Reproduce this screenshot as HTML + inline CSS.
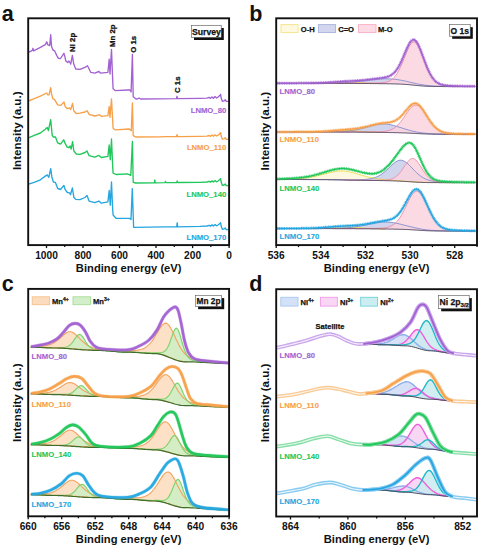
<!DOCTYPE html>
<html><head><meta charset="utf-8"><title>XPS</title>
<style>html,body{margin:0;padding:0;background:#fff;width:484px;height:550px;overflow:hidden}svg{display:block}svg text{font-family:"Liberation Sans",sans-serif}</style>
</head><body>
<svg width="484" height="550" viewBox="0 0 484 550">
<rect width="484" height="550" fill="#fff"/>
<text x="1.8" y="20.8" font-size="21.5" text-anchor="start" font-family="Liberation Sans, sans-serif" font-weight="bold" fill="#111" stroke="#111" stroke-width="0" >a</text>
<text x="249.2" y="20.6" font-size="21.5" text-anchor="start" font-family="Liberation Sans, sans-serif" font-weight="bold" fill="#111" stroke="#111" stroke-width="0" >b</text>
<text x="1.8" y="290.8" font-size="21.5" text-anchor="start" font-family="Liberation Sans, sans-serif" font-weight="bold" fill="#111" stroke="#111" stroke-width="0" >c</text>
<text x="249.2" y="290.8" font-size="21.5" text-anchor="start" font-family="Liberation Sans, sans-serif" font-weight="bold" fill="#111" stroke="#111" stroke-width="0" >d</text>
<path d="M28.5,52.3 L32.3,50.4 L33,48.3 L33.6,50.8 L40.4,47.3 L45.3,44.6 L46.8,41.8 L47.8,44.9 L49.7,45.5 L50.7,34.7 L51.5,46.1 L52.8,49.8 L54.6,50.8 L56.7,55.4 L58.4,58.3 L60.5,58.5 L63.9,53.3 L64.9,56.6 L65.8,61 L67.7,62.5 L68.9,61 L69.9,62.5 L70.7,64.1 L72.4,55.4 L73.6,63.5 L75.7,69 L80,69.4 L85,67.4 L87.5,65.8 L89.1,69 L90.7,72.3 L94.8,73.1 L98.9,71.5 L100.5,73.1 L107.9,72.3 L109.2,59.2 L110,74 L111.5,49.4 L112.5,75.6 L113.1,88.7 L115.2,90.6 L127.5,90 L130,90 L131.1,92 L132.4,54.3 L133.2,96.8 L136,99 L137.3,99 L139,98 L140.5,99 L160,98.8 L176.4,98.7 L177,96.3 L177.6,98.7 L200,98.4 L207,98.2 L209,97.4 L210.5,98.3 L212,96.9 L213.4,98.2 L215,96.6 L216.5,98 L218,97.1 L219.5,95.8 L220.6,94.4 L221.3,98.6 L222.4,101.3 L224,100.9 L225.2,99.7 L226.3,101.3 L228.5,101.3" fill="none" stroke="#a262d2" stroke-width="1.35" stroke-linejoin="round"/>
<path d="M28.5,101 L33,99.2 L40.4,96.1 L46.6,93 L47.8,94.9 L49,94.9 L50.7,87.7 L51.5,93.6 L52.8,98.6 L54.6,99.6 L57.7,104.8 L60.8,105.4 L64,102 L65.2,106.6 L67.4,108.7 L69.5,107.9 L70.7,109.5 L72.6,103.5 L73.8,111 L76.3,113.5 L80,113.2 L85,112 L87,110.7 L89.1,114.3 L94.8,116 L99.4,114.8 L101.3,116.3 L107.9,115.6 L109.2,106.5 L110,117.3 L111.5,98.8 L112.5,117.6 L113.1,128.2 L115.2,129.9 L129.1,129 L131.3,130.7 L132.4,102.9 L133.2,135.6 L135.7,137 L160,136.9 L165,136.6 L176.4,136.7 L177,134.6 L177.6,136.7 L200,136.4 L207,136.2 L209,135.5 L210.5,136.3 L212,135 L213.4,136.2 L215,134.8 L216.5,136 L218,135.2 L219.5,134 L220.6,132.6 L221.3,136.6 L222.4,139.2 L224,138.8 L225.2,137.8 L226.3,139.3 L228.5,139.3" fill="none" stroke="#f7a04a" stroke-width="1.35" stroke-linejoin="round"/>
<path d="M28.5,137.9 L34.2,135.4 L40.4,133 L45.3,129.3 L47.2,127.4 L48.4,130.5 L50.7,119.7 L52.2,135.4 L53.4,137 L55.5,137 L57.7,142.9 L60.5,144.1 L63.7,139.8 L64.9,142.9 L67,147 L68.9,147.5 L70.1,146 L71.1,149.1 L72.6,141.6 L73.8,150.9 L76.3,154 L80,154.4 L85,152.5 L87,151 L89.1,155.7 L94.8,157.2 L98.9,155.4 L101.3,157.5 L107.9,156.3 L109.2,145 L110.3,159.7 L111.5,139 L112.5,162.7 L113.1,173.2 L116,174.5 L127.5,173.9 L130.8,175.4 L132.4,141.4 L133.2,182.3 L135.7,183 L154.4,182.8 L154.8,180 L155.3,182.8 L165,182.6 L165.4,181.4 L165.9,182.6 L176.7,182.5 L177.2,181 L177.7,182.5 L200,182.3 L207,182 L209,181.3 L210.5,182.1 L212,180.9 L213.4,182 L215,180.6 L216.5,181.8 L218,181 L219.5,179.8 L220.6,178.6 L221.3,182.6 L222.4,185.4 L224,185 L225.2,184 L226.3,185.6 L228.5,185.6" fill="none" stroke="#20c75a" stroke-width="1.35" stroke-linejoin="round"/>
<path d="M28.5,184.2 L34.2,182.3 L40.4,179.8 L45.3,176.1 L47.2,174.9 L48.8,177.3 L50.7,168.7 L51.8,176.7 L53.4,182 L55.3,182.3 L57.7,188.5 L60.5,189.5 L63.9,185.4 L65.2,189.7 L67.4,192.5 L69.5,192.8 L70.5,194.7 L72.4,187.9 L73.8,197.2 L75.7,199.4 L80,199.7 L85,197.5 L87,195.4 L89.1,201.1 L94.8,202.7 L98.9,201.1 L101.3,203.2 L107.9,201.9 L109.2,190.5 L110.3,205.2 L111.5,182 L112.5,206 L113.1,215 L116,218.3 L129.8,218.4 L131,219.5 L132.3,188.6 L133.6,227.3 L150,227.2 L165,226.9 L176.7,226.8 L177.2,222.8 L177.7,226.8 L200,226.4 L207,226 L209,225.3 L210.5,226.1 L212,224.9 L213.4,226 L215,224.6 L216.5,225.8 L218,225 L219.5,223.8 L220.6,222.8 L221.3,226.6 L222.4,229.3 L224,228.9 L225.2,228 L226.3,229.6 L228.5,229.6" fill="none" stroke="#25a6e0" stroke-width="1.35" stroke-linejoin="round"/>
<text transform="translate(75.3,51.9) rotate(-90)" font-size="7.8" text-anchor="start" font-family="Liberation Sans, sans-serif" font-weight="bold" fill="#111" stroke="#111" stroke-width="0.25">Ni 2p</text>
<text transform="translate(114.5,46.9) rotate(-90)" font-size="7.8" text-anchor="start" font-family="Liberation Sans, sans-serif" font-weight="bold" fill="#111" stroke="#111" stroke-width="0.25">Mn 2p</text>
<text transform="translate(136,52.7) rotate(-90)" font-size="7.8" text-anchor="start" font-family="Liberation Sans, sans-serif" font-weight="bold" fill="#111" stroke="#111" stroke-width="0.25">O 1s</text>
<text transform="translate(180,93) rotate(-90)" font-size="7.8" text-anchor="start" font-family="Liberation Sans, sans-serif" font-weight="bold" fill="#111" stroke="#111" stroke-width="0.25">C 1s</text>
<text x="226.2" y="112.8" font-size="7.7" text-anchor="end" font-family="Liberation Sans, sans-serif" font-weight="bold" fill="#a262d2" stroke="#a262d2" stroke-width="0.1" >LNMO_80</text>
<text x="226.2" y="149.6" font-size="7.7" text-anchor="end" font-family="Liberation Sans, sans-serif" font-weight="bold" fill="#f7a04a" stroke="#f7a04a" stroke-width="0.1" >LNMO_110</text>
<text x="226.2" y="197.4" font-size="7.7" text-anchor="end" font-family="Liberation Sans, sans-serif" font-weight="bold" fill="#20c75a" stroke="#20c75a" stroke-width="0.1" >LNMO_140</text>
<text x="226.2" y="240.2" font-size="7.7" text-anchor="end" font-family="Liberation Sans, sans-serif" font-weight="bold" fill="#25a6e0" stroke="#25a6e0" stroke-width="0.1" >LNMO_170</text>
<rect x="194" y="28" width="29.8" height="12" fill="#111"/>
<rect x="191.4" y="25.4" width="29.8" height="12" fill="#fff" stroke="#555" stroke-width="0.6"/>

<text x="206.4" y="34.7" font-size="8.7" text-anchor="middle" font-family="Liberation Sans, sans-serif" font-weight="bold" fill="#111" stroke="#111" stroke-width="0.25" >Survey</text>
<rect x="28.2" y="18.3" width="200.9" height="226.8" fill="none" stroke="#111" stroke-width="1.9"/>
<line x1="46.5" y1="245.1" x2="46.5" y2="248.1" stroke="#111" stroke-width="1.3"/>
<line x1="83" y1="245.1" x2="83" y2="248.1" stroke="#111" stroke-width="1.3"/>
<line x1="119.5" y1="245.1" x2="119.5" y2="248.1" stroke="#111" stroke-width="1.3"/>
<line x1="156" y1="245.1" x2="156" y2="248.1" stroke="#111" stroke-width="1.3"/>
<line x1="192.6" y1="245.1" x2="192.6" y2="248.1" stroke="#111" stroke-width="1.3"/>
<line x1="229.1" y1="245.1" x2="229.1" y2="248.1" stroke="#111" stroke-width="1.3"/>
<line x1="64.7" y1="245.1" x2="64.7" y2="247.1" stroke="#111" stroke-width="1.3"/>
<line x1="101.3" y1="245.1" x2="101.3" y2="247.1" stroke="#111" stroke-width="1.3"/>
<line x1="137.8" y1="245.1" x2="137.8" y2="247.1" stroke="#111" stroke-width="1.3"/>
<line x1="174.3" y1="245.1" x2="174.3" y2="247.1" stroke="#111" stroke-width="1.3"/>
<line x1="210.8" y1="245.1" x2="210.8" y2="247.1" stroke="#111" stroke-width="1.3"/>
<text x="46.5" y="258.7" font-size="10.2" text-anchor="middle" font-family="Liberation Sans, sans-serif" font-weight="bold" fill="#111">1000</text>
<text x="83" y="258.7" font-size="10.2" text-anchor="middle" font-family="Liberation Sans, sans-serif" font-weight="bold" fill="#111">800</text>
<text x="119.5" y="258.7" font-size="10.2" text-anchor="middle" font-family="Liberation Sans, sans-serif" font-weight="bold" fill="#111">600</text>
<text x="156" y="258.7" font-size="10.2" text-anchor="middle" font-family="Liberation Sans, sans-serif" font-weight="bold" fill="#111">400</text>
<text x="192.6" y="258.7" font-size="10.2" text-anchor="middle" font-family="Liberation Sans, sans-serif" font-weight="bold" fill="#111">200</text>
<text x="229.1" y="258.7" font-size="10.2" text-anchor="middle" font-family="Liberation Sans, sans-serif" font-weight="bold" fill="#111">0</text>
<text x="128.7" y="272.1" font-size="11.2" text-anchor="middle" font-family="Liberation Sans, sans-serif" font-weight="bold" fill="#111" stroke="#111" stroke-width="0" >Binding energy (eV)</text>
<text transform="translate(20.8,130.8) rotate(-90)" font-size="11.6" text-anchor="middle" font-family="Liberation Sans, sans-serif" font-weight="bold" fill="#111" stroke="#111" stroke-width="0">Intensity (a.u.)</text>
<path d="M310,83.2 L311,83.2 L312,83.2 L313,83.2 L314,83.2 L315,83.2 L316,83.2 L317,83.1 L318,83.1 L319,83.1 L320,83.1 L321,83 L322,83 L323,83 L324,82.9 L325,82.9 L326,82.9 L327,82.8 L328,82.8 L329,82.7 L330,82.7 L331,82.6 L332,82.6 L333,82.5 L334,82.5 L335,82.4 L336,82.4 L337,82.4 L338,82.3 L339,82.3 L340,82.2 L341,82.2 L342,82.2 L343,82.2 L344,82.2 L345,82.2 L346,82.2 L347,82.2 L348,82.2 L349,82.3 L350,82.3 L351,82.3 L352,82.4 L353,82.4 L354,82.5 L355,82.5 L356,82.6 L357,82.7 L358,82.7 L359,82.8 L360,82.8 L361,82.9 L362,82.9 L363,83 L364,83 L365,83.1 L366,83.1 L367,83.2 L368,83.2 L369,83.3 L370,83.3 L371,83.3 L372,83.4 L373,83.4 L374,83.4 L375,83.5 L376,83.5 L377,83.5 L378,83.5 L379,83.6 L380,83.6 L380,83.7 L379,83.7 L378,83.6 L377,83.6 L376,83.6 L375,83.6 L374,83.6 L373,83.6 L372,83.6 L371,83.6 L370,83.6 L369,83.5 L368,83.5 L367,83.5 L366,83.5 L365,83.5 L364,83.5 L363,83.5 L362,83.5 L361,83.5 L360,83.5 L359,83.5 L358,83.5 L357,83.5 L356,83.4 L355,83.4 L354,83.4 L353,83.4 L352,83.4 L351,83.4 L350,83.4 L349,83.4 L348,83.4 L347,83.4 L346,83.4 L345,83.4 L344,83.4 L343,83.4 L342,83.4 L341,83.4 L340,83.4 L339,83.4 L338,83.4 L337,83.4 L336,83.4 L335,83.3 L334,83.3 L333,83.3 L332,83.3 L331,83.3 L330,83.3 L329,83.3 L328,83.3 L327,83.3 L326,83.3 L325,83.3 L324,83.3 L323,83.3 L322,83.3 L321,83.3 L320,83.3 L319,83.3 L318,83.3 L317,83.3 L316,83.3 L315,83.3 L314,83.3 L313,83.3 L312,83.3 L311,83.3 L310,83.3 Z" fill="#fdf8dc" fill-opacity="0.85" stroke="none"/>
<path d="M304,83.2 L305,83.2 L306,83.2 L307,83.2 L308,83.2 L309,83.2 L310,83.2 L311,83.2 L312,83.2 L313,83.2 L314,83.2 L315,83.2 L316,83.2 L317,83.2 L318,83.2 L319,83.2 L320,83.2 L321,83.2 L322,83.2 L323,83.2 L324,83.2 L325,83.2 L326,83.1 L327,83.1 L328,83.1 L329,83.1 L330,83.1 L331,83.1 L332,83.1 L333,83.1 L334,83 L335,83 L336,83 L337,83 L338,82.9 L339,82.9 L340,82.9 L341,82.8 L342,82.8 L343,82.8 L344,82.7 L345,82.7 L346,82.6 L347,82.5 L348,82.5 L349,82.4 L350,82.3 L351,82.3 L352,82.2 L353,82.1 L354,82 L355,81.9 L356,81.8 L357,81.7 L358,81.6 L359,81.5 L360,81.4 L361,81.2 L362,81.1 L363,81 L364,80.9 L365,80.7 L366,80.6 L367,80.5 L368,80.3 L369,80.2 L370,80.1 L371,79.9 L372,79.8 L373,79.7 L374,79.6 L375,79.4 L376,79.3 L377,79.2 L378,79.1 L379,79 L380,79 L381,78.9 L382,78.8 L383,78.8 L384,78.8 L385,78.8 L386,78.8 L387,78.8 L388,78.8 L389,78.8 L390,78.9 L391,78.9 L392,79 L393,79.1 L394,79.2 L395,79.3 L396,79.4 L397,79.6 L398,79.7 L399,79.9 L400,80.1 L401,80.2 L402,80.4 L403,80.6 L404,80.8 L405,81 L406,81.2 L407,81.5 L408,81.7 L409,81.9 L410,82.2 L411,82.4 L412,82.6 L413,82.9 L414,83.1 L415,83.3 L416,83.5 L417,83.8 L418,84 L419,84.2 L420,84.4 L421,84.5 L422,84.7 L423,84.9 L424,85 L425,85.2 L426,85.3 L427,85.4 L428,85.5 L429,85.6 L430,85.7 L431,85.8 L432,85.9 L433,85.9 L434,86 L435,86 L436,86.1 L437,86.1 L438,86.2 L439,86.2 L440,86.2 L441,86.3 L442,86.3 L443,86.3 L444,86.3 L445,86.3 L446,86.4 L447,86.4 L448,86.4 L449,86.4 L450,86.4 L451,86.4 L452,86.4 L453,86.4 L454,86.4 L455,86.5 L456,86.5 L457,86.5 L458,86.5 L459,86.5 L460,86.5 L461,86.5 L462,86.5 L463,86.5 L464,86.5 L465,86.5 L466,86.5 L467,86.5 L468,86.5 L469,86.5 L470,86.5 L470,86.6 L469,86.6 L468,86.6 L467,86.6 L466,86.6 L465,86.6 L464,86.6 L463,86.6 L462,86.6 L461,86.6 L460,86.6 L459,86.6 L458,86.6 L457,86.6 L456,86.6 L455,86.6 L454,86.6 L453,86.6 L452,86.6 L451,86.6 L450,86.6 L449,86.6 L448,86.6 L447,86.6 L446,86.6 L445,86.6 L444,86.6 L443,86.6 L442,86.5 L441,86.5 L440,86.5 L439,86.5 L438,86.5 L437,86.5 L436,86.5 L435,86.5 L434,86.5 L433,86.5 L432,86.4 L431,86.4 L430,86.4 L429,86.3 L428,86.3 L427,86.3 L426,86.2 L425,86.2 L424,86.1 L423,86 L422,86 L421,85.9 L420,85.8 L419,85.7 L418,85.6 L417,85.5 L416,85.4 L415,85.3 L414,85.2 L413,85.1 L412,85 L411,84.9 L410,84.8 L409,84.7 L408,84.6 L407,84.5 L406,84.4 L405,84.4 L404,84.3 L403,84.2 L402,84.2 L401,84.1 L400,84.1 L399,84.1 L398,84 L397,84 L396,83.9 L395,83.9 L394,83.9 L393,83.9 L392,83.8 L391,83.8 L390,83.8 L389,83.8 L388,83.8 L387,83.8 L386,83.7 L385,83.7 L384,83.7 L383,83.7 L382,83.7 L381,83.7 L380,83.7 L379,83.7 L378,83.6 L377,83.6 L376,83.6 L375,83.6 L374,83.6 L373,83.6 L372,83.6 L371,83.6 L370,83.6 L369,83.5 L368,83.5 L367,83.5 L366,83.5 L365,83.5 L364,83.5 L363,83.5 L362,83.5 L361,83.5 L360,83.5 L359,83.5 L358,83.5 L357,83.5 L356,83.4 L355,83.4 L354,83.4 L353,83.4 L352,83.4 L351,83.4 L350,83.4 L349,83.4 L348,83.4 L347,83.4 L346,83.4 L345,83.4 L344,83.4 L343,83.4 L342,83.4 L341,83.4 L340,83.4 L339,83.4 L338,83.4 L337,83.4 L336,83.4 L335,83.3 L334,83.3 L333,83.3 L332,83.3 L331,83.3 L330,83.3 L329,83.3 L328,83.3 L327,83.3 L326,83.3 L325,83.3 L324,83.3 L323,83.3 L322,83.3 L321,83.3 L320,83.3 L319,83.3 L318,83.3 L317,83.3 L316,83.3 L315,83.3 L314,83.3 L313,83.3 L312,83.3 L311,83.3 L310,83.3 L309,83.3 L308,83.3 L307,83.3 L306,83.3 L305,83.3 L304,83.3 Z" fill="#c8cde9" fill-opacity="0.85" stroke="none"/>
<path d="M310,83.2 L311,83.2 L312,83.2 L313,83.2 L314,83.2 L315,83.2 L316,83.2 L317,83.2 L318,83.2 L319,83.2 L320,83.2 L321,83.2 L322,83.2 L323,83.2 L324,83.2 L325,83.2 L326,83.2 L327,83.2 L328,83.2 L329,83.2 L330,83.2 L331,83.2 L332,83.2 L333,83.2 L334,83.2 L335,83.2 L336,83.2 L337,83.2 L338,83.2 L339,83.2 L340,83.2 L341,83.2 L342,83.2 L343,83.2 L344,83.2 L345,83.2 L346,83.2 L347,83.2 L348,83.2 L349,83.2 L350,83.2 L351,83.2 L352,83.2 L353,83.2 L354,83.2 L355,83.2 L356,83.2 L357,83.2 L358,83.2 L359,83.2 L360,83.2 L361,83.2 L362,83.2 L363,83.2 L364,83.2 L365,83.2 L366,83.2 L367,83.2 L368,83.1 L369,83.1 L370,83.1 L371,83.1 L372,83.1 L373,83.1 L374,83.1 L375,83.1 L376,83 L377,83 L378,83 L379,82.9 L380,82.9 L381,82.8 L382,82.7 L383,82.6 L384,82.5 L385,82.4 L386,82.1 L387,81.9 L388,81.6 L389,81.2 L390,80.7 L391,80.1 L392,79.4 L393,78.6 L394,77.6 L395,76.4 L396,75.1 L397,73.6 L398,71.9 L399,70.1 L400,68 L401,65.8 L402,63.5 L403,61.1 L404,58.6 L405,56.1 L406,53.6 L407,51.2 L408,48.9 L409,46.9 L410,45.1 L411,43.7 L412,42.6 L413,42 L414,41.9 L415,42.2 L416,43 L417,44.3 L418,45.9 L419,47.9 L420,50.1 L421,52.5 L422,55.1 L423,57.7 L424,60.4 L425,63 L426,65.5 L427,68 L428,70.3 L429,72.4 L430,74.3 L431,76 L432,77.6 L433,79 L434,80.1 L435,81.2 L436,82 L437,82.8 L438,83.4 L439,83.9 L440,84.3 L441,84.7 L442,84.9 L443,85.2 L444,85.4 L445,85.5 L446,85.6 L447,85.7 L448,85.8 L449,85.9 L450,85.9 L451,86 L452,86 L453,86 L454,86.1 L455,86.1 L456,86.1 L457,86.1 L458,86.2 L459,86.2 L460,86.2 L461,86.2 L462,86.2 L463,86.2 L464,86.3 L465,86.3 L466,86.3 L467,86.3 L468,86.3 L469,86.3 L470,86.3 L471,86.3 L472,86.3 L473,86.4 L474,86.4 L475,86.4 L476,86.4 L476,86.6 L475,86.6 L474,86.6 L473,86.6 L472,86.6 L471,86.6 L470,86.6 L469,86.6 L468,86.6 L467,86.6 L466,86.6 L465,86.6 L464,86.6 L463,86.6 L462,86.6 L461,86.6 L460,86.6 L459,86.6 L458,86.6 L457,86.6 L456,86.6 L455,86.6 L454,86.6 L453,86.6 L452,86.6 L451,86.6 L450,86.6 L449,86.6 L448,86.6 L447,86.6 L446,86.6 L445,86.6 L444,86.6 L443,86.6 L442,86.5 L441,86.5 L440,86.5 L439,86.5 L438,86.5 L437,86.5 L436,86.5 L435,86.5 L434,86.5 L433,86.5 L432,86.4 L431,86.4 L430,86.4 L429,86.3 L428,86.3 L427,86.3 L426,86.2 L425,86.2 L424,86.1 L423,86 L422,86 L421,85.9 L420,85.8 L419,85.7 L418,85.6 L417,85.5 L416,85.4 L415,85.3 L414,85.2 L413,85.1 L412,85 L411,84.9 L410,84.8 L409,84.7 L408,84.6 L407,84.5 L406,84.4 L405,84.4 L404,84.3 L403,84.2 L402,84.2 L401,84.1 L400,84.1 L399,84.1 L398,84 L397,84 L396,83.9 L395,83.9 L394,83.9 L393,83.9 L392,83.8 L391,83.8 L390,83.8 L389,83.8 L388,83.8 L387,83.8 L386,83.7 L385,83.7 L384,83.7 L383,83.7 L382,83.7 L381,83.7 L380,83.7 L379,83.7 L378,83.6 L377,83.6 L376,83.6 L375,83.6 L374,83.6 L373,83.6 L372,83.6 L371,83.6 L370,83.6 L369,83.5 L368,83.5 L367,83.5 L366,83.5 L365,83.5 L364,83.5 L363,83.5 L362,83.5 L361,83.5 L360,83.5 L359,83.5 L358,83.5 L357,83.5 L356,83.4 L355,83.4 L354,83.4 L353,83.4 L352,83.4 L351,83.4 L350,83.4 L349,83.4 L348,83.4 L347,83.4 L346,83.4 L345,83.4 L344,83.4 L343,83.4 L342,83.4 L341,83.4 L340,83.4 L339,83.4 L338,83.4 L337,83.4 L336,83.4 L335,83.3 L334,83.3 L333,83.3 L332,83.3 L331,83.3 L330,83.3 L329,83.3 L328,83.3 L327,83.3 L326,83.3 L325,83.3 L324,83.3 L323,83.3 L322,83.3 L321,83.3 L320,83.3 L319,83.3 L318,83.3 L317,83.3 L316,83.3 L315,83.3 L314,83.3 L313,83.3 L312,83.3 L311,83.3 L310,83.3 Z" fill="#fbd3df" fill-opacity="0.85" stroke="none"/>
<path d="M310,83.2 L311,83.2 L312,83.2 L313,83.2 L314,83.2 L315,83.2 L316,83.2 L317,83.1 L318,83.1 L319,83.1 L320,83.1 L321,83 L322,83 L323,83 L324,82.9 L325,82.9 L326,82.9 L327,82.8 L328,82.8 L329,82.7 L330,82.7 L331,82.6 L332,82.6 L333,82.5 L334,82.5 L335,82.4 L336,82.4 L337,82.4 L338,82.3 L339,82.3 L340,82.2 L341,82.2 L342,82.2 L343,82.2 L344,82.2 L345,82.2 L346,82.2 L347,82.2 L348,82.2 L349,82.3 L350,82.3 L351,82.3 L352,82.4 L353,82.4 L354,82.5 L355,82.5 L356,82.6 L357,82.7 L358,82.7 L359,82.8 L360,82.8 L361,82.9 L362,82.9 L363,83 L364,83 L365,83.1 L366,83.1 L367,83.2 L368,83.2 L369,83.3 L370,83.3 L371,83.3 L372,83.4 L373,83.4 L374,83.4 L375,83.5 L376,83.5 L377,83.5 L378,83.5 L379,83.6 L380,83.6" fill="none" stroke="#ecd83a" stroke-width="0.9"/>
<path d="M304,83.2 L305,83.2 L306,83.2 L307,83.2 L308,83.2 L309,83.2 L310,83.2 L311,83.2 L312,83.2 L313,83.2 L314,83.2 L315,83.2 L316,83.2 L317,83.2 L318,83.2 L319,83.2 L320,83.2 L321,83.2 L322,83.2 L323,83.2 L324,83.2 L325,83.2 L326,83.1 L327,83.1 L328,83.1 L329,83.1 L330,83.1 L331,83.1 L332,83.1 L333,83.1 L334,83 L335,83 L336,83 L337,83 L338,82.9 L339,82.9 L340,82.9 L341,82.8 L342,82.8 L343,82.8 L344,82.7 L345,82.7 L346,82.6 L347,82.5 L348,82.5 L349,82.4 L350,82.3 L351,82.3 L352,82.2 L353,82.1 L354,82 L355,81.9 L356,81.8 L357,81.7 L358,81.6 L359,81.5 L360,81.4 L361,81.2 L362,81.1 L363,81 L364,80.9 L365,80.7 L366,80.6 L367,80.5 L368,80.3 L369,80.2 L370,80.1 L371,79.9 L372,79.8 L373,79.7 L374,79.6 L375,79.4 L376,79.3 L377,79.2 L378,79.1 L379,79 L380,79 L381,78.9 L382,78.8 L383,78.8 L384,78.8 L385,78.8 L386,78.8 L387,78.8 L388,78.8 L389,78.8 L390,78.9 L391,78.9 L392,79 L393,79.1 L394,79.2 L395,79.3 L396,79.4 L397,79.6 L398,79.7 L399,79.9 L400,80.1 L401,80.2 L402,80.4 L403,80.6 L404,80.8 L405,81 L406,81.2 L407,81.5 L408,81.7 L409,81.9 L410,82.2 L411,82.4 L412,82.6 L413,82.9 L414,83.1 L415,83.3 L416,83.5 L417,83.8 L418,84 L419,84.2 L420,84.4 L421,84.5 L422,84.7 L423,84.9 L424,85 L425,85.2 L426,85.3 L427,85.4 L428,85.5 L429,85.6 L430,85.7 L431,85.8 L432,85.9 L433,85.9 L434,86 L435,86 L436,86.1 L437,86.1 L438,86.2 L439,86.2 L440,86.2 L441,86.3 L442,86.3 L443,86.3 L444,86.3 L445,86.3 L446,86.4 L447,86.4 L448,86.4 L449,86.4 L450,86.4 L451,86.4 L452,86.4 L453,86.4 L454,86.4 L455,86.5 L456,86.5 L457,86.5 L458,86.5 L459,86.5 L460,86.5 L461,86.5 L462,86.5 L463,86.5 L464,86.5 L465,86.5 L466,86.5 L467,86.5 L468,86.5 L469,86.5 L470,86.5" fill="none" stroke="#8490d0" stroke-width="0.9"/>
<path d="M310,83.2 L311,83.2 L312,83.2 L313,83.2 L314,83.2 L315,83.2 L316,83.2 L317,83.2 L318,83.2 L319,83.2 L320,83.2 L321,83.2 L322,83.2 L323,83.2 L324,83.2 L325,83.2 L326,83.2 L327,83.2 L328,83.2 L329,83.2 L330,83.2 L331,83.2 L332,83.2 L333,83.2 L334,83.2 L335,83.2 L336,83.2 L337,83.2 L338,83.2 L339,83.2 L340,83.2 L341,83.2 L342,83.2 L343,83.2 L344,83.2 L345,83.2 L346,83.2 L347,83.2 L348,83.2 L349,83.2 L350,83.2 L351,83.2 L352,83.2 L353,83.2 L354,83.2 L355,83.2 L356,83.2 L357,83.2 L358,83.2 L359,83.2 L360,83.2 L361,83.2 L362,83.2 L363,83.2 L364,83.2 L365,83.2 L366,83.2 L367,83.2 L368,83.1 L369,83.1 L370,83.1 L371,83.1 L372,83.1 L373,83.1 L374,83.1 L375,83.1 L376,83 L377,83 L378,83 L379,82.9 L380,82.9 L381,82.8 L382,82.7 L383,82.6 L384,82.5 L385,82.4 L386,82.1 L387,81.9 L388,81.6 L389,81.2 L390,80.7 L391,80.1 L392,79.4 L393,78.6 L394,77.6 L395,76.4 L396,75.1 L397,73.6 L398,71.9 L399,70.1 L400,68 L401,65.8 L402,63.5 L403,61.1 L404,58.6 L405,56.1 L406,53.6 L407,51.2 L408,48.9 L409,46.9 L410,45.1 L411,43.7 L412,42.6 L413,42 L414,41.9 L415,42.2 L416,43 L417,44.3 L418,45.9 L419,47.9 L420,50.1 L421,52.5 L422,55.1 L423,57.7 L424,60.4 L425,63 L426,65.5 L427,68 L428,70.3 L429,72.4 L430,74.3 L431,76 L432,77.6 L433,79 L434,80.1 L435,81.2 L436,82 L437,82.8 L438,83.4 L439,83.9 L440,84.3 L441,84.7 L442,84.9 L443,85.2 L444,85.4 L445,85.5 L446,85.6 L447,85.7 L448,85.8 L449,85.9 L450,85.9 L451,86 L452,86 L453,86 L454,86.1 L455,86.1 L456,86.1 L457,86.1 L458,86.2 L459,86.2 L460,86.2 L461,86.2 L462,86.2 L463,86.2 L464,86.3 L465,86.3 L466,86.3 L467,86.3 L468,86.3 L469,86.3 L470,86.3 L471,86.3 L472,86.3 L473,86.4 L474,86.4 L475,86.4 L476,86.4" fill="none" stroke="#f08aa8" stroke-width="0.9"/>
<path d="M277.2,83.3 L278.2,83.3 L279.2,83.3 L280.2,83.3 L281.2,83.3 L282.2,83.3 L283.2,83.3 L284.2,83.3 L285.2,83.3 L286.2,83.3 L287.2,83.3 L288.2,83.3 L289.2,83.3 L290.2,83.3 L291.2,83.3 L292.2,83.3 L293.2,83.3 L294.2,83.3 L295.2,83.3 L296.2,83.3 L297.2,83.3 L298.2,83.3 L299.2,83.3 L300.2,83.3 L301.2,83.3 L302.2,83.3 L303.2,83.3 L304.2,83.3 L305.2,83.3 L306.2,83.3 L307.2,83.3 L308.2,83.3 L309.2,83.3 L310.2,83.3 L311.2,83.3 L312.2,83.3 L313.2,83.3 L314.2,83.3 L315.2,83.3 L316.2,83.3 L317.2,83.3 L318.2,83.3 L319.2,83.3 L320.2,83.3 L321.2,83.3 L322.2,83.3 L323.2,83.3 L324.2,83.3 L325.2,83.3 L326.2,83.3 L327.2,83.3 L328.2,83.3 L329.2,83.3 L330.2,83.3 L331.2,83.3 L332.2,83.3 L333.2,83.3 L334.2,83.3 L335.2,83.3 L336.2,83.4 L337.2,83.4 L338.2,83.4 L339.2,83.4 L340.2,83.4 L341.2,83.4 L342.2,83.4 L343.2,83.4 L344.2,83.4 L345.2,83.4 L346.2,83.4 L347.2,83.4 L348.2,83.4 L349.2,83.4 L350.2,83.4 L351.2,83.4 L352.2,83.4 L353.2,83.4 L354.2,83.4 L355.2,83.4 L356.2,83.4 L357.2,83.5 L358.2,83.5 L359.2,83.5 L360.2,83.5 L361.2,83.5 L362.2,83.5 L363.2,83.5 L364.2,83.5 L365.2,83.5 L366.2,83.5 L367.2,83.5 L368.2,83.5 L369.2,83.5 L370.2,83.6 L371.2,83.6 L372.2,83.6 L373.2,83.6 L374.2,83.6 L375.2,83.6 L376.2,83.6 L377.2,83.6 L378.2,83.6 L379.2,83.7 L380.2,83.7 L381.2,83.7 L382.2,83.7 L383.2,83.7 L384.2,83.7 L385.2,83.7 L386.2,83.7 L387.2,83.8 L388.2,83.8 L389.2,83.8 L390.2,83.8 L391.2,83.8 L392.2,83.9 L393.2,83.9 L394.2,83.9 L395.2,83.9 L396.2,84 L397.2,84 L398.2,84 L399.2,84.1 L400.2,84.1 L401.2,84.1 L402.2,84.2 L403.2,84.3 L404.2,84.3 L405.2,84.4 L406.2,84.5 L407.2,84.5 L408.2,84.6 L409.2,84.7 L410.2,84.8 L411.2,84.9 L412.2,85 L413.2,85.1 L414.2,85.2 L415.2,85.3 L416.2,85.4 L417.2,85.5 L418.2,85.6 L419.2,85.7 L420.2,85.8 L421.2,85.9 L422.2,86 L423.2,86 L424.2,86.1 L425.2,86.2 L426.2,86.2 L427.2,86.3 L428.2,86.3 L429.2,86.4 L430.2,86.4 L431.2,86.4 L432.2,86.4 L433.2,86.5 L434.2,86.5 L435.2,86.5 L436.2,86.5 L437.2,86.5 L438.2,86.5 L439.2,86.5 L440.2,86.5 L441.2,86.5 L442.2,86.5 L443.2,86.6 L444.2,86.6 L445.2,86.6 L446.2,86.6 L447.2,86.6 L448.2,86.6 L449.2,86.6 L450.2,86.6 L451.2,86.6 L452.2,86.6 L453.2,86.6 L454.2,86.6 L455.2,86.6 L456.2,86.6 L457.2,86.6 L458.2,86.6 L459.2,86.6 L460.2,86.6 L461.2,86.6 L462.2,86.6 L463.2,86.6 L464.2,86.6 L465.2,86.6 L466.2,86.6 L467.2,86.6 L468.2,86.6 L469.2,86.6 L470.2,86.6 L471.2,86.6 L472.2,86.6 L473.2,86.6 L474.2,86.6 L475.2,86.6" fill="none" stroke="#5a4d68" stroke-width="1.0"/>
<path d="M277.2,83.2 L278.2,83.2 L279.2,83.2 L280.2,83.2 L281.2,83.2 L282.2,83.2 L283.2,83.2 L284.2,83.2 L285.2,83.2 L286.2,83.2 L287.2,83.2 L288.2,83.2 L289.2,83.2 L290.2,83.2 L291.2,83.2 L292.2,83.2 L293.2,83.2 L294.2,83.2 L295.2,83.2 L296.2,83.2 L297.2,83.1 L298.2,83.1 L299.2,83.1 L300.2,83.1 L301.2,83.1 L302.2,83.1 L303.2,83.1 L304.2,83.1 L305.2,83.1 L306.2,83.1 L307.2,83.1 L308.2,83.1 L309.2,83.1 L310.2,83.1 L311.2,83 L312.2,83 L313.2,83 L314.2,83 L315.2,83 L316.2,83 L317.2,82.9 L318.2,82.9 L319.2,82.9 L320.2,82.8 L321.2,82.8 L322.2,82.8 L323.2,82.7 L324.2,82.7 L325.2,82.6 L326.2,82.6 L327.2,82.5 L328.2,82.4 L329.2,82.4 L330.2,82.3 L331.2,82.3 L332.2,82.2 L333.2,82.1 L334.2,82 L335.2,82 L336.2,81.9 L337.2,81.8 L338.2,81.7 L339.2,81.7 L340.2,81.6 L341.2,81.5 L342.2,81.5 L343.2,81.4 L344.2,81.3 L345.2,81.3 L346.2,81.2 L347.2,81.2 L348.2,81.1 L349.2,81.1 L350.2,81 L351.2,81 L352.2,80.9 L353.2,80.9 L354.2,80.8 L355.2,80.8 L356.2,80.7 L357.2,80.6 L358.2,80.6 L359.2,80.5 L360.2,80.4 L361.2,80.3 L362.2,80.2 L363.2,80.2 L364.2,80.1 L365.2,79.9 L366.2,79.8 L367.2,79.7 L368.2,79.6 L369.2,79.5 L370.2,79.4 L371.2,79.2 L372.2,79.1 L373.2,79 L374.2,78.9 L375.2,78.7 L376.2,78.6 L377.2,78.5 L378.2,78.4 L379.2,78.2 L380.2,78.1 L381.2,78 L382.2,77.8 L383.2,77.7 L384.2,77.5 L385.2,77.3 L386.2,77.1 L387.2,76.8 L388.2,76.5 L389.2,76.1 L390.2,75.6 L391.2,75.1 L392.2,74.4 L393.2,73.6 L394.2,72.7 L395.2,71.6 L396.2,70.3 L397.2,68.9 L398.2,67.3 L399.2,65.5 L400.2,63.6 L401.2,61.5 L402.2,59.3 L403.2,57 L404.2,54.6 L405.2,52.2 L406.2,49.9 L407.2,47.7 L408.2,45.6 L409.2,43.7 L410.2,42.2 L411.2,40.9 L412.2,40.1 L413.2,39.7 L414.2,39.8 L415.2,40.4 L416.2,41.4 L417.2,42.8 L418.2,44.6 L419.2,46.8 L420.2,49.1 L421.2,51.7 L422.2,54.4 L423.2,57.1 L424.2,59.8 L425.2,62.5 L426.2,65.1 L427.2,67.6 L428.2,69.9 L429.2,72 L430.2,74 L431.2,75.7 L432.2,77.3 L433.2,78.7 L434.2,79.9 L435.2,80.9 L436.2,81.8 L437.2,82.5 L438.2,83.2 L439.2,83.7 L440.2,84.1 L441.2,84.4 L442.2,84.7 L443.2,85 L444.2,85.2 L445.2,85.3 L446.2,85.4 L447.2,85.5 L448.2,85.6 L449.2,85.7 L450.2,85.8 L451.2,85.8 L452.2,85.9 L453.2,85.9 L454.2,85.9 L455.2,86 L456.2,86 L457.2,86 L458.2,86 L459.2,86.1 L460.2,86.1 L461.2,86.1 L462.2,86.1 L463.2,86.1 L464.2,86.2 L465.2,86.2 L466.2,86.2 L467.2,86.2 L468.2,86.2 L469.2,86.2 L470.2,86.2 L471.2,86.3 L472.2,86.3 L473.2,86.3 L474.2,86.3 L475.2,86.3" fill="none" stroke="#a262d2" stroke-width="3" stroke-dasharray="1.1 0.6" stroke-opacity="0.75"/>
<path d="M277.2,83.2 L278.2,83.2 L279.2,83.2 L280.2,83.2 L281.2,83.2 L282.2,83.2 L283.2,83.2 L284.2,83.2 L285.2,83.2 L286.2,83.2 L287.2,83.2 L288.2,83.2 L289.2,83.2 L290.2,83.2 L291.2,83.2 L292.2,83.2 L293.2,83.2 L294.2,83.2 L295.2,83.2 L296.2,83.2 L297.2,83.1 L298.2,83.1 L299.2,83.1 L300.2,83.1 L301.2,83.1 L302.2,83.1 L303.2,83.1 L304.2,83.1 L305.2,83.1 L306.2,83.1 L307.2,83.1 L308.2,83.1 L309.2,83.1 L310.2,83.1 L311.2,83 L312.2,83 L313.2,83 L314.2,83 L315.2,83 L316.2,83 L317.2,82.9 L318.2,82.9 L319.2,82.9 L320.2,82.8 L321.2,82.8 L322.2,82.8 L323.2,82.7 L324.2,82.7 L325.2,82.6 L326.2,82.6 L327.2,82.5 L328.2,82.4 L329.2,82.4 L330.2,82.3 L331.2,82.3 L332.2,82.2 L333.2,82.1 L334.2,82 L335.2,82 L336.2,81.9 L337.2,81.8 L338.2,81.7 L339.2,81.7 L340.2,81.6 L341.2,81.5 L342.2,81.5 L343.2,81.4 L344.2,81.3 L345.2,81.3 L346.2,81.2 L347.2,81.2 L348.2,81.1 L349.2,81.1 L350.2,81 L351.2,81 L352.2,80.9 L353.2,80.9 L354.2,80.8 L355.2,80.8 L356.2,80.7 L357.2,80.6 L358.2,80.6 L359.2,80.5 L360.2,80.4 L361.2,80.3 L362.2,80.2 L363.2,80.2 L364.2,80.1 L365.2,79.9 L366.2,79.8 L367.2,79.7 L368.2,79.6 L369.2,79.5 L370.2,79.4 L371.2,79.2 L372.2,79.1 L373.2,79 L374.2,78.9 L375.2,78.7 L376.2,78.6 L377.2,78.5 L378.2,78.4 L379.2,78.2 L380.2,78.1 L381.2,78 L382.2,77.8 L383.2,77.7 L384.2,77.5 L385.2,77.3 L386.2,77.1 L387.2,76.8 L388.2,76.5 L389.2,76.1 L390.2,75.6 L391.2,75.1 L392.2,74.4 L393.2,73.6 L394.2,72.7 L395.2,71.6 L396.2,70.3 L397.2,68.9 L398.2,67.3 L399.2,65.5 L400.2,63.6 L401.2,61.5 L402.2,59.3 L403.2,57 L404.2,54.6 L405.2,52.2 L406.2,49.9 L407.2,47.7 L408.2,45.6 L409.2,43.7 L410.2,42.2 L411.2,40.9 L412.2,40.1 L413.2,39.7 L414.2,39.8 L415.2,40.4 L416.2,41.4 L417.2,42.8 L418.2,44.6 L419.2,46.8 L420.2,49.1 L421.2,51.7 L422.2,54.4 L423.2,57.1 L424.2,59.8 L425.2,62.5 L426.2,65.1 L427.2,67.6 L428.2,69.9 L429.2,72 L430.2,74 L431.2,75.7 L432.2,77.3 L433.2,78.7 L434.2,79.9 L435.2,80.9 L436.2,81.8 L437.2,82.5 L438.2,83.2 L439.2,83.7 L440.2,84.1 L441.2,84.4 L442.2,84.7 L443.2,85 L444.2,85.2 L445.2,85.3 L446.2,85.4 L447.2,85.5 L448.2,85.6 L449.2,85.7 L450.2,85.8 L451.2,85.8 L452.2,85.9 L453.2,85.9 L454.2,85.9 L455.2,86 L456.2,86 L457.2,86 L458.2,86 L459.2,86.1 L460.2,86.1 L461.2,86.1 L462.2,86.1 L463.2,86.1 L464.2,86.2 L465.2,86.2 L466.2,86.2 L467.2,86.2 L468.2,86.2 L469.2,86.2 L470.2,86.2 L471.2,86.3 L472.2,86.3 L473.2,86.3 L474.2,86.3 L475.2,86.3" fill="none" stroke="#a262d2" stroke-width="1.4"/>
<path d="M308,131.9 L309,131.9 L310,131.9 L311,131.9 L312,131.9 L313,131.9 L314,131.9 L315,131.8 L316,131.8 L317,131.8 L318,131.8 L319,131.7 L320,131.7 L321,131.7 L322,131.6 L323,131.6 L324,131.5 L325,131.5 L326,131.4 L327,131.4 L328,131.3 L329,131.3 L330,131.2 L331,131.2 L332,131.1 L333,131 L334,131 L335,130.9 L336,130.9 L337,130.8 L338,130.7 L339,130.7 L340,130.7 L341,130.6 L342,130.6 L343,130.6 L344,130.6 L345,130.6 L346,130.6 L347,130.6 L348,130.6 L349,130.7 L350,130.7 L351,130.8 L352,130.8 L353,130.9 L354,130.9 L355,131 L356,131.1 L357,131.1 L358,131.2 L359,131.3 L360,131.4 L361,131.4 L362,131.5 L363,131.6 L364,131.6 L365,131.7 L366,131.7 L367,131.8 L368,131.9 L369,131.9 L370,132 L371,132 L372,132 L373,132.1 L374,132.1 L375,132.2 L376,132.2 L377,132.2 L378,132.2 L379,132.3 L380,132.3 L381,132.3 L382,132.4 L382,132.4 L381,132.4 L380,132.4 L379,132.4 L378,132.4 L377,132.4 L376,132.3 L375,132.3 L374,132.3 L373,132.3 L372,132.3 L371,132.3 L370,132.3 L369,132.2 L368,132.2 L367,132.2 L366,132.2 L365,132.2 L364,132.2 L363,132.2 L362,132.2 L361,132.2 L360,132.2 L359,132.2 L358,132.2 L357,132.1 L356,132.1 L355,132.1 L354,132.1 L353,132.1 L352,132.1 L351,132.1 L350,132.1 L349,132.1 L348,132.1 L347,132.1 L346,132.1 L345,132.1 L344,132.1 L343,132.1 L342,132.1 L341,132.1 L340,132.1 L339,132.1 L338,132.1 L337,132 L336,132 L335,132 L334,132 L333,132 L332,132 L331,132 L330,132 L329,132 L328,132 L327,132 L326,132 L325,132 L324,132 L323,132 L322,132 L321,132 L320,132 L319,132 L318,132 L317,132 L316,132 L315,132 L314,132 L313,132 L312,132 L311,132 L310,132 L309,132 L308,132 Z" fill="#fdf8dc" fill-opacity="0.85" stroke="none"/>
<path d="M293,131.9 L294,131.9 L295,131.9 L296,131.9 L297,131.9 L298,131.9 L299,131.9 L300,131.9 L301,131.9 L302,131.9 L303,131.9 L304,131.9 L305,131.9 L306,131.9 L307,131.9 L308,131.9 L309,131.9 L310,131.9 L311,131.9 L312,131.9 L313,131.9 L314,131.9 L315,131.9 L316,131.9 L317,131.9 L318,131.9 L319,131.9 L320,131.9 L321,131.9 L322,131.8 L323,131.8 L324,131.8 L325,131.8 L326,131.8 L327,131.8 L328,131.8 L329,131.8 L330,131.8 L331,131.8 L332,131.8 L333,131.7 L334,131.7 L335,131.7 L336,131.7 L337,131.6 L338,131.6 L339,131.6 L340,131.5 L341,131.5 L342,131.4 L343,131.4 L344,131.3 L345,131.2 L346,131.2 L347,131.1 L348,131 L349,130.9 L350,130.7 L351,130.6 L352,130.5 L353,130.3 L354,130.2 L355,130 L356,129.8 L357,129.6 L358,129.4 L359,129.2 L360,129 L361,128.7 L362,128.5 L363,128.2 L364,127.9 L365,127.7 L366,127.4 L367,127.1 L368,126.8 L369,126.6 L370,126.3 L371,126 L372,125.7 L373,125.5 L374,125.2 L375,125 L376,124.8 L377,124.6 L378,124.4 L379,124.3 L380,124.2 L381,124.1 L382,124 L383,124 L384,124 L385,124 L386,124.1 L387,124.2 L388,124.3 L389,124.4 L390,124.6 L391,124.8 L392,125.1 L393,125.3 L394,125.6 L395,125.9 L396,126.1 L397,126.5 L398,126.8 L399,127.1 L400,127.4 L401,127.7 L402,128 L403,128.4 L404,128.7 L405,129 L406,129.3 L407,129.6 L408,129.9 L409,130.2 L410,130.4 L411,130.7 L412,131 L413,131.2 L414,131.4 L415,131.6 L416,131.9 L417,132.1 L418,132.2 L419,132.4 L420,132.6 L421,132.7 L422,132.9 L423,133 L424,133.1 L425,133.2 L426,133.3 L427,133.4 L428,133.5 L429,133.6 L430,133.7 L431,133.7 L432,133.8 L433,133.8 L434,133.9 L435,133.9 L436,133.9 L437,134 L438,134 L439,134 L440,134 L441,134 L442,134.1 L443,134.1 L444,134.1 L445,134.1 L446,134.1 L447,134.1 L448,134.1 L449,134.1 L450,134.1 L451,134.1 L452,134.1 L453,134.1 L454,134.2 L455,134.2 L456,134.2 L457,134.2 L458,134.2 L459,134.2 L460,134.2 L461,134.2 L462,134.2 L463,134.2 L464,134.2 L465,134.2 L466,134.2 L467,134.2 L468,134.2 L469,134.2 L470,134.2 L471,134.2 L472,134.2 L473,134.2 L474,134.2 L475,134.2 L475,134.3 L474,134.3 L473,134.3 L472,134.3 L471,134.3 L470,134.3 L469,134.3 L468,134.3 L467,134.3 L466,134.3 L465,134.3 L464,134.3 L463,134.3 L462,134.3 L461,134.3 L460,134.3 L459,134.3 L458,134.3 L457,134.3 L456,134.3 L455,134.3 L454,134.3 L453,134.3 L452,134.3 L451,134.3 L450,134.3 L449,134.3 L448,134.3 L447,134.3 L446,134.3 L445,134.3 L444,134.3 L443,134.3 L442,134.3 L441,134.2 L440,134.2 L439,134.2 L438,134.2 L437,134.2 L436,134.2 L435,134.2 L434,134.2 L433,134.2 L432,134.1 L431,134.1 L430,134.1 L429,134.1 L428,134 L427,134 L426,134 L425,133.9 L424,133.9 L423,133.8 L422,133.8 L421,133.8 L420,133.7 L419,133.7 L418,133.6 L417,133.5 L416,133.5 L415,133.4 L414,133.4 L413,133.3 L412,133.3 L411,133.2 L410,133.2 L409,133.1 L408,133.1 L407,133 L406,133 L405,133 L404,132.9 L403,132.9 L402,132.9 L401,132.8 L400,132.8 L399,132.8 L398,132.7 L397,132.7 L396,132.7 L395,132.7 L394,132.7 L393,132.6 L392,132.6 L391,132.6 L390,132.6 L389,132.6 L388,132.5 L387,132.5 L386,132.5 L385,132.5 L384,132.5 L383,132.5 L382,132.4 L381,132.4 L380,132.4 L379,132.4 L378,132.4 L377,132.4 L376,132.3 L375,132.3 L374,132.3 L373,132.3 L372,132.3 L371,132.3 L370,132.3 L369,132.2 L368,132.2 L367,132.2 L366,132.2 L365,132.2 L364,132.2 L363,132.2 L362,132.2 L361,132.2 L360,132.2 L359,132.2 L358,132.2 L357,132.1 L356,132.1 L355,132.1 L354,132.1 L353,132.1 L352,132.1 L351,132.1 L350,132.1 L349,132.1 L348,132.1 L347,132.1 L346,132.1 L345,132.1 L344,132.1 L343,132.1 L342,132.1 L341,132.1 L340,132.1 L339,132.1 L338,132.1 L337,132 L336,132 L335,132 L334,132 L333,132 L332,132 L331,132 L330,132 L329,132 L328,132 L327,132 L326,132 L325,132 L324,132 L323,132 L322,132 L321,132 L320,132 L319,132 L318,132 L317,132 L316,132 L315,132 L314,132 L313,132 L312,132 L311,132 L310,132 L309,132 L308,132 L307,132 L306,132 L305,132 L304,132 L303,132 L302,132 L301,132 L300,132 L299,132 L298,132 L297,132 L296,132 L295,132 L294,132 L293,132 Z" fill="#c8cde9" fill-opacity="0.85" stroke="none"/>
<path d="M321,131.9 L322,131.9 L323,131.9 L324,131.9 L325,131.9 L326,131.9 L327,131.9 L328,131.9 L329,131.9 L330,131.9 L331,131.9 L332,131.9 L333,131.9 L334,131.9 L335,131.9 L336,131.9 L337,131.9 L338,131.9 L339,131.9 L340,131.9 L341,131.9 L342,131.9 L343,131.9 L344,131.9 L345,131.9 L346,131.9 L347,131.9 L348,131.9 L349,131.9 L350,131.9 L351,131.9 L352,131.9 L353,131.9 L354,131.9 L355,131.9 L356,131.9 L357,131.9 L358,131.9 L359,131.9 L360,131.9 L361,131.9 L362,131.9 L363,131.9 L364,131.9 L365,131.9 L366,131.9 L367,131.9 L368,131.9 L369,131.9 L370,131.9 L371,131.9 L372,131.9 L373,131.9 L374,131.9 L375,131.9 L376,131.9 L377,131.9 L378,131.9 L379,131.8 L380,131.8 L381,131.7 L382,131.7 L383,131.6 L384,131.5 L385,131.4 L386,131.2 L387,131 L388,130.8 L389,130.5 L390,130.2 L391,129.8 L392,129.4 L393,128.8 L394,128.2 L395,127.5 L396,126.7 L397,125.8 L398,124.9 L399,123.8 L400,122.6 L401,121.4 L402,120 L403,118.6 L404,117.2 L405,115.7 L406,114.2 L407,112.8 L408,111.3 L409,110 L410,108.7 L411,107.6 L412,106.7 L413,105.9 L414,105.4 L415,105.1 L416,105 L417,105.2 L418,105.6 L419,106.2 L420,107.1 L421,108.2 L422,109.4 L423,110.7 L424,112.2 L425,113.7 L426,115.2 L427,116.8 L428,118.3 L429,119.8 L430,121.3 L431,122.7 L432,124 L433,125.2 L434,126.3 L435,127.3 L436,128.2 L437,129.1 L438,129.8 L439,130.4 L440,131 L441,131.5 L442,131.9 L443,132.2 L444,132.5 L445,132.8 L446,133 L447,133.2 L448,133.3 L449,133.4 L450,133.5 L451,133.6 L452,133.7 L453,133.7 L454,133.8 L455,133.8 L456,133.8 L457,133.9 L458,133.9 L459,133.9 L460,133.9 L461,134 L462,134 L463,134 L464,134 L465,134 L466,134 L467,134 L468,134 L469,134.1 L470,134.1 L471,134.1 L472,134.1 L473,134.1 L474,134.1 L475,134.1 L476,134.1 L476,134.3 L475,134.3 L474,134.3 L473,134.3 L472,134.3 L471,134.3 L470,134.3 L469,134.3 L468,134.3 L467,134.3 L466,134.3 L465,134.3 L464,134.3 L463,134.3 L462,134.3 L461,134.3 L460,134.3 L459,134.3 L458,134.3 L457,134.3 L456,134.3 L455,134.3 L454,134.3 L453,134.3 L452,134.3 L451,134.3 L450,134.3 L449,134.3 L448,134.3 L447,134.3 L446,134.3 L445,134.3 L444,134.3 L443,134.3 L442,134.3 L441,134.2 L440,134.2 L439,134.2 L438,134.2 L437,134.2 L436,134.2 L435,134.2 L434,134.2 L433,134.2 L432,134.1 L431,134.1 L430,134.1 L429,134.1 L428,134 L427,134 L426,134 L425,133.9 L424,133.9 L423,133.8 L422,133.8 L421,133.8 L420,133.7 L419,133.7 L418,133.6 L417,133.5 L416,133.5 L415,133.4 L414,133.4 L413,133.3 L412,133.3 L411,133.2 L410,133.2 L409,133.1 L408,133.1 L407,133 L406,133 L405,133 L404,132.9 L403,132.9 L402,132.9 L401,132.8 L400,132.8 L399,132.8 L398,132.7 L397,132.7 L396,132.7 L395,132.7 L394,132.7 L393,132.6 L392,132.6 L391,132.6 L390,132.6 L389,132.6 L388,132.5 L387,132.5 L386,132.5 L385,132.5 L384,132.5 L383,132.5 L382,132.4 L381,132.4 L380,132.4 L379,132.4 L378,132.4 L377,132.4 L376,132.3 L375,132.3 L374,132.3 L373,132.3 L372,132.3 L371,132.3 L370,132.3 L369,132.2 L368,132.2 L367,132.2 L366,132.2 L365,132.2 L364,132.2 L363,132.2 L362,132.2 L361,132.2 L360,132.2 L359,132.2 L358,132.2 L357,132.1 L356,132.1 L355,132.1 L354,132.1 L353,132.1 L352,132.1 L351,132.1 L350,132.1 L349,132.1 L348,132.1 L347,132.1 L346,132.1 L345,132.1 L344,132.1 L343,132.1 L342,132.1 L341,132.1 L340,132.1 L339,132.1 L338,132.1 L337,132 L336,132 L335,132 L334,132 L333,132 L332,132 L331,132 L330,132 L329,132 L328,132 L327,132 L326,132 L325,132 L324,132 L323,132 L322,132 L321,132 Z" fill="#fbd3df" fill-opacity="0.85" stroke="none"/>
<path d="M308,131.9 L309,131.9 L310,131.9 L311,131.9 L312,131.9 L313,131.9 L314,131.9 L315,131.8 L316,131.8 L317,131.8 L318,131.8 L319,131.7 L320,131.7 L321,131.7 L322,131.6 L323,131.6 L324,131.5 L325,131.5 L326,131.4 L327,131.4 L328,131.3 L329,131.3 L330,131.2 L331,131.2 L332,131.1 L333,131 L334,131 L335,130.9 L336,130.9 L337,130.8 L338,130.7 L339,130.7 L340,130.7 L341,130.6 L342,130.6 L343,130.6 L344,130.6 L345,130.6 L346,130.6 L347,130.6 L348,130.6 L349,130.7 L350,130.7 L351,130.8 L352,130.8 L353,130.9 L354,130.9 L355,131 L356,131.1 L357,131.1 L358,131.2 L359,131.3 L360,131.4 L361,131.4 L362,131.5 L363,131.6 L364,131.6 L365,131.7 L366,131.7 L367,131.8 L368,131.9 L369,131.9 L370,132 L371,132 L372,132 L373,132.1 L374,132.1 L375,132.2 L376,132.2 L377,132.2 L378,132.2 L379,132.3 L380,132.3 L381,132.3 L382,132.4" fill="none" stroke="#ecd83a" stroke-width="0.9"/>
<path d="M293,131.9 L294,131.9 L295,131.9 L296,131.9 L297,131.9 L298,131.9 L299,131.9 L300,131.9 L301,131.9 L302,131.9 L303,131.9 L304,131.9 L305,131.9 L306,131.9 L307,131.9 L308,131.9 L309,131.9 L310,131.9 L311,131.9 L312,131.9 L313,131.9 L314,131.9 L315,131.9 L316,131.9 L317,131.9 L318,131.9 L319,131.9 L320,131.9 L321,131.9 L322,131.8 L323,131.8 L324,131.8 L325,131.8 L326,131.8 L327,131.8 L328,131.8 L329,131.8 L330,131.8 L331,131.8 L332,131.8 L333,131.7 L334,131.7 L335,131.7 L336,131.7 L337,131.6 L338,131.6 L339,131.6 L340,131.5 L341,131.5 L342,131.4 L343,131.4 L344,131.3 L345,131.2 L346,131.2 L347,131.1 L348,131 L349,130.9 L350,130.7 L351,130.6 L352,130.5 L353,130.3 L354,130.2 L355,130 L356,129.8 L357,129.6 L358,129.4 L359,129.2 L360,129 L361,128.7 L362,128.5 L363,128.2 L364,127.9 L365,127.7 L366,127.4 L367,127.1 L368,126.8 L369,126.6 L370,126.3 L371,126 L372,125.7 L373,125.5 L374,125.2 L375,125 L376,124.8 L377,124.6 L378,124.4 L379,124.3 L380,124.2 L381,124.1 L382,124 L383,124 L384,124 L385,124 L386,124.1 L387,124.2 L388,124.3 L389,124.4 L390,124.6 L391,124.8 L392,125.1 L393,125.3 L394,125.6 L395,125.9 L396,126.1 L397,126.5 L398,126.8 L399,127.1 L400,127.4 L401,127.7 L402,128 L403,128.4 L404,128.7 L405,129 L406,129.3 L407,129.6 L408,129.9 L409,130.2 L410,130.4 L411,130.7 L412,131 L413,131.2 L414,131.4 L415,131.6 L416,131.9 L417,132.1 L418,132.2 L419,132.4 L420,132.6 L421,132.7 L422,132.9 L423,133 L424,133.1 L425,133.2 L426,133.3 L427,133.4 L428,133.5 L429,133.6 L430,133.7 L431,133.7 L432,133.8 L433,133.8 L434,133.9 L435,133.9 L436,133.9 L437,134 L438,134 L439,134 L440,134 L441,134 L442,134.1 L443,134.1 L444,134.1 L445,134.1 L446,134.1 L447,134.1 L448,134.1 L449,134.1 L450,134.1 L451,134.1 L452,134.1 L453,134.1 L454,134.2 L455,134.2 L456,134.2 L457,134.2 L458,134.2 L459,134.2 L460,134.2 L461,134.2 L462,134.2 L463,134.2 L464,134.2 L465,134.2 L466,134.2 L467,134.2 L468,134.2 L469,134.2 L470,134.2 L471,134.2 L472,134.2 L473,134.2 L474,134.2 L475,134.2" fill="none" stroke="#8490d0" stroke-width="0.9"/>
<path d="M321,131.9 L322,131.9 L323,131.9 L324,131.9 L325,131.9 L326,131.9 L327,131.9 L328,131.9 L329,131.9 L330,131.9 L331,131.9 L332,131.9 L333,131.9 L334,131.9 L335,131.9 L336,131.9 L337,131.9 L338,131.9 L339,131.9 L340,131.9 L341,131.9 L342,131.9 L343,131.9 L344,131.9 L345,131.9 L346,131.9 L347,131.9 L348,131.9 L349,131.9 L350,131.9 L351,131.9 L352,131.9 L353,131.9 L354,131.9 L355,131.9 L356,131.9 L357,131.9 L358,131.9 L359,131.9 L360,131.9 L361,131.9 L362,131.9 L363,131.9 L364,131.9 L365,131.9 L366,131.9 L367,131.9 L368,131.9 L369,131.9 L370,131.9 L371,131.9 L372,131.9 L373,131.9 L374,131.9 L375,131.9 L376,131.9 L377,131.9 L378,131.9 L379,131.8 L380,131.8 L381,131.7 L382,131.7 L383,131.6 L384,131.5 L385,131.4 L386,131.2 L387,131 L388,130.8 L389,130.5 L390,130.2 L391,129.8 L392,129.4 L393,128.8 L394,128.2 L395,127.5 L396,126.7 L397,125.8 L398,124.9 L399,123.8 L400,122.6 L401,121.4 L402,120 L403,118.6 L404,117.2 L405,115.7 L406,114.2 L407,112.8 L408,111.3 L409,110 L410,108.7 L411,107.6 L412,106.7 L413,105.9 L414,105.4 L415,105.1 L416,105 L417,105.2 L418,105.6 L419,106.2 L420,107.1 L421,108.2 L422,109.4 L423,110.7 L424,112.2 L425,113.7 L426,115.2 L427,116.8 L428,118.3 L429,119.8 L430,121.3 L431,122.7 L432,124 L433,125.2 L434,126.3 L435,127.3 L436,128.2 L437,129.1 L438,129.8 L439,130.4 L440,131 L441,131.5 L442,131.9 L443,132.2 L444,132.5 L445,132.8 L446,133 L447,133.2 L448,133.3 L449,133.4 L450,133.5 L451,133.6 L452,133.7 L453,133.7 L454,133.8 L455,133.8 L456,133.8 L457,133.9 L458,133.9 L459,133.9 L460,133.9 L461,134 L462,134 L463,134 L464,134 L465,134 L466,134 L467,134 L468,134 L469,134.1 L470,134.1 L471,134.1 L472,134.1 L473,134.1 L474,134.1 L475,134.1 L476,134.1" fill="none" stroke="#f08aa8" stroke-width="0.9"/>
<path d="M277.2,132 L278.2,132 L279.2,132 L280.2,132 L281.2,132 L282.2,132 L283.2,132 L284.2,132 L285.2,132 L286.2,132 L287.2,132 L288.2,132 L289.2,132 L290.2,132 L291.2,132 L292.2,132 L293.2,132 L294.2,132 L295.2,132 L296.2,132 L297.2,132 L298.2,132 L299.2,132 L300.2,132 L301.2,132 L302.2,132 L303.2,132 L304.2,132 L305.2,132 L306.2,132 L307.2,132 L308.2,132 L309.2,132 L310.2,132 L311.2,132 L312.2,132 L313.2,132 L314.2,132 L315.2,132 L316.2,132 L317.2,132 L318.2,132 L319.2,132 L320.2,132 L321.2,132 L322.2,132 L323.2,132 L324.2,132 L325.2,132 L326.2,132 L327.2,132 L328.2,132 L329.2,132 L330.2,132 L331.2,132 L332.2,132 L333.2,132 L334.2,132 L335.2,132 L336.2,132 L337.2,132 L338.2,132.1 L339.2,132.1 L340.2,132.1 L341.2,132.1 L342.2,132.1 L343.2,132.1 L344.2,132.1 L345.2,132.1 L346.2,132.1 L347.2,132.1 L348.2,132.1 L349.2,132.1 L350.2,132.1 L351.2,132.1 L352.2,132.1 L353.2,132.1 L354.2,132.1 L355.2,132.1 L356.2,132.1 L357.2,132.1 L358.2,132.2 L359.2,132.2 L360.2,132.2 L361.2,132.2 L362.2,132.2 L363.2,132.2 L364.2,132.2 L365.2,132.2 L366.2,132.2 L367.2,132.2 L368.2,132.2 L369.2,132.3 L370.2,132.3 L371.2,132.3 L372.2,132.3 L373.2,132.3 L374.2,132.3 L375.2,132.3 L376.2,132.3 L377.2,132.4 L378.2,132.4 L379.2,132.4 L380.2,132.4 L381.2,132.4 L382.2,132.4 L383.2,132.5 L384.2,132.5 L385.2,132.5 L386.2,132.5 L387.2,132.5 L388.2,132.5 L389.2,132.6 L390.2,132.6 L391.2,132.6 L392.2,132.6 L393.2,132.6 L394.2,132.7 L395.2,132.7 L396.2,132.7 L397.2,132.7 L398.2,132.7 L399.2,132.8 L400.2,132.8 L401.2,132.8 L402.2,132.9 L403.2,132.9 L404.2,132.9 L405.2,133 L406.2,133 L407.2,133 L408.2,133.1 L409.2,133.1 L410.2,133.2 L411.2,133.2 L412.2,133.3 L413.2,133.3 L414.2,133.4 L415.2,133.4 L416.2,133.5 L417.2,133.6 L418.2,133.6 L419.2,133.7 L420.2,133.7 L421.2,133.8 L422.2,133.8 L423.2,133.9 L424.2,133.9 L425.2,133.9 L426.2,134 L427.2,134 L428.2,134 L429.2,134.1 L430.2,134.1 L431.2,134.1 L432.2,134.1 L433.2,134.2 L434.2,134.2 L435.2,134.2 L436.2,134.2 L437.2,134.2 L438.2,134.2 L439.2,134.2 L440.2,134.2 L441.2,134.2 L442.2,134.3 L443.2,134.3 L444.2,134.3 L445.2,134.3 L446.2,134.3 L447.2,134.3 L448.2,134.3 L449.2,134.3 L450.2,134.3 L451.2,134.3 L452.2,134.3 L453.2,134.3 L454.2,134.3 L455.2,134.3 L456.2,134.3 L457.2,134.3 L458.2,134.3 L459.2,134.3 L460.2,134.3 L461.2,134.3 L462.2,134.3 L463.2,134.3 L464.2,134.3 L465.2,134.3 L466.2,134.3 L467.2,134.3 L468.2,134.3 L469.2,134.3 L470.2,134.3 L471.2,134.3 L472.2,134.3 L473.2,134.3 L474.2,134.3 L475.2,134.3" fill="none" stroke="#5a4d68" stroke-width="1.0"/>
<path d="M277.2,131.9 L278.2,131.9 L279.2,131.9 L280.2,131.9 L281.2,131.9 L282.2,131.9 L283.2,131.9 L284.2,131.9 L285.2,131.9 L286.2,131.9 L287.2,131.9 L288.2,131.9 L289.2,131.9 L290.2,131.9 L291.2,131.9 L292.2,131.9 L293.2,131.9 L294.2,131.8 L295.2,131.8 L296.2,131.8 L297.2,131.8 L298.2,131.8 L299.2,131.8 L300.2,131.8 L301.2,131.8 L302.2,131.8 L303.2,131.8 L304.2,131.8 L305.2,131.8 L306.2,131.8 L307.2,131.8 L308.2,131.8 L309.2,131.7 L310.2,131.7 L311.2,131.7 L312.2,131.7 L313.2,131.7 L314.2,131.7 L315.2,131.6 L316.2,131.6 L317.2,131.6 L318.2,131.5 L319.2,131.5 L320.2,131.5 L321.2,131.4 L322.2,131.4 L323.2,131.3 L324.2,131.3 L325.2,131.2 L326.2,131.1 L327.2,131.1 L328.2,131 L329.2,130.9 L330.2,130.9 L331.2,130.8 L332.2,130.7 L333.2,130.6 L334.2,130.5 L335.2,130.4 L336.2,130.3 L337.2,130.3 L338.2,130.2 L339.2,130.1 L340.2,130 L341.2,129.9 L342.2,129.8 L343.2,129.7 L344.2,129.7 L345.2,129.6 L346.2,129.5 L347.2,129.4 L348.2,129.3 L349.2,129.3 L350.2,129.2 L351.2,129.1 L352.2,129 L353.2,128.9 L354.2,128.8 L355.2,128.7 L356.2,128.5 L357.2,128.4 L358.2,128.2 L359.2,128.1 L360.2,127.9 L361.2,127.7 L362.2,127.5 L363.2,127.3 L364.2,127.1 L365.2,126.8 L366.2,126.6 L367.2,126.4 L368.2,126.1 L369.2,125.9 L370.2,125.6 L371.2,125.3 L372.2,125.1 L373.2,124.8 L374.2,124.6 L375.2,124.4 L376.2,124.2 L377.2,123.9 L378.2,123.8 L379.2,123.6 L380.2,123.4 L381.2,123.3 L382.2,123.1 L383.2,123 L384.2,122.9 L385.2,122.8 L386.2,122.7 L387.2,122.6 L388.2,122.5 L389.2,122.4 L390.2,122.2 L391.2,122 L392.2,121.7 L393.2,121.4 L394.2,121 L395.2,120.6 L396.2,120 L397.2,119.4 L398.2,118.7 L399.2,117.9 L400.2,117 L401.2,116 L402.2,115 L403.2,113.9 L404.2,112.7 L405.2,111.5 L406.2,110.3 L407.2,109.1 L408.2,107.9 L409.2,106.8 L410.2,105.8 L411.2,104.9 L412.2,104.2 L413.2,103.7 L414.2,103.4 L415.2,103.3 L416.2,103.4 L417.2,103.8 L418.2,104.4 L419.2,105.2 L420.2,106.2 L421.2,107.4 L422.2,108.7 L423.2,110.2 L424.2,111.7 L425.2,113.3 L426.2,114.9 L427.2,116.5 L428.2,118.1 L429.2,119.6 L430.2,121.1 L431.2,122.5 L432.2,123.8 L433.2,125.1 L434.2,126.2 L435.2,127.2 L436.2,128.1 L437.2,128.9 L438.2,129.7 L439.2,130.3 L440.2,130.9 L441.2,131.3 L442.2,131.8 L443.2,132.1 L444.2,132.4 L445.2,132.6 L446.2,132.9 L447.2,133 L448.2,133.2 L449.2,133.3 L450.2,133.4 L451.2,133.5 L452.2,133.5 L453.2,133.6 L454.2,133.6 L455.2,133.7 L456.2,133.7 L457.2,133.8 L458.2,133.8 L459.2,133.8 L460.2,133.8 L461.2,133.8 L462.2,133.9 L463.2,133.9 L464.2,133.9 L465.2,133.9 L466.2,133.9 L467.2,133.9 L468.2,133.9 L469.2,134 L470.2,134 L471.2,134 L472.2,134 L473.2,134 L474.2,134 L475.2,134" fill="none" stroke="#f7a04a" stroke-width="3" stroke-dasharray="1.1 0.6" stroke-opacity="0.75"/>
<path d="M277.2,131.9 L278.2,131.9 L279.2,131.9 L280.2,131.9 L281.2,131.9 L282.2,131.9 L283.2,131.9 L284.2,131.9 L285.2,131.9 L286.2,131.9 L287.2,131.9 L288.2,131.9 L289.2,131.9 L290.2,131.9 L291.2,131.9 L292.2,131.9 L293.2,131.9 L294.2,131.8 L295.2,131.8 L296.2,131.8 L297.2,131.8 L298.2,131.8 L299.2,131.8 L300.2,131.8 L301.2,131.8 L302.2,131.8 L303.2,131.8 L304.2,131.8 L305.2,131.8 L306.2,131.8 L307.2,131.8 L308.2,131.8 L309.2,131.7 L310.2,131.7 L311.2,131.7 L312.2,131.7 L313.2,131.7 L314.2,131.7 L315.2,131.6 L316.2,131.6 L317.2,131.6 L318.2,131.5 L319.2,131.5 L320.2,131.5 L321.2,131.4 L322.2,131.4 L323.2,131.3 L324.2,131.3 L325.2,131.2 L326.2,131.1 L327.2,131.1 L328.2,131 L329.2,130.9 L330.2,130.9 L331.2,130.8 L332.2,130.7 L333.2,130.6 L334.2,130.5 L335.2,130.4 L336.2,130.3 L337.2,130.3 L338.2,130.2 L339.2,130.1 L340.2,130 L341.2,129.9 L342.2,129.8 L343.2,129.7 L344.2,129.7 L345.2,129.6 L346.2,129.5 L347.2,129.4 L348.2,129.3 L349.2,129.3 L350.2,129.2 L351.2,129.1 L352.2,129 L353.2,128.9 L354.2,128.8 L355.2,128.7 L356.2,128.5 L357.2,128.4 L358.2,128.2 L359.2,128.1 L360.2,127.9 L361.2,127.7 L362.2,127.5 L363.2,127.3 L364.2,127.1 L365.2,126.8 L366.2,126.6 L367.2,126.4 L368.2,126.1 L369.2,125.9 L370.2,125.6 L371.2,125.3 L372.2,125.1 L373.2,124.8 L374.2,124.6 L375.2,124.4 L376.2,124.2 L377.2,123.9 L378.2,123.8 L379.2,123.6 L380.2,123.4 L381.2,123.3 L382.2,123.1 L383.2,123 L384.2,122.9 L385.2,122.8 L386.2,122.7 L387.2,122.6 L388.2,122.5 L389.2,122.4 L390.2,122.2 L391.2,122 L392.2,121.7 L393.2,121.4 L394.2,121 L395.2,120.6 L396.2,120 L397.2,119.4 L398.2,118.7 L399.2,117.9 L400.2,117 L401.2,116 L402.2,115 L403.2,113.9 L404.2,112.7 L405.2,111.5 L406.2,110.3 L407.2,109.1 L408.2,107.9 L409.2,106.8 L410.2,105.8 L411.2,104.9 L412.2,104.2 L413.2,103.7 L414.2,103.4 L415.2,103.3 L416.2,103.4 L417.2,103.8 L418.2,104.4 L419.2,105.2 L420.2,106.2 L421.2,107.4 L422.2,108.7 L423.2,110.2 L424.2,111.7 L425.2,113.3 L426.2,114.9 L427.2,116.5 L428.2,118.1 L429.2,119.6 L430.2,121.1 L431.2,122.5 L432.2,123.8 L433.2,125.1 L434.2,126.2 L435.2,127.2 L436.2,128.1 L437.2,128.9 L438.2,129.7 L439.2,130.3 L440.2,130.9 L441.2,131.3 L442.2,131.8 L443.2,132.1 L444.2,132.4 L445.2,132.6 L446.2,132.9 L447.2,133 L448.2,133.2 L449.2,133.3 L450.2,133.4 L451.2,133.5 L452.2,133.5 L453.2,133.6 L454.2,133.6 L455.2,133.7 L456.2,133.7 L457.2,133.8 L458.2,133.8 L459.2,133.8 L460.2,133.8 L461.2,133.8 L462.2,133.9 L463.2,133.9 L464.2,133.9 L465.2,133.9 L466.2,133.9 L467.2,133.9 L468.2,133.9 L469.2,134 L470.2,134 L471.2,134 L472.2,134 L473.2,134 L474.2,134 L475.2,134" fill="none" stroke="#f7a04a" stroke-width="1.4"/>
<path d="M277.2,179.3 L278.2,179.2 L279.2,179.2 L280.2,179.2 L281.2,179.2 L282.2,179.2 L283.2,179.2 L284.2,179.2 L285.2,179.1 L286.2,179.1 L287.2,179.1 L288.2,179.1 L289.2,179.1 L290.2,179 L291.2,179 L292.2,179 L293.2,178.9 L294.2,178.9 L295.2,178.8 L296.2,178.8 L297.2,178.7 L298.2,178.6 L299.2,178.6 L300.2,178.5 L301.2,178.4 L302.2,178.3 L303.2,178.2 L304.2,178.1 L305.2,178 L306.2,177.9 L307.2,177.7 L308.2,177.6 L309.2,177.4 L310.2,177.3 L311.2,177.1 L312.2,176.9 L313.2,176.7 L314.2,176.5 L315.2,176.3 L316.2,176.1 L317.2,175.8 L318.2,175.6 L319.2,175.4 L320.2,175.1 L321.2,174.9 L322.2,174.6 L323.2,174.3 L324.2,174.1 L325.2,173.8 L326.2,173.5 L327.2,173.3 L328.2,173 L329.2,172.8 L330.2,172.5 L331.2,172.3 L332.2,172.1 L333.2,171.9 L334.2,171.7 L335.2,171.5 L336.2,171.4 L337.2,171.2 L338.2,171.1 L339.2,171.1 L340.2,171 L341.2,171 L342.2,171 L343.2,171 L344.2,171.1 L345.2,171.2 L346.2,171.3 L347.2,171.5 L348.2,171.6 L349.2,171.8 L350.2,172.1 L351.2,172.3 L352.2,172.5 L353.2,172.8 L354.2,173.1 L355.2,173.3 L356.2,173.6 L357.2,173.9 L358.2,174.2 L359.2,174.5 L360.2,174.8 L361.2,175.1 L362.2,175.4 L363.2,175.7 L364.2,175.9 L365.2,176.2 L366.2,176.5 L367.2,176.7 L368.2,177 L369.2,177.2 L370.2,177.4 L371.2,177.7 L372.2,177.9 L373.2,178.1 L374.2,178.3 L375.2,178.4 L376.2,178.6 L377.2,178.8 L378.2,178.9 L379.2,179 L380.2,179.2 L381.2,179.3 L382.2,179.4 L383.2,179.5 L384.2,179.6 L385.2,179.7 L386.2,179.8 L387.2,179.9 L388.2,180 L389.2,180.1 L390.2,180.1 L391.2,180.2 L392.2,180.3 L393.2,180.4 L394.2,180.4 L395.2,180.5 L396.2,180.6 L397.2,180.6 L398.2,180.7 L399.2,180.8 L400.2,180.8 L401.2,180.9 L402.2,181 L403.2,181 L404.2,181.1 L405.2,181.2 L406.2,181.3 L407.2,181.3 L408.2,181.4 L409.2,181.5 L410.2,181.6 L411.2,181.6 L412.2,181.7 L413.2,181.8 L414.2,181.8 L415.2,181.9 L416.2,182 L417.2,182 L418.2,182.1 L419.2,182.1 L420.2,182.2 L421.2,182.2 L422.2,182.3 L423.2,182.3 L424.2,182.3 L425.2,182.4 L426.2,182.4 L427.2,182.4 L428.2,182.4 L429.2,182.4 L430.2,182.5 L431.2,182.5 L432.2,182.5 L433.2,182.5 L434.2,182.5 L435.2,182.5 L436.2,182.5 L437.2,182.5 L438.2,182.5 L439.2,182.5 L440.2,182.5 L441.2,182.6 L442.2,182.6 L443.2,182.6 L444.2,182.6 L445.2,182.6 L446.2,182.6 L447.2,182.6 L448.2,182.6 L449.2,182.6 L450.2,182.6 L451.2,182.6 L452.2,182.6 L453.2,182.6 L454.2,182.6 L455.2,182.6 L456.2,182.6 L457,182.7 L456,182.7 L455,182.7 L454,182.7 L453,182.7 L452,182.7 L451,182.7 L450,182.7 L449,182.7 L448,182.7 L447,182.7 L446,182.7 L445,182.7 L444,182.7 L443,182.7 L442,182.7 L441,182.7 L440,182.7 L439,182.7 L438,182.6 L437,182.6 L436,182.6 L435,182.6 L434,182.6 L433,182.6 L432,182.6 L431,182.6 L430,182.6 L429,182.6 L428,182.6 L427,182.5 L426,182.5 L425,182.5 L424,182.5 L423,182.4 L422,182.4 L421,182.4 L420,182.3 L419,182.3 L418,182.2 L417,182.2 L416,182.1 L415,182.1 L414,182 L413,182 L412,181.9 L411,181.8 L410,181.8 L409,181.7 L408,181.6 L407,181.6 L406,181.5 L405,181.4 L404,181.4 L403,181.3 L402,181.3 L401,181.2 L400,181.2 L399,181.1 L398,181.1 L397,181 L396,181 L395,180.9 L394,180.9 L393,180.9 L392,180.8 L391,180.8 L390,180.8 L389,180.7 L388,180.7 L387,180.7 L386,180.7 L385,180.7 L384,180.6 L383,180.6 L382,180.6 L381,180.6 L380,180.6 L379,180.6 L378,180.5 L377,180.5 L376,180.5 L375,180.5 L374,180.5 L373,180.5 L372,180.5 L371,180.5 L370,180.4 L369,180.4 L368,180.4 L367,180.4 L366,180.4 L365,180.4 L364,180.4 L363,180.4 L362,180.3 L361,180.3 L360,180.3 L359,180.3 L358,180.3 L357,180.3 L356,180.3 L355,180.2 L354,180.2 L353,180.2 L352,180.2 L351,180.2 L350,180.2 L349,180.1 L348,180.1 L347,180.1 L346,180.1 L345,180.1 L344,180 L343,180 L342,180 L341,180 L340,180 L339,179.9 L338,179.9 L337,179.9 L336,179.9 L335,179.9 L334,179.9 L333,179.8 L332,179.8 L331,179.8 L330,179.8 L329,179.8 L328,179.8 L327,179.7 L326,179.7 L325,179.7 L324,179.7 L323,179.7 L322,179.7 L321,179.7 L320,179.7 L319,179.7 L318,179.6 L317,179.6 L316,179.6 L315,179.6 L314,179.6 L313,179.6 L312,179.6 L311,179.6 L310,179.6 L309,179.6 L308,179.6 L307,179.6 L306,179.6 L305,179.6 L304,179.6 L303,179.6 L302,179.5 L301,179.5 L300,179.5 L299,179.5 L298,179.5 L297,179.5 L296,179.5 L295,179.5 L294,179.5 L293,179.5 L292,179.5 L291,179.5 L290,179.5 L289,179.5 L288,179.5 L287,179.5 L286,179.5 L285,179.5 L284,179.5 L283,179.5 L282,179.5 L281,179.5 L280,179.5 L279,179.5 L278,179.5 Z" fill="#fdf8dc" fill-opacity="0.85" stroke="none"/>
<path d="M284,179.4 L285,179.4 L286,179.4 L287,179.4 L288,179.4 L289,179.4 L290,179.4 L291,179.4 L292,179.4 L293,179.4 L294,179.4 L295,179.4 L296,179.4 L297,179.4 L298,179.4 L299,179.4 L300,179.4 L301,179.4 L302,179.4 L303,179.4 L304,179.4 L305,179.4 L306,179.4 L307,179.4 L308,179.4 L309,179.4 L310,179.5 L311,179.5 L312,179.5 L313,179.5 L314,179.5 L315,179.5 L316,179.5 L317,179.5 L318,179.5 L319,179.5 L320,179.5 L321,179.5 L322,179.5 L323,179.5 L324,179.5 L325,179.5 L326,179.5 L327,179.5 L328,179.6 L329,179.6 L330,179.6 L331,179.6 L332,179.6 L333,179.6 L334,179.6 L335,179.6 L336,179.6 L337,179.7 L338,179.7 L339,179.7 L340,179.7 L341,179.7 L342,179.7 L343,179.7 L344,179.7 L345,179.7 L346,179.7 L347,179.7 L348,179.7 L349,179.8 L350,179.8 L351,179.8 L352,179.8 L353,179.8 L354,179.8 L355,179.8 L356,179.7 L357,179.7 L358,179.7 L359,179.7 L360,179.7 L361,179.6 L362,179.6 L363,179.6 L364,179.5 L365,179.4 L366,179.4 L367,179.3 L368,179.1 L369,179 L370,178.8 L371,178.7 L372,178.4 L373,178.2 L374,177.9 L375,177.6 L376,177.2 L377,176.8 L378,176.3 L379,175.8 L380,175.2 L381,174.6 L382,173.9 L383,173.1 L384,172.3 L385,171.5 L386,170.6 L387,169.7 L388,168.8 L389,167.8 L390,166.9 L391,165.9 L392,165 L393,164.1 L394,163.2 L395,162.5 L396,161.8 L397,161.2 L398,160.7 L399,160.4 L400,160.2 L401,160.2 L402,160.3 L403,160.6 L404,161.1 L405,161.6 L406,162.3 L407,163.1 L408,164 L409,164.9 L410,165.9 L411,166.9 L412,168 L413,169 L414,170.1 L415,171.1 L416,172.1 L417,173.1 L418,174 L419,174.8 L420,175.6 L421,176.4 L422,177 L423,177.7 L424,178.2 L425,178.7 L426,179.2 L427,179.6 L428,180 L429,180.3 L430,180.6 L431,180.8 L432,181 L433,181.2 L434,181.3 L435,181.5 L436,181.6 L437,181.7 L438,181.8 L439,181.8 L440,181.9 L441,182 L442,182 L443,182.1 L444,182.1 L445,182.1 L446,182.2 L447,182.2 L448,182.2 L449,182.2 L450,182.2 L451,182.3 L452,182.3 L453,182.3 L454,182.3 L455,182.3 L456,182.3 L457,182.4 L458,182.4 L459,182.4 L460,182.4 L461,182.4 L462,182.4 L463,182.4 L464,182.4 L465,182.4 L466,182.4 L467,182.5 L468,182.5 L469,182.5 L470,182.5 L471,182.5 L472,182.5 L473,182.5 L474,182.5 L475,182.5 L476,182.5 L476,182.7 L475,182.7 L474,182.7 L473,182.7 L472,182.7 L471,182.7 L470,182.7 L469,182.7 L468,182.7 L467,182.7 L466,182.7 L465,182.7 L464,182.7 L463,182.7 L462,182.7 L461,182.7 L460,182.7 L459,182.7 L458,182.7 L457,182.7 L456,182.7 L455,182.7 L454,182.7 L453,182.7 L452,182.7 L451,182.7 L450,182.7 L449,182.7 L448,182.7 L447,182.7 L446,182.7 L445,182.7 L444,182.7 L443,182.7 L442,182.7 L441,182.7 L440,182.7 L439,182.7 L438,182.6 L437,182.6 L436,182.6 L435,182.6 L434,182.6 L433,182.6 L432,182.6 L431,182.6 L430,182.6 L429,182.6 L428,182.6 L427,182.5 L426,182.5 L425,182.5 L424,182.5 L423,182.4 L422,182.4 L421,182.4 L420,182.3 L419,182.3 L418,182.2 L417,182.2 L416,182.1 L415,182.1 L414,182 L413,182 L412,181.9 L411,181.8 L410,181.8 L409,181.7 L408,181.6 L407,181.6 L406,181.5 L405,181.4 L404,181.4 L403,181.3 L402,181.3 L401,181.2 L400,181.2 L399,181.1 L398,181.1 L397,181 L396,181 L395,180.9 L394,180.9 L393,180.9 L392,180.8 L391,180.8 L390,180.8 L389,180.7 L388,180.7 L387,180.7 L386,180.7 L385,180.7 L384,180.6 L383,180.6 L382,180.6 L381,180.6 L380,180.6 L379,180.6 L378,180.5 L377,180.5 L376,180.5 L375,180.5 L374,180.5 L373,180.5 L372,180.5 L371,180.5 L370,180.4 L369,180.4 L368,180.4 L367,180.4 L366,180.4 L365,180.4 L364,180.4 L363,180.4 L362,180.3 L361,180.3 L360,180.3 L359,180.3 L358,180.3 L357,180.3 L356,180.3 L355,180.2 L354,180.2 L353,180.2 L352,180.2 L351,180.2 L350,180.2 L349,180.1 L348,180.1 L347,180.1 L346,180.1 L345,180.1 L344,180 L343,180 L342,180 L341,180 L340,180 L339,179.9 L338,179.9 L337,179.9 L336,179.9 L335,179.9 L334,179.9 L333,179.8 L332,179.8 L331,179.8 L330,179.8 L329,179.8 L328,179.8 L327,179.7 L326,179.7 L325,179.7 L324,179.7 L323,179.7 L322,179.7 L321,179.7 L320,179.7 L319,179.7 L318,179.6 L317,179.6 L316,179.6 L315,179.6 L314,179.6 L313,179.6 L312,179.6 L311,179.6 L310,179.6 L309,179.6 L308,179.6 L307,179.6 L306,179.6 L305,179.6 L304,179.6 L303,179.6 L302,179.5 L301,179.5 L300,179.5 L299,179.5 L298,179.5 L297,179.5 L296,179.5 L295,179.5 L294,179.5 L293,179.5 L292,179.5 L291,179.5 L290,179.5 L289,179.5 L288,179.5 L287,179.5 L286,179.5 L285,179.5 L284,179.5 Z" fill="#c8cde9" fill-opacity="0.85" stroke="none"/>
<path d="M343.8,180 L344.8,180 L345.8,180 L346.8,180 L347.8,180 L348.8,180 L349.8,180.1 L350.8,180.1 L351.8,180.1 L352.8,180.1 L353.8,180.1 L354.8,180.1 L355.8,180.1 L356.8,180.2 L357.8,180.2 L358.8,180.2 L359.8,180.2 L360.8,180.2 L361.8,180.2 L362.8,180.2 L363.8,180.2 L364.8,180.2 L365.8,180.2 L366.8,180.2 L367.8,180.2 L368.8,180.2 L369.8,180.2 L370.8,180.3 L371.8,180.3 L372.8,180.3 L373.8,180.3 L374.8,180.3 L375.8,180.2 L376.8,180.2 L377.8,180.2 L378.8,180.2 L379.8,180.2 L380.8,180.2 L381.8,180.2 L382.8,180.2 L383.8,180.1 L384.8,180.1 L385.8,180 L386.8,179.9 L387.8,179.8 L388.8,179.6 L389.8,179.4 L390.8,179.2 L391.8,178.9 L392.8,178.5 L393.8,178 L394.8,177.4 L395.8,176.7 L396.8,176 L397.8,175 L398.8,174 L399.8,172.9 L400.8,171.6 L401.8,170.2 L402.8,168.8 L403.8,167.3 L404.8,165.8 L405.8,164.4 L406.8,163 L407.8,161.7 L408.8,160.5 L409.8,159.6 L410.8,158.9 L411.8,158.5 L412.8,158.4 L413.8,158.7 L414.8,159.2 L415.8,160 L416.8,161 L417.8,162.3 L418.8,163.7 L419.8,165.2 L420.8,166.8 L421.8,168.4 L422.8,169.9 L423.8,171.5 L424.8,172.9 L425.8,174.2 L426.8,175.4 L427.8,176.5 L428.8,177.5 L429.8,178.4 L430.8,179.1 L431.8,179.7 L432.8,180.2 L433.8,180.7 L434.8,181 L435.8,181.3 L436.8,181.5 L437.8,181.7 L438.8,181.9 L439.8,182 L440.8,182.1 L441.8,182.1 L442.8,182.2 L443.8,182.3 L444.8,182.3 L445.8,182.3 L446.8,182.3 L447.8,182.4 L448.8,182.4 L449.8,182.4 L450.8,182.4 L451.8,182.4 L452.8,182.5 L453.8,182.5 L454.8,182.5 L455.8,182.5 L456.8,182.5 L457.8,182.5 L458.8,182.5 L459.8,182.5 L460.8,182.5 L461.8,182.5 L462.8,182.5 L463.8,182.5 L464.8,182.6 L465.8,182.6 L466.8,182.6 L467.8,182.6 L468.8,182.6 L469.8,182.6 L470.8,182.6 L471.8,182.6 L472.8,182.6 L473.8,182.6 L474.8,182.6 L475.8,182.6 L476,182.7 L475,182.7 L474,182.7 L473,182.7 L472,182.7 L471,182.7 L470,182.7 L469,182.7 L468,182.7 L467,182.7 L466,182.7 L465,182.7 L464,182.7 L463,182.7 L462,182.7 L461,182.7 L460,182.7 L459,182.7 L458,182.7 L457,182.7 L456,182.7 L455,182.7 L454,182.7 L453,182.7 L452,182.7 L451,182.7 L450,182.7 L449,182.7 L448,182.7 L447,182.7 L446,182.7 L445,182.7 L444,182.7 L443,182.7 L442,182.7 L441,182.7 L440,182.7 L439,182.7 L438,182.6 L437,182.6 L436,182.6 L435,182.6 L434,182.6 L433,182.6 L432,182.6 L431,182.6 L430,182.6 L429,182.6 L428,182.6 L427,182.5 L426,182.5 L425,182.5 L424,182.5 L423,182.4 L422,182.4 L421,182.4 L420,182.3 L419,182.3 L418,182.2 L417,182.2 L416,182.1 L415,182.1 L414,182 L413,182 L412,181.9 L411,181.8 L410,181.8 L409,181.7 L408,181.6 L407,181.6 L406,181.5 L405,181.4 L404,181.4 L403,181.3 L402,181.3 L401,181.2 L400,181.2 L399,181.1 L398,181.1 L397,181 L396,181 L395,180.9 L394,180.9 L393,180.9 L392,180.8 L391,180.8 L390,180.8 L389,180.7 L388,180.7 L387,180.7 L386,180.7 L385,180.7 L384,180.6 L383,180.6 L382,180.6 L381,180.6 L380,180.6 L379,180.6 L378,180.5 L377,180.5 L376,180.5 L375,180.5 L374,180.5 L373,180.5 L372,180.5 L371,180.5 L370,180.4 L369,180.4 L368,180.4 L367,180.4 L366,180.4 L365,180.4 L364,180.4 L363,180.4 L362,180.3 L361,180.3 L360,180.3 L359,180.3 L358,180.3 L357,180.3 L356,180.3 L355,180.2 L354,180.2 L353,180.2 L352,180.2 L351,180.2 L350,180.2 L349,180.1 L348,180.1 L347,180.1 L346,180.1 L345,180.1 L344,180 Z" fill="#fbd3df" fill-opacity="0.85" stroke="none"/>
<path d="M277.2,179.3 L278.2,179.2 L279.2,179.2 L280.2,179.2 L281.2,179.2 L282.2,179.2 L283.2,179.2 L284.2,179.2 L285.2,179.1 L286.2,179.1 L287.2,179.1 L288.2,179.1 L289.2,179.1 L290.2,179 L291.2,179 L292.2,179 L293.2,178.9 L294.2,178.9 L295.2,178.8 L296.2,178.8 L297.2,178.7 L298.2,178.6 L299.2,178.6 L300.2,178.5 L301.2,178.4 L302.2,178.3 L303.2,178.2 L304.2,178.1 L305.2,178 L306.2,177.9 L307.2,177.7 L308.2,177.6 L309.2,177.4 L310.2,177.3 L311.2,177.1 L312.2,176.9 L313.2,176.7 L314.2,176.5 L315.2,176.3 L316.2,176.1 L317.2,175.8 L318.2,175.6 L319.2,175.4 L320.2,175.1 L321.2,174.9 L322.2,174.6 L323.2,174.3 L324.2,174.1 L325.2,173.8 L326.2,173.5 L327.2,173.3 L328.2,173 L329.2,172.8 L330.2,172.5 L331.2,172.3 L332.2,172.1 L333.2,171.9 L334.2,171.7 L335.2,171.5 L336.2,171.4 L337.2,171.2 L338.2,171.1 L339.2,171.1 L340.2,171 L341.2,171 L342.2,171 L343.2,171 L344.2,171.1 L345.2,171.2 L346.2,171.3 L347.2,171.5 L348.2,171.6 L349.2,171.8 L350.2,172.1 L351.2,172.3 L352.2,172.5 L353.2,172.8 L354.2,173.1 L355.2,173.3 L356.2,173.6 L357.2,173.9 L358.2,174.2 L359.2,174.5 L360.2,174.8 L361.2,175.1 L362.2,175.4 L363.2,175.7 L364.2,175.9 L365.2,176.2 L366.2,176.5 L367.2,176.7 L368.2,177 L369.2,177.2 L370.2,177.4 L371.2,177.7 L372.2,177.9 L373.2,178.1 L374.2,178.3 L375.2,178.4 L376.2,178.6 L377.2,178.8 L378.2,178.9 L379.2,179 L380.2,179.2 L381.2,179.3 L382.2,179.4 L383.2,179.5 L384.2,179.6 L385.2,179.7 L386.2,179.8 L387.2,179.9 L388.2,180 L389.2,180.1 L390.2,180.1 L391.2,180.2 L392.2,180.3 L393.2,180.4 L394.2,180.4 L395.2,180.5 L396.2,180.6 L397.2,180.6 L398.2,180.7 L399.2,180.8 L400.2,180.8 L401.2,180.9 L402.2,181 L403.2,181 L404.2,181.1 L405.2,181.2 L406.2,181.3 L407.2,181.3 L408.2,181.4 L409.2,181.5 L410.2,181.6 L411.2,181.6 L412.2,181.7 L413.2,181.8 L414.2,181.8 L415.2,181.9 L416.2,182 L417.2,182 L418.2,182.1 L419.2,182.1 L420.2,182.2 L421.2,182.2 L422.2,182.3 L423.2,182.3 L424.2,182.3 L425.2,182.4 L426.2,182.4 L427.2,182.4 L428.2,182.4 L429.2,182.4 L430.2,182.5 L431.2,182.5 L432.2,182.5 L433.2,182.5 L434.2,182.5 L435.2,182.5 L436.2,182.5 L437.2,182.5 L438.2,182.5 L439.2,182.5 L440.2,182.5 L441.2,182.6 L442.2,182.6 L443.2,182.6 L444.2,182.6 L445.2,182.6 L446.2,182.6 L447.2,182.6 L448.2,182.6 L449.2,182.6 L450.2,182.6 L451.2,182.6 L452.2,182.6 L453.2,182.6 L454.2,182.6 L455.2,182.6 L456.2,182.6" fill="none" stroke="#ecd83a" stroke-width="0.9"/>
<path d="M284,179.4 L285,179.4 L286,179.4 L287,179.4 L288,179.4 L289,179.4 L290,179.4 L291,179.4 L292,179.4 L293,179.4 L294,179.4 L295,179.4 L296,179.4 L297,179.4 L298,179.4 L299,179.4 L300,179.4 L301,179.4 L302,179.4 L303,179.4 L304,179.4 L305,179.4 L306,179.4 L307,179.4 L308,179.4 L309,179.4 L310,179.5 L311,179.5 L312,179.5 L313,179.5 L314,179.5 L315,179.5 L316,179.5 L317,179.5 L318,179.5 L319,179.5 L320,179.5 L321,179.5 L322,179.5 L323,179.5 L324,179.5 L325,179.5 L326,179.5 L327,179.5 L328,179.6 L329,179.6 L330,179.6 L331,179.6 L332,179.6 L333,179.6 L334,179.6 L335,179.6 L336,179.6 L337,179.7 L338,179.7 L339,179.7 L340,179.7 L341,179.7 L342,179.7 L343,179.7 L344,179.7 L345,179.7 L346,179.7 L347,179.7 L348,179.7 L349,179.8 L350,179.8 L351,179.8 L352,179.8 L353,179.8 L354,179.8 L355,179.8 L356,179.7 L357,179.7 L358,179.7 L359,179.7 L360,179.7 L361,179.6 L362,179.6 L363,179.6 L364,179.5 L365,179.4 L366,179.4 L367,179.3 L368,179.1 L369,179 L370,178.8 L371,178.7 L372,178.4 L373,178.2 L374,177.9 L375,177.6 L376,177.2 L377,176.8 L378,176.3 L379,175.8 L380,175.2 L381,174.6 L382,173.9 L383,173.1 L384,172.3 L385,171.5 L386,170.6 L387,169.7 L388,168.8 L389,167.8 L390,166.9 L391,165.9 L392,165 L393,164.1 L394,163.2 L395,162.5 L396,161.8 L397,161.2 L398,160.7 L399,160.4 L400,160.2 L401,160.2 L402,160.3 L403,160.6 L404,161.1 L405,161.6 L406,162.3 L407,163.1 L408,164 L409,164.9 L410,165.9 L411,166.9 L412,168 L413,169 L414,170.1 L415,171.1 L416,172.1 L417,173.1 L418,174 L419,174.8 L420,175.6 L421,176.4 L422,177 L423,177.7 L424,178.2 L425,178.7 L426,179.2 L427,179.6 L428,180 L429,180.3 L430,180.6 L431,180.8 L432,181 L433,181.2 L434,181.3 L435,181.5 L436,181.6 L437,181.7 L438,181.8 L439,181.8 L440,181.9 L441,182 L442,182 L443,182.1 L444,182.1 L445,182.1 L446,182.2 L447,182.2 L448,182.2 L449,182.2 L450,182.2 L451,182.3 L452,182.3 L453,182.3 L454,182.3 L455,182.3 L456,182.3 L457,182.4 L458,182.4 L459,182.4 L460,182.4 L461,182.4 L462,182.4 L463,182.4 L464,182.4 L465,182.4 L466,182.4 L467,182.5 L468,182.5 L469,182.5 L470,182.5 L471,182.5 L472,182.5 L473,182.5 L474,182.5 L475,182.5 L476,182.5" fill="none" stroke="#8490d0" stroke-width="0.9"/>
<path d="M343.8,180 L344.8,180 L345.8,180 L346.8,180 L347.8,180 L348.8,180 L349.8,180.1 L350.8,180.1 L351.8,180.1 L352.8,180.1 L353.8,180.1 L354.8,180.1 L355.8,180.1 L356.8,180.2 L357.8,180.2 L358.8,180.2 L359.8,180.2 L360.8,180.2 L361.8,180.2 L362.8,180.2 L363.8,180.2 L364.8,180.2 L365.8,180.2 L366.8,180.2 L367.8,180.2 L368.8,180.2 L369.8,180.2 L370.8,180.3 L371.8,180.3 L372.8,180.3 L373.8,180.3 L374.8,180.3 L375.8,180.2 L376.8,180.2 L377.8,180.2 L378.8,180.2 L379.8,180.2 L380.8,180.2 L381.8,180.2 L382.8,180.2 L383.8,180.1 L384.8,180.1 L385.8,180 L386.8,179.9 L387.8,179.8 L388.8,179.6 L389.8,179.4 L390.8,179.2 L391.8,178.9 L392.8,178.5 L393.8,178 L394.8,177.4 L395.8,176.7 L396.8,176 L397.8,175 L398.8,174 L399.8,172.9 L400.8,171.6 L401.8,170.2 L402.8,168.8 L403.8,167.3 L404.8,165.8 L405.8,164.4 L406.8,163 L407.8,161.7 L408.8,160.5 L409.8,159.6 L410.8,158.9 L411.8,158.5 L412.8,158.4 L413.8,158.7 L414.8,159.2 L415.8,160 L416.8,161 L417.8,162.3 L418.8,163.7 L419.8,165.2 L420.8,166.8 L421.8,168.4 L422.8,169.9 L423.8,171.5 L424.8,172.9 L425.8,174.2 L426.8,175.4 L427.8,176.5 L428.8,177.5 L429.8,178.4 L430.8,179.1 L431.8,179.7 L432.8,180.2 L433.8,180.7 L434.8,181 L435.8,181.3 L436.8,181.5 L437.8,181.7 L438.8,181.9 L439.8,182 L440.8,182.1 L441.8,182.1 L442.8,182.2 L443.8,182.3 L444.8,182.3 L445.8,182.3 L446.8,182.3 L447.8,182.4 L448.8,182.4 L449.8,182.4 L450.8,182.4 L451.8,182.4 L452.8,182.5 L453.8,182.5 L454.8,182.5 L455.8,182.5 L456.8,182.5 L457.8,182.5 L458.8,182.5 L459.8,182.5 L460.8,182.5 L461.8,182.5 L462.8,182.5 L463.8,182.5 L464.8,182.6 L465.8,182.6 L466.8,182.6 L467.8,182.6 L468.8,182.6 L469.8,182.6 L470.8,182.6 L471.8,182.6 L472.8,182.6 L473.8,182.6 L474.8,182.6 L475.8,182.6" fill="none" stroke="#f08aa8" stroke-width="0.9"/>
<path d="M277.2,179.5 L278.2,179.5 L279.2,179.5 L280.2,179.5 L281.2,179.5 L282.2,179.5 L283.2,179.5 L284.2,179.5 L285.2,179.5 L286.2,179.5 L287.2,179.5 L288.2,179.5 L289.2,179.5 L290.2,179.5 L291.2,179.5 L292.2,179.5 L293.2,179.5 L294.2,179.5 L295.2,179.5 L296.2,179.5 L297.2,179.5 L298.2,179.5 L299.2,179.5 L300.2,179.5 L301.2,179.5 L302.2,179.5 L303.2,179.6 L304.2,179.6 L305.2,179.6 L306.2,179.6 L307.2,179.6 L308.2,179.6 L309.2,179.6 L310.2,179.6 L311.2,179.6 L312.2,179.6 L313.2,179.6 L314.2,179.6 L315.2,179.6 L316.2,179.6 L317.2,179.6 L318.2,179.6 L319.2,179.7 L320.2,179.7 L321.2,179.7 L322.2,179.7 L323.2,179.7 L324.2,179.7 L325.2,179.7 L326.2,179.7 L327.2,179.7 L328.2,179.8 L329.2,179.8 L330.2,179.8 L331.2,179.8 L332.2,179.8 L333.2,179.8 L334.2,179.9 L335.2,179.9 L336.2,179.9 L337.2,179.9 L338.2,179.9 L339.2,179.9 L340.2,180 L341.2,180 L342.2,180 L343.2,180 L344.2,180 L345.2,180.1 L346.2,180.1 L347.2,180.1 L348.2,180.1 L349.2,180.1 L350.2,180.2 L351.2,180.2 L352.2,180.2 L353.2,180.2 L354.2,180.2 L355.2,180.2 L356.2,180.3 L357.2,180.3 L358.2,180.3 L359.2,180.3 L360.2,180.3 L361.2,180.3 L362.2,180.4 L363.2,180.4 L364.2,180.4 L365.2,180.4 L366.2,180.4 L367.2,180.4 L368.2,180.4 L369.2,180.4 L370.2,180.5 L371.2,180.5 L372.2,180.5 L373.2,180.5 L374.2,180.5 L375.2,180.5 L376.2,180.5 L377.2,180.5 L378.2,180.5 L379.2,180.6 L380.2,180.6 L381.2,180.6 L382.2,180.6 L383.2,180.6 L384.2,180.6 L385.2,180.7 L386.2,180.7 L387.2,180.7 L388.2,180.7 L389.2,180.7 L390.2,180.8 L391.2,180.8 L392.2,180.8 L393.2,180.9 L394.2,180.9 L395.2,180.9 L396.2,181 L397.2,181 L398.2,181.1 L399.2,181.1 L400.2,181.2 L401.2,181.2 L402.2,181.3 L403.2,181.3 L404.2,181.4 L405.2,181.5 L406.2,181.5 L407.2,181.6 L408.2,181.6 L409.2,181.7 L410.2,181.8 L411.2,181.8 L412.2,181.9 L413.2,182 L414.2,182 L415.2,182.1 L416.2,182.2 L417.2,182.2 L418.2,182.3 L419.2,182.3 L420.2,182.3 L421.2,182.4 L422.2,182.4 L423.2,182.5 L424.2,182.5 L425.2,182.5 L426.2,182.5 L427.2,182.6 L428.2,182.6 L429.2,182.6 L430.2,182.6 L431.2,182.6 L432.2,182.6 L433.2,182.6 L434.2,182.6 L435.2,182.6 L436.2,182.6 L437.2,182.6 L438.2,182.6 L439.2,182.7 L440.2,182.7 L441.2,182.7 L442.2,182.7 L443.2,182.7 L444.2,182.7 L445.2,182.7 L446.2,182.7 L447.2,182.7 L448.2,182.7 L449.2,182.7 L450.2,182.7 L451.2,182.7 L452.2,182.7 L453.2,182.7 L454.2,182.7 L455.2,182.7 L456.2,182.7 L457.2,182.7 L458.2,182.7 L459.2,182.7 L460.2,182.7 L461.2,182.7 L462.2,182.7 L463.2,182.7 L464.2,182.7 L465.2,182.7 L466.2,182.7 L467.2,182.7 L468.2,182.7 L469.2,182.7 L470.2,182.7 L471.2,182.7 L472.2,182.7 L473.2,182.7 L474.2,182.7 L475.2,182.7" fill="none" stroke="#5a4d68" stroke-width="1.0"/>
<path d="M277.2,178.9 L278.2,178.9 L279.2,178.9 L280.2,178.8 L281.2,178.8 L282.2,178.8 L283.2,178.7 L284.2,178.7 L285.2,178.7 L286.2,178.6 L287.2,178.6 L288.2,178.5 L289.2,178.5 L290.2,178.4 L291.2,178.4 L292.2,178.3 L293.2,178.3 L294.2,178.2 L295.2,178.1 L296.2,178 L297.2,178 L298.2,177.9 L299.2,177.8 L300.2,177.6 L301.2,177.5 L302.2,177.4 L303.2,177.3 L304.2,177.1 L305.2,177 L306.2,176.8 L307.2,176.6 L308.2,176.5 L309.2,176.3 L310.2,176.1 L311.2,175.9 L312.2,175.6 L313.2,175.4 L314.2,175.1 L315.2,174.9 L316.2,174.6 L317.2,174.4 L318.2,174.1 L319.2,173.8 L320.2,173.5 L321.2,173.2 L322.2,172.9 L323.2,172.6 L324.2,172.3 L325.2,172 L326.2,171.7 L327.2,171.4 L328.2,171.1 L329.2,170.8 L330.2,170.5 L331.2,170.2 L332.2,169.9 L333.2,169.7 L334.2,169.5 L335.2,169.3 L336.2,169.1 L337.2,168.9 L338.2,168.8 L339.2,168.7 L340.2,168.6 L341.2,168.5 L342.2,168.5 L343.2,168.5 L344.2,168.6 L345.2,168.6 L346.2,168.7 L347.2,168.9 L348.2,169 L349.2,169.2 L350.2,169.4 L351.2,169.6 L352.2,169.8 L353.2,170 L354.2,170.3 L355.2,170.5 L356.2,170.8 L357.2,171.1 L358.2,171.3 L359.2,171.6 L360.2,171.9 L361.2,172.1 L362.2,172.4 L363.2,172.6 L364.2,172.8 L365.2,173 L366.2,173.2 L367.2,173.4 L368.2,173.5 L369.2,173.6 L370.2,173.7 L371.2,173.7 L372.2,173.7 L373.2,173.7 L374.2,173.6 L375.2,173.4 L376.2,173.2 L377.2,173 L378.2,172.6 L379.2,172.2 L380.2,171.8 L381.2,171.3 L382.2,170.7 L383.2,170 L384.2,169.3 L385.2,168.4 L386.2,167.6 L387.2,166.6 L388.2,165.6 L389.2,164.6 L390.2,163.5 L391.2,162.3 L392.2,161 L393.2,159.8 L394.2,158.5 L395.2,157.1 L396.2,155.7 L397.2,154.4 L398.2,153 L399.2,151.6 L400.2,150.3 L401.2,149 L402.2,147.7 L403.2,146.6 L404.2,145.5 L405.2,144.6 L406.2,143.8 L407.2,143.3 L408.2,142.9 L409.2,142.7 L410.2,142.9 L411.2,143.3 L412.2,144.1 L413.2,145.1 L414.2,146.4 L415.2,148.1 L416.2,149.9 L417.2,152 L418.2,154.2 L419.2,156.4 L420.2,158.7 L421.2,161 L422.2,163.3 L423.2,165.4 L424.2,167.5 L425.2,169.3 L426.2,171.1 L427.2,172.6 L428.2,174 L429.2,175.3 L430.2,176.3 L431.2,177.3 L432.2,178.1 L433.2,178.7 L434.2,179.3 L435.2,179.7 L436.2,180.1 L437.2,180.4 L438.2,180.7 L439.2,180.9 L440.2,181.1 L441.2,181.2 L442.2,181.3 L443.2,181.4 L444.2,181.5 L445.2,181.6 L446.2,181.6 L447.2,181.7 L448.2,181.7 L449.2,181.8 L450.2,181.8 L451.2,181.8 L452.2,181.9 L453.2,181.9 L454.2,181.9 L455.2,182 L456.2,182 L457.2,182 L458.2,182 L459.2,182.1 L460.2,182.1 L461.2,182.1 L462.2,182.1 L463.2,182.1 L464.2,182.2 L465.2,182.2 L466.2,182.2 L467.2,182.2 L468.2,182.2 L469.2,182.2 L470.2,182.2 L471.2,182.3 L472.2,182.3 L473.2,182.3 L474.2,182.3 L475.2,182.3" fill="none" stroke="#20c75a" stroke-width="3" stroke-dasharray="1.1 0.6" stroke-opacity="0.75"/>
<path d="M277.2,178.9 L278.2,178.9 L279.2,178.9 L280.2,178.8 L281.2,178.8 L282.2,178.8 L283.2,178.7 L284.2,178.7 L285.2,178.7 L286.2,178.6 L287.2,178.6 L288.2,178.5 L289.2,178.5 L290.2,178.4 L291.2,178.4 L292.2,178.3 L293.2,178.3 L294.2,178.2 L295.2,178.1 L296.2,178 L297.2,178 L298.2,177.9 L299.2,177.8 L300.2,177.6 L301.2,177.5 L302.2,177.4 L303.2,177.3 L304.2,177.1 L305.2,177 L306.2,176.8 L307.2,176.6 L308.2,176.5 L309.2,176.3 L310.2,176.1 L311.2,175.9 L312.2,175.6 L313.2,175.4 L314.2,175.1 L315.2,174.9 L316.2,174.6 L317.2,174.4 L318.2,174.1 L319.2,173.8 L320.2,173.5 L321.2,173.2 L322.2,172.9 L323.2,172.6 L324.2,172.3 L325.2,172 L326.2,171.7 L327.2,171.4 L328.2,171.1 L329.2,170.8 L330.2,170.5 L331.2,170.2 L332.2,169.9 L333.2,169.7 L334.2,169.5 L335.2,169.3 L336.2,169.1 L337.2,168.9 L338.2,168.8 L339.2,168.7 L340.2,168.6 L341.2,168.5 L342.2,168.5 L343.2,168.5 L344.2,168.6 L345.2,168.6 L346.2,168.7 L347.2,168.9 L348.2,169 L349.2,169.2 L350.2,169.4 L351.2,169.6 L352.2,169.8 L353.2,170 L354.2,170.3 L355.2,170.5 L356.2,170.8 L357.2,171.1 L358.2,171.3 L359.2,171.6 L360.2,171.9 L361.2,172.1 L362.2,172.4 L363.2,172.6 L364.2,172.8 L365.2,173 L366.2,173.2 L367.2,173.4 L368.2,173.5 L369.2,173.6 L370.2,173.7 L371.2,173.7 L372.2,173.7 L373.2,173.7 L374.2,173.6 L375.2,173.4 L376.2,173.2 L377.2,173 L378.2,172.6 L379.2,172.2 L380.2,171.8 L381.2,171.3 L382.2,170.7 L383.2,170 L384.2,169.3 L385.2,168.4 L386.2,167.6 L387.2,166.6 L388.2,165.6 L389.2,164.6 L390.2,163.5 L391.2,162.3 L392.2,161 L393.2,159.8 L394.2,158.5 L395.2,157.1 L396.2,155.7 L397.2,154.4 L398.2,153 L399.2,151.6 L400.2,150.3 L401.2,149 L402.2,147.7 L403.2,146.6 L404.2,145.5 L405.2,144.6 L406.2,143.8 L407.2,143.3 L408.2,142.9 L409.2,142.7 L410.2,142.9 L411.2,143.3 L412.2,144.1 L413.2,145.1 L414.2,146.4 L415.2,148.1 L416.2,149.9 L417.2,152 L418.2,154.2 L419.2,156.4 L420.2,158.7 L421.2,161 L422.2,163.3 L423.2,165.4 L424.2,167.5 L425.2,169.3 L426.2,171.1 L427.2,172.6 L428.2,174 L429.2,175.3 L430.2,176.3 L431.2,177.3 L432.2,178.1 L433.2,178.7 L434.2,179.3 L435.2,179.7 L436.2,180.1 L437.2,180.4 L438.2,180.7 L439.2,180.9 L440.2,181.1 L441.2,181.2 L442.2,181.3 L443.2,181.4 L444.2,181.5 L445.2,181.6 L446.2,181.6 L447.2,181.7 L448.2,181.7 L449.2,181.8 L450.2,181.8 L451.2,181.8 L452.2,181.9 L453.2,181.9 L454.2,181.9 L455.2,182 L456.2,182 L457.2,182 L458.2,182 L459.2,182.1 L460.2,182.1 L461.2,182.1 L462.2,182.1 L463.2,182.1 L464.2,182.2 L465.2,182.2 L466.2,182.2 L467.2,182.2 L468.2,182.2 L469.2,182.2 L470.2,182.2 L471.2,182.3 L472.2,182.3 L473.2,182.3 L474.2,182.3 L475.2,182.3" fill="none" stroke="#20c75a" stroke-width="1.4"/>
<path d="M298,228.5 L299,228.5 L300,228.5 L301,228.5 L302,228.5 L303,228.5 L304,228.5 L305,228.5 L306,228.4 L307,228.4 L308,228.4 L309,228.4 L310,228.4 L311,228.3 L312,228.3 L313,228.3 L314,228.2 L315,228.2 L316,228.2 L317,228.1 L318,228.1 L319,228 L320,228 L321,227.9 L322,227.9 L323,227.8 L324,227.7 L325,227.7 L326,227.6 L327,227.5 L328,227.5 L329,227.4 L330,227.3 L331,227.3 L332,227.2 L333,227.2 L334,227.1 L335,227 L336,227 L337,227 L338,226.9 L339,226.9 L340,226.9 L341,226.9 L342,226.9 L343,226.9 L344,226.9 L345,226.9 L346,227 L347,227 L348,227.1 L349,227.1 L350,227.2 L351,227.2 L352,227.3 L353,227.4 L354,227.4 L355,227.5 L356,227.6 L357,227.7 L358,227.7 L359,227.8 L360,227.9 L361,227.9 L362,228 L363,228.1 L364,228.1 L365,228.2 L366,228.3 L367,228.3 L368,228.4 L369,228.4 L370,228.5 L371,228.5 L372,228.6 L373,228.6 L374,228.6 L375,228.7 L376,228.7 L377,228.7 L378,228.8 L379,228.8 L380,228.8 L381,228.8 L382,228.9 L383,228.9 L384,228.9 L385,228.9 L386,229 L386,229 L385,229 L384,229 L383,229 L382,229 L381,229 L380,229 L379,228.9 L378,228.9 L377,228.9 L376,228.9 L375,228.9 L374,228.9 L373,228.9 L372,228.9 L371,228.9 L370,228.8 L369,228.8 L368,228.8 L367,228.8 L366,228.8 L365,228.8 L364,228.8 L363,228.8 L362,228.8 L361,228.8 L360,228.8 L359,228.8 L358,228.8 L357,228.8 L356,228.8 L355,228.7 L354,228.7 L353,228.7 L352,228.7 L351,228.7 L350,228.7 L349,228.7 L348,228.7 L347,228.7 L346,228.7 L345,228.7 L344,228.7 L343,228.7 L342,228.7 L341,228.7 L340,228.7 L339,228.7 L338,228.7 L337,228.7 L336,228.7 L335,228.7 L334,228.7 L333,228.7 L332,228.6 L331,228.6 L330,228.6 L329,228.6 L328,228.6 L327,228.6 L326,228.6 L325,228.6 L324,228.6 L323,228.6 L322,228.6 L321,228.6 L320,228.6 L319,228.6 L318,228.6 L317,228.6 L316,228.6 L315,228.6 L314,228.6 L313,228.6 L312,228.6 L311,228.6 L310,228.6 L309,228.6 L308,228.6 L307,228.6 L306,228.6 L305,228.6 L304,228.6 L303,228.6 L302,228.6 L301,228.6 L300,228.6 L299,228.6 L298,228.6 Z" fill="#fdf8dc" fill-opacity="0.85" stroke="none"/>
<path d="M296,228.5 L297,228.5 L298,228.5 L299,228.5 L300,228.5 L301,228.5 L302,228.5 L303,228.5 L304,228.5 L305,228.5 L306,228.5 L307,228.5 L308,228.5 L309,228.5 L310,228.5 L311,228.5 L312,228.5 L313,228.5 L314,228.5 L315,228.5 L316,228.5 L317,228.5 L318,228.5 L319,228.5 L320,228.5 L321,228.5 L322,228.5 L323,228.5 L324,228.4 L325,228.4 L326,228.4 L327,228.4 L328,228.4 L329,228.4 L330,228.4 L331,228.4 L332,228.4 L333,228.3 L334,228.3 L335,228.3 L336,228.3 L337,228.2 L338,228.2 L339,228.2 L340,228.1 L341,228.1 L342,228.1 L343,228 L344,227.9 L345,227.9 L346,227.8 L347,227.7 L348,227.7 L349,227.6 L350,227.5 L351,227.4 L352,227.2 L353,227.1 L354,227 L355,226.9 L356,226.7 L357,226.6 L358,226.4 L359,226.2 L360,226.1 L361,225.9 L362,225.7 L363,225.5 L364,225.3 L365,225.1 L366,224.9 L367,224.7 L368,224.5 L369,224.3 L370,224.1 L371,223.8 L372,223.6 L373,223.4 L374,223.3 L375,223.1 L376,222.9 L377,222.7 L378,222.6 L379,222.5 L380,222.3 L381,222.2 L382,222.2 L383,222.1 L384,222 L385,222 L386,222 L387,222.1 L388,222.1 L389,222.2 L390,222.3 L391,222.4 L392,222.5 L393,222.6 L394,222.8 L395,223 L396,223.2 L397,223.4 L398,223.6 L399,223.8 L400,224.1 L401,224.3 L402,224.5 L403,224.8 L404,225.1 L405,225.3 L406,225.6 L407,225.8 L408,226.1 L409,226.3 L410,226.6 L411,226.8 L412,227.1 L413,227.3 L414,227.6 L415,227.8 L416,228 L417,228.2 L418,228.4 L419,228.6 L420,228.8 L421,229 L422,229.2 L423,229.4 L424,229.5 L425,229.6 L426,229.8 L427,229.9 L428,230 L429,230.1 L430,230.2 L431,230.3 L432,230.4 L433,230.4 L434,230.5 L435,230.5 L436,230.6 L437,230.6 L438,230.7 L439,230.7 L440,230.7 L441,230.8 L442,230.8 L443,230.8 L444,230.8 L445,230.8 L446,230.9 L447,230.9 L448,230.9 L449,230.9 L450,230.9 L451,230.9 L452,230.9 L453,230.9 L454,230.9 L455,230.9 L456,231 L457,231 L458,231 L459,231 L460,231 L461,231 L462,231 L463,231 L464,231 L465,231 L466,231 L467,231 L468,231 L469,231 L470,231 L471,231 L472,231 L473,231 L474,231 L475,231 L476,231 L476,231.1 L475,231.1 L474,231.1 L473,231.1 L472,231.1 L471,231.1 L470,231.1 L469,231.1 L468,231.1 L467,231.1 L466,231.1 L465,231.1 L464,231.1 L463,231.1 L462,231.1 L461,231.1 L460,231.1 L459,231.1 L458,231.1 L457,231.1 L456,231.1 L455,231.1 L454,231.1 L453,231.1 L452,231.1 L451,231.1 L450,231.1 L449,231.1 L448,231.1 L447,231.1 L446,231.1 L445,231.1 L444,231.1 L443,231 L442,231 L441,231 L440,231 L439,231 L438,231 L437,231 L436,231 L435,231 L434,230.9 L433,230.9 L432,230.9 L431,230.9 L430,230.8 L429,230.8 L428,230.8 L427,230.7 L426,230.7 L425,230.6 L424,230.6 L423,230.5 L422,230.4 L421,230.4 L420,230.3 L419,230.3 L418,230.2 L417,230.1 L416,230.1 L415,230 L414,229.9 L413,229.9 L412,229.8 L411,229.7 L410,229.7 L409,229.6 L408,229.6 L407,229.5 L406,229.5 L405,229.5 L404,229.4 L403,229.4 L402,229.3 L401,229.3 L400,229.3 L399,229.3 L398,229.2 L397,229.2 L396,229.2 L395,229.2 L394,229.2 L393,229.1 L392,229.1 L391,229.1 L390,229.1 L389,229.1 L388,229.1 L387,229 L386,229 L385,229 L384,229 L383,229 L382,229 L381,229 L380,229 L379,228.9 L378,228.9 L377,228.9 L376,228.9 L375,228.9 L374,228.9 L373,228.9 L372,228.9 L371,228.9 L370,228.8 L369,228.8 L368,228.8 L367,228.8 L366,228.8 L365,228.8 L364,228.8 L363,228.8 L362,228.8 L361,228.8 L360,228.8 L359,228.8 L358,228.8 L357,228.8 L356,228.8 L355,228.7 L354,228.7 L353,228.7 L352,228.7 L351,228.7 L350,228.7 L349,228.7 L348,228.7 L347,228.7 L346,228.7 L345,228.7 L344,228.7 L343,228.7 L342,228.7 L341,228.7 L340,228.7 L339,228.7 L338,228.7 L337,228.7 L336,228.7 L335,228.7 L334,228.7 L333,228.7 L332,228.6 L331,228.6 L330,228.6 L329,228.6 L328,228.6 L327,228.6 L326,228.6 L325,228.6 L324,228.6 L323,228.6 L322,228.6 L321,228.6 L320,228.6 L319,228.6 L318,228.6 L317,228.6 L316,228.6 L315,228.6 L314,228.6 L313,228.6 L312,228.6 L311,228.6 L310,228.6 L309,228.6 L308,228.6 L307,228.6 L306,228.6 L305,228.6 L304,228.6 L303,228.6 L302,228.6 L301,228.6 L300,228.6 L299,228.6 L298,228.6 L297,228.6 L296,228.6 Z" fill="#c8cde9" fill-opacity="0.85" stroke="none"/>
<path d="M308,228.5 L309,228.5 L310,228.5 L311,228.5 L312,228.5 L313,228.5 L314,228.5 L315,228.5 L316,228.5 L317,228.5 L318,228.5 L319,228.5 L320,228.5 L321,228.5 L322,228.5 L323,228.5 L324,228.5 L325,228.5 L326,228.5 L327,228.5 L328,228.5 L329,228.5 L330,228.5 L331,228.5 L332,228.5 L333,228.5 L334,228.5 L335,228.5 L336,228.5 L337,228.5 L338,228.5 L339,228.5 L340,228.5 L341,228.5 L342,228.5 L343,228.5 L344,228.5 L345,228.5 L346,228.5 L347,228.5 L348,228.5 L349,228.5 L350,228.5 L351,228.5 L352,228.5 L353,228.5 L354,228.5 L355,228.5 L356,228.5 L357,228.5 L358,228.5 L359,228.5 L360,228.5 L361,228.5 L362,228.5 L363,228.5 L364,228.5 L365,228.5 L366,228.5 L367,228.5 L368,228.5 L369,228.5 L370,228.4 L371,228.4 L372,228.4 L373,228.4 L374,228.4 L375,228.4 L376,228.4 L377,228.3 L378,228.3 L379,228.3 L380,228.2 L381,228.2 L382,228.1 L383,228 L384,227.9 L385,227.8 L386,227.6 L387,227.4 L388,227.2 L389,226.9 L390,226.5 L391,226.1 L392,225.5 L393,224.9 L394,224.2 L395,223.4 L396,222.5 L397,221.4 L398,220.2 L399,218.9 L400,217.4 L401,215.8 L402,214.1 L403,212.2 L404,210.3 L405,208.3 L406,206.3 L407,204.2 L408,202.1 L409,200.1 L410,198.2 L411,196.5 L412,194.9 L413,193.6 L414,192.5 L415,191.7 L416,191.2 L417,191.1 L418,191.4 L419,192 L420,192.9 L421,194.1 L422,195.5 L423,197.2 L424,199.1 L425,201.1 L426,203.2 L427,205.4 L428,207.5 L429,209.7 L430,211.7 L431,213.7 L432,215.6 L433,217.4 L434,219.1 L435,220.6 L436,222 L437,223.2 L438,224.3 L439,225.3 L440,226.1 L441,226.8 L442,227.5 L443,228 L444,228.5 L445,228.8 L446,229.2 L447,229.4 L448,229.6 L449,229.8 L450,230 L451,230.1 L452,230.2 L453,230.3 L454,230.4 L455,230.4 L456,230.5 L457,230.5 L458,230.5 L459,230.6 L460,230.6 L461,230.6 L462,230.6 L463,230.7 L464,230.7 L465,230.7 L466,230.7 L467,230.7 L468,230.7 L469,230.8 L470,230.8 L471,230.8 L472,230.8 L473,230.8 L474,230.8 L475,230.8 L476,230.8 L476,231.1 L475,231.1 L474,231.1 L473,231.1 L472,231.1 L471,231.1 L470,231.1 L469,231.1 L468,231.1 L467,231.1 L466,231.1 L465,231.1 L464,231.1 L463,231.1 L462,231.1 L461,231.1 L460,231.1 L459,231.1 L458,231.1 L457,231.1 L456,231.1 L455,231.1 L454,231.1 L453,231.1 L452,231.1 L451,231.1 L450,231.1 L449,231.1 L448,231.1 L447,231.1 L446,231.1 L445,231.1 L444,231.1 L443,231 L442,231 L441,231 L440,231 L439,231 L438,231 L437,231 L436,231 L435,231 L434,230.9 L433,230.9 L432,230.9 L431,230.9 L430,230.8 L429,230.8 L428,230.8 L427,230.7 L426,230.7 L425,230.6 L424,230.6 L423,230.5 L422,230.4 L421,230.4 L420,230.3 L419,230.3 L418,230.2 L417,230.1 L416,230.1 L415,230 L414,229.9 L413,229.9 L412,229.8 L411,229.7 L410,229.7 L409,229.6 L408,229.6 L407,229.5 L406,229.5 L405,229.5 L404,229.4 L403,229.4 L402,229.3 L401,229.3 L400,229.3 L399,229.3 L398,229.2 L397,229.2 L396,229.2 L395,229.2 L394,229.2 L393,229.1 L392,229.1 L391,229.1 L390,229.1 L389,229.1 L388,229.1 L387,229 L386,229 L385,229 L384,229 L383,229 L382,229 L381,229 L380,229 L379,228.9 L378,228.9 L377,228.9 L376,228.9 L375,228.9 L374,228.9 L373,228.9 L372,228.9 L371,228.9 L370,228.8 L369,228.8 L368,228.8 L367,228.8 L366,228.8 L365,228.8 L364,228.8 L363,228.8 L362,228.8 L361,228.8 L360,228.8 L359,228.8 L358,228.8 L357,228.8 L356,228.8 L355,228.7 L354,228.7 L353,228.7 L352,228.7 L351,228.7 L350,228.7 L349,228.7 L348,228.7 L347,228.7 L346,228.7 L345,228.7 L344,228.7 L343,228.7 L342,228.7 L341,228.7 L340,228.7 L339,228.7 L338,228.7 L337,228.7 L336,228.7 L335,228.7 L334,228.7 L333,228.7 L332,228.6 L331,228.6 L330,228.6 L329,228.6 L328,228.6 L327,228.6 L326,228.6 L325,228.6 L324,228.6 L323,228.6 L322,228.6 L321,228.6 L320,228.6 L319,228.6 L318,228.6 L317,228.6 L316,228.6 L315,228.6 L314,228.6 L313,228.6 L312,228.6 L311,228.6 L310,228.6 L309,228.6 L308,228.6 Z" fill="#fbd3df" fill-opacity="0.85" stroke="none"/>
<path d="M298,228.5 L299,228.5 L300,228.5 L301,228.5 L302,228.5 L303,228.5 L304,228.5 L305,228.5 L306,228.4 L307,228.4 L308,228.4 L309,228.4 L310,228.4 L311,228.3 L312,228.3 L313,228.3 L314,228.2 L315,228.2 L316,228.2 L317,228.1 L318,228.1 L319,228 L320,228 L321,227.9 L322,227.9 L323,227.8 L324,227.7 L325,227.7 L326,227.6 L327,227.5 L328,227.5 L329,227.4 L330,227.3 L331,227.3 L332,227.2 L333,227.2 L334,227.1 L335,227 L336,227 L337,227 L338,226.9 L339,226.9 L340,226.9 L341,226.9 L342,226.9 L343,226.9 L344,226.9 L345,226.9 L346,227 L347,227 L348,227.1 L349,227.1 L350,227.2 L351,227.2 L352,227.3 L353,227.4 L354,227.4 L355,227.5 L356,227.6 L357,227.7 L358,227.7 L359,227.8 L360,227.9 L361,227.9 L362,228 L363,228.1 L364,228.1 L365,228.2 L366,228.3 L367,228.3 L368,228.4 L369,228.4 L370,228.5 L371,228.5 L372,228.6 L373,228.6 L374,228.6 L375,228.7 L376,228.7 L377,228.7 L378,228.8 L379,228.8 L380,228.8 L381,228.8 L382,228.9 L383,228.9 L384,228.9 L385,228.9 L386,229" fill="none" stroke="#ecd83a" stroke-width="0.9"/>
<path d="M296,228.5 L297,228.5 L298,228.5 L299,228.5 L300,228.5 L301,228.5 L302,228.5 L303,228.5 L304,228.5 L305,228.5 L306,228.5 L307,228.5 L308,228.5 L309,228.5 L310,228.5 L311,228.5 L312,228.5 L313,228.5 L314,228.5 L315,228.5 L316,228.5 L317,228.5 L318,228.5 L319,228.5 L320,228.5 L321,228.5 L322,228.5 L323,228.5 L324,228.4 L325,228.4 L326,228.4 L327,228.4 L328,228.4 L329,228.4 L330,228.4 L331,228.4 L332,228.4 L333,228.3 L334,228.3 L335,228.3 L336,228.3 L337,228.2 L338,228.2 L339,228.2 L340,228.1 L341,228.1 L342,228.1 L343,228 L344,227.9 L345,227.9 L346,227.8 L347,227.7 L348,227.7 L349,227.6 L350,227.5 L351,227.4 L352,227.2 L353,227.1 L354,227 L355,226.9 L356,226.7 L357,226.6 L358,226.4 L359,226.2 L360,226.1 L361,225.9 L362,225.7 L363,225.5 L364,225.3 L365,225.1 L366,224.9 L367,224.7 L368,224.5 L369,224.3 L370,224.1 L371,223.8 L372,223.6 L373,223.4 L374,223.3 L375,223.1 L376,222.9 L377,222.7 L378,222.6 L379,222.5 L380,222.3 L381,222.2 L382,222.2 L383,222.1 L384,222 L385,222 L386,222 L387,222.1 L388,222.1 L389,222.2 L390,222.3 L391,222.4 L392,222.5 L393,222.6 L394,222.8 L395,223 L396,223.2 L397,223.4 L398,223.6 L399,223.8 L400,224.1 L401,224.3 L402,224.5 L403,224.8 L404,225.1 L405,225.3 L406,225.6 L407,225.8 L408,226.1 L409,226.3 L410,226.6 L411,226.8 L412,227.1 L413,227.3 L414,227.6 L415,227.8 L416,228 L417,228.2 L418,228.4 L419,228.6 L420,228.8 L421,229 L422,229.2 L423,229.4 L424,229.5 L425,229.6 L426,229.8 L427,229.9 L428,230 L429,230.1 L430,230.2 L431,230.3 L432,230.4 L433,230.4 L434,230.5 L435,230.5 L436,230.6 L437,230.6 L438,230.7 L439,230.7 L440,230.7 L441,230.8 L442,230.8 L443,230.8 L444,230.8 L445,230.8 L446,230.9 L447,230.9 L448,230.9 L449,230.9 L450,230.9 L451,230.9 L452,230.9 L453,230.9 L454,230.9 L455,230.9 L456,231 L457,231 L458,231 L459,231 L460,231 L461,231 L462,231 L463,231 L464,231 L465,231 L466,231 L467,231 L468,231 L469,231 L470,231 L471,231 L472,231 L473,231 L474,231 L475,231 L476,231" fill="none" stroke="#8490d0" stroke-width="0.9"/>
<path d="M308,228.5 L309,228.5 L310,228.5 L311,228.5 L312,228.5 L313,228.5 L314,228.5 L315,228.5 L316,228.5 L317,228.5 L318,228.5 L319,228.5 L320,228.5 L321,228.5 L322,228.5 L323,228.5 L324,228.5 L325,228.5 L326,228.5 L327,228.5 L328,228.5 L329,228.5 L330,228.5 L331,228.5 L332,228.5 L333,228.5 L334,228.5 L335,228.5 L336,228.5 L337,228.5 L338,228.5 L339,228.5 L340,228.5 L341,228.5 L342,228.5 L343,228.5 L344,228.5 L345,228.5 L346,228.5 L347,228.5 L348,228.5 L349,228.5 L350,228.5 L351,228.5 L352,228.5 L353,228.5 L354,228.5 L355,228.5 L356,228.5 L357,228.5 L358,228.5 L359,228.5 L360,228.5 L361,228.5 L362,228.5 L363,228.5 L364,228.5 L365,228.5 L366,228.5 L367,228.5 L368,228.5 L369,228.5 L370,228.4 L371,228.4 L372,228.4 L373,228.4 L374,228.4 L375,228.4 L376,228.4 L377,228.3 L378,228.3 L379,228.3 L380,228.2 L381,228.2 L382,228.1 L383,228 L384,227.9 L385,227.8 L386,227.6 L387,227.4 L388,227.2 L389,226.9 L390,226.5 L391,226.1 L392,225.5 L393,224.9 L394,224.2 L395,223.4 L396,222.5 L397,221.4 L398,220.2 L399,218.9 L400,217.4 L401,215.8 L402,214.1 L403,212.2 L404,210.3 L405,208.3 L406,206.3 L407,204.2 L408,202.1 L409,200.1 L410,198.2 L411,196.5 L412,194.9 L413,193.6 L414,192.5 L415,191.7 L416,191.2 L417,191.1 L418,191.4 L419,192 L420,192.9 L421,194.1 L422,195.5 L423,197.2 L424,199.1 L425,201.1 L426,203.2 L427,205.4 L428,207.5 L429,209.7 L430,211.7 L431,213.7 L432,215.6 L433,217.4 L434,219.1 L435,220.6 L436,222 L437,223.2 L438,224.3 L439,225.3 L440,226.1 L441,226.8 L442,227.5 L443,228 L444,228.5 L445,228.8 L446,229.2 L447,229.4 L448,229.6 L449,229.8 L450,230 L451,230.1 L452,230.2 L453,230.3 L454,230.4 L455,230.4 L456,230.5 L457,230.5 L458,230.5 L459,230.6 L460,230.6 L461,230.6 L462,230.6 L463,230.7 L464,230.7 L465,230.7 L466,230.7 L467,230.7 L468,230.7 L469,230.8 L470,230.8 L471,230.8 L472,230.8 L473,230.8 L474,230.8 L475,230.8 L476,230.8" fill="none" stroke="#f08aa8" stroke-width="0.9"/>
<path d="M277.2,228.6 L278.2,228.6 L279.2,228.6 L280.2,228.6 L281.2,228.6 L282.2,228.6 L283.2,228.6 L284.2,228.6 L285.2,228.6 L286.2,228.6 L287.2,228.6 L288.2,228.6 L289.2,228.6 L290.2,228.6 L291.2,228.6 L292.2,228.6 L293.2,228.6 L294.2,228.6 L295.2,228.6 L296.2,228.6 L297.2,228.6 L298.2,228.6 L299.2,228.6 L300.2,228.6 L301.2,228.6 L302.2,228.6 L303.2,228.6 L304.2,228.6 L305.2,228.6 L306.2,228.6 L307.2,228.6 L308.2,228.6 L309.2,228.6 L310.2,228.6 L311.2,228.6 L312.2,228.6 L313.2,228.6 L314.2,228.6 L315.2,228.6 L316.2,228.6 L317.2,228.6 L318.2,228.6 L319.2,228.6 L320.2,228.6 L321.2,228.6 L322.2,228.6 L323.2,228.6 L324.2,228.6 L325.2,228.6 L326.2,228.6 L327.2,228.6 L328.2,228.6 L329.2,228.6 L330.2,228.6 L331.2,228.6 L332.2,228.6 L333.2,228.7 L334.2,228.7 L335.2,228.7 L336.2,228.7 L337.2,228.7 L338.2,228.7 L339.2,228.7 L340.2,228.7 L341.2,228.7 L342.2,228.7 L343.2,228.7 L344.2,228.7 L345.2,228.7 L346.2,228.7 L347.2,228.7 L348.2,228.7 L349.2,228.7 L350.2,228.7 L351.2,228.7 L352.2,228.7 L353.2,228.7 L354.2,228.7 L355.2,228.7 L356.2,228.8 L357.2,228.8 L358.2,228.8 L359.2,228.8 L360.2,228.8 L361.2,228.8 L362.2,228.8 L363.2,228.8 L364.2,228.8 L365.2,228.8 L366.2,228.8 L367.2,228.8 L368.2,228.8 L369.2,228.8 L370.2,228.9 L371.2,228.9 L372.2,228.9 L373.2,228.9 L374.2,228.9 L375.2,228.9 L376.2,228.9 L377.2,228.9 L378.2,228.9 L379.2,228.9 L380.2,229 L381.2,229 L382.2,229 L383.2,229 L384.2,229 L385.2,229 L386.2,229 L387.2,229 L388.2,229.1 L389.2,229.1 L390.2,229.1 L391.2,229.1 L392.2,229.1 L393.2,229.1 L394.2,229.2 L395.2,229.2 L396.2,229.2 L397.2,229.2 L398.2,229.2 L399.2,229.3 L400.2,229.3 L401.2,229.3 L402.2,229.3 L403.2,229.4 L404.2,229.4 L405.2,229.5 L406.2,229.5 L407.2,229.5 L408.2,229.6 L409.2,229.6 L410.2,229.7 L411.2,229.8 L412.2,229.8 L413.2,229.9 L414.2,229.9 L415.2,230 L416.2,230.1 L417.2,230.1 L418.2,230.2 L419.2,230.3 L420.2,230.3 L421.2,230.4 L422.2,230.5 L423.2,230.5 L424.2,230.6 L425.2,230.6 L426.2,230.7 L427.2,230.7 L428.2,230.8 L429.2,230.8 L430.2,230.8 L431.2,230.9 L432.2,230.9 L433.2,230.9 L434.2,230.9 L435.2,231 L436.2,231 L437.2,231 L438.2,231 L439.2,231 L440.2,231 L441.2,231 L442.2,231 L443.2,231 L444.2,231.1 L445.2,231.1 L446.2,231.1 L447.2,231.1 L448.2,231.1 L449.2,231.1 L450.2,231.1 L451.2,231.1 L452.2,231.1 L453.2,231.1 L454.2,231.1 L455.2,231.1 L456.2,231.1 L457.2,231.1 L458.2,231.1 L459.2,231.1 L460.2,231.1 L461.2,231.1 L462.2,231.1 L463.2,231.1 L464.2,231.1 L465.2,231.1 L466.2,231.1 L467.2,231.1 L468.2,231.1 L469.2,231.1 L470.2,231.1 L471.2,231.1 L472.2,231.1 L473.2,231.1 L474.2,231.1 L475.2,231.1" fill="none" stroke="#5a4d68" stroke-width="1.0"/>
<path d="M277.2,228.5 L278.2,228.5 L279.2,228.5 L280.2,228.5 L281.2,228.5 L282.2,228.5 L283.2,228.5 L284.2,228.5 L285.2,228.4 L286.2,228.4 L287.2,228.4 L288.2,228.4 L289.2,228.4 L290.2,228.4 L291.2,228.4 L292.2,228.4 L293.2,228.4 L294.2,228.4 L295.2,228.4 L296.2,228.4 L297.2,228.4 L298.2,228.4 L299.2,228.4 L300.2,228.4 L301.2,228.3 L302.2,228.3 L303.2,228.3 L304.2,228.3 L305.2,228.3 L306.2,228.3 L307.2,228.2 L308.2,228.2 L309.2,228.2 L310.2,228.2 L311.2,228.1 L312.2,228.1 L313.2,228.1 L314.2,228 L315.2,228 L316.2,227.9 L317.2,227.9 L318.2,227.8 L319.2,227.8 L320.2,227.7 L321.2,227.6 L322.2,227.6 L323.2,227.5 L324.2,227.4 L325.2,227.3 L326.2,227.3 L327.2,227.2 L328.2,227.1 L329.2,227 L330.2,226.9 L331.2,226.9 L332.2,226.8 L333.2,226.7 L334.2,226.6 L335.2,226.5 L336.2,226.5 L337.2,226.4 L338.2,226.3 L339.2,226.3 L340.2,226.2 L341.2,226.1 L342.2,226.1 L343.2,226 L344.2,226 L345.2,225.9 L346.2,225.9 L347.2,225.8 L348.2,225.8 L349.2,225.7 L350.2,225.7 L351.2,225.6 L352.2,225.6 L353.2,225.5 L354.2,225.4 L355.2,225.4 L356.2,225.3 L357.2,225.2 L358.2,225.1 L359.2,225 L360.2,224.9 L361.2,224.7 L362.2,224.6 L363.2,224.4 L364.2,224.3 L365.2,224.1 L366.2,224 L367.2,223.8 L368.2,223.6 L369.2,223.4 L370.2,223.2 L371.2,223 L372.2,222.9 L373.2,222.7 L374.2,222.5 L375.2,222.3 L376.2,222.1 L377.2,221.9 L378.2,221.8 L379.2,221.6 L380.2,221.4 L381.2,221.3 L382.2,221.1 L383.2,221 L384.2,220.8 L385.2,220.7 L386.2,220.5 L387.2,220.3 L388.2,220.1 L389.2,219.8 L390.2,219.6 L391.2,219.2 L392.2,218.8 L393.2,218.3 L394.2,217.7 L395.2,217 L396.2,216.3 L397.2,215.4 L398.2,214.3 L399.2,213.2 L400.2,211.9 L401.2,210.5 L402.2,208.9 L403.2,207.3 L404.2,205.6 L405.2,203.8 L406.2,201.9 L407.2,200.1 L408.2,198.2 L409.2,196.5 L410.2,194.8 L411.2,193.3 L412.2,191.9 L413.2,190.8 L414.2,189.9 L415.2,189.4 L416.2,189.2 L417.2,189.3 L418.2,189.7 L419.2,190.5 L420.2,191.6 L421.2,193 L422.2,194.6 L423.2,196.5 L424.2,198.4 L425.2,200.6 L426.2,202.8 L427.2,205 L428.2,207.2 L429.2,209.4 L430.2,211.5 L431.2,213.5 L432.2,215.5 L433.2,217.3 L434.2,218.9 L435.2,220.4 L436.2,221.8 L437.2,223.1 L438.2,224.2 L439.2,225.1 L440.2,226 L441.2,226.7 L442.2,227.3 L443.2,227.9 L444.2,228.3 L445.2,228.7 L446.2,229 L447.2,229.3 L448.2,229.5 L449.2,229.7 L450.2,229.8 L451.2,230 L452.2,230.1 L453.2,230.1 L454.2,230.2 L455.2,230.3 L456.2,230.3 L457.2,230.4 L458.2,230.4 L459.2,230.4 L460.2,230.5 L461.2,230.5 L462.2,230.5 L463.2,230.6 L464.2,230.6 L465.2,230.6 L466.2,230.6 L467.2,230.6 L468.2,230.6 L469.2,230.7 L470.2,230.7 L471.2,230.7 L472.2,230.7 L473.2,230.7 L474.2,230.7 L475.2,230.7" fill="none" stroke="#25a6e0" stroke-width="3" stroke-dasharray="1.1 0.6" stroke-opacity="0.75"/>
<path d="M277.2,228.5 L278.2,228.5 L279.2,228.5 L280.2,228.5 L281.2,228.5 L282.2,228.5 L283.2,228.5 L284.2,228.5 L285.2,228.4 L286.2,228.4 L287.2,228.4 L288.2,228.4 L289.2,228.4 L290.2,228.4 L291.2,228.4 L292.2,228.4 L293.2,228.4 L294.2,228.4 L295.2,228.4 L296.2,228.4 L297.2,228.4 L298.2,228.4 L299.2,228.4 L300.2,228.4 L301.2,228.3 L302.2,228.3 L303.2,228.3 L304.2,228.3 L305.2,228.3 L306.2,228.3 L307.2,228.2 L308.2,228.2 L309.2,228.2 L310.2,228.2 L311.2,228.1 L312.2,228.1 L313.2,228.1 L314.2,228 L315.2,228 L316.2,227.9 L317.2,227.9 L318.2,227.8 L319.2,227.8 L320.2,227.7 L321.2,227.6 L322.2,227.6 L323.2,227.5 L324.2,227.4 L325.2,227.3 L326.2,227.3 L327.2,227.2 L328.2,227.1 L329.2,227 L330.2,226.9 L331.2,226.9 L332.2,226.8 L333.2,226.7 L334.2,226.6 L335.2,226.5 L336.2,226.5 L337.2,226.4 L338.2,226.3 L339.2,226.3 L340.2,226.2 L341.2,226.1 L342.2,226.1 L343.2,226 L344.2,226 L345.2,225.9 L346.2,225.9 L347.2,225.8 L348.2,225.8 L349.2,225.7 L350.2,225.7 L351.2,225.6 L352.2,225.6 L353.2,225.5 L354.2,225.4 L355.2,225.4 L356.2,225.3 L357.2,225.2 L358.2,225.1 L359.2,225 L360.2,224.9 L361.2,224.7 L362.2,224.6 L363.2,224.4 L364.2,224.3 L365.2,224.1 L366.2,224 L367.2,223.8 L368.2,223.6 L369.2,223.4 L370.2,223.2 L371.2,223 L372.2,222.9 L373.2,222.7 L374.2,222.5 L375.2,222.3 L376.2,222.1 L377.2,221.9 L378.2,221.8 L379.2,221.6 L380.2,221.4 L381.2,221.3 L382.2,221.1 L383.2,221 L384.2,220.8 L385.2,220.7 L386.2,220.5 L387.2,220.3 L388.2,220.1 L389.2,219.8 L390.2,219.6 L391.2,219.2 L392.2,218.8 L393.2,218.3 L394.2,217.7 L395.2,217 L396.2,216.3 L397.2,215.4 L398.2,214.3 L399.2,213.2 L400.2,211.9 L401.2,210.5 L402.2,208.9 L403.2,207.3 L404.2,205.6 L405.2,203.8 L406.2,201.9 L407.2,200.1 L408.2,198.2 L409.2,196.5 L410.2,194.8 L411.2,193.3 L412.2,191.9 L413.2,190.8 L414.2,189.9 L415.2,189.4 L416.2,189.2 L417.2,189.3 L418.2,189.7 L419.2,190.5 L420.2,191.6 L421.2,193 L422.2,194.6 L423.2,196.5 L424.2,198.4 L425.2,200.6 L426.2,202.8 L427.2,205 L428.2,207.2 L429.2,209.4 L430.2,211.5 L431.2,213.5 L432.2,215.5 L433.2,217.3 L434.2,218.9 L435.2,220.4 L436.2,221.8 L437.2,223.1 L438.2,224.2 L439.2,225.1 L440.2,226 L441.2,226.7 L442.2,227.3 L443.2,227.9 L444.2,228.3 L445.2,228.7 L446.2,229 L447.2,229.3 L448.2,229.5 L449.2,229.7 L450.2,229.8 L451.2,230 L452.2,230.1 L453.2,230.1 L454.2,230.2 L455.2,230.3 L456.2,230.3 L457.2,230.4 L458.2,230.4 L459.2,230.4 L460.2,230.5 L461.2,230.5 L462.2,230.5 L463.2,230.6 L464.2,230.6 L465.2,230.6 L466.2,230.6 L467.2,230.6 L468.2,230.6 L469.2,230.7 L470.2,230.7 L471.2,230.7 L472.2,230.7 L473.2,230.7 L474.2,230.7 L475.2,230.7" fill="none" stroke="#25a6e0" stroke-width="1.4"/>
<text x="279.6" y="93.6" font-size="7.7" text-anchor="start" font-family="Liberation Sans, sans-serif" font-weight="bold" fill="#a262d2" stroke="#a262d2" stroke-width="0.1" >LNMO_80</text>
<text x="279.6" y="141.7" font-size="7.7" text-anchor="start" font-family="Liberation Sans, sans-serif" font-weight="bold" fill="#f7a04a" stroke="#f7a04a" stroke-width="0.1" >LNMO_110</text>
<text x="279.6" y="191.4" font-size="7.7" text-anchor="start" font-family="Liberation Sans, sans-serif" font-weight="bold" fill="#20c75a" stroke="#20c75a" stroke-width="0.1" >LNMO_140</text>
<text x="279.6" y="239.2" font-size="7.7" text-anchor="start" font-family="Liberation Sans, sans-serif" font-weight="bold" fill="#25a6e0" stroke="#25a6e0" stroke-width="0.1" >LNMO_170</text>
<rect x="281" y="24.6" width="17" height="8" fill="#fef9df" stroke="#f5e38a" stroke-width="0.9"/>
<text x="300.8" y="31.6" font-size="7.6" text-anchor="start" font-family="Liberation Sans, sans-serif" font-weight="bold" fill="#111" stroke="#111" stroke-width="0.25" >O-H</text>
<rect x="318.4" y="24.6" width="17.2" height="8" fill="#d2d6ef" stroke="#aab2de" stroke-width="0.9"/>
<text x="338.2" y="31.6" font-size="7.6" text-anchor="start" font-family="Liberation Sans, sans-serif" font-weight="bold" fill="#111" stroke="#111" stroke-width="0.25" >C=O</text>
<rect x="358.4" y="24.6" width="17.6" height="8" fill="#fddbe5" stroke="#f7b0c5" stroke-width="0.9"/>
<text x="378" y="31.6" font-size="7.6" text-anchor="start" font-family="Liberation Sans, sans-serif" font-weight="bold" fill="#111" stroke="#111" stroke-width="0.25" >M-O</text>
<rect x="452.2" y="27.2" width="20.6" height="11.6" fill="#111"/>
<rect x="449.6" y="24.6" width="20.6" height="11.6" fill="#fff" stroke="#555" stroke-width="0.6"/>

<text x="459.8" y="33.6" font-size="8.5" text-anchor="middle" font-family="Liberation Sans, sans-serif" font-weight="bold" fill="#111" stroke="#111" stroke-width="0.25" >O 1s</text>
<rect x="276.2" y="18.3" width="200.8" height="226.8" fill="none" stroke="#111" stroke-width="1.9"/>
<line x1="276.2" y1="245.1" x2="276.2" y2="248.1" stroke="#111" stroke-width="1.3"/>
<line x1="320.8" y1="245.1" x2="320.8" y2="248.1" stroke="#111" stroke-width="1.3"/>
<line x1="365.4" y1="245.1" x2="365.4" y2="248.1" stroke="#111" stroke-width="1.3"/>
<line x1="410.1" y1="245.1" x2="410.1" y2="248.1" stroke="#111" stroke-width="1.3"/>
<line x1="454.7" y1="245.1" x2="454.7" y2="248.1" stroke="#111" stroke-width="1.3"/>
<line x1="298.5" y1="245.1" x2="298.5" y2="247.1" stroke="#111" stroke-width="1.3"/>
<line x1="343.1" y1="245.1" x2="343.1" y2="247.1" stroke="#111" stroke-width="1.3"/>
<line x1="387.8" y1="245.1" x2="387.8" y2="247.1" stroke="#111" stroke-width="1.3"/>
<line x1="432.4" y1="245.1" x2="432.4" y2="247.1" stroke="#111" stroke-width="1.3"/>
<line x1="477" y1="245.1" x2="477" y2="247.1" stroke="#111" stroke-width="1.3"/>
<text x="276.2" y="258.7" font-size="10.2" text-anchor="middle" font-family="Liberation Sans, sans-serif" font-weight="bold" fill="#111">536</text>
<text x="320.8" y="258.7" font-size="10.2" text-anchor="middle" font-family="Liberation Sans, sans-serif" font-weight="bold" fill="#111">534</text>
<text x="365.4" y="258.7" font-size="10.2" text-anchor="middle" font-family="Liberation Sans, sans-serif" font-weight="bold" fill="#111">532</text>
<text x="410.1" y="258.7" font-size="10.2" text-anchor="middle" font-family="Liberation Sans, sans-serif" font-weight="bold" fill="#111">530</text>
<text x="454.7" y="258.7" font-size="10.2" text-anchor="middle" font-family="Liberation Sans, sans-serif" font-weight="bold" fill="#111">528</text>
<text x="376.6" y="272.1" font-size="11.2" text-anchor="middle" font-family="Liberation Sans, sans-serif" font-weight="bold" fill="#111" stroke="#111" stroke-width="0" >Binding energy (eV)</text>
<text transform="translate(269,131.1) rotate(-90)" font-size="11.6" text-anchor="middle" font-family="Liberation Sans, sans-serif" font-weight="bold" fill="#111" stroke="#111" stroke-width="0">Intensity (a.u.)</text>
<path d="M30.7,346.6 L31.7,346.5 L32.7,346.5 L33.7,346.5 L34.7,346.5 L35.7,346.4 L36.7,346.4 L37.7,346.4 L38.7,346.4 L39.7,346.3 L40.7,346.3 L41.7,346.2 L42.7,346.1 L43.7,346 L44.7,345.9 L45.7,345.8 L46.7,345.6 L47.7,345.4 L48.7,345.1 L49.7,344.8 L50.7,344.4 L51.7,344 L52.7,343.5 L53.7,342.9 L54.7,342.3 L55.7,341.6 L56.7,340.9 L57.7,340.1 L58.7,339.3 L59.7,338.4 L60.7,337.5 L61.7,336.6 L62.7,335.7 L63.7,334.9 L64.7,334.1 L65.7,333.3 L66.7,332.7 L67.7,332.2 L68.7,331.8 L69.7,331.7 L70.7,331.7 L71.7,332 L72.7,332.4 L73.7,333 L74.7,333.7 L75.7,334.6 L76.7,335.5 L77.7,336.5 L78.7,337.5 L79.7,338.6 L80.7,339.6 L81.7,340.6 L82.7,341.5 L83.7,342.4 L84.7,343.2 L85.7,344 L86.7,344.7 L87.7,345.4 L88.7,346 L89.7,346.5 L90.7,346.9 L91.7,347.3 L92.7,347.7 L93.7,348 L94.7,348.2 L95.7,348.5 L96.7,348.7 L97.7,348.8 L98.7,349 L99.7,349.2 L100.7,349.3 L101.7,349.4 L102.7,349.6 L103.7,349.7 L104.7,349.8 L105.7,350 L106.7,350.1 L107.7,350.2 L108.7,350.3 L109.7,350.4 L110.7,350.6 L111.7,350.7 L112.7,350.8 L113.7,350.9 L114.7,351 L115.7,351.1 L116.7,351.2 L117.7,351.3 L118.7,351.4 L119.7,351.5 L120.7,351.5 L121.7,351.6 L122.7,351.7 L123.7,351.7 L124.7,351.8 L125.7,351.8 L126.7,351.9 L127.7,351.9 L128.7,351.9 L129.7,351.9 L130.7,351.9 L131.7,352 L132.7,352 L133.7,352.1 L134.7,352.2 L135.7,352.2 L136.7,352.3 L137.7,352.4 L138.7,352.5 L139.7,352.5 L140.7,352.6 L141.7,352.7 L142.7,352.8 L143.7,352.9 L144.7,352.9 L145.7,353 L146.7,353.1 L147.7,353.2 L148.7,353.2 L149.7,353.3 L150.7,353.3 L151.7,353.4 L152.7,353.4 L153.7,353.4 L154.7,353.4 L155.7,353.5 L156.7,353.5 L157.7,353.6 L158.7,353.8 L159.7,354 L160.7,354.2 L161.7,354.5 L162.7,354.8 L163.7,355.1 L164.7,355.5 L165.7,355.9 L166.7,356.3 L167.7,356.6 L168.7,357.1 L169.7,357.5 L170.7,357.9 L171.7,358.3 L172.7,358.7 L173.7,359.1 L174.7,359.5 L175.7,359.8 L176.7,360.2 L177.7,360.5 L178.7,360.8 L179.7,361 L180.7,361.3 L181.7,361.4 L182.7,361.6 L183.7,361.7 L184.7,361.7 L185.7,361.7 L186.7,361.7 L187.4,361.8 L186.4,361.8 L185.4,361.8 L184.4,361.8 L183.4,361.7 L182.4,361.6 L181.4,361.5 L180.4,361.3 L179.4,361 L178.4,360.8 L177.4,360.5 L176.4,360.2 L175.4,359.8 L174.4,359.5 L173.4,359.1 L172.4,358.7 L171.4,358.3 L170.4,357.9 L169.4,357.5 L168.4,357 L167.4,356.6 L166.4,356.3 L165.4,355.9 L164.4,355.5 L163.4,355.2 L162.4,354.9 L161.4,354.6 L160.4,354.3 L159.4,354.1 L158.4,353.9 L157.4,353.7 L156.4,353.7 L155.4,353.6 L154.4,353.6 L153.4,353.6 L152.4,353.6 L151.4,353.5 L150.4,353.5 L149.4,353.4 L148.4,353.4 L147.4,353.3 L146.4,353.3 L145.4,353.2 L144.4,353.1 L143.4,353 L142.4,353 L141.4,352.9 L140.4,352.8 L139.4,352.7 L138.4,352.7 L137.4,352.6 L136.4,352.5 L135.4,352.5 L134.4,352.4 L133.4,352.3 L132.4,352.3 L131.4,352.3 L130.4,352.2 L129.4,352.2 L128.4,352.2 L127.4,352.2 L126.4,352.2 L125.4,352.2 L124.4,352.1 L123.4,352.1 L122.4,352.1 L121.4,352 L120.4,351.9 L119.4,351.9 L118.4,351.8 L117.4,351.7 L116.4,351.7 L115.4,351.6 L114.4,351.5 L113.4,351.4 L112.4,351.3 L111.4,351.2 L110.4,351.2 L109.4,351.1 L108.4,351 L107.4,350.9 L106.4,350.8 L105.4,350.7 L104.4,350.7 L103.4,350.6 L102.4,350.5 L101.4,350.5 L100.4,350.4 L99.4,350.4 L98.4,350.4 L97.4,350.3 L96.4,350.3 L95.4,350.3 L94.4,350.3 L93.4,350.3 L92.4,350.3 L91.4,350.2 L90.4,350.2 L89.4,350.2 L88.4,350.1 L87.4,350.1 L86.4,350 L85.4,350 L84.4,349.9 L83.4,349.8 L82.4,349.8 L81.4,349.7 L80.4,349.6 L79.4,349.5 L78.4,349.4 L77.4,349.4 L76.4,349.3 L75.4,349.2 L74.4,349.1 L73.4,349 L72.4,348.9 L71.4,348.8 L70.4,348.8 L69.4,348.7 L68.4,348.6 L67.4,348.5 L66.4,348.5 L65.4,348.4 L64.4,348.3 L63.4,348.3 L62.4,348.2 L61.4,348.2 L60.4,348.1 L59.4,348.1 L58.4,348 L57.4,348 L56.4,348 L55.4,348 L54.4,348 L53.4,348 L52.4,348 L51.4,348 L50.4,347.9 L49.4,347.9 L48.4,347.9 L47.4,347.8 L46.4,347.8 L45.4,347.7 L44.4,347.7 L43.4,347.6 L42.4,347.6 L41.4,347.5 L40.4,347.5 L39.4,347.4 L38.4,347.4 L37.4,347.3 L36.4,347.3 L35.4,347.3 L34.4,347.2 L33.4,347.2 L32.4,347.2 L31.4,347.2 Z" fill="#fcdcbd" fill-opacity="0.85" stroke="none"/>
<path d="M30.7,347.1 L31.7,347.1 L32.7,347.1 L33.7,347.1 L34.7,347.2 L35.7,347.2 L36.7,347.2 L37.7,347.2 L38.7,347.3 L39.7,347.3 L40.7,347.4 L41.7,347.4 L42.7,347.4 L43.7,347.5 L44.7,347.5 L45.7,347.6 L46.7,347.6 L47.7,347.6 L48.7,347.7 L49.7,347.7 L50.7,347.7 L51.7,347.7 L52.7,347.7 L53.7,347.7 L54.7,347.7 L55.7,347.7 L56.7,347.7 L57.7,347.7 L58.7,347.7 L59.7,347.6 L60.7,347.6 L61.7,347.6 L62.7,347.6 L63.7,347.5 L64.7,347.4 L65.7,347.2 L66.7,346.9 L67.7,346.5 L68.7,346 L69.7,345.3 L70.7,344.4 L71.7,343.4 L72.7,342.1 L73.7,340.7 L74.7,339.2 L75.7,337.8 L76.7,336.4 L77.7,335.3 L78.7,334.6 L79.7,334.4 L80.7,334.8 L81.7,335.6 L82.7,336.9 L83.7,338.4 L84.7,340 L85.7,341.7 L86.7,343.2 L87.7,344.6 L88.7,345.8 L89.7,346.8 L90.7,347.6 L91.7,348.2 L92.7,348.7 L93.7,349.1 L94.7,349.3 L95.7,349.5 L96.7,349.6 L97.7,349.8 L98.7,349.9 L99.7,350 L100.7,350 L101.7,350.1 L102.7,350.2 L103.7,350.3 L104.7,350.4 L105.7,350.5 L106.7,350.6 L107.7,350.7 L108.7,350.8 L109.7,350.9 L110.7,351 L111.7,351.1 L112.7,351.2 L113.7,351.3 L114.7,351.4 L115.7,351.5 L116.7,351.5 L117.7,351.6 L118.7,351.7 L119.7,351.8 L120.7,351.9 L121.7,351.9 L122.7,352 L123.7,352 L124.7,352.1 L125.7,352.1 L126.7,352.1 L127.7,352.1 L128.7,352.1 L128.7,352.2 L127.7,352.2 L126.7,352.2 L125.7,352.2 L124.7,352.1 L123.7,352.1 L122.7,352.1 L121.7,352 L120.7,352 L119.7,351.9 L118.7,351.8 L117.7,351.8 L116.7,351.7 L115.7,351.6 L114.7,351.5 L113.7,351.4 L112.7,351.4 L111.7,351.3 L110.7,351.2 L109.7,351.1 L108.7,351 L107.7,350.9 L106.7,350.8 L105.7,350.8 L104.7,350.7 L103.7,350.6 L102.7,350.6 L101.7,350.5 L100.7,350.5 L99.7,350.4 L98.7,350.4 L97.7,350.3 L96.7,350.3 L95.7,350.3 L94.7,350.3 L93.7,350.3 L92.7,350.3 L91.7,350.3 L90.7,350.2 L89.7,350.2 L88.7,350.1 L87.7,350.1 L86.7,350 L85.7,350 L84.7,349.9 L83.7,349.9 L82.7,349.8 L81.7,349.7 L80.7,349.6 L79.7,349.5 L78.7,349.5 L77.7,349.4 L76.7,349.3 L75.7,349.2 L74.7,349.1 L73.7,349 L72.7,349 L71.7,348.9 L70.7,348.8 L69.7,348.7 L68.7,348.6 L67.7,348.5 L66.7,348.5 L65.7,348.4 L64.7,348.3 L63.7,348.3 L62.7,348.2 L61.7,348.2 L60.7,348.1 L59.7,348.1 L58.7,348.1 L57.7,348 L56.7,348 L55.7,348 L54.7,348 L53.7,348 L52.7,348 L51.7,348 L50.7,347.9 L49.7,347.9 L48.7,347.9 L47.7,347.8 L46.7,347.8 L45.7,347.7 L44.7,347.7 L43.7,347.6 L42.7,347.6 L41.7,347.5 L40.7,347.5 L39.7,347.4 L38.7,347.4 L37.7,347.4 L36.7,347.3 L35.7,347.3 L34.7,347.3 L33.7,347.2 L32.7,347.2 L31.7,347.2 L30.7,347.2 Z" fill="#cdeec4" fill-opacity="0.85" stroke="none"/>
<path d="M30.7,347.1 L31.7,347.1 L32.7,347.1 L33.7,347.1 L34.7,347.1 L35.7,347.2 L36.7,347.2 L37.7,347.2 L38.7,347.3 L39.7,347.3 L40.7,347.4 L41.7,347.4 L42.7,347.4 L43.7,347.5 L44.7,347.5 L45.7,347.6 L46.7,347.6 L47.7,347.7 L48.7,347.7 L49.7,347.7 L50.7,347.8 L51.7,347.8 L52.7,347.8 L53.7,347.8 L54.7,347.8 L55.7,347.8 L56.7,347.8 L57.7,347.9 L58.7,347.9 L59.7,347.9 L60.7,347.9 L61.7,348 L62.7,348 L63.7,348.1 L64.7,348.1 L65.7,348.2 L66.7,348.3 L67.7,348.3 L68.7,348.4 L69.7,348.5 L70.7,348.6 L71.7,348.6 L72.7,348.7 L73.7,348.8 L74.7,348.9 L75.7,349 L76.7,349 L77.7,349.1 L78.7,349.2 L79.7,349.3 L80.7,349.3 L81.7,349.4 L82.7,349.5 L83.7,349.5 L84.7,349.6 L85.7,349.7 L86.7,349.7 L87.7,349.8 L88.7,349.8 L89.7,349.8 L90.7,349.9 L91.7,349.9 L92.7,349.9 L93.7,349.9 L94.7,349.9 L95.7,349.9 L96.7,349.9 L97.7,349.9 L98.7,349.9 L99.7,349.9 L100.7,350 L101.7,350 L102.7,350.1 L103.7,350.1 L104.7,350.2 L105.7,350.2 L106.7,350.3 L107.7,350.3 L108.7,350.4 L109.7,350.5 L110.7,350.5 L111.7,350.6 L112.7,350.7 L113.7,350.7 L114.7,350.8 L115.7,350.8 L116.7,350.9 L117.7,350.9 L118.7,351 L119.7,351 L120.7,351 L121.7,351 L122.7,351 L123.7,351 L124.7,351 L125.7,351 L126.7,351 L127.7,350.9 L128.7,350.8 L129.7,350.8 L130.7,350.7 L131.7,350.7 L132.7,350.6 L133.7,350.5 L134.7,350.4 L135.7,350.4 L136.7,350.2 L137.7,350.1 L138.7,349.9 L139.7,349.7 L140.7,349.5 L141.7,349.2 L142.7,348.9 L143.7,348.4 L144.7,347.9 L145.7,347.3 L146.7,346.6 L147.7,345.8 L148.7,344.9 L149.7,343.9 L150.7,342.8 L151.7,341.5 L152.7,340.1 L153.7,338.6 L154.7,337 L155.7,335.3 L156.7,333.6 L157.7,331.9 L158.7,330.2 L159.7,328.6 L160.7,327.1 L161.7,325.8 L162.7,324.7 L163.7,323.9 L164.7,323.4 L165.7,323.2 L166.7,323.4 L167.7,324.1 L168.7,325.1 L169.7,326.4 L170.7,328 L171.7,329.9 L172.7,331.9 L173.7,334 L174.7,336.2 L175.7,338.4 L176.7,340.5 L177.7,342.6 L178.7,344.6 L179.7,346.4 L180.7,348.2 L181.7,349.7 L182.7,351.2 L183.7,352.4 L184.7,353.5 L185.7,354.5 L186.7,355.3 L187.7,356.1 L188.7,356.7 L189.7,357.3 L190.7,357.8 L191.7,358.3 L192.7,358.7 L193.7,359 L194.7,359.3 L195.7,359.6 L196.7,359.8 L197.7,360.1 L198.7,360.2 L199.7,360.4 L200.7,360.6 L201.7,360.7 L202.7,360.9 L203.7,361 L204.7,361.2 L205.7,361.3 L206.7,361.4 L207.7,361.5 L208.7,361.6 L209.7,361.7 L210.7,361.8 L211.7,361.9 L212.7,362 L213.7,362.1 L214.7,362.2 L215.7,362.3 L216.7,362.4 L217.7,362.4 L218.7,362.5 L219.7,362.6 L220.7,362.6 L221.7,362.7 L222.7,362.8 L223.7,362.8 L224.7,362.8 L225.7,362.9 L226.7,362.9 L227.7,362.9 L228.6,363.5 L227.6,363.5 L226.6,363.5 L225.6,363.5 L224.6,363.5 L223.6,363.4 L222.6,363.4 L221.6,363.4 L220.6,363.3 L219.6,363.3 L218.6,363.3 L217.6,363.2 L216.6,363.2 L215.6,363.1 L214.6,363.1 L213.6,363 L212.6,363 L211.6,362.9 L210.6,362.9 L209.6,362.8 L208.6,362.7 L207.6,362.7 L206.6,362.6 L205.6,362.6 L204.6,362.5 L203.6,362.5 L202.6,362.4 L201.6,362.3 L200.6,362.3 L199.6,362.2 L198.6,362.2 L197.6,362.1 L196.6,362.1 L195.6,362 L194.6,362 L193.6,362 L192.6,361.9 L191.6,361.9 L190.6,361.9 L189.6,361.9 L188.6,361.8 L187.6,361.8 L186.6,361.8 L185.6,361.8 L184.6,361.8 L183.6,361.7 L182.6,361.7 L181.6,361.5 L180.6,361.3 L179.6,361.1 L178.6,360.8 L177.6,360.5 L176.6,360.2 L175.6,359.9 L174.6,359.5 L173.6,359.1 L172.6,358.8 L171.6,358.4 L170.6,357.9 L169.6,357.5 L168.6,357.1 L167.6,356.7 L166.6,356.3 L165.6,355.9 L164.6,355.6 L163.6,355.2 L162.6,354.9 L161.6,354.6 L160.6,354.4 L159.6,354.1 L158.6,353.9 L157.6,353.8 L156.6,353.7 L155.6,353.6 L154.6,353.6 L153.6,353.6 L152.6,353.6 L151.6,353.5 L150.6,353.5 L149.6,353.5 L148.6,353.4 L147.6,353.3 L146.6,353.3 L145.6,353.2 L144.6,353.1 L143.6,353.1 L142.6,353 L141.6,352.9 L140.6,352.8 L139.6,352.8 L138.6,352.7 L137.6,352.6 L136.6,352.5 L135.6,352.5 L134.6,352.4 L133.6,352.4 L132.6,352.3 L131.6,352.3 L130.6,352.2 L129.6,352.2 L128.6,352.2 L127.6,352.2 L126.6,352.2 L125.6,352.2 L124.6,352.1 L123.6,352.1 L122.6,352.1 L121.6,352 L120.6,352 L119.6,351.9 L118.6,351.8 L117.6,351.8 L116.6,351.7 L115.6,351.6 L114.6,351.5 L113.6,351.4 L112.6,351.3 L111.6,351.3 L110.6,351.2 L109.6,351.1 L108.6,351 L107.6,350.9 L106.6,350.8 L105.6,350.8 L104.6,350.7 L103.6,350.6 L102.6,350.6 L101.6,350.5 L100.6,350.4 L99.6,350.4 L98.6,350.4 L97.6,350.3 L96.6,350.3 L95.6,350.3 L94.6,350.3 L93.6,350.3 L92.6,350.3 L91.6,350.3 L90.6,350.2 L89.6,350.2 L88.6,350.1 L87.6,350.1 L86.6,350 L85.6,350 L84.6,349.9 L83.6,349.8 L82.6,349.8 L81.6,349.7 L80.6,349.6 L79.6,349.5 L78.6,349.5 L77.6,349.4 L76.6,349.3 L75.6,349.2 L74.6,349.1 L73.6,349 L72.6,348.9 L71.6,348.9 L70.6,348.8 L69.6,348.7 L68.6,348.6 L67.6,348.5 L66.6,348.5 L65.6,348.4 L64.6,348.3 L63.6,348.3 L62.6,348.2 L61.6,348.2 L60.6,348.1 L59.6,348.1 L58.6,348.1 L57.6,348 L56.6,348 L55.6,348 L54.6,348 L53.6,348 L52.6,348 L51.6,348 L50.6,347.9 L49.6,347.9 L48.6,347.9 L47.6,347.8 L46.6,347.8 L45.6,347.7 L44.6,347.7 L43.6,347.6 L42.6,347.6 L41.6,347.5 L40.6,347.5 L39.6,347.4 L38.6,347.4 L37.6,347.3 L36.6,347.3 L35.6,347.3 L34.6,347.2 L33.6,347.2 L32.6,347.2 L31.6,347.2 Z" fill="#fcdcbd" fill-opacity="0.85" stroke="none"/>
<path d="M105.6,350.7 L106.6,350.8 L107.6,350.8 L108.6,350.9 L109.6,351 L110.6,351.1 L111.6,351.2 L112.6,351.2 L113.6,351.3 L114.6,351.4 L115.6,351.5 L116.6,351.6 L117.6,351.6 L118.6,351.7 L119.6,351.8 L120.6,351.8 L121.6,351.9 L122.6,351.9 L123.6,352 L124.6,352 L125.6,352 L126.6,352 L127.6,352 L128.6,352 L129.6,352 L130.6,352 L131.6,352.1 L132.6,352.1 L133.6,352.1 L134.6,352.2 L135.6,352.2 L136.6,352.3 L137.6,352.3 L138.6,352.4 L139.6,352.5 L140.6,352.5 L141.6,352.6 L142.6,352.6 L143.6,352.7 L144.6,352.8 L145.6,352.8 L146.6,352.8 L147.6,352.9 L148.6,352.9 L149.6,352.9 L150.6,352.9 L151.6,352.9 L152.6,352.9 L153.6,352.9 L154.6,352.8 L155.6,352.8 L156.6,352.7 L157.6,352.7 L158.6,352.7 L159.6,352.7 L160.6,352.7 L161.6,352.5 L162.6,352.3 L163.6,351.9 L164.6,351.3 L165.6,350.4 L166.6,349.1 L167.6,347.5 L168.6,345.5 L169.6,343.1 L170.6,340.3 L171.6,337.4 L172.6,334.5 L173.6,331.9 L174.6,329.8 L175.6,328.4 L176.6,328.2 L177.6,329.1 L178.6,331.1 L179.6,333.8 L180.6,337.1 L181.6,340.6 L182.6,344 L183.6,347.3 L184.6,350.1 L185.6,352.6 L186.6,354.6 L187.6,356.3 L188.6,357.5 L189.6,358.5 L190.6,359.3 L191.6,359.8 L192.6,360.2 L193.6,360.5 L194.6,360.8 L195.6,361 L196.6,361.1 L197.6,361.3 L198.6,361.4 L199.6,361.5 L200.6,361.6 L201.6,361.7 L202.6,361.8 L203.6,361.9 L204.6,362 L205.6,362.1 L206.6,362.2 L207.6,362.3 L208.6,362.4 L209.6,362.4 L210.6,362.5 L211.6,362.6 L212.6,362.7 L213.6,362.7 L214.6,362.8 L215.6,362.9 L216.6,362.9 L217.6,363 L218.6,363 L219.6,363.1 L220.6,363.1 L221.6,363.2 L222.6,363.2 L223.6,363.2 L224.6,363.3 L225.6,363.3 L226.6,363.3 L227.6,363.3 L228.6,363.4 L228.6,363.5 L227.6,363.5 L226.6,363.5 L225.6,363.5 L224.6,363.5 L223.6,363.4 L222.6,363.4 L221.6,363.4 L220.6,363.3 L219.6,363.3 L218.6,363.3 L217.6,363.2 L216.6,363.2 L215.6,363.1 L214.6,363.1 L213.6,363 L212.6,363 L211.6,362.9 L210.6,362.9 L209.6,362.8 L208.6,362.7 L207.6,362.7 L206.6,362.6 L205.6,362.6 L204.6,362.5 L203.6,362.5 L202.6,362.4 L201.6,362.3 L200.6,362.3 L199.6,362.2 L198.6,362.2 L197.6,362.1 L196.6,362.1 L195.6,362 L194.6,362 L193.6,362 L192.6,361.9 L191.6,361.9 L190.6,361.9 L189.6,361.9 L188.6,361.8 L187.6,361.8 L186.6,361.8 L185.6,361.8 L184.6,361.8 L183.6,361.7 L182.6,361.7 L181.6,361.5 L180.6,361.3 L179.6,361.1 L178.6,360.8 L177.6,360.5 L176.6,360.2 L175.6,359.9 L174.6,359.5 L173.6,359.1 L172.6,358.8 L171.6,358.4 L170.6,357.9 L169.6,357.5 L168.6,357.1 L167.6,356.7 L166.6,356.3 L165.6,355.9 L164.6,355.6 L163.6,355.2 L162.6,354.9 L161.6,354.6 L160.6,354.4 L159.6,354.1 L158.6,353.9 L157.6,353.8 L156.6,353.7 L155.6,353.6 L154.6,353.6 L153.6,353.6 L152.6,353.6 L151.6,353.5 L150.6,353.5 L149.6,353.5 L148.6,353.4 L147.6,353.3 L146.6,353.3 L145.6,353.2 L144.6,353.1 L143.6,353.1 L142.6,353 L141.6,352.9 L140.6,352.8 L139.6,352.8 L138.6,352.7 L137.6,352.6 L136.6,352.5 L135.6,352.5 L134.6,352.4 L133.6,352.4 L132.6,352.3 L131.6,352.3 L130.6,352.2 L129.6,352.2 L128.6,352.2 L127.6,352.2 L126.6,352.2 L125.6,352.2 L124.6,352.1 L123.6,352.1 L122.6,352.1 L121.6,352 L120.6,352 L119.6,351.9 L118.6,351.8 L117.6,351.8 L116.6,351.7 L115.6,351.6 L114.6,351.5 L113.6,351.4 L112.6,351.3 L111.6,351.3 L110.6,351.2 L109.6,351.1 L108.6,351 L107.6,350.9 L106.6,350.8 L105.6,350.8 Z" fill="#cdeec4" fill-opacity="0.85" stroke="none"/>
<path d="M30.7,346.6 L31.7,346.5 L32.7,346.5 L33.7,346.5 L34.7,346.5 L35.7,346.4 L36.7,346.4 L37.7,346.4 L38.7,346.4 L39.7,346.3 L40.7,346.3 L41.7,346.2 L42.7,346.1 L43.7,346 L44.7,345.9 L45.7,345.8 L46.7,345.6 L47.7,345.4 L48.7,345.1 L49.7,344.8 L50.7,344.4 L51.7,344 L52.7,343.5 L53.7,342.9 L54.7,342.3 L55.7,341.6 L56.7,340.9 L57.7,340.1 L58.7,339.3 L59.7,338.4 L60.7,337.5 L61.7,336.6 L62.7,335.7 L63.7,334.9 L64.7,334.1 L65.7,333.3 L66.7,332.7 L67.7,332.2 L68.7,331.8 L69.7,331.7 L70.7,331.7 L71.7,332 L72.7,332.4 L73.7,333 L74.7,333.7 L75.7,334.6 L76.7,335.5 L77.7,336.5 L78.7,337.5 L79.7,338.6 L80.7,339.6 L81.7,340.6 L82.7,341.5 L83.7,342.4 L84.7,343.2 L85.7,344 L86.7,344.7 L87.7,345.4 L88.7,346 L89.7,346.5 L90.7,346.9 L91.7,347.3 L92.7,347.7 L93.7,348 L94.7,348.2 L95.7,348.5 L96.7,348.7 L97.7,348.8 L98.7,349 L99.7,349.2 L100.7,349.3 L101.7,349.4 L102.7,349.6 L103.7,349.7 L104.7,349.8 L105.7,350 L106.7,350.1 L107.7,350.2 L108.7,350.3 L109.7,350.4 L110.7,350.6 L111.7,350.7 L112.7,350.8 L113.7,350.9 L114.7,351 L115.7,351.1 L116.7,351.2 L117.7,351.3 L118.7,351.4 L119.7,351.5 L120.7,351.5 L121.7,351.6 L122.7,351.7 L123.7,351.7 L124.7,351.8 L125.7,351.8 L126.7,351.9 L127.7,351.9 L128.7,351.9 L129.7,351.9 L130.7,351.9 L131.7,352 L132.7,352 L133.7,352.1 L134.7,352.2 L135.7,352.2 L136.7,352.3 L137.7,352.4 L138.7,352.5 L139.7,352.5 L140.7,352.6 L141.7,352.7 L142.7,352.8 L143.7,352.9 L144.7,352.9 L145.7,353 L146.7,353.1 L147.7,353.2 L148.7,353.2 L149.7,353.3 L150.7,353.3 L151.7,353.4 L152.7,353.4 L153.7,353.4 L154.7,353.4 L155.7,353.5 L156.7,353.5 L157.7,353.6 L158.7,353.8 L159.7,354 L160.7,354.2 L161.7,354.5 L162.7,354.8 L163.7,355.1 L164.7,355.5 L165.7,355.9 L166.7,356.3 L167.7,356.6 L168.7,357.1 L169.7,357.5 L170.7,357.9 L171.7,358.3 L172.7,358.7 L173.7,359.1 L174.7,359.5 L175.7,359.8 L176.7,360.2 L177.7,360.5 L178.7,360.8 L179.7,361 L180.7,361.3 L181.7,361.4 L182.7,361.6 L183.7,361.7 L184.7,361.7 L185.7,361.7 L186.7,361.7" fill="none" stroke="#f3a560" stroke-width="1.15"/>
<path d="M30.7,347.1 L31.7,347.1 L32.7,347.1 L33.7,347.1 L34.7,347.2 L35.7,347.2 L36.7,347.2 L37.7,347.2 L38.7,347.3 L39.7,347.3 L40.7,347.4 L41.7,347.4 L42.7,347.4 L43.7,347.5 L44.7,347.5 L45.7,347.6 L46.7,347.6 L47.7,347.6 L48.7,347.7 L49.7,347.7 L50.7,347.7 L51.7,347.7 L52.7,347.7 L53.7,347.7 L54.7,347.7 L55.7,347.7 L56.7,347.7 L57.7,347.7 L58.7,347.7 L59.7,347.6 L60.7,347.6 L61.7,347.6 L62.7,347.6 L63.7,347.5 L64.7,347.4 L65.7,347.2 L66.7,346.9 L67.7,346.5 L68.7,346 L69.7,345.3 L70.7,344.4 L71.7,343.4 L72.7,342.1 L73.7,340.7 L74.7,339.2 L75.7,337.8 L76.7,336.4 L77.7,335.3 L78.7,334.6 L79.7,334.4 L80.7,334.8 L81.7,335.6 L82.7,336.9 L83.7,338.4 L84.7,340 L85.7,341.7 L86.7,343.2 L87.7,344.6 L88.7,345.8 L89.7,346.8 L90.7,347.6 L91.7,348.2 L92.7,348.7 L93.7,349.1 L94.7,349.3 L95.7,349.5 L96.7,349.6 L97.7,349.8 L98.7,349.9 L99.7,350 L100.7,350 L101.7,350.1 L102.7,350.2 L103.7,350.3 L104.7,350.4 L105.7,350.5 L106.7,350.6 L107.7,350.7 L108.7,350.8 L109.7,350.9 L110.7,351 L111.7,351.1 L112.7,351.2 L113.7,351.3 L114.7,351.4 L115.7,351.5 L116.7,351.5 L117.7,351.6 L118.7,351.7 L119.7,351.8 L120.7,351.9 L121.7,351.9 L122.7,352 L123.7,352 L124.7,352.1 L125.7,352.1 L126.7,352.1 L127.7,352.1 L128.7,352.1" fill="none" stroke="#7ed36c" stroke-width="1.15"/>
<path d="M30.7,347.1 L31.7,347.1 L32.7,347.1 L33.7,347.1 L34.7,347.1 L35.7,347.2 L36.7,347.2 L37.7,347.2 L38.7,347.3 L39.7,347.3 L40.7,347.4 L41.7,347.4 L42.7,347.4 L43.7,347.5 L44.7,347.5 L45.7,347.6 L46.7,347.6 L47.7,347.7 L48.7,347.7 L49.7,347.7 L50.7,347.8 L51.7,347.8 L52.7,347.8 L53.7,347.8 L54.7,347.8 L55.7,347.8 L56.7,347.8 L57.7,347.9 L58.7,347.9 L59.7,347.9 L60.7,347.9 L61.7,348 L62.7,348 L63.7,348.1 L64.7,348.1 L65.7,348.2 L66.7,348.3 L67.7,348.3 L68.7,348.4 L69.7,348.5 L70.7,348.6 L71.7,348.6 L72.7,348.7 L73.7,348.8 L74.7,348.9 L75.7,349 L76.7,349 L77.7,349.1 L78.7,349.2 L79.7,349.3 L80.7,349.3 L81.7,349.4 L82.7,349.5 L83.7,349.5 L84.7,349.6 L85.7,349.7 L86.7,349.7 L87.7,349.8 L88.7,349.8 L89.7,349.8 L90.7,349.9 L91.7,349.9 L92.7,349.9 L93.7,349.9 L94.7,349.9 L95.7,349.9 L96.7,349.9 L97.7,349.9 L98.7,349.9 L99.7,349.9 L100.7,350 L101.7,350 L102.7,350.1 L103.7,350.1 L104.7,350.2 L105.7,350.2 L106.7,350.3 L107.7,350.3 L108.7,350.4 L109.7,350.5 L110.7,350.5 L111.7,350.6 L112.7,350.7 L113.7,350.7 L114.7,350.8 L115.7,350.8 L116.7,350.9 L117.7,350.9 L118.7,351 L119.7,351 L120.7,351 L121.7,351 L122.7,351 L123.7,351 L124.7,351 L125.7,351 L126.7,351 L127.7,350.9 L128.7,350.8 L129.7,350.8 L130.7,350.7 L131.7,350.7 L132.7,350.6 L133.7,350.5 L134.7,350.4 L135.7,350.4 L136.7,350.2 L137.7,350.1 L138.7,349.9 L139.7,349.7 L140.7,349.5 L141.7,349.2 L142.7,348.9 L143.7,348.4 L144.7,347.9 L145.7,347.3 L146.7,346.6 L147.7,345.8 L148.7,344.9 L149.7,343.9 L150.7,342.8 L151.7,341.5 L152.7,340.1 L153.7,338.6 L154.7,337 L155.7,335.3 L156.7,333.6 L157.7,331.9 L158.7,330.2 L159.7,328.6 L160.7,327.1 L161.7,325.8 L162.7,324.7 L163.7,323.9 L164.7,323.4 L165.7,323.2 L166.7,323.4 L167.7,324.1 L168.7,325.1 L169.7,326.4 L170.7,328 L171.7,329.9 L172.7,331.9 L173.7,334 L174.7,336.2 L175.7,338.4 L176.7,340.5 L177.7,342.6 L178.7,344.6 L179.7,346.4 L180.7,348.2 L181.7,349.7 L182.7,351.2 L183.7,352.4 L184.7,353.5 L185.7,354.5 L186.7,355.3 L187.7,356.1 L188.7,356.7 L189.7,357.3 L190.7,357.8 L191.7,358.3 L192.7,358.7 L193.7,359 L194.7,359.3 L195.7,359.6 L196.7,359.8 L197.7,360.1 L198.7,360.2 L199.7,360.4 L200.7,360.6 L201.7,360.7 L202.7,360.9 L203.7,361 L204.7,361.2 L205.7,361.3 L206.7,361.4 L207.7,361.5 L208.7,361.6 L209.7,361.7 L210.7,361.8 L211.7,361.9 L212.7,362 L213.7,362.1 L214.7,362.2 L215.7,362.3 L216.7,362.4 L217.7,362.4 L218.7,362.5 L219.7,362.6 L220.7,362.6 L221.7,362.7 L222.7,362.8 L223.7,362.8 L224.7,362.8 L225.7,362.9 L226.7,362.9 L227.7,362.9" fill="none" stroke="#f3a560" stroke-width="1.15"/>
<path d="M105.6,350.7 L106.6,350.8 L107.6,350.8 L108.6,350.9 L109.6,351 L110.6,351.1 L111.6,351.2 L112.6,351.2 L113.6,351.3 L114.6,351.4 L115.6,351.5 L116.6,351.6 L117.6,351.6 L118.6,351.7 L119.6,351.8 L120.6,351.8 L121.6,351.9 L122.6,351.9 L123.6,352 L124.6,352 L125.6,352 L126.6,352 L127.6,352 L128.6,352 L129.6,352 L130.6,352 L131.6,352.1 L132.6,352.1 L133.6,352.1 L134.6,352.2 L135.6,352.2 L136.6,352.3 L137.6,352.3 L138.6,352.4 L139.6,352.5 L140.6,352.5 L141.6,352.6 L142.6,352.6 L143.6,352.7 L144.6,352.8 L145.6,352.8 L146.6,352.8 L147.6,352.9 L148.6,352.9 L149.6,352.9 L150.6,352.9 L151.6,352.9 L152.6,352.9 L153.6,352.9 L154.6,352.8 L155.6,352.8 L156.6,352.7 L157.6,352.7 L158.6,352.7 L159.6,352.7 L160.6,352.7 L161.6,352.5 L162.6,352.3 L163.6,351.9 L164.6,351.3 L165.6,350.4 L166.6,349.1 L167.6,347.5 L168.6,345.5 L169.6,343.1 L170.6,340.3 L171.6,337.4 L172.6,334.5 L173.6,331.9 L174.6,329.8 L175.6,328.4 L176.6,328.2 L177.6,329.1 L178.6,331.1 L179.6,333.8 L180.6,337.1 L181.6,340.6 L182.6,344 L183.6,347.3 L184.6,350.1 L185.6,352.6 L186.6,354.6 L187.6,356.3 L188.6,357.5 L189.6,358.5 L190.6,359.3 L191.6,359.8 L192.6,360.2 L193.6,360.5 L194.6,360.8 L195.6,361 L196.6,361.1 L197.6,361.3 L198.6,361.4 L199.6,361.5 L200.6,361.6 L201.6,361.7 L202.6,361.8 L203.6,361.9 L204.6,362 L205.6,362.1 L206.6,362.2 L207.6,362.3 L208.6,362.4 L209.6,362.4 L210.6,362.5 L211.6,362.6 L212.6,362.7 L213.6,362.7 L214.6,362.8 L215.6,362.9 L216.6,362.9 L217.6,363 L218.6,363 L219.6,363.1 L220.6,363.1 L221.6,363.2 L222.6,363.2 L223.6,363.2 L224.6,363.3 L225.6,363.3 L226.6,363.3 L227.6,363.3 L228.6,363.4" fill="none" stroke="#7ed36c" stroke-width="1.15"/>
<path d="M30.7,347.2 L32.7,347.2 L34.7,347.3 L36.7,347.3 L38.7,347.4 L40.7,347.5 L42.7,347.6 L44.7,347.7 L46.7,347.8 L48.7,347.9 L50.7,347.9 L52.7,348 L54.7,348 L56.7,348 L58.7,348.1 L60.7,348.1 L62.7,348.2 L64.7,348.3 L66.7,348.5 L68.7,348.6 L70.7,348.8 L72.7,349 L74.7,349.1 L76.7,349.3 L78.7,349.5 L80.7,349.6 L82.7,349.8 L84.7,349.9 L86.7,350 L88.7,350.1 L90.7,350.2 L92.7,350.3 L94.7,350.3 L96.7,350.3 L98.7,350.4 L100.7,350.5 L102.7,350.6 L104.7,350.7 L106.7,350.8 L108.7,351 L110.7,351.2 L112.7,351.4 L114.7,351.5 L116.7,351.7 L118.7,351.8 L120.7,352 L122.7,352.1 L124.7,352.1 L126.7,352.2 L128.7,352.2 L130.7,352.2 L132.7,352.3 L134.7,352.4 L136.7,352.5 L138.7,352.7 L140.7,352.8 L142.7,353 L144.7,353.1 L146.7,353.3 L148.7,353.4 L150.7,353.5 L152.7,353.6 L154.7,353.6 L156.7,353.7 L158.7,353.9 L160.7,354.4 L162.7,354.9 L164.7,355.6 L166.7,356.4 L168.7,357.2 L170.7,358 L172.7,358.8 L174.7,359.6 L176.7,360.3 L178.7,360.9 L180.7,361.3 L182.7,361.7 L184.7,361.8 L186.7,361.8 L188.7,361.8 L190.7,361.9 L192.7,361.9 L194.7,362 L196.7,362.1 L198.7,362.2 L200.7,362.3 L202.7,362.4 L204.7,362.5 L206.7,362.6 L208.7,362.7 L210.7,362.9 L212.7,363 L214.7,363.1 L216.7,363.2 L218.7,363.3 L220.7,363.3 L222.7,363.4 L224.7,363.5 L226.7,363.5" fill="none" stroke="#3f6e2c" stroke-width="1.2"/>
<path d="M31.1,346.8 C32.6,346.5 37.5,345.7 40.4,345.1 C43.3,344.5 46,344.1 48.7,343.1 C51.5,342.1 54.5,340.6 56.9,338.9 C59.3,337.2 61,334.9 63.1,332.7 C65.2,330.5 67.2,327.1 69.3,325.5 C71.4,323.9 73.6,323.4 75.5,323.4 C77.4,323.4 79,323.9 80.7,325.5 C82.4,327.1 84.4,330.1 85.9,332.7 C87.5,335.3 88.3,338.6 90,341 C91.7,343.4 93.5,345.8 96.2,347.2 C99,348.6 101.2,348.9 106.5,349.3 C111.8,349.7 122.7,350.3 128,349.8 C133.3,349.3 134.9,348 138.4,346.4 C141.9,344.8 145.8,342.9 148.9,340.1 C152,337.3 154.8,333.5 157.2,329.7 C159.6,325.9 161.6,320.2 163.5,317.1 C165.4,314 167.3,312.4 168.7,310.9 C170.1,309.4 170.9,309 172,308.3 C173.1,307.6 174.2,306.9 175,306.9 C175.8,306.9 176.4,307.3 177,308.2 C177.6,309.1 177.9,309.5 178.6,312 C179.3,314.5 180.2,318.7 181.2,323.4 C182.2,328.1 183.2,335.2 184.4,340.1 C185.6,345 186.8,349.5 188.5,352.6 C190.2,355.7 191.7,357.5 194.8,358.9 C197.9,360.3 201.7,360.3 207.3,361 C212.9,361.7 225,362.7 228.5,363" fill="none" stroke="#a262d2" stroke-width="3.6" stroke-opacity="0.35"/>
<path d="M31.1,346.8 C32.6,346.5 37.5,345.7 40.4,345.1 C43.3,344.5 46,344.1 48.7,343.1 C51.5,342.1 54.5,340.6 56.9,338.9 C59.3,337.2 61,334.9 63.1,332.7 C65.2,330.5 67.2,327.1 69.3,325.5 C71.4,323.9 73.6,323.4 75.5,323.4 C77.4,323.4 79,323.9 80.7,325.5 C82.4,327.1 84.4,330.1 85.9,332.7 C87.5,335.3 88.3,338.6 90,341 C91.7,343.4 93.5,345.8 96.2,347.2 C99,348.6 101.2,348.9 106.5,349.3 C111.8,349.7 122.7,350.3 128,349.8 C133.3,349.3 134.9,348 138.4,346.4 C141.9,344.8 145.8,342.9 148.9,340.1 C152,337.3 154.8,333.5 157.2,329.7 C159.6,325.9 161.6,320.2 163.5,317.1 C165.4,314 167.3,312.4 168.7,310.9 C170.1,309.4 170.9,309 172,308.3 C173.1,307.6 174.2,306.9 175,306.9 C175.8,306.9 176.4,307.3 177,308.2 C177.6,309.1 177.9,309.5 178.6,312 C179.3,314.5 180.2,318.7 181.2,323.4 C182.2,328.1 183.2,335.2 184.4,340.1 C185.6,345 186.8,349.5 188.5,352.6 C190.2,355.7 191.7,357.5 194.8,358.9 C197.9,360.3 201.7,360.3 207.3,361 C212.9,361.7 225,362.7 228.5,363" fill="none" stroke="#a262d2" stroke-width="2.6" stroke-opacity="0.95"/>
<path d="M30.7,393.4 L31.7,393.4 L32.7,393.4 L33.7,393.4 L34.7,393.4 L35.7,393.3 L36.7,393.3 L37.7,393.3 L38.7,393.3 L39.7,393.3 L40.7,393.3 L41.7,393.2 L42.7,393.2 L43.7,393.1 L44.7,393 L45.7,392.9 L46.7,392.8 L47.7,392.6 L48.7,392.4 L49.7,392.2 L50.7,391.9 L51.7,391.6 L52.7,391.3 L53.7,390.9 L54.7,390.4 L55.7,389.9 L56.7,389.3 L57.7,388.8 L58.7,388.2 L59.7,387.5 L60.7,386.9 L61.7,386.2 L62.7,385.6 L63.7,384.9 L64.7,384.3 L65.7,383.8 L66.7,383.3 L67.7,382.9 L68.7,382.7 L69.7,382.6 L70.7,382.6 L71.7,382.8 L72.7,383.1 L73.7,383.6 L74.7,384.1 L75.7,384.8 L76.7,385.4 L77.7,386.2 L78.7,386.9 L79.7,387.7 L80.7,388.5 L81.7,389.2 L82.7,389.9 L83.7,390.6 L84.7,391.2 L85.7,391.7 L86.7,392.3 L87.7,392.8 L88.7,393.2 L89.7,393.6 L90.7,393.9 L91.7,394.2 L92.7,394.5 L93.7,394.7 L94.7,394.9 L95.7,395 L96.7,395.2 L97.7,395.3 L98.7,395.4 L99.7,395.6 L100.7,395.7 L101.7,395.8 L102.7,395.9 L103.7,396 L104.7,396 L105.7,396.1 L106.7,396.2 L107.7,396.3 L108.7,396.4 L109.7,396.5 L110.7,396.6 L111.7,396.7 L112.7,396.8 L113.7,396.8 L114.7,396.9 L115.7,397 L116.7,397.1 L117.7,397.1 L118.7,397.2 L119.7,397.3 L120.7,397.3 L121.7,397.4 L122.7,397.4 L123.7,397.5 L124.7,397.5 L125.7,397.5 L126.7,397.5 L127.7,397.6 L128.7,397.6 L129.7,397.6 L130.7,397.6 L131.7,397.7 L132.7,397.7 L133.7,397.8 L134.7,397.9 L135.7,398 L136.7,398.1 L137.7,398.2 L138.7,398.3 L139.7,398.4 L140.7,398.5 L141.7,398.6 L142.7,398.7 L143.7,398.8 L144.7,398.9 L145.7,399 L146.7,399.1 L147.7,399.1 L148.7,399.2 L149.7,399.3 L150.7,399.4 L151.7,399.4 L152.7,399.4 L153.7,399.5 L154.7,399.5 L155.7,399.5 L156.7,399.5 L157.7,399.6 L158.7,399.7 L159.7,399.9 L160.7,400.1 L161.7,400.3 L162.7,400.5 L163.7,400.7 L164.7,401 L165.7,401.3 L166.7,401.5 L167.7,401.8 L168.7,402.1 L169.7,402.4 L170.7,402.7 L171.4,403 L170.4,402.7 L169.4,402.4 L168.4,402.1 L167.4,401.8 L166.4,401.5 L165.4,401.3 L164.4,401 L163.4,400.7 L162.4,400.5 L161.4,400.3 L160.4,400.1 L159.4,399.9 L158.4,399.8 L157.4,399.7 L156.4,399.6 L155.4,399.6 L154.4,399.6 L153.4,399.6 L152.4,399.6 L151.4,399.5 L150.4,399.5 L149.4,399.4 L148.4,399.3 L147.4,399.3 L146.4,399.2 L145.4,399.1 L144.4,399 L143.4,398.9 L142.4,398.8 L141.4,398.7 L140.4,398.6 L139.4,398.5 L138.4,398.4 L137.4,398.3 L136.4,398.2 L135.4,398.1 L134.4,398.1 L133.4,398 L132.4,397.9 L131.4,397.9 L130.4,397.8 L129.4,397.8 L128.4,397.8 L127.4,397.8 L126.4,397.8 L125.4,397.8 L124.4,397.8 L123.4,397.7 L122.4,397.7 L121.4,397.7 L120.4,397.6 L119.4,397.6 L118.4,397.5 L117.4,397.5 L116.4,397.4 L115.4,397.3 L114.4,397.3 L113.4,397.2 L112.4,397.2 L111.4,397.1 L110.4,397 L109.4,397 L108.4,396.9 L107.4,396.8 L106.4,396.8 L105.4,396.7 L104.4,396.7 L103.4,396.6 L102.4,396.6 L101.4,396.5 L100.4,396.5 L99.4,396.5 L98.4,396.4 L97.4,396.4 L96.4,396.4 L95.4,396.4 L94.4,396.4 L93.4,396.4 L92.4,396.4 L91.4,396.4 L90.4,396.3 L89.4,396.3 L88.4,396.3 L87.4,396.2 L86.4,396.2 L85.4,396.1 L84.4,396.1 L83.4,396 L82.4,396 L81.4,395.9 L80.4,395.9 L79.4,395.8 L78.4,395.7 L77.4,395.7 L76.4,395.6 L75.4,395.5 L74.4,395.5 L73.4,395.4 L72.4,395.3 L71.4,395.3 L70.4,395.2 L69.4,395.1 L68.4,395.1 L67.4,395 L66.4,395 L65.4,394.9 L64.4,394.9 L63.4,394.8 L62.4,394.8 L61.4,394.7 L60.4,394.7 L59.4,394.7 L58.4,394.6 L57.4,394.6 L56.4,394.6 L55.4,394.6 L54.4,394.6 L53.4,394.6 L52.4,394.6 L51.4,394.6 L50.4,394.5 L49.4,394.5 L48.4,394.5 L47.4,394.4 L46.4,394.4 L45.4,394.4 L44.4,394.3 L43.4,394.3 L42.4,394.2 L41.4,394.2 L40.4,394.1 L39.4,394.1 L38.4,394.1 L37.4,394 L36.4,394 L35.4,394 L34.4,393.9 L33.4,393.9 L32.4,393.9 L31.4,393.9 Z" fill="#fcdcbd" fill-opacity="0.85" stroke="none"/>
<path d="M41.3,394.1 L42.3,394.1 L43.3,394.2 L44.3,394.2 L45.3,394.3 L46.3,394.3 L47.3,394.3 L48.3,394.4 L49.3,394.4 L50.3,394.4 L51.3,394.4 L52.3,394.4 L53.3,394.4 L54.3,394.4 L55.3,394.4 L56.3,394.4 L57.3,394.4 L58.3,394.4 L59.3,394.4 L60.3,394.4 L61.3,394.4 L62.3,394.4 L63.3,394.4 L64.3,394.4 L65.3,394.4 L66.3,394.3 L67.3,394.2 L68.3,394 L69.3,393.8 L70.3,393.4 L71.3,393 L72.3,392.4 L73.3,391.7 L74.3,390.8 L75.3,389.9 L76.3,388.9 L77.3,387.9 L78.3,387 L79.3,386.3 L80.3,385.8 L81.3,385.7 L82.3,385.9 L83.3,386.5 L84.3,387.4 L85.3,388.4 L86.3,389.5 L87.3,390.6 L88.3,391.6 L89.3,392.6 L90.3,393.4 L91.3,394.1 L92.3,394.6 L93.3,395 L94.3,395.3 L95.3,395.6 L96.3,395.7 L97.3,395.9 L98.3,396 L99.3,396.1 L100.3,396.2 L101.3,396.2 L102.3,396.3 L103.3,396.4 L104.3,396.4 L105.3,396.5 L106.3,396.6 L107.3,396.7 L108.3,396.7 L109.3,396.8 L110.3,396.9 L111.3,396.9 L112.3,397 L113.3,397.1 L114.3,397.2 L115.3,397.2 L116.3,397.3 L117.3,397.4 L118.3,397.4 L119.3,397.5 L120.3,397.5 L121.3,397.6 L121.3,397.7 L120.3,397.6 L119.3,397.6 L118.3,397.5 L117.3,397.5 L116.3,397.4 L115.3,397.3 L114.3,397.3 L113.3,397.2 L112.3,397.2 L111.3,397.1 L110.3,397 L109.3,397 L108.3,396.9 L107.3,396.8 L106.3,396.8 L105.3,396.7 L104.3,396.7 L103.3,396.6 L102.3,396.6 L101.3,396.5 L100.3,396.5 L99.3,396.5 L98.3,396.4 L97.3,396.4 L96.3,396.4 L95.3,396.4 L94.3,396.4 L93.3,396.4 L92.3,396.4 L91.3,396.4 L90.3,396.3 L89.3,396.3 L88.3,396.3 L87.3,396.2 L86.3,396.2 L85.3,396.1 L84.3,396.1 L83.3,396 L82.3,396 L81.3,395.9 L80.3,395.8 L79.3,395.8 L78.3,395.7 L77.3,395.7 L76.3,395.6 L75.3,395.5 L74.3,395.5 L73.3,395.4 L72.3,395.3 L71.3,395.3 L70.3,395.2 L69.3,395.1 L68.3,395.1 L67.3,395 L66.3,394.9 L65.3,394.9 L64.3,394.8 L63.3,394.8 L62.3,394.8 L61.3,394.7 L60.3,394.7 L59.3,394.7 L58.3,394.6 L57.3,394.6 L56.3,394.6 L55.3,394.6 L54.3,394.6 L53.3,394.6 L52.3,394.6 L51.3,394.6 L50.3,394.5 L49.3,394.5 L48.3,394.5 L47.3,394.4 L46.3,394.4 L45.3,394.3 L44.3,394.3 L43.3,394.3 L42.3,394.2 L41.3,394.2 Z" fill="#cdeec4" fill-opacity="0.85" stroke="none"/>
<path d="M30.7,393.8 L31.7,393.8 L32.7,393.8 L33.7,393.8 L34.7,393.8 L35.7,393.9 L36.7,393.9 L37.7,393.9 L38.7,394 L39.7,394 L40.7,394 L41.7,394.1 L42.7,394.1 L43.7,394.2 L44.7,394.2 L45.7,394.2 L46.7,394.3 L47.7,394.3 L48.7,394.4 L49.7,394.4 L50.7,394.4 L51.7,394.4 L52.7,394.4 L53.7,394.5 L54.7,394.5 L55.7,394.5 L56.7,394.5 L57.7,394.5 L58.7,394.5 L59.7,394.5 L60.7,394.5 L61.7,394.6 L62.7,394.6 L63.7,394.7 L64.7,394.7 L65.7,394.7 L66.7,394.8 L67.7,394.9 L68.7,394.9 L69.7,395 L70.7,395 L71.7,395.1 L72.7,395.2 L73.7,395.2 L74.7,395.3 L75.7,395.3 L76.7,395.4 L77.7,395.5 L78.7,395.5 L79.7,395.6 L80.7,395.6 L81.7,395.7 L82.7,395.8 L83.7,395.8 L84.7,395.8 L85.7,395.9 L86.7,395.9 L87.7,396 L88.7,396 L89.7,396 L90.7,396 L91.7,396.1 L92.7,396.1 L93.7,396.1 L94.7,396.1 L95.7,396.1 L96.7,396.1 L97.7,396.1 L98.7,396.1 L99.7,396.1 L100.7,396.1 L101.7,396.2 L102.7,396.2 L103.7,396.2 L104.7,396.3 L105.7,396.3 L106.7,396.3 L107.7,396.4 L108.7,396.4 L109.7,396.5 L110.7,396.5 L111.7,396.6 L112.7,396.6 L113.7,396.6 L114.7,396.7 L115.7,396.7 L116.7,396.8 L117.7,396.8 L118.7,396.8 L119.7,396.8 L120.7,396.9 L121.7,396.9 L122.7,396.9 L123.7,396.9 L124.7,396.8 L125.7,396.8 L126.7,396.8 L127.7,396.7 L128.7,396.7 L129.7,396.6 L130.7,396.6 L131.7,396.6 L132.7,396.5 L133.7,396.5 L134.7,396.5 L135.7,396.4 L136.7,396.4 L137.7,396.3 L138.7,396.2 L139.7,396.1 L140.7,395.9 L141.7,395.7 L142.7,395.4 L143.7,395.1 L144.7,394.8 L145.7,394.3 L146.7,393.8 L147.7,393.2 L148.7,392.5 L149.7,391.6 L150.7,390.7 L151.7,389.7 L152.7,388.6 L153.7,387.4 L154.7,386.1 L155.7,384.7 L156.7,383.3 L157.7,381.9 L158.7,380.5 L159.7,379.2 L160.7,378 L161.7,376.9 L162.7,376 L163.7,375.3 L164.7,374.8 L165.7,374.7 L166.7,374.8 L167.7,375.3 L168.7,376.1 L169.7,377.1 L170.7,378.4 L171.7,379.9 L172.7,381.5 L173.7,383.2 L174.7,384.9 L175.7,386.7 L176.7,388.4 L177.7,390.1 L178.7,391.7 L179.7,393.2 L180.7,394.5 L181.7,395.8 L182.7,397 L183.7,398 L184.7,398.9 L185.7,399.6 L186.7,400.3 L187.7,400.9 L188.7,401.5 L189.7,402 L190.7,402.4 L191.7,402.7 L192.7,403.1 L193.7,403.4 L194.7,403.6 L195.7,403.8 L196.7,404 L197.7,404.2 L198.7,404.4 L199.7,404.5 L200.7,404.7 L201.7,404.8 L202.7,404.9 L203.7,405.1 L204.7,405.2 L205.7,405.3 L206.7,405.4 L207.7,405.5 L208.7,405.6 L209.7,405.7 L210.7,405.8 L211.7,405.9 L212.7,405.9 L213.7,406 L214.7,406.1 L215.7,406.2 L216.7,406.2 L217.7,406.3 L218.7,406.4 L219.7,406.4 L220.7,406.5 L221.7,406.5 L222.7,406.6 L223.7,406.6 L224.7,406.7 L225.7,406.7 L226.7,406.7 L227.7,406.7 L228.6,407.2 L227.6,407.2 L226.6,407.2 L225.6,407.2 L224.6,407.2 L223.6,407.1 L222.6,407.1 L221.6,407.1 L220.6,407 L219.6,407 L218.6,407 L217.6,406.9 L216.6,406.9 L215.6,406.8 L214.6,406.8 L213.6,406.7 L212.6,406.7 L211.6,406.6 L210.6,406.6 L209.6,406.5 L208.6,406.5 L207.6,406.4 L206.6,406.4 L205.6,406.3 L204.6,406.3 L203.6,406.2 L202.6,406.2 L201.6,406.1 L200.6,406.1 L199.6,406 L198.6,406 L197.6,405.9 L196.6,405.9 L195.6,405.8 L194.6,405.8 L193.6,405.8 L192.6,405.7 L191.6,405.7 L190.6,405.7 L189.6,405.6 L188.6,405.6 L187.6,405.6 L186.6,405.6 L185.6,405.6 L184.6,405.6 L183.6,405.6 L182.6,405.5 L181.6,405.4 L180.6,405.3 L179.6,405.1 L178.6,404.9 L177.6,404.7 L176.6,404.5 L175.6,404.2 L174.6,403.9 L173.6,403.7 L172.6,403.4 L171.6,403.1 L170.6,402.8 L169.6,402.5 L168.6,402.2 L167.6,401.9 L166.6,401.6 L165.6,401.3 L164.6,401 L163.6,400.8 L162.6,400.6 L161.6,400.3 L160.6,400.1 L159.6,400 L158.6,399.8 L157.6,399.7 L156.6,399.6 L155.6,399.6 L154.6,399.6 L153.6,399.6 L152.6,399.6 L151.6,399.5 L150.6,399.5 L149.6,399.4 L148.6,399.3 L147.6,399.3 L146.6,399.2 L145.6,399.1 L144.6,399 L143.6,398.9 L142.6,398.8 L141.6,398.7 L140.6,398.6 L139.6,398.5 L138.6,398.4 L137.6,398.3 L136.6,398.2 L135.6,398.1 L134.6,398.1 L133.6,398 L132.6,397.9 L131.6,397.9 L130.6,397.8 L129.6,397.8 L128.6,397.8 L127.6,397.8 L126.6,397.8 L125.6,397.8 L124.6,397.8 L123.6,397.7 L122.6,397.7 L121.6,397.7 L120.6,397.6 L119.6,397.6 L118.6,397.5 L117.6,397.5 L116.6,397.4 L115.6,397.4 L114.6,397.3 L113.6,397.2 L112.6,397.2 L111.6,397.1 L110.6,397 L109.6,397 L108.6,396.9 L107.6,396.9 L106.6,396.8 L105.6,396.7 L104.6,396.7 L103.6,396.6 L102.6,396.6 L101.6,396.5 L100.6,396.5 L99.6,396.5 L98.6,396.4 L97.6,396.4 L96.6,396.4 L95.6,396.4 L94.6,396.4 L93.6,396.4 L92.6,396.4 L91.6,396.4 L90.6,396.3 L89.6,396.3 L88.6,396.3 L87.6,396.2 L86.6,396.2 L85.6,396.1 L84.6,396.1 L83.6,396 L82.6,396 L81.6,395.9 L80.6,395.9 L79.6,395.8 L78.6,395.7 L77.6,395.7 L76.6,395.6 L75.6,395.5 L74.6,395.5 L73.6,395.4 L72.6,395.3 L71.6,395.3 L70.6,395.2 L69.6,395.1 L68.6,395.1 L67.6,395 L66.6,395 L65.6,394.9 L64.6,394.9 L63.6,394.8 L62.6,394.8 L61.6,394.7 L60.6,394.7 L59.6,394.7 L58.6,394.6 L57.6,394.6 L56.6,394.6 L55.6,394.6 L54.6,394.6 L53.6,394.6 L52.6,394.6 L51.6,394.6 L50.6,394.5 L49.6,394.5 L48.6,394.5 L47.6,394.4 L46.6,394.4 L45.6,394.4 L44.6,394.3 L43.6,394.3 L42.6,394.2 L41.6,394.2 L40.6,394.1 L39.6,394.1 L38.6,394.1 L37.6,394 L36.6,394 L35.6,394 L34.6,393.9 L33.6,393.9 L32.6,393.9 L31.6,393.9 Z" fill="#fcdcbd" fill-opacity="0.85" stroke="none"/>
<path d="M119.5,397.5 L120.5,397.5 L121.5,397.6 L122.5,397.6 L123.5,397.6 L124.5,397.7 L125.5,397.7 L126.5,397.7 L127.5,397.7 L128.5,397.7 L129.5,397.7 L130.5,397.7 L131.5,397.8 L132.5,397.8 L133.5,397.9 L134.5,397.9 L135.5,398 L136.5,398.1 L137.5,398.1 L138.5,398.2 L139.5,398.3 L140.5,398.4 L141.5,398.5 L142.5,398.6 L143.5,398.7 L144.5,398.8 L145.5,398.8 L146.5,398.9 L147.5,399 L148.5,399 L149.5,399.1 L150.5,399.1 L151.5,399.1 L152.5,399.1 L153.5,399.1 L154.5,399.1 L155.5,399.1 L156.5,399.1 L157.5,399.1 L158.5,399.1 L159.5,399.1 L160.5,399.2 L161.5,399.2 L162.5,399.1 L163.5,399 L164.5,398.8 L165.5,398.4 L166.5,397.8 L167.5,397 L168.5,396 L169.5,394.6 L170.5,393 L171.5,391.2 L172.5,389.3 L173.5,387.4 L174.5,385.6 L175.5,384.2 L176.5,383.4 L177.5,383.2 L178.5,383.8 L179.5,385.1 L180.5,387 L181.5,389.1 L182.5,391.5 L183.5,393.8 L184.5,395.9 L185.5,397.8 L186.5,399.4 L187.5,400.8 L188.5,401.9 L189.5,402.8 L190.5,403.4 L191.5,403.9 L192.5,404.3 L193.5,404.6 L194.5,404.8 L195.5,405 L196.5,405.2 L197.5,405.3 L198.5,405.4 L199.5,405.5 L200.5,405.6 L201.5,405.7 L202.5,405.7 L203.5,405.8 L204.5,405.9 L205.5,406 L206.5,406.1 L207.5,406.1 L208.5,406.2 L209.5,406.3 L210.5,406.3 L211.5,406.4 L212.5,406.5 L213.5,406.5 L214.5,406.6 L215.5,406.7 L216.5,406.7 L217.5,406.8 L218.5,406.8 L219.5,406.9 L220.5,406.9 L221.5,406.9 L222.5,407 L223.5,407 L224.5,407 L225.5,407.1 L226.5,407.1 L227.5,407.1 L228.5,407.1 L228.6,407.2 L227.6,407.2 L226.6,407.2 L225.6,407.2 L224.6,407.2 L223.6,407.1 L222.6,407.1 L221.6,407.1 L220.6,407 L219.6,407 L218.6,407 L217.6,406.9 L216.6,406.9 L215.6,406.8 L214.6,406.8 L213.6,406.7 L212.6,406.7 L211.6,406.6 L210.6,406.6 L209.6,406.5 L208.6,406.5 L207.6,406.4 L206.6,406.4 L205.6,406.3 L204.6,406.3 L203.6,406.2 L202.6,406.2 L201.6,406.1 L200.6,406.1 L199.6,406 L198.6,406 L197.6,405.9 L196.6,405.9 L195.6,405.8 L194.6,405.8 L193.6,405.8 L192.6,405.7 L191.6,405.7 L190.6,405.7 L189.6,405.6 L188.6,405.6 L187.6,405.6 L186.6,405.6 L185.6,405.6 L184.6,405.6 L183.6,405.6 L182.6,405.5 L181.6,405.4 L180.6,405.3 L179.6,405.1 L178.6,404.9 L177.6,404.7 L176.6,404.5 L175.6,404.2 L174.6,403.9 L173.6,403.7 L172.6,403.4 L171.6,403.1 L170.6,402.8 L169.6,402.5 L168.6,402.2 L167.6,401.9 L166.6,401.6 L165.6,401.3 L164.6,401 L163.6,400.8 L162.6,400.6 L161.6,400.3 L160.6,400.1 L159.6,400 L158.6,399.8 L157.6,399.7 L156.6,399.6 L155.6,399.6 L154.6,399.6 L153.6,399.6 L152.6,399.6 L151.6,399.5 L150.6,399.5 L149.6,399.4 L148.6,399.3 L147.6,399.3 L146.6,399.2 L145.6,399.1 L144.6,399 L143.6,398.9 L142.6,398.8 L141.6,398.7 L140.6,398.6 L139.6,398.5 L138.6,398.4 L137.6,398.3 L136.6,398.2 L135.6,398.1 L134.6,398.1 L133.6,398 L132.6,397.9 L131.6,397.9 L130.6,397.8 L129.6,397.8 L128.6,397.8 L127.6,397.8 L126.6,397.8 L125.6,397.8 L124.6,397.8 L123.6,397.7 L122.6,397.7 L121.6,397.7 L120.6,397.6 L119.6,397.6 Z" fill="#cdeec4" fill-opacity="0.85" stroke="none"/>
<path d="M30.7,393.4 L31.7,393.4 L32.7,393.4 L33.7,393.4 L34.7,393.4 L35.7,393.3 L36.7,393.3 L37.7,393.3 L38.7,393.3 L39.7,393.3 L40.7,393.3 L41.7,393.2 L42.7,393.2 L43.7,393.1 L44.7,393 L45.7,392.9 L46.7,392.8 L47.7,392.6 L48.7,392.4 L49.7,392.2 L50.7,391.9 L51.7,391.6 L52.7,391.3 L53.7,390.9 L54.7,390.4 L55.7,389.9 L56.7,389.3 L57.7,388.8 L58.7,388.2 L59.7,387.5 L60.7,386.9 L61.7,386.2 L62.7,385.6 L63.7,384.9 L64.7,384.3 L65.7,383.8 L66.7,383.3 L67.7,382.9 L68.7,382.7 L69.7,382.6 L70.7,382.6 L71.7,382.8 L72.7,383.1 L73.7,383.6 L74.7,384.1 L75.7,384.8 L76.7,385.4 L77.7,386.2 L78.7,386.9 L79.7,387.7 L80.7,388.5 L81.7,389.2 L82.7,389.9 L83.7,390.6 L84.7,391.2 L85.7,391.7 L86.7,392.3 L87.7,392.8 L88.7,393.2 L89.7,393.6 L90.7,393.9 L91.7,394.2 L92.7,394.5 L93.7,394.7 L94.7,394.9 L95.7,395 L96.7,395.2 L97.7,395.3 L98.7,395.4 L99.7,395.6 L100.7,395.7 L101.7,395.8 L102.7,395.9 L103.7,396 L104.7,396 L105.7,396.1 L106.7,396.2 L107.7,396.3 L108.7,396.4 L109.7,396.5 L110.7,396.6 L111.7,396.7 L112.7,396.8 L113.7,396.8 L114.7,396.9 L115.7,397 L116.7,397.1 L117.7,397.1 L118.7,397.2 L119.7,397.3 L120.7,397.3 L121.7,397.4 L122.7,397.4 L123.7,397.5 L124.7,397.5 L125.7,397.5 L126.7,397.5 L127.7,397.6 L128.7,397.6 L129.7,397.6 L130.7,397.6 L131.7,397.7 L132.7,397.7 L133.7,397.8 L134.7,397.9 L135.7,398 L136.7,398.1 L137.7,398.2 L138.7,398.3 L139.7,398.4 L140.7,398.5 L141.7,398.6 L142.7,398.7 L143.7,398.8 L144.7,398.9 L145.7,399 L146.7,399.1 L147.7,399.1 L148.7,399.2 L149.7,399.3 L150.7,399.4 L151.7,399.4 L152.7,399.4 L153.7,399.5 L154.7,399.5 L155.7,399.5 L156.7,399.5 L157.7,399.6 L158.7,399.7 L159.7,399.9 L160.7,400.1 L161.7,400.3 L162.7,400.5 L163.7,400.7 L164.7,401 L165.7,401.3 L166.7,401.5 L167.7,401.8 L168.7,402.1 L169.7,402.4 L170.7,402.7" fill="none" stroke="#f3a560" stroke-width="1.15"/>
<path d="M41.3,394.1 L42.3,394.1 L43.3,394.2 L44.3,394.2 L45.3,394.3 L46.3,394.3 L47.3,394.3 L48.3,394.4 L49.3,394.4 L50.3,394.4 L51.3,394.4 L52.3,394.4 L53.3,394.4 L54.3,394.4 L55.3,394.4 L56.3,394.4 L57.3,394.4 L58.3,394.4 L59.3,394.4 L60.3,394.4 L61.3,394.4 L62.3,394.4 L63.3,394.4 L64.3,394.4 L65.3,394.4 L66.3,394.3 L67.3,394.2 L68.3,394 L69.3,393.8 L70.3,393.4 L71.3,393 L72.3,392.4 L73.3,391.7 L74.3,390.8 L75.3,389.9 L76.3,388.9 L77.3,387.9 L78.3,387 L79.3,386.3 L80.3,385.8 L81.3,385.7 L82.3,385.9 L83.3,386.5 L84.3,387.4 L85.3,388.4 L86.3,389.5 L87.3,390.6 L88.3,391.6 L89.3,392.6 L90.3,393.4 L91.3,394.1 L92.3,394.6 L93.3,395 L94.3,395.3 L95.3,395.6 L96.3,395.7 L97.3,395.9 L98.3,396 L99.3,396.1 L100.3,396.2 L101.3,396.2 L102.3,396.3 L103.3,396.4 L104.3,396.4 L105.3,396.5 L106.3,396.6 L107.3,396.7 L108.3,396.7 L109.3,396.8 L110.3,396.9 L111.3,396.9 L112.3,397 L113.3,397.1 L114.3,397.2 L115.3,397.2 L116.3,397.3 L117.3,397.4 L118.3,397.4 L119.3,397.5 L120.3,397.5 L121.3,397.6" fill="none" stroke="#7ed36c" stroke-width="1.15"/>
<path d="M30.7,393.8 L31.7,393.8 L32.7,393.8 L33.7,393.8 L34.7,393.8 L35.7,393.9 L36.7,393.9 L37.7,393.9 L38.7,394 L39.7,394 L40.7,394 L41.7,394.1 L42.7,394.1 L43.7,394.2 L44.7,394.2 L45.7,394.2 L46.7,394.3 L47.7,394.3 L48.7,394.4 L49.7,394.4 L50.7,394.4 L51.7,394.4 L52.7,394.4 L53.7,394.5 L54.7,394.5 L55.7,394.5 L56.7,394.5 L57.7,394.5 L58.7,394.5 L59.7,394.5 L60.7,394.5 L61.7,394.6 L62.7,394.6 L63.7,394.7 L64.7,394.7 L65.7,394.7 L66.7,394.8 L67.7,394.9 L68.7,394.9 L69.7,395 L70.7,395 L71.7,395.1 L72.7,395.2 L73.7,395.2 L74.7,395.3 L75.7,395.3 L76.7,395.4 L77.7,395.5 L78.7,395.5 L79.7,395.6 L80.7,395.6 L81.7,395.7 L82.7,395.8 L83.7,395.8 L84.7,395.8 L85.7,395.9 L86.7,395.9 L87.7,396 L88.7,396 L89.7,396 L90.7,396 L91.7,396.1 L92.7,396.1 L93.7,396.1 L94.7,396.1 L95.7,396.1 L96.7,396.1 L97.7,396.1 L98.7,396.1 L99.7,396.1 L100.7,396.1 L101.7,396.2 L102.7,396.2 L103.7,396.2 L104.7,396.3 L105.7,396.3 L106.7,396.3 L107.7,396.4 L108.7,396.4 L109.7,396.5 L110.7,396.5 L111.7,396.6 L112.7,396.6 L113.7,396.6 L114.7,396.7 L115.7,396.7 L116.7,396.8 L117.7,396.8 L118.7,396.8 L119.7,396.8 L120.7,396.9 L121.7,396.9 L122.7,396.9 L123.7,396.9 L124.7,396.8 L125.7,396.8 L126.7,396.8 L127.7,396.7 L128.7,396.7 L129.7,396.6 L130.7,396.6 L131.7,396.6 L132.7,396.5 L133.7,396.5 L134.7,396.5 L135.7,396.4 L136.7,396.4 L137.7,396.3 L138.7,396.2 L139.7,396.1 L140.7,395.9 L141.7,395.7 L142.7,395.4 L143.7,395.1 L144.7,394.8 L145.7,394.3 L146.7,393.8 L147.7,393.2 L148.7,392.5 L149.7,391.6 L150.7,390.7 L151.7,389.7 L152.7,388.6 L153.7,387.4 L154.7,386.1 L155.7,384.7 L156.7,383.3 L157.7,381.9 L158.7,380.5 L159.7,379.2 L160.7,378 L161.7,376.9 L162.7,376 L163.7,375.3 L164.7,374.8 L165.7,374.7 L166.7,374.8 L167.7,375.3 L168.7,376.1 L169.7,377.1 L170.7,378.4 L171.7,379.9 L172.7,381.5 L173.7,383.2 L174.7,384.9 L175.7,386.7 L176.7,388.4 L177.7,390.1 L178.7,391.7 L179.7,393.2 L180.7,394.5 L181.7,395.8 L182.7,397 L183.7,398 L184.7,398.9 L185.7,399.6 L186.7,400.3 L187.7,400.9 L188.7,401.5 L189.7,402 L190.7,402.4 L191.7,402.7 L192.7,403.1 L193.7,403.4 L194.7,403.6 L195.7,403.8 L196.7,404 L197.7,404.2 L198.7,404.4 L199.7,404.5 L200.7,404.7 L201.7,404.8 L202.7,404.9 L203.7,405.1 L204.7,405.2 L205.7,405.3 L206.7,405.4 L207.7,405.5 L208.7,405.6 L209.7,405.7 L210.7,405.8 L211.7,405.9 L212.7,405.9 L213.7,406 L214.7,406.1 L215.7,406.2 L216.7,406.2 L217.7,406.3 L218.7,406.4 L219.7,406.4 L220.7,406.5 L221.7,406.5 L222.7,406.6 L223.7,406.6 L224.7,406.7 L225.7,406.7 L226.7,406.7 L227.7,406.7" fill="none" stroke="#f3a560" stroke-width="1.15"/>
<path d="M119.5,397.5 L120.5,397.5 L121.5,397.6 L122.5,397.6 L123.5,397.6 L124.5,397.7 L125.5,397.7 L126.5,397.7 L127.5,397.7 L128.5,397.7 L129.5,397.7 L130.5,397.7 L131.5,397.8 L132.5,397.8 L133.5,397.9 L134.5,397.9 L135.5,398 L136.5,398.1 L137.5,398.1 L138.5,398.2 L139.5,398.3 L140.5,398.4 L141.5,398.5 L142.5,398.6 L143.5,398.7 L144.5,398.8 L145.5,398.8 L146.5,398.9 L147.5,399 L148.5,399 L149.5,399.1 L150.5,399.1 L151.5,399.1 L152.5,399.1 L153.5,399.1 L154.5,399.1 L155.5,399.1 L156.5,399.1 L157.5,399.1 L158.5,399.1 L159.5,399.1 L160.5,399.2 L161.5,399.2 L162.5,399.1 L163.5,399 L164.5,398.8 L165.5,398.4 L166.5,397.8 L167.5,397 L168.5,396 L169.5,394.6 L170.5,393 L171.5,391.2 L172.5,389.3 L173.5,387.4 L174.5,385.6 L175.5,384.2 L176.5,383.4 L177.5,383.2 L178.5,383.8 L179.5,385.1 L180.5,387 L181.5,389.1 L182.5,391.5 L183.5,393.8 L184.5,395.9 L185.5,397.8 L186.5,399.4 L187.5,400.8 L188.5,401.9 L189.5,402.8 L190.5,403.4 L191.5,403.9 L192.5,404.3 L193.5,404.6 L194.5,404.8 L195.5,405 L196.5,405.2 L197.5,405.3 L198.5,405.4 L199.5,405.5 L200.5,405.6 L201.5,405.7 L202.5,405.7 L203.5,405.8 L204.5,405.9 L205.5,406 L206.5,406.1 L207.5,406.1 L208.5,406.2 L209.5,406.3 L210.5,406.3 L211.5,406.4 L212.5,406.5 L213.5,406.5 L214.5,406.6 L215.5,406.7 L216.5,406.7 L217.5,406.8 L218.5,406.8 L219.5,406.9 L220.5,406.9 L221.5,406.9 L222.5,407 L223.5,407 L224.5,407 L225.5,407.1 L226.5,407.1 L227.5,407.1 L228.5,407.1" fill="none" stroke="#7ed36c" stroke-width="1.15"/>
<path d="M30.7,393.9 L32.7,393.9 L34.7,393.9 L36.7,394 L38.7,394.1 L40.7,394.2 L42.7,394.2 L44.7,394.3 L46.7,394.4 L48.7,394.5 L50.7,394.5 L52.7,394.6 L54.7,394.6 L56.7,394.6 L58.7,394.6 L60.7,394.7 L62.7,394.8 L64.7,394.9 L66.7,395 L68.7,395.1 L70.7,395.2 L72.7,395.3 L74.7,395.5 L76.7,395.6 L78.7,395.7 L80.7,395.9 L82.7,396 L84.7,396.1 L86.7,396.2 L88.7,396.3 L90.7,396.3 L92.7,396.4 L94.7,396.4 L96.7,396.4 L98.7,396.4 L100.7,396.5 L102.7,396.6 L104.7,396.7 L106.7,396.8 L108.7,396.9 L110.7,397 L112.7,397.2 L114.7,397.3 L116.7,397.4 L118.7,397.5 L120.7,397.6 L122.7,397.7 L124.7,397.8 L126.7,397.8 L128.7,397.8 L130.7,397.9 L132.7,397.9 L134.7,398.1 L136.7,398.2 L138.7,398.4 L140.7,398.6 L142.7,398.8 L144.7,399 L146.7,399.2 L148.7,399.4 L150.7,399.5 L152.7,399.6 L154.7,399.6 L156.7,399.7 L158.7,399.9 L160.7,400.2 L162.7,400.6 L164.7,401.1 L166.7,401.6 L168.7,402.2 L170.7,402.8 L172.7,403.4 L174.7,404 L176.7,404.5 L178.7,404.9 L180.7,405.3 L182.7,405.5 L184.7,405.6 L186.7,405.6 L188.7,405.6 L190.7,405.7 L192.7,405.7 L194.7,405.8 L196.7,405.9 L198.7,406 L200.7,406.1 L202.7,406.2 L204.7,406.3 L206.7,406.4 L208.7,406.5 L210.7,406.6 L212.7,406.7 L214.7,406.8 L216.7,406.9 L218.7,407 L220.7,407.1 L222.7,407.1 L224.7,407.2 L226.7,407.2" fill="none" stroke="#3f6e2c" stroke-width="1.2"/>
<path d="M31.1,393.5 C32.6,393.2 37.5,392.6 40.4,391.9 C43.3,391.2 45.6,390.8 48.7,389.4 C51.8,388 55.9,385.4 59,383.6 C62.1,381.8 64.7,379.6 67.3,378.4 C69.9,377.2 72.1,376.4 74.5,376.4 C76.9,376.4 79.5,376.8 81.7,378.4 C83.9,379.9 85.8,383.3 87.9,385.7 C90,388.1 91.7,391.2 94.1,392.9 C96.5,394.6 96.8,395.4 102.4,396 C108.1,396.6 121.7,397.1 128,396.5 C134.3,395.9 136.7,394.3 140.5,392.6 C144.3,390.9 147.9,389.1 151,386.3 C154.1,383.5 156.9,378.8 159.3,375.9 C161.7,373 163.5,370.8 165.6,369.2 C167.7,367.6 169.7,366.6 171.8,366.5 C173.9,366.4 176.3,367 178.1,368.6 C179.8,370.2 180.9,372.6 182.3,375.9 C183.7,379.2 185.1,384.6 186.5,388.4 C187.9,392.2 188.9,396.3 190.6,398.8 C192.3,401.3 193.4,402.3 196.9,403.4 C200.4,404.4 206.2,404.5 211.5,405.1 C216.8,405.7 225.7,406.5 228.5,406.8" fill="none" stroke="#f7a04a" stroke-width="3.6" stroke-opacity="0.35"/>
<path d="M31.1,393.5 C32.6,393.2 37.5,392.6 40.4,391.9 C43.3,391.2 45.6,390.8 48.7,389.4 C51.8,388 55.9,385.4 59,383.6 C62.1,381.8 64.7,379.6 67.3,378.4 C69.9,377.2 72.1,376.4 74.5,376.4 C76.9,376.4 79.5,376.8 81.7,378.4 C83.9,379.9 85.8,383.3 87.9,385.7 C90,388.1 91.7,391.2 94.1,392.9 C96.5,394.6 96.8,395.4 102.4,396 C108.1,396.6 121.7,397.1 128,396.5 C134.3,395.9 136.7,394.3 140.5,392.6 C144.3,390.9 147.9,389.1 151,386.3 C154.1,383.5 156.9,378.8 159.3,375.9 C161.7,373 163.5,370.8 165.6,369.2 C167.7,367.6 169.7,366.6 171.8,366.5 C173.9,366.4 176.3,367 178.1,368.6 C179.8,370.2 180.9,372.6 182.3,375.9 C183.7,379.2 185.1,384.6 186.5,388.4 C187.9,392.2 188.9,396.3 190.6,398.8 C192.3,401.3 193.4,402.3 196.9,403.4 C200.4,404.4 206.2,404.5 211.5,405.1 C216.8,405.7 225.7,406.5 228.5,406.8" fill="none" stroke="#f7a04a" stroke-width="2.6" stroke-opacity="0.95"/>
<path d="M30.7,444.1 L31.7,444.1 L32.7,444 L33.7,444 L34.7,444 L35.7,444 L36.7,444 L37.7,444 L38.7,443.9 L39.7,443.9 L40.7,443.9 L41.7,443.8 L42.7,443.7 L43.7,443.6 L44.7,443.5 L45.7,443.4 L46.7,443.2 L47.7,443 L48.7,442.8 L49.7,442.5 L50.7,442.1 L51.7,441.7 L52.7,441.3 L53.7,440.8 L54.7,440.2 L55.7,439.5 L56.7,438.8 L57.7,438.1 L58.7,437.3 L59.7,436.5 L60.7,435.7 L61.7,434.9 L62.7,434 L63.7,433.2 L64.7,432.4 L65.7,431.7 L66.7,431.1 L67.7,430.7 L68.7,430.3 L69.7,430.2 L70.7,430.2 L71.7,430.4 L72.7,430.8 L73.7,431.4 L74.7,432.1 L75.7,432.8 L76.7,433.7 L77.7,434.6 L78.7,435.6 L79.7,436.5 L80.7,437.5 L81.7,438.4 L82.7,439.2 L83.7,440.1 L84.7,440.9 L85.7,441.6 L86.7,442.2 L87.7,442.8 L88.7,443.4 L89.7,443.9 L90.7,444.3 L91.7,444.6 L92.7,445 L93.7,445.2 L94.7,445.5 L95.7,445.7 L96.7,445.9 L97.7,446 L98.7,446.2 L99.7,446.3 L100.7,446.4 L101.7,446.5 L102.7,446.6 L103.7,446.7 L104.7,446.8 L105.7,446.9 L106.7,447 L107.7,447 L108.7,447.1 L109.7,447.2 L110.7,447.3 L111.7,447.3 L112.7,447.4 L113.7,447.5 L114.7,447.6 L115.7,447.6 L116.7,447.7 L117.7,447.7 L118.7,447.8 L119.7,447.8 L120.7,447.9 L121.7,447.9 L122.7,448 L123.7,448 L124.7,448 L125.7,448.1 L126.7,448.1 L127.7,448.1 L128.7,448.1 L129.7,448.1 L130.7,448.2 L131.7,448.2 L132.7,448.3 L133.7,448.3 L134.7,448.4 L135.7,448.4 L136.7,448.5 L137.7,448.6 L138.7,448.7 L139.7,448.8 L140.7,448.8 L141.7,448.9 L142.7,449 L143.7,449.1 L144.7,449.2 L145.7,449.2 L146.7,449.3 L147.7,449.4 L148.7,449.4 L149.7,449.5 L150.7,449.5 L151.7,449.6 L152.7,449.6 L153.7,449.6 L154.7,449.7 L155.7,449.7 L156.7,449.7 L157.7,449.8 L158.7,449.9 L159.7,450.1 L160.7,450.2 L161.7,450.4 L162.7,450.7 L163.7,450.9 L164.7,451.2 L165.7,451.4 L166.7,451.7 L167.7,452 L168.7,452.3 L169.7,452.6 L170.7,452.9 L171.7,453.2 L172.7,453.5 L173.7,453.8 L174.7,454.1 L175.7,454.3 L176.7,454.6 L177.7,454.8 L178.7,455 L179.7,455.2 L180.7,455.4 L181.7,455.5 L182.7,455.6 L183.4,455.8 L182.4,455.7 L181.4,455.6 L180.4,455.4 L179.4,455.3 L178.4,455.1 L177.4,454.8 L176.4,454.6 L175.4,454.4 L174.4,454.1 L173.4,453.8 L172.4,453.5 L171.4,453.2 L170.4,452.9 L169.4,452.6 L168.4,452.3 L167.4,452 L166.4,451.7 L165.4,451.5 L164.4,451.2 L163.4,450.9 L162.4,450.7 L161.4,450.5 L160.4,450.3 L159.4,450.1 L158.4,450 L157.4,449.9 L156.4,449.8 L155.4,449.8 L154.4,449.8 L153.4,449.8 L152.4,449.8 L151.4,449.7 L150.4,449.7 L149.4,449.6 L148.4,449.6 L147.4,449.5 L146.4,449.5 L145.4,449.4 L144.4,449.3 L143.4,449.2 L142.4,449.2 L141.4,449.1 L140.4,449 L139.4,448.9 L138.4,448.9 L137.4,448.8 L136.4,448.7 L135.4,448.7 L134.4,448.6 L133.4,448.5 L132.4,448.5 L131.4,448.5 L130.4,448.4 L129.4,448.4 L128.4,448.4 L127.4,448.4 L126.4,448.4 L125.4,448.4 L124.4,448.4 L123.4,448.3 L122.4,448.3 L121.4,448.3 L120.4,448.3 L119.4,448.2 L118.4,448.2 L117.4,448.2 L116.4,448.1 L115.4,448.1 L114.4,448 L113.4,448 L112.4,447.9 L111.4,447.9 L110.4,447.9 L109.4,447.8 L108.4,447.8 L107.4,447.7 L106.4,447.7 L105.4,447.6 L104.4,447.6 L103.4,447.6 L102.4,447.5 L101.4,447.5 L100.4,447.5 L99.4,447.4 L98.4,447.4 L97.4,447.4 L96.4,447.4 L95.4,447.4 L94.4,447.4 L93.4,447.4 L92.4,447.4 L91.4,447.4 L90.4,447.3 L89.4,447.3 L88.4,447.3 L87.4,447.2 L86.4,447.2 L85.4,447.1 L84.4,447.1 L83.4,447 L82.4,447 L81.4,446.9 L80.4,446.8 L79.4,446.8 L78.4,446.7 L77.4,446.6 L76.4,446.5 L75.4,446.5 L74.4,446.4 L73.4,446.3 L72.4,446.3 L71.4,446.2 L70.4,446.1 L69.4,446.1 L68.4,446 L67.4,445.9 L66.4,445.9 L65.4,445.8 L64.4,445.8 L63.4,445.7 L62.4,445.7 L61.4,445.6 L60.4,445.6 L59.4,445.6 L58.4,445.5 L57.4,445.5 L56.4,445.5 L55.4,445.5 L54.4,445.5 L53.4,445.5 L52.4,445.5 L51.4,445.5 L50.4,445.4 L49.4,445.4 L48.4,445.4 L47.4,445.3 L46.4,445.3 L45.4,445.2 L44.4,445.2 L43.4,445.1 L42.4,445.1 L41.4,445 L40.4,445 L39.4,444.9 L38.4,444.9 L37.4,444.8 L36.4,444.8 L35.4,444.8 L34.4,444.7 L33.4,444.7 L32.4,444.7 L31.4,444.7 Z" fill="#fcdcbd" fill-opacity="0.85" stroke="none"/>
<path d="M39.6,444.9 L40.6,444.9 L41.6,444.9 L42.6,445 L43.6,445 L44.6,445.1 L45.6,445.1 L46.6,445.2 L47.6,445.2 L48.6,445.2 L49.6,445.3 L50.6,445.3 L51.6,445.3 L52.6,445.3 L53.6,445.3 L54.6,445.3 L55.6,445.3 L56.6,445.3 L57.6,445.3 L58.6,445.3 L59.6,445.2 L60.6,445.2 L61.6,445.2 L62.6,445.2 L63.6,445.1 L64.6,445 L65.6,444.8 L66.6,444.6 L67.6,444.2 L68.6,443.8 L69.6,443.2 L70.6,442.6 L71.6,441.8 L72.6,440.9 L73.6,439.9 L74.6,439 L75.6,438.1 L76.6,437.5 L77.6,437 L78.6,436.9 L79.6,437.1 L80.6,437.7 L81.6,438.6 L82.6,439.6 L83.6,440.6 L84.6,441.7 L85.6,442.7 L86.6,443.6 L87.6,444.4 L88.6,445.1 L89.6,445.6 L90.6,446 L91.6,446.3 L92.6,446.6 L93.6,446.8 L94.6,446.9 L95.6,447 L96.6,447 L97.6,447.1 L98.6,447.1 L99.6,447.2 L100.6,447.2 L101.6,447.3 L102.6,447.3 L103.6,447.4 L104.6,447.4 L105.6,447.5 L106.6,447.5 L107.6,447.6 L108.6,447.6 L109.6,447.7 L110.6,447.7 L111.6,447.8 L112.6,447.8 L113.6,447.9 L114.6,447.9 L115.6,448 L116.6,448 L117.6,448.1 L117.6,448.2 L116.6,448.1 L115.6,448.1 L114.6,448 L113.6,448 L112.6,447.9 L111.6,447.9 L110.6,447.9 L109.6,447.8 L108.6,447.8 L107.6,447.7 L106.6,447.7 L105.6,447.6 L104.6,447.6 L103.6,447.6 L102.6,447.5 L101.6,447.5 L100.6,447.5 L99.6,447.5 L98.6,447.4 L97.6,447.4 L96.6,447.4 L95.6,447.4 L94.6,447.4 L93.6,447.4 L92.6,447.4 L91.6,447.4 L90.6,447.3 L89.6,447.3 L88.6,447.3 L87.6,447.2 L86.6,447.2 L85.6,447.1 L84.6,447.1 L83.6,447 L82.6,447 L81.6,446.9 L80.6,446.8 L79.6,446.8 L78.6,446.7 L77.6,446.6 L76.6,446.6 L75.6,446.5 L74.6,446.4 L73.6,446.4 L72.6,446.3 L71.6,446.2 L70.6,446.1 L69.6,446.1 L68.6,446 L67.6,445.9 L66.6,445.9 L65.6,445.8 L64.6,445.8 L63.6,445.7 L62.6,445.7 L61.6,445.6 L60.6,445.6 L59.6,445.6 L58.6,445.5 L57.6,445.5 L56.6,445.5 L55.6,445.5 L54.6,445.5 L53.6,445.5 L52.6,445.5 L51.6,445.5 L50.6,445.4 L49.6,445.4 L48.6,445.4 L47.6,445.3 L46.6,445.3 L45.6,445.2 L44.6,445.2 L43.6,445.1 L42.6,445.1 L41.6,445 L40.6,445 L39.6,444.9 Z" fill="#cdeec4" fill-opacity="0.85" stroke="none"/>
<path d="M30.7,444.6 L31.7,444.6 L32.7,444.6 L33.7,444.6 L34.7,444.6 L35.7,444.7 L36.7,444.7 L37.7,444.7 L38.7,444.8 L39.7,444.8 L40.7,444.9 L41.7,444.9 L42.7,445 L43.7,445 L44.7,445.1 L45.7,445.1 L46.7,445.1 L47.7,445.2 L48.7,445.2 L49.7,445.3 L50.7,445.3 L51.7,445.3 L52.7,445.3 L53.7,445.3 L54.7,445.3 L55.7,445.3 L56.7,445.4 L57.7,445.4 L58.7,445.4 L59.7,445.4 L60.7,445.4 L61.7,445.5 L62.7,445.5 L63.7,445.5 L64.7,445.6 L65.7,445.6 L66.7,445.7 L67.7,445.8 L68.7,445.8 L69.7,445.9 L70.7,445.9 L71.7,446 L72.7,446.1 L73.7,446.1 L74.7,446.2 L75.7,446.3 L76.7,446.3 L77.7,446.4 L78.7,446.5 L79.7,446.5 L80.7,446.6 L81.7,446.6 L82.7,446.7 L83.7,446.8 L84.7,446.8 L85.7,446.8 L86.7,446.9 L87.7,446.9 L88.7,447 L89.7,447 L90.7,447 L91.7,447 L92.7,447 L93.7,447 L94.7,447 L95.7,447 L96.7,447 L97.7,447 L98.7,447 L99.7,447 L100.7,447 L101.7,447.1 L102.7,447.1 L103.7,447.1 L104.7,447.1 L105.7,447.1 L106.7,447.2 L107.7,447.2 L108.7,447.2 L109.7,447.2 L110.7,447.3 L111.7,447.3 L112.7,447.3 L113.7,447.3 L114.7,447.3 L115.7,447.4 L116.7,447.4 L117.7,447.4 L118.7,447.4 L119.7,447.4 L120.7,447.4 L121.7,447.4 L122.7,447.4 L123.7,447.4 L124.7,447.3 L125.7,447.3 L126.7,447.2 L127.7,447.2 L128.7,447.1 L129.7,447.1 L130.7,447 L131.7,447 L132.7,446.9 L133.7,446.8 L134.7,446.8 L135.7,446.7 L136.7,446.6 L137.7,446.4 L138.7,446.3 L139.7,446.1 L140.7,445.8 L141.7,445.5 L142.7,445.2 L143.7,444.8 L144.7,444.3 L145.7,443.7 L146.7,443 L147.7,442.3 L148.7,441.4 L149.7,440.4 L150.7,439.3 L151.7,438.1 L152.7,436.8 L153.7,435.4 L154.7,433.9 L155.7,432.3 L156.7,430.7 L157.7,429.2 L158.7,427.6 L159.7,426.2 L160.7,424.9 L161.7,423.8 L162.7,422.8 L163.7,422.2 L164.7,421.8 L165.7,421.8 L166.7,422.2 L167.7,422.9 L168.7,423.9 L169.7,425.2 L170.7,426.7 L171.7,428.4 L172.7,430.2 L173.7,432.1 L174.7,434 L175.7,435.9 L176.7,437.8 L177.7,439.6 L178.7,441.3 L179.7,442.9 L180.7,444.3 L181.7,445.7 L182.7,446.9 L183.7,447.9 L184.7,448.9 L185.7,449.7 L186.7,450.4 L187.7,451 L188.7,451.5 L189.7,452 L190.7,452.5 L191.7,452.8 L192.7,453.2 L193.7,453.4 L194.7,453.7 L195.7,453.9 L196.7,454.1 L197.7,454.3 L198.7,454.5 L199.7,454.6 L200.7,454.8 L201.7,454.9 L202.7,455.1 L203.7,455.2 L204.7,455.3 L205.7,455.4 L206.7,455.5 L207.7,455.6 L208.7,455.7 L209.7,455.8 L210.7,455.9 L211.7,456 L212.7,456.1 L213.7,456.2 L214.7,456.2 L215.7,456.3 L216.7,456.4 L217.7,456.5 L218.7,456.5 L219.7,456.6 L220.7,456.6 L221.7,456.7 L222.7,456.7 L223.7,456.8 L224.7,456.8 L225.7,456.9 L226.7,456.9 L227.7,456.9 L228.6,457.4 L227.6,457.4 L226.6,457.4 L225.6,457.4 L224.6,457.4 L223.6,457.3 L222.6,457.3 L221.6,457.3 L220.6,457.2 L219.6,457.2 L218.6,457.2 L217.6,457.1 L216.6,457.1 L215.6,457 L214.6,457 L213.6,456.9 L212.6,456.9 L211.6,456.8 L210.6,456.8 L209.6,456.7 L208.6,456.7 L207.6,456.6 L206.6,456.6 L205.6,456.5 L204.6,456.5 L203.6,456.4 L202.6,456.4 L201.6,456.3 L200.6,456.3 L199.6,456.2 L198.6,456.2 L197.6,456.1 L196.6,456.1 L195.6,456 L194.6,456 L193.6,456 L192.6,455.9 L191.6,455.9 L190.6,455.9 L189.6,455.8 L188.6,455.8 L187.6,455.8 L186.6,455.8 L185.6,455.8 L184.6,455.8 L183.6,455.8 L182.6,455.7 L181.6,455.6 L180.6,455.5 L179.6,455.3 L178.6,455.1 L177.6,454.9 L176.6,454.7 L175.6,454.4 L174.6,454.1 L173.6,453.9 L172.6,453.6 L171.6,453.3 L170.6,453 L169.6,452.7 L168.6,452.4 L167.6,452.1 L166.6,451.8 L165.6,451.5 L164.6,451.2 L163.6,451 L162.6,450.8 L161.6,450.5 L160.6,450.3 L159.6,450.2 L158.6,450 L157.6,449.9 L156.6,449.8 L155.6,449.8 L154.6,449.8 L153.6,449.8 L152.6,449.8 L151.6,449.7 L150.6,449.7 L149.6,449.7 L148.6,449.6 L147.6,449.5 L146.6,449.5 L145.6,449.4 L144.6,449.3 L143.6,449.3 L142.6,449.2 L141.6,449.1 L140.6,449 L139.6,449 L138.6,448.9 L137.6,448.8 L136.6,448.7 L135.6,448.7 L134.6,448.6 L133.6,448.6 L132.6,448.5 L131.6,448.5 L130.6,448.4 L129.6,448.4 L128.6,448.4 L127.6,448.4 L126.6,448.4 L125.6,448.4 L124.6,448.4 L123.6,448.4 L122.6,448.3 L121.6,448.3 L120.6,448.3 L119.6,448.2 L118.6,448.2 L117.6,448.2 L116.6,448.1 L115.6,448.1 L114.6,448 L113.6,448 L112.6,447.9 L111.6,447.9 L110.6,447.9 L109.6,447.8 L108.6,447.8 L107.6,447.7 L106.6,447.7 L105.6,447.6 L104.6,447.6 L103.6,447.6 L102.6,447.5 L101.6,447.5 L100.6,447.5 L99.6,447.5 L98.6,447.4 L97.6,447.4 L96.6,447.4 L95.6,447.4 L94.6,447.4 L93.6,447.4 L92.6,447.4 L91.6,447.4 L90.6,447.3 L89.6,447.3 L88.6,447.3 L87.6,447.2 L86.6,447.2 L85.6,447.1 L84.6,447.1 L83.6,447 L82.6,447 L81.6,446.9 L80.6,446.8 L79.6,446.8 L78.6,446.7 L77.6,446.6 L76.6,446.6 L75.6,446.5 L74.6,446.4 L73.6,446.4 L72.6,446.3 L71.6,446.2 L70.6,446.1 L69.6,446.1 L68.6,446 L67.6,445.9 L66.6,445.9 L65.6,445.8 L64.6,445.8 L63.6,445.7 L62.6,445.7 L61.6,445.6 L60.6,445.6 L59.6,445.6 L58.6,445.5 L57.6,445.5 L56.6,445.5 L55.6,445.5 L54.6,445.5 L53.6,445.5 L52.6,445.5 L51.6,445.5 L50.6,445.4 L49.6,445.4 L48.6,445.4 L47.6,445.3 L46.6,445.3 L45.6,445.2 L44.6,445.2 L43.6,445.1 L42.6,445.1 L41.6,445 L40.6,445 L39.6,444.9 L38.6,444.9 L37.6,444.8 L36.6,444.8 L35.6,444.8 L34.6,444.7 L33.6,444.7 L32.6,444.7 L31.6,444.7 Z" fill="#fcdcbd" fill-opacity="0.85" stroke="none"/>
<path d="M120,448.2 L121,448.2 L122,448.2 L123,448.3 L124,448.3 L125,448.3 L126,448.3 L127,448.3 L128,448.3 L129,448.3 L130,448.3 L131,448.3 L132,448.4 L133,448.4 L134,448.4 L135,448.5 L136,448.5 L137,448.6 L138,448.7 L139,448.7 L140,448.8 L141,448.9 L142,448.9 L143,449 L144,449.1 L145,449.1 L146,449.2 L147,449.2 L148,449.3 L149,449.3 L150,449.3 L151,449.3 L152,449.3 L153,449.3 L154,449.3 L155,449.2 L156,449.2 L157,449.2 L158,449.1 L159,449.1 L160,449 L161,448.9 L162,448.7 L163,448.3 L164,447.8 L165,447.1 L166,446.2 L167,445.1 L168,443.7 L169,442.2 L170,440.6 L171,438.9 L172,437.4 L173,436.3 L174,435.6 L175,435.5 L176,436.1 L177,437.3 L178,439 L179,441 L180,443.1 L181,445.2 L182,447.2 L183,448.9 L184,450.4 L185,451.6 L186,452.5 L187,453.3 L188,453.9 L189,454.3 L190,454.6 L191,454.9 L192,455.1 L193,455.2 L194,455.3 L195,455.5 L196,455.5 L197,455.6 L198,455.7 L199,455.8 L200,455.9 L201,455.9 L202,456 L203,456.1 L204,456.2 L205,456.2 L206,456.3 L207,456.4 L208,456.4 L209,456.5 L210,456.6 L211,456.6 L212,456.7 L213,456.8 L214,456.8 L215,456.9 L216,456.9 L217,457 L218,457 L219,457.1 L220,457.1 L221,457.2 L222,457.2 L223,457.2 L224,457.2 L225,457.3 L226,457.3 L227,457.3 L228,457.3 L228.6,457.4 L227.6,457.4 L226.6,457.4 L225.6,457.4 L224.6,457.4 L223.6,457.3 L222.6,457.3 L221.6,457.3 L220.6,457.2 L219.6,457.2 L218.6,457.2 L217.6,457.1 L216.6,457.1 L215.6,457 L214.6,457 L213.6,456.9 L212.6,456.9 L211.6,456.8 L210.6,456.8 L209.6,456.7 L208.6,456.7 L207.6,456.6 L206.6,456.6 L205.6,456.5 L204.6,456.5 L203.6,456.4 L202.6,456.4 L201.6,456.3 L200.6,456.3 L199.6,456.2 L198.6,456.2 L197.6,456.1 L196.6,456.1 L195.6,456 L194.6,456 L193.6,456 L192.6,455.9 L191.6,455.9 L190.6,455.9 L189.6,455.8 L188.6,455.8 L187.6,455.8 L186.6,455.8 L185.6,455.8 L184.6,455.8 L183.6,455.8 L182.6,455.7 L181.6,455.6 L180.6,455.5 L179.6,455.3 L178.6,455.1 L177.6,454.9 L176.6,454.7 L175.6,454.4 L174.6,454.1 L173.6,453.9 L172.6,453.6 L171.6,453.3 L170.6,453 L169.6,452.7 L168.6,452.4 L167.6,452.1 L166.6,451.8 L165.6,451.5 L164.6,451.2 L163.6,451 L162.6,450.8 L161.6,450.5 L160.6,450.3 L159.6,450.2 L158.6,450 L157.6,449.9 L156.6,449.8 L155.6,449.8 L154.6,449.8 L153.6,449.8 L152.6,449.8 L151.6,449.7 L150.6,449.7 L149.6,449.7 L148.6,449.6 L147.6,449.5 L146.6,449.5 L145.6,449.4 L144.6,449.3 L143.6,449.3 L142.6,449.2 L141.6,449.1 L140.6,449 L139.6,449 L138.6,448.9 L137.6,448.8 L136.6,448.7 L135.6,448.7 L134.6,448.6 L133.6,448.6 L132.6,448.5 L131.6,448.5 L130.6,448.4 L129.6,448.4 L128.6,448.4 L127.6,448.4 L126.6,448.4 L125.6,448.4 L124.6,448.4 L123.6,448.4 L122.6,448.3 L121.6,448.3 L120.6,448.3 Z" fill="#cdeec4" fill-opacity="0.85" stroke="none"/>
<path d="M30.7,444.1 L31.7,444.1 L32.7,444 L33.7,444 L34.7,444 L35.7,444 L36.7,444 L37.7,444 L38.7,443.9 L39.7,443.9 L40.7,443.9 L41.7,443.8 L42.7,443.7 L43.7,443.6 L44.7,443.5 L45.7,443.4 L46.7,443.2 L47.7,443 L48.7,442.8 L49.7,442.5 L50.7,442.1 L51.7,441.7 L52.7,441.3 L53.7,440.8 L54.7,440.2 L55.7,439.5 L56.7,438.8 L57.7,438.1 L58.7,437.3 L59.7,436.5 L60.7,435.7 L61.7,434.9 L62.7,434 L63.7,433.2 L64.7,432.4 L65.7,431.7 L66.7,431.1 L67.7,430.7 L68.7,430.3 L69.7,430.2 L70.7,430.2 L71.7,430.4 L72.7,430.8 L73.7,431.4 L74.7,432.1 L75.7,432.8 L76.7,433.7 L77.7,434.6 L78.7,435.6 L79.7,436.5 L80.7,437.5 L81.7,438.4 L82.7,439.2 L83.7,440.1 L84.7,440.9 L85.7,441.6 L86.7,442.2 L87.7,442.8 L88.7,443.4 L89.7,443.9 L90.7,444.3 L91.7,444.6 L92.7,445 L93.7,445.2 L94.7,445.5 L95.7,445.7 L96.7,445.9 L97.7,446 L98.7,446.2 L99.7,446.3 L100.7,446.4 L101.7,446.5 L102.7,446.6 L103.7,446.7 L104.7,446.8 L105.7,446.9 L106.7,447 L107.7,447 L108.7,447.1 L109.7,447.2 L110.7,447.3 L111.7,447.3 L112.7,447.4 L113.7,447.5 L114.7,447.6 L115.7,447.6 L116.7,447.7 L117.7,447.7 L118.7,447.8 L119.7,447.8 L120.7,447.9 L121.7,447.9 L122.7,448 L123.7,448 L124.7,448 L125.7,448.1 L126.7,448.1 L127.7,448.1 L128.7,448.1 L129.7,448.1 L130.7,448.2 L131.7,448.2 L132.7,448.3 L133.7,448.3 L134.7,448.4 L135.7,448.4 L136.7,448.5 L137.7,448.6 L138.7,448.7 L139.7,448.8 L140.7,448.8 L141.7,448.9 L142.7,449 L143.7,449.1 L144.7,449.2 L145.7,449.2 L146.7,449.3 L147.7,449.4 L148.7,449.4 L149.7,449.5 L150.7,449.5 L151.7,449.6 L152.7,449.6 L153.7,449.6 L154.7,449.7 L155.7,449.7 L156.7,449.7 L157.7,449.8 L158.7,449.9 L159.7,450.1 L160.7,450.2 L161.7,450.4 L162.7,450.7 L163.7,450.9 L164.7,451.2 L165.7,451.4 L166.7,451.7 L167.7,452 L168.7,452.3 L169.7,452.6 L170.7,452.9 L171.7,453.2 L172.7,453.5 L173.7,453.8 L174.7,454.1 L175.7,454.3 L176.7,454.6 L177.7,454.8 L178.7,455 L179.7,455.2 L180.7,455.4 L181.7,455.5 L182.7,455.6" fill="none" stroke="#f3a560" stroke-width="1.15"/>
<path d="M39.6,444.9 L40.6,444.9 L41.6,444.9 L42.6,445 L43.6,445 L44.6,445.1 L45.6,445.1 L46.6,445.2 L47.6,445.2 L48.6,445.2 L49.6,445.3 L50.6,445.3 L51.6,445.3 L52.6,445.3 L53.6,445.3 L54.6,445.3 L55.6,445.3 L56.6,445.3 L57.6,445.3 L58.6,445.3 L59.6,445.2 L60.6,445.2 L61.6,445.2 L62.6,445.2 L63.6,445.1 L64.6,445 L65.6,444.8 L66.6,444.6 L67.6,444.2 L68.6,443.8 L69.6,443.2 L70.6,442.6 L71.6,441.8 L72.6,440.9 L73.6,439.9 L74.6,439 L75.6,438.1 L76.6,437.5 L77.6,437 L78.6,436.9 L79.6,437.1 L80.6,437.7 L81.6,438.6 L82.6,439.6 L83.6,440.6 L84.6,441.7 L85.6,442.7 L86.6,443.6 L87.6,444.4 L88.6,445.1 L89.6,445.6 L90.6,446 L91.6,446.3 L92.6,446.6 L93.6,446.8 L94.6,446.9 L95.6,447 L96.6,447 L97.6,447.1 L98.6,447.1 L99.6,447.2 L100.6,447.2 L101.6,447.3 L102.6,447.3 L103.6,447.4 L104.6,447.4 L105.6,447.5 L106.6,447.5 L107.6,447.6 L108.6,447.6 L109.6,447.7 L110.6,447.7 L111.6,447.8 L112.6,447.8 L113.6,447.9 L114.6,447.9 L115.6,448 L116.6,448 L117.6,448.1" fill="none" stroke="#7ed36c" stroke-width="1.15"/>
<path d="M30.7,444.6 L31.7,444.6 L32.7,444.6 L33.7,444.6 L34.7,444.6 L35.7,444.7 L36.7,444.7 L37.7,444.7 L38.7,444.8 L39.7,444.8 L40.7,444.9 L41.7,444.9 L42.7,445 L43.7,445 L44.7,445.1 L45.7,445.1 L46.7,445.1 L47.7,445.2 L48.7,445.2 L49.7,445.3 L50.7,445.3 L51.7,445.3 L52.7,445.3 L53.7,445.3 L54.7,445.3 L55.7,445.3 L56.7,445.4 L57.7,445.4 L58.7,445.4 L59.7,445.4 L60.7,445.4 L61.7,445.5 L62.7,445.5 L63.7,445.5 L64.7,445.6 L65.7,445.6 L66.7,445.7 L67.7,445.8 L68.7,445.8 L69.7,445.9 L70.7,445.9 L71.7,446 L72.7,446.1 L73.7,446.1 L74.7,446.2 L75.7,446.3 L76.7,446.3 L77.7,446.4 L78.7,446.5 L79.7,446.5 L80.7,446.6 L81.7,446.6 L82.7,446.7 L83.7,446.8 L84.7,446.8 L85.7,446.8 L86.7,446.9 L87.7,446.9 L88.7,447 L89.7,447 L90.7,447 L91.7,447 L92.7,447 L93.7,447 L94.7,447 L95.7,447 L96.7,447 L97.7,447 L98.7,447 L99.7,447 L100.7,447 L101.7,447.1 L102.7,447.1 L103.7,447.1 L104.7,447.1 L105.7,447.1 L106.7,447.2 L107.7,447.2 L108.7,447.2 L109.7,447.2 L110.7,447.3 L111.7,447.3 L112.7,447.3 L113.7,447.3 L114.7,447.3 L115.7,447.4 L116.7,447.4 L117.7,447.4 L118.7,447.4 L119.7,447.4 L120.7,447.4 L121.7,447.4 L122.7,447.4 L123.7,447.4 L124.7,447.3 L125.7,447.3 L126.7,447.2 L127.7,447.2 L128.7,447.1 L129.7,447.1 L130.7,447 L131.7,447 L132.7,446.9 L133.7,446.8 L134.7,446.8 L135.7,446.7 L136.7,446.6 L137.7,446.4 L138.7,446.3 L139.7,446.1 L140.7,445.8 L141.7,445.5 L142.7,445.2 L143.7,444.8 L144.7,444.3 L145.7,443.7 L146.7,443 L147.7,442.3 L148.7,441.4 L149.7,440.4 L150.7,439.3 L151.7,438.1 L152.7,436.8 L153.7,435.4 L154.7,433.9 L155.7,432.3 L156.7,430.7 L157.7,429.2 L158.7,427.6 L159.7,426.2 L160.7,424.9 L161.7,423.8 L162.7,422.8 L163.7,422.2 L164.7,421.8 L165.7,421.8 L166.7,422.2 L167.7,422.9 L168.7,423.9 L169.7,425.2 L170.7,426.7 L171.7,428.4 L172.7,430.2 L173.7,432.1 L174.7,434 L175.7,435.9 L176.7,437.8 L177.7,439.6 L178.7,441.3 L179.7,442.9 L180.7,444.3 L181.7,445.7 L182.7,446.9 L183.7,447.9 L184.7,448.9 L185.7,449.7 L186.7,450.4 L187.7,451 L188.7,451.5 L189.7,452 L190.7,452.5 L191.7,452.8 L192.7,453.2 L193.7,453.4 L194.7,453.7 L195.7,453.9 L196.7,454.1 L197.7,454.3 L198.7,454.5 L199.7,454.6 L200.7,454.8 L201.7,454.9 L202.7,455.1 L203.7,455.2 L204.7,455.3 L205.7,455.4 L206.7,455.5 L207.7,455.6 L208.7,455.7 L209.7,455.8 L210.7,455.9 L211.7,456 L212.7,456.1 L213.7,456.2 L214.7,456.2 L215.7,456.3 L216.7,456.4 L217.7,456.5 L218.7,456.5 L219.7,456.6 L220.7,456.6 L221.7,456.7 L222.7,456.7 L223.7,456.8 L224.7,456.8 L225.7,456.9 L226.7,456.9 L227.7,456.9" fill="none" stroke="#f3a560" stroke-width="1.15"/>
<path d="M120,448.2 L121,448.2 L122,448.2 L123,448.3 L124,448.3 L125,448.3 L126,448.3 L127,448.3 L128,448.3 L129,448.3 L130,448.3 L131,448.3 L132,448.4 L133,448.4 L134,448.4 L135,448.5 L136,448.5 L137,448.6 L138,448.7 L139,448.7 L140,448.8 L141,448.9 L142,448.9 L143,449 L144,449.1 L145,449.1 L146,449.2 L147,449.2 L148,449.3 L149,449.3 L150,449.3 L151,449.3 L152,449.3 L153,449.3 L154,449.3 L155,449.2 L156,449.2 L157,449.2 L158,449.1 L159,449.1 L160,449 L161,448.9 L162,448.7 L163,448.3 L164,447.8 L165,447.1 L166,446.2 L167,445.1 L168,443.7 L169,442.2 L170,440.6 L171,438.9 L172,437.4 L173,436.3 L174,435.6 L175,435.5 L176,436.1 L177,437.3 L178,439 L179,441 L180,443.1 L181,445.2 L182,447.2 L183,448.9 L184,450.4 L185,451.6 L186,452.5 L187,453.3 L188,453.9 L189,454.3 L190,454.6 L191,454.9 L192,455.1 L193,455.2 L194,455.3 L195,455.5 L196,455.5 L197,455.6 L198,455.7 L199,455.8 L200,455.9 L201,455.9 L202,456 L203,456.1 L204,456.2 L205,456.2 L206,456.3 L207,456.4 L208,456.4 L209,456.5 L210,456.6 L211,456.6 L212,456.7 L213,456.8 L214,456.8 L215,456.9 L216,456.9 L217,457 L218,457 L219,457.1 L220,457.1 L221,457.2 L222,457.2 L223,457.2 L224,457.2 L225,457.3 L226,457.3 L227,457.3 L228,457.3" fill="none" stroke="#7ed36c" stroke-width="1.15"/>
<path d="M30.7,444.7 L32.7,444.7 L34.7,444.8 L36.7,444.8 L38.7,444.9 L40.7,445 L42.7,445.1 L44.7,445.2 L46.7,445.3 L48.7,445.4 L50.7,445.4 L52.7,445.5 L54.7,445.5 L56.7,445.5 L58.7,445.5 L60.7,445.6 L62.7,445.7 L64.7,445.8 L66.7,445.9 L68.7,446 L70.7,446.1 L72.7,446.3 L74.7,446.4 L76.7,446.6 L78.7,446.7 L80.7,446.8 L82.7,447 L84.7,447.1 L86.7,447.2 L88.7,447.3 L90.7,447.3 L92.7,447.4 L94.7,447.4 L96.7,447.4 L98.7,447.4 L100.7,447.5 L102.7,447.5 L104.7,447.6 L106.7,447.7 L108.7,447.8 L110.7,447.9 L112.7,448 L114.7,448 L116.7,448.1 L118.7,448.2 L120.7,448.3 L122.7,448.3 L124.7,448.4 L126.7,448.4 L128.7,448.4 L130.7,448.4 L132.7,448.5 L134.7,448.6 L136.7,448.7 L138.7,448.9 L140.7,449 L142.7,449.2 L144.7,449.3 L146.7,449.5 L148.7,449.6 L150.7,449.7 L152.7,449.8 L154.7,449.8 L156.7,449.9 L158.7,450.1 L160.7,450.4 L162.7,450.8 L164.7,451.3 L166.7,451.8 L168.7,452.4 L170.7,453 L172.7,453.6 L174.7,454.2 L176.7,454.7 L178.7,455.1 L180.7,455.5 L182.7,455.7 L184.7,455.8 L186.7,455.8 L188.7,455.8 L190.7,455.9 L192.7,455.9 L194.7,456 L196.7,456.1 L198.7,456.2 L200.7,456.3 L202.7,456.4 L204.7,456.5 L206.7,456.6 L208.7,456.7 L210.7,456.8 L212.7,456.9 L214.7,457 L216.7,457.1 L218.7,457.2 L220.7,457.3 L222.7,457.3 L224.7,457.4 L226.7,457.4" fill="none" stroke="#3f6e2c" stroke-width="1.2"/>
<path d="M31.1,444.1 C32.6,443.9 37.1,443.5 40.4,442.6 C43.7,441.7 47.6,440.4 50.7,438.9 C53.8,437.4 56.4,435.7 59,433.8 C61.6,431.9 64,429.1 66.2,427.6 C68.4,426.1 70.3,425 72.4,424.9 C74.5,424.8 76.3,425.4 78.6,427 C80.8,428.6 83.7,432.1 85.9,434.8 C88.1,437.5 89.6,441.2 92,443.1 C94.4,445 94.3,445.6 100.3,446.2 C106.3,446.8 121.3,447.4 128,446.8 C134.7,446.2 136.7,444.7 140.5,442.8 C144.3,440.9 148.2,438.3 151,435.5 C153.8,432.7 155.1,429.2 157.2,426.1 C159.3,423 161.4,419 163.5,416.7 C165.6,414.4 167.9,412.6 169.8,412.1 C171.7,411.6 173.6,412.1 175,413.6 C176.4,415.1 176.9,417.2 178.1,420.9 C179.3,424.5 180.9,431.1 182.3,435.5 C183.7,439.9 184.8,444.1 186.5,447 C188.2,449.9 189.2,451.8 192.7,453.2 C196.2,454.6 201.3,454.7 207.3,455.3 C213.3,455.9 225,456.6 228.5,456.8" fill="none" stroke="#20c75a" stroke-width="3.6" stroke-opacity="0.35"/>
<path d="M31.1,444.1 C32.6,443.9 37.1,443.5 40.4,442.6 C43.7,441.7 47.6,440.4 50.7,438.9 C53.8,437.4 56.4,435.7 59,433.8 C61.6,431.9 64,429.1 66.2,427.6 C68.4,426.1 70.3,425 72.4,424.9 C74.5,424.8 76.3,425.4 78.6,427 C80.8,428.6 83.7,432.1 85.9,434.8 C88.1,437.5 89.6,441.2 92,443.1 C94.4,445 94.3,445.6 100.3,446.2 C106.3,446.8 121.3,447.4 128,446.8 C134.7,446.2 136.7,444.7 140.5,442.8 C144.3,440.9 148.2,438.3 151,435.5 C153.8,432.7 155.1,429.2 157.2,426.1 C159.3,423 161.4,419 163.5,416.7 C165.6,414.4 167.9,412.6 169.8,412.1 C171.7,411.6 173.6,412.1 175,413.6 C176.4,415.1 176.9,417.2 178.1,420.9 C179.3,424.5 180.9,431.1 182.3,435.5 C183.7,439.9 184.8,444.1 186.5,447 C188.2,449.9 189.2,451.8 192.7,453.2 C196.2,454.6 201.3,454.7 207.3,455.3 C213.3,455.9 225,456.6 228.5,456.8" fill="none" stroke="#20c75a" stroke-width="2.6" stroke-opacity="0.95"/>
<path d="M30.7,494.1 L31.7,494.1 L32.7,494.1 L33.7,494.1 L34.7,494.1 L35.7,494.1 L36.7,494.1 L37.7,494 L38.7,494 L39.7,494 L40.7,494 L41.7,494 L42.7,493.9 L43.7,493.9 L44.7,493.8 L45.7,493.7 L46.7,493.6 L47.7,493.5 L48.7,493.3 L49.7,493.1 L50.7,492.8 L51.7,492.5 L52.7,492.1 L53.7,491.7 L54.7,491.2 L55.7,490.7 L56.7,490.1 L57.7,489.5 L58.7,488.8 L59.7,488.1 L60.7,487.3 L61.7,486.5 L62.7,485.7 L63.7,484.8 L64.7,484 L65.7,483.2 L66.7,482.4 L67.7,481.7 L68.7,481.1 L69.7,480.7 L70.7,480.3 L71.7,480.2 L72.7,480.2 L73.7,480.5 L74.7,480.9 L75.7,481.4 L76.7,482.1 L77.7,482.9 L78.7,483.8 L79.7,484.7 L80.7,485.7 L81.7,486.7 L82.7,487.6 L83.7,488.5 L84.7,489.4 L85.7,490.3 L86.7,491 L87.7,491.8 L88.7,492.4 L89.7,493 L90.7,493.6 L91.7,494.1 L92.7,494.5 L93.7,494.8 L94.7,495.2 L95.7,495.4 L96.7,495.7 L97.7,495.9 L98.7,496.1 L99.7,496.3 L100.7,496.4 L101.7,496.6 L102.7,496.7 L103.7,496.9 L104.7,497 L105.7,497.1 L106.7,497.3 L107.7,497.4 L108.7,497.5 L109.7,497.6 L110.7,497.7 L111.7,497.8 L112.7,497.9 L113.7,498.1 L114.7,498.2 L115.7,498.2 L116.7,498.3 L117.7,498.4 L118.7,498.5 L119.7,498.6 L120.7,498.7 L121.7,498.7 L122.7,498.8 L123.7,498.8 L124.7,498.9 L125.7,498.9 L126.7,499 L127.7,499 L128.7,499 L129.7,499 L130.7,499.1 L131.7,499.1 L132.7,499.2 L133.7,499.2 L134.7,499.3 L135.7,499.4 L136.7,499.5 L137.7,499.6 L138.7,499.7 L139.7,499.8 L140.7,499.9 L141.7,500 L142.7,500.1 L143.7,500.2 L144.7,500.3 L145.7,500.3 L146.7,500.4 L147.7,500.5 L148.7,500.6 L149.7,500.7 L150.7,500.7 L151.7,500.8 L152.7,500.8 L153.7,500.8 L154.7,500.8 L155.7,500.9 L156.7,500.9 L157.7,501 L158.7,501.1 L159.7,501.3 L160.7,501.5 L161.7,501.7 L162.7,502 L163.7,502.2 L164.7,502.5 L165.7,502.8 L166.7,503.1 L167.7,503.5 L168.7,503.8 L169.7,504.1 L170.7,504.5 L171.7,504.8 L172.7,505.1 L173.7,505.5 L174.7,505.8 L175.7,506.1 L176.7,506.4 L177.7,506.6 L178.7,506.8 L179.7,507.1 L180.7,507.2 L181.7,507.4 L182.7,507.5 L183.7,507.6 L184.7,507.6 L185.7,507.6 L186.4,507.7 L185.4,507.7 L184.4,507.7 L183.4,507.6 L182.4,507.6 L181.4,507.4 L180.4,507.3 L179.4,507.1 L178.4,506.9 L177.4,506.6 L176.4,506.4 L175.4,506.1 L174.4,505.8 L173.4,505.5 L172.4,505.1 L171.4,504.8 L170.4,504.5 L169.4,504.1 L168.4,503.8 L167.4,503.5 L166.4,503.2 L165.4,502.9 L164.4,502.6 L163.4,502.3 L162.4,502 L161.4,501.8 L160.4,501.6 L159.4,501.4 L158.4,501.2 L157.4,501.1 L156.4,501 L155.4,501 L154.4,501 L153.4,501 L152.4,501 L151.4,500.9 L150.4,500.9 L149.4,500.8 L148.4,500.7 L147.4,500.7 L146.4,500.6 L145.4,500.5 L144.4,500.4 L143.4,500.3 L142.4,500.2 L141.4,500.1 L140.4,500 L139.4,500 L138.4,499.9 L137.4,499.8 L136.4,499.7 L135.4,499.6 L134.4,499.5 L133.4,499.5 L132.4,499.4 L131.4,499.4 L130.4,499.3 L129.4,499.3 L128.4,499.3 L127.4,499.3 L126.4,499.3 L125.4,499.3 L124.4,499.2 L123.4,499.2 L122.4,499.2 L121.4,499.1 L120.4,499.1 L119.4,499 L118.4,499 L117.4,498.9 L116.4,498.8 L115.4,498.7 L114.4,498.7 L113.4,498.6 L112.4,498.5 L111.4,498.4 L110.4,498.4 L109.4,498.3 L108.4,498.2 L107.4,498.1 L106.4,498.1 L105.4,498 L104.4,497.9 L103.4,497.9 L102.4,497.8 L101.4,497.8 L100.4,497.7 L99.4,497.7 L98.4,497.7 L97.4,497.6 L96.4,497.6 L95.4,497.6 L94.4,497.6 L93.4,497.6 L92.4,497.6 L91.4,497.6 L90.4,497.5 L89.4,497.5 L88.4,497.4 L87.4,497.4 L86.4,497.4 L85.4,497.3 L84.4,497.2 L83.4,497.2 L82.4,497.1 L81.4,497 L80.4,497 L79.4,496.9 L78.4,496.8 L77.4,496.7 L76.4,496.7 L75.4,496.6 L74.4,496.5 L73.4,496.4 L72.4,496.3 L71.4,496.3 L70.4,496.2 L69.4,496.1 L68.4,496 L67.4,496 L66.4,495.9 L65.4,495.9 L64.4,495.8 L63.4,495.7 L62.4,495.7 L61.4,495.6 L60.4,495.6 L59.4,495.6 L58.4,495.5 L57.4,495.5 L56.4,495.5 L55.4,495.5 L54.4,495.5 L53.4,495.5 L52.4,495.5 L51.4,495.5 L50.4,495.4 L49.4,495.4 L48.4,495.4 L47.4,495.3 L46.4,495.3 L45.4,495.2 L44.4,495.2 L43.4,495.1 L42.4,495.1 L41.4,495 L40.4,495 L39.4,494.9 L38.4,494.9 L37.4,494.8 L36.4,494.8 L35.4,494.8 L34.4,494.7 L33.4,494.7 L32.4,494.7 L31.4,494.7 Z" fill="#fcdcbd" fill-opacity="0.85" stroke="none"/>
<path d="M37.1,494.8 L38.1,494.8 L39.1,494.8 L40.1,494.9 L41.1,494.9 L42.1,495 L43.1,495 L44.1,495 L45.1,495.1 L46.1,495.1 L47.1,495.2 L48.1,495.2 L49.1,495.2 L50.1,495.3 L51.1,495.3 L52.1,495.3 L53.1,495.3 L54.1,495.3 L55.1,495.3 L56.1,495.3 L57.1,495.3 L58.1,495.3 L59.1,495.3 L60.1,495.3 L61.1,495.3 L62.1,495.3 L63.1,495.3 L64.1,495.3 L65.1,495.3 L66.1,495.2 L67.1,495.1 L68.1,495 L69.1,494.8 L70.1,494.5 L71.1,494 L72.1,493.4 L73.1,492.7 L74.1,491.8 L75.1,490.8 L76.1,489.6 L77.1,488.4 L78.1,487.1 L79.1,486 L80.1,485.1 L81.1,484.5 L82.1,484.3 L83.1,484.6 L84.1,485.3 L85.1,486.4 L86.1,487.7 L87.1,489 L88.1,490.4 L89.1,491.7 L90.1,492.9 L91.1,493.9 L92.1,494.7 L93.1,495.4 L94.1,495.9 L95.1,496.3 L96.1,496.6 L97.1,496.8 L98.1,497 L99.1,497.1 L100.1,497.2 L101.1,497.3 L102.1,497.4 L103.1,497.5 L104.1,497.6 L105.1,497.7 L106.1,497.8 L107.1,497.9 L108.1,498 L109.1,498.1 L110.1,498.1 L111.1,498.2 L112.1,498.3 L113.1,498.4 L114.1,498.5 L115.1,498.6 L116.1,498.7 L117.1,498.7 L118.1,498.8 L119.1,498.9 L120.1,498.9 L121.1,499 L122.1,499.1 L123.1,499.1 L124.1,499.1 L125.1,499.2 L126.1,499.2 L127.1,499.2 L127.1,499.3 L126.1,499.3 L125.1,499.3 L124.1,499.2 L123.1,499.2 L122.1,499.2 L121.1,499.1 L120.1,499.1 L119.1,499 L118.1,498.9 L117.1,498.9 L116.1,498.8 L115.1,498.7 L114.1,498.6 L113.1,498.6 L112.1,498.5 L111.1,498.4 L110.1,498.3 L109.1,498.3 L108.1,498.2 L107.1,498.1 L106.1,498 L105.1,498 L104.1,497.9 L103.1,497.9 L102.1,497.8 L101.1,497.8 L100.1,497.7 L99.1,497.7 L98.1,497.6 L97.1,497.6 L96.1,497.6 L95.1,497.6 L94.1,497.6 L93.1,497.6 L92.1,497.6 L91.1,497.5 L90.1,497.5 L89.1,497.5 L88.1,497.4 L87.1,497.4 L86.1,497.3 L85.1,497.3 L84.1,497.2 L83.1,497.2 L82.1,497.1 L81.1,497 L80.1,496.9 L79.1,496.9 L78.1,496.8 L77.1,496.7 L76.1,496.6 L75.1,496.6 L74.1,496.5 L73.1,496.4 L72.1,496.3 L71.1,496.2 L70.1,496.2 L69.1,496.1 L68.1,496 L67.1,496 L66.1,495.9 L65.1,495.8 L64.1,495.8 L63.1,495.7 L62.1,495.7 L61.1,495.6 L60.1,495.6 L59.1,495.6 L58.1,495.5 L57.1,495.5 L56.1,495.5 L55.1,495.5 L54.1,495.5 L53.1,495.5 L52.1,495.5 L51.1,495.4 L50.1,495.4 L49.1,495.4 L48.1,495.3 L47.1,495.3 L46.1,495.3 L45.1,495.2 L44.1,495.2 L43.1,495.1 L42.1,495.1 L41.1,495 L40.1,495 L39.1,494.9 L38.1,494.9 L37.1,494.8 Z" fill="#cdeec4" fill-opacity="0.85" stroke="none"/>
<path d="M30.7,494.6 L31.7,494.6 L32.7,494.6 L33.7,494.6 L34.7,494.6 L35.7,494.7 L36.7,494.7 L37.7,494.7 L38.7,494.8 L39.7,494.8 L40.7,494.9 L41.7,494.9 L42.7,495 L43.7,495 L44.7,495.1 L45.7,495.1 L46.7,495.1 L47.7,495.2 L48.7,495.2 L49.7,495.3 L50.7,495.3 L51.7,495.3 L52.7,495.3 L53.7,495.3 L54.7,495.3 L55.7,495.3 L56.7,495.3 L57.7,495.4 L58.7,495.4 L59.7,495.4 L60.7,495.4 L61.7,495.5 L62.7,495.5 L63.7,495.6 L64.7,495.6 L65.7,495.7 L66.7,495.7 L67.7,495.8 L68.7,495.9 L69.7,495.9 L70.7,496 L71.7,496.1 L72.7,496.1 L73.7,496.2 L74.7,496.3 L75.7,496.4 L76.7,496.4 L77.7,496.5 L78.7,496.6 L79.7,496.7 L80.7,496.7 L81.7,496.8 L82.7,496.9 L83.7,496.9 L84.7,497 L85.7,497 L86.7,497.1 L87.7,497.1 L88.7,497.1 L89.7,497.2 L90.7,497.2 L91.7,497.2 L92.7,497.2 L93.7,497.2 L94.7,497.2 L95.7,497.2 L96.7,497.2 L97.7,497.2 L98.7,497.3 L99.7,497.3 L100.7,497.3 L101.7,497.3 L102.7,497.4 L103.7,497.4 L104.7,497.5 L105.7,497.5 L106.7,497.6 L107.7,497.6 L108.7,497.7 L109.7,497.7 L110.7,497.8 L111.7,497.9 L112.7,497.9 L113.7,498 L114.7,498 L115.7,498.1 L116.7,498.1 L117.7,498.2 L118.7,498.2 L119.7,498.2 L120.7,498.2 L121.7,498.3 L122.7,498.3 L123.7,498.3 L124.7,498.3 L125.7,498.2 L126.7,498.2 L127.7,498.2 L128.7,498.1 L129.7,498.1 L130.7,498 L131.7,498 L132.7,498 L133.7,497.9 L134.7,497.9 L135.7,497.9 L136.7,497.8 L137.7,497.8 L138.7,497.7 L139.7,497.6 L140.7,497.5 L141.7,497.3 L142.7,497.1 L143.7,496.8 L144.7,496.5 L145.7,496.1 L146.7,495.6 L147.7,495.1 L148.7,494.4 L149.7,493.7 L150.7,492.8 L151.7,491.8 L152.7,490.7 L153.7,489.5 L154.7,488.1 L155.7,486.7 L156.7,485.2 L157.7,483.6 L158.7,482 L159.7,480.4 L160.7,478.9 L161.7,477.3 L162.7,475.9 L163.7,474.6 L164.7,473.6 L165.7,472.7 L166.7,472.2 L167.7,472 L168.7,472.1 L169.7,472.6 L170.7,473.5 L171.7,474.7 L172.7,476.2 L173.7,477.9 L174.7,479.7 L175.7,481.7 L176.7,483.7 L177.7,485.7 L178.7,487.7 L179.7,489.6 L180.7,491.4 L181.7,493.1 L182.7,494.7 L183.7,496.2 L184.7,497.4 L185.7,498.6 L186.7,499.6 L187.7,500.6 L188.7,501.4 L189.7,502.2 L190.7,502.8 L191.7,503.4 L192.7,503.9 L193.7,504.4 L194.7,504.8 L195.7,505.2 L196.7,505.5 L197.7,505.8 L198.7,506 L199.7,506.3 L200.7,506.5 L201.7,506.7 L202.7,506.9 L203.7,507.1 L204.7,507.2 L205.7,507.4 L206.7,507.6 L207.7,507.7 L208.7,507.8 L209.7,508 L210.7,508.1 L211.7,508.2 L212.7,508.4 L213.7,508.5 L214.7,508.6 L215.7,508.7 L216.7,508.8 L217.7,508.9 L218.7,509 L219.7,509.1 L220.7,509.2 L221.7,509.2 L222.7,509.3 L223.7,509.4 L224.7,509.4 L225.7,509.5 L226.7,509.5 L227.7,509.5 L228.6,510.1 L227.6,510.1 L226.6,510.1 L225.6,510.1 L224.6,510 L223.6,510 L222.6,510 L221.6,509.9 L220.6,509.9 L219.6,509.8 L218.6,509.8 L217.6,509.7 L216.6,509.6 L215.6,509.6 L214.6,509.5 L213.6,509.4 L212.6,509.3 L211.6,509.3 L210.6,509.2 L209.6,509.1 L208.6,509 L207.6,508.9 L206.6,508.9 L205.6,508.8 L204.6,508.7 L203.6,508.6 L202.6,508.5 L201.6,508.5 L200.6,508.4 L199.6,508.3 L198.6,508.2 L197.6,508.2 L196.6,508.1 L195.6,508.1 L194.6,508 L193.6,507.9 L192.6,507.9 L191.6,507.8 L190.6,507.8 L189.6,507.8 L188.6,507.7 L187.6,507.7 L186.6,507.7 L185.6,507.7 L184.6,507.7 L183.6,507.7 L182.6,507.6 L181.6,507.5 L180.6,507.3 L179.6,507.1 L178.6,506.9 L177.6,506.7 L176.6,506.4 L175.6,506.1 L174.6,505.8 L173.6,505.5 L172.6,505.2 L171.6,504.9 L170.6,504.6 L169.6,504.2 L168.6,503.9 L167.6,503.6 L166.6,503.2 L165.6,502.9 L164.6,502.6 L163.6,502.3 L162.6,502.1 L161.6,501.8 L160.6,501.6 L159.6,501.4 L158.6,501.3 L157.6,501.1 L156.6,501.1 L155.6,501 L154.6,501 L153.6,501 L152.6,501 L151.6,500.9 L150.6,500.9 L149.6,500.8 L148.6,500.8 L147.6,500.7 L146.6,500.6 L145.6,500.5 L144.6,500.4 L143.6,500.3 L142.6,500.3 L141.6,500.2 L140.6,500.1 L139.6,500 L138.6,499.9 L137.6,499.8 L136.6,499.7 L135.6,499.6 L134.6,499.6 L133.6,499.5 L132.6,499.4 L131.6,499.4 L130.6,499.3 L129.6,499.3 L128.6,499.3 L127.6,499.3 L126.6,499.3 L125.6,499.3 L124.6,499.2 L123.6,499.2 L122.6,499.2 L121.6,499.1 L120.6,499.1 L119.6,499 L118.6,499 L117.6,498.9 L116.6,498.8 L115.6,498.8 L114.6,498.7 L113.6,498.6 L112.6,498.5 L111.6,498.5 L110.6,498.4 L109.6,498.3 L108.6,498.2 L107.6,498.2 L106.6,498.1 L105.6,498 L104.6,497.9 L103.6,497.9 L102.6,497.8 L101.6,497.8 L100.6,497.7 L99.6,497.7 L98.6,497.7 L97.6,497.6 L96.6,497.6 L95.6,497.6 L94.6,497.6 L93.6,497.6 L92.6,497.6 L91.6,497.6 L90.6,497.5 L89.6,497.5 L88.6,497.5 L87.6,497.4 L86.6,497.4 L85.6,497.3 L84.6,497.2 L83.6,497.2 L82.6,497.1 L81.6,497.1 L80.6,497 L79.6,496.9 L78.6,496.8 L77.6,496.8 L76.6,496.7 L75.6,496.6 L74.6,496.5 L73.6,496.4 L72.6,496.4 L71.6,496.3 L70.6,496.2 L69.6,496.1 L68.6,496.1 L67.6,496 L66.6,495.9 L65.6,495.9 L64.6,495.8 L63.6,495.7 L62.6,495.7 L61.6,495.7 L60.6,495.6 L59.6,495.6 L58.6,495.5 L57.6,495.5 L56.6,495.5 L55.6,495.5 L54.6,495.5 L53.6,495.5 L52.6,495.5 L51.6,495.5 L50.6,495.4 L49.6,495.4 L48.6,495.4 L47.6,495.3 L46.6,495.3 L45.6,495.2 L44.6,495.2 L43.6,495.1 L42.6,495.1 L41.6,495 L40.6,495 L39.6,494.9 L38.6,494.9 L37.6,494.8 L36.6,494.8 L35.6,494.8 L34.6,494.7 L33.6,494.7 L32.6,494.7 L31.6,494.7 Z" fill="#fcdcbd" fill-opacity="0.85" stroke="none"/>
<path d="M112.1,498.4 L113.1,498.5 L114.1,498.6 L115.1,498.6 L116.1,498.7 L117.1,498.8 L118.1,498.8 L119.1,498.9 L120.1,499 L121.1,499 L122.1,499 L123.1,499.1 L124.1,499.1 L125.1,499.1 L126.1,499.2 L127.1,499.2 L128.1,499.2 L129.1,499.2 L130.1,499.2 L131.1,499.2 L132.1,499.2 L133.1,499.3 L134.1,499.3 L135.1,499.4 L136.1,499.5 L137.1,499.5 L138.1,499.6 L139.1,499.7 L140.1,499.8 L141.1,499.9 L142.1,499.9 L143.1,500 L144.1,500.1 L145.1,500.2 L146.1,500.2 L147.1,500.3 L148.1,500.4 L149.1,500.4 L150.1,500.4 L151.1,500.5 L152.1,500.5 L153.1,500.5 L154.1,500.4 L155.1,500.4 L156.1,500.4 L157.1,500.4 L158.1,500.4 L159.1,500.4 L160.1,500.5 L161.1,500.5 L162.1,500.5 L163.1,500.4 L164.1,500.2 L165.1,499.9 L166.1,499.4 L167.1,498.6 L168.1,497.6 L169.1,496.2 L170.1,494.4 L171.1,492.3 L172.1,490 L173.1,487.5 L174.1,485 L175.1,482.7 L176.1,480.8 L177.1,479.7 L178.1,479.4 L179.1,480.1 L180.1,481.8 L181.1,484.1 L182.1,486.8 L183.1,489.7 L184.1,492.6 L185.1,495.3 L186.1,497.7 L187.1,499.8 L188.1,501.6 L189.1,503 L190.1,504.1 L191.1,505 L192.1,505.6 L193.1,506.1 L194.1,506.5 L195.1,506.8 L196.1,507 L197.1,507.2 L198.1,507.4 L199.1,507.5 L200.1,507.7 L201.1,507.8 L202.1,507.9 L203.1,508.1 L204.1,508.2 L205.1,508.3 L206.1,508.4 L207.1,508.5 L208.1,508.6 L209.1,508.7 L210.1,508.8 L211.1,508.9 L212.1,509 L213.1,509.1 L214.1,509.2 L215.1,509.3 L216.1,509.4 L217.1,509.4 L218.1,509.5 L219.1,509.6 L220.1,509.7 L221.1,509.7 L222.1,509.8 L223.1,509.8 L224.1,509.9 L225.1,509.9 L226.1,509.9 L227.1,509.9 L228.1,510 L228.6,510.1 L227.6,510.1 L226.6,510.1 L225.6,510.1 L224.6,510 L223.6,510 L222.6,510 L221.6,509.9 L220.6,509.9 L219.6,509.8 L218.6,509.8 L217.6,509.7 L216.6,509.6 L215.6,509.6 L214.6,509.5 L213.6,509.4 L212.6,509.3 L211.6,509.3 L210.6,509.2 L209.6,509.1 L208.6,509 L207.6,508.9 L206.6,508.9 L205.6,508.8 L204.6,508.7 L203.6,508.6 L202.6,508.5 L201.6,508.5 L200.6,508.4 L199.6,508.3 L198.6,508.2 L197.6,508.2 L196.6,508.1 L195.6,508.1 L194.6,508 L193.6,507.9 L192.6,507.9 L191.6,507.8 L190.6,507.8 L189.6,507.8 L188.6,507.7 L187.6,507.7 L186.6,507.7 L185.6,507.7 L184.6,507.7 L183.6,507.7 L182.6,507.6 L181.6,507.5 L180.6,507.3 L179.6,507.1 L178.6,506.9 L177.6,506.7 L176.6,506.4 L175.6,506.1 L174.6,505.8 L173.6,505.5 L172.6,505.2 L171.6,504.9 L170.6,504.6 L169.6,504.2 L168.6,503.9 L167.6,503.6 L166.6,503.2 L165.6,502.9 L164.6,502.6 L163.6,502.3 L162.6,502.1 L161.6,501.8 L160.6,501.6 L159.6,501.4 L158.6,501.3 L157.6,501.1 L156.6,501.1 L155.6,501 L154.6,501 L153.6,501 L152.6,501 L151.6,500.9 L150.6,500.9 L149.6,500.8 L148.6,500.8 L147.6,500.7 L146.6,500.6 L145.6,500.5 L144.6,500.4 L143.6,500.3 L142.6,500.3 L141.6,500.2 L140.6,500.1 L139.6,500 L138.6,499.9 L137.6,499.8 L136.6,499.7 L135.6,499.6 L134.6,499.6 L133.6,499.5 L132.6,499.4 L131.6,499.4 L130.6,499.3 L129.6,499.3 L128.6,499.3 L127.6,499.3 L126.6,499.3 L125.6,499.3 L124.6,499.2 L123.6,499.2 L122.6,499.2 L121.6,499.1 L120.6,499.1 L119.6,499 L118.6,499 L117.6,498.9 L116.6,498.8 L115.6,498.8 L114.6,498.7 L113.6,498.6 L112.6,498.5 Z" fill="#cdeec4" fill-opacity="0.85" stroke="none"/>
<path d="M30.7,494.1 L31.7,494.1 L32.7,494.1 L33.7,494.1 L34.7,494.1 L35.7,494.1 L36.7,494.1 L37.7,494 L38.7,494 L39.7,494 L40.7,494 L41.7,494 L42.7,493.9 L43.7,493.9 L44.7,493.8 L45.7,493.7 L46.7,493.6 L47.7,493.5 L48.7,493.3 L49.7,493.1 L50.7,492.8 L51.7,492.5 L52.7,492.1 L53.7,491.7 L54.7,491.2 L55.7,490.7 L56.7,490.1 L57.7,489.5 L58.7,488.8 L59.7,488.1 L60.7,487.3 L61.7,486.5 L62.7,485.7 L63.7,484.8 L64.7,484 L65.7,483.2 L66.7,482.4 L67.7,481.7 L68.7,481.1 L69.7,480.7 L70.7,480.3 L71.7,480.2 L72.7,480.2 L73.7,480.5 L74.7,480.9 L75.7,481.4 L76.7,482.1 L77.7,482.9 L78.7,483.8 L79.7,484.7 L80.7,485.7 L81.7,486.7 L82.7,487.6 L83.7,488.5 L84.7,489.4 L85.7,490.3 L86.7,491 L87.7,491.8 L88.7,492.4 L89.7,493 L90.7,493.6 L91.7,494.1 L92.7,494.5 L93.7,494.8 L94.7,495.2 L95.7,495.4 L96.7,495.7 L97.7,495.9 L98.7,496.1 L99.7,496.3 L100.7,496.4 L101.7,496.6 L102.7,496.7 L103.7,496.9 L104.7,497 L105.7,497.1 L106.7,497.3 L107.7,497.4 L108.7,497.5 L109.7,497.6 L110.7,497.7 L111.7,497.8 L112.7,497.9 L113.7,498.1 L114.7,498.2 L115.7,498.2 L116.7,498.3 L117.7,498.4 L118.7,498.5 L119.7,498.6 L120.7,498.7 L121.7,498.7 L122.7,498.8 L123.7,498.8 L124.7,498.9 L125.7,498.9 L126.7,499 L127.7,499 L128.7,499 L129.7,499 L130.7,499.1 L131.7,499.1 L132.7,499.2 L133.7,499.2 L134.7,499.3 L135.7,499.4 L136.7,499.5 L137.7,499.6 L138.7,499.7 L139.7,499.8 L140.7,499.9 L141.7,500 L142.7,500.1 L143.7,500.2 L144.7,500.3 L145.7,500.3 L146.7,500.4 L147.7,500.5 L148.7,500.6 L149.7,500.7 L150.7,500.7 L151.7,500.8 L152.7,500.8 L153.7,500.8 L154.7,500.8 L155.7,500.9 L156.7,500.9 L157.7,501 L158.7,501.1 L159.7,501.3 L160.7,501.5 L161.7,501.7 L162.7,502 L163.7,502.2 L164.7,502.5 L165.7,502.8 L166.7,503.1 L167.7,503.5 L168.7,503.8 L169.7,504.1 L170.7,504.5 L171.7,504.8 L172.7,505.1 L173.7,505.5 L174.7,505.8 L175.7,506.1 L176.7,506.4 L177.7,506.6 L178.7,506.8 L179.7,507.1 L180.7,507.2 L181.7,507.4 L182.7,507.5 L183.7,507.6 L184.7,507.6 L185.7,507.6" fill="none" stroke="#f3a560" stroke-width="1.15"/>
<path d="M37.1,494.8 L38.1,494.8 L39.1,494.8 L40.1,494.9 L41.1,494.9 L42.1,495 L43.1,495 L44.1,495 L45.1,495.1 L46.1,495.1 L47.1,495.2 L48.1,495.2 L49.1,495.2 L50.1,495.3 L51.1,495.3 L52.1,495.3 L53.1,495.3 L54.1,495.3 L55.1,495.3 L56.1,495.3 L57.1,495.3 L58.1,495.3 L59.1,495.3 L60.1,495.3 L61.1,495.3 L62.1,495.3 L63.1,495.3 L64.1,495.3 L65.1,495.3 L66.1,495.2 L67.1,495.1 L68.1,495 L69.1,494.8 L70.1,494.5 L71.1,494 L72.1,493.4 L73.1,492.7 L74.1,491.8 L75.1,490.8 L76.1,489.6 L77.1,488.4 L78.1,487.1 L79.1,486 L80.1,485.1 L81.1,484.5 L82.1,484.3 L83.1,484.6 L84.1,485.3 L85.1,486.4 L86.1,487.7 L87.1,489 L88.1,490.4 L89.1,491.7 L90.1,492.9 L91.1,493.9 L92.1,494.7 L93.1,495.4 L94.1,495.9 L95.1,496.3 L96.1,496.6 L97.1,496.8 L98.1,497 L99.1,497.1 L100.1,497.2 L101.1,497.3 L102.1,497.4 L103.1,497.5 L104.1,497.6 L105.1,497.7 L106.1,497.8 L107.1,497.9 L108.1,498 L109.1,498.1 L110.1,498.1 L111.1,498.2 L112.1,498.3 L113.1,498.4 L114.1,498.5 L115.1,498.6 L116.1,498.7 L117.1,498.7 L118.1,498.8 L119.1,498.9 L120.1,498.9 L121.1,499 L122.1,499.1 L123.1,499.1 L124.1,499.1 L125.1,499.2 L126.1,499.2 L127.1,499.2" fill="none" stroke="#7ed36c" stroke-width="1.15"/>
<path d="M30.7,494.6 L31.7,494.6 L32.7,494.6 L33.7,494.6 L34.7,494.6 L35.7,494.7 L36.7,494.7 L37.7,494.7 L38.7,494.8 L39.7,494.8 L40.7,494.9 L41.7,494.9 L42.7,495 L43.7,495 L44.7,495.1 L45.7,495.1 L46.7,495.1 L47.7,495.2 L48.7,495.2 L49.7,495.3 L50.7,495.3 L51.7,495.3 L52.7,495.3 L53.7,495.3 L54.7,495.3 L55.7,495.3 L56.7,495.3 L57.7,495.4 L58.7,495.4 L59.7,495.4 L60.7,495.4 L61.7,495.5 L62.7,495.5 L63.7,495.6 L64.7,495.6 L65.7,495.7 L66.7,495.7 L67.7,495.8 L68.7,495.9 L69.7,495.9 L70.7,496 L71.7,496.1 L72.7,496.1 L73.7,496.2 L74.7,496.3 L75.7,496.4 L76.7,496.4 L77.7,496.5 L78.7,496.6 L79.7,496.7 L80.7,496.7 L81.7,496.8 L82.7,496.9 L83.7,496.9 L84.7,497 L85.7,497 L86.7,497.1 L87.7,497.1 L88.7,497.1 L89.7,497.2 L90.7,497.2 L91.7,497.2 L92.7,497.2 L93.7,497.2 L94.7,497.2 L95.7,497.2 L96.7,497.2 L97.7,497.2 L98.7,497.3 L99.7,497.3 L100.7,497.3 L101.7,497.3 L102.7,497.4 L103.7,497.4 L104.7,497.5 L105.7,497.5 L106.7,497.6 L107.7,497.6 L108.7,497.7 L109.7,497.7 L110.7,497.8 L111.7,497.9 L112.7,497.9 L113.7,498 L114.7,498 L115.7,498.1 L116.7,498.1 L117.7,498.2 L118.7,498.2 L119.7,498.2 L120.7,498.2 L121.7,498.3 L122.7,498.3 L123.7,498.3 L124.7,498.3 L125.7,498.2 L126.7,498.2 L127.7,498.2 L128.7,498.1 L129.7,498.1 L130.7,498 L131.7,498 L132.7,498 L133.7,497.9 L134.7,497.9 L135.7,497.9 L136.7,497.8 L137.7,497.8 L138.7,497.7 L139.7,497.6 L140.7,497.5 L141.7,497.3 L142.7,497.1 L143.7,496.8 L144.7,496.5 L145.7,496.1 L146.7,495.6 L147.7,495.1 L148.7,494.4 L149.7,493.7 L150.7,492.8 L151.7,491.8 L152.7,490.7 L153.7,489.5 L154.7,488.1 L155.7,486.7 L156.7,485.2 L157.7,483.6 L158.7,482 L159.7,480.4 L160.7,478.9 L161.7,477.3 L162.7,475.9 L163.7,474.6 L164.7,473.6 L165.7,472.7 L166.7,472.2 L167.7,472 L168.7,472.1 L169.7,472.6 L170.7,473.5 L171.7,474.7 L172.7,476.2 L173.7,477.9 L174.7,479.7 L175.7,481.7 L176.7,483.7 L177.7,485.7 L178.7,487.7 L179.7,489.6 L180.7,491.4 L181.7,493.1 L182.7,494.7 L183.7,496.2 L184.7,497.4 L185.7,498.6 L186.7,499.6 L187.7,500.6 L188.7,501.4 L189.7,502.2 L190.7,502.8 L191.7,503.4 L192.7,503.9 L193.7,504.4 L194.7,504.8 L195.7,505.2 L196.7,505.5 L197.7,505.8 L198.7,506 L199.7,506.3 L200.7,506.5 L201.7,506.7 L202.7,506.9 L203.7,507.1 L204.7,507.2 L205.7,507.4 L206.7,507.6 L207.7,507.7 L208.7,507.8 L209.7,508 L210.7,508.1 L211.7,508.2 L212.7,508.4 L213.7,508.5 L214.7,508.6 L215.7,508.7 L216.7,508.8 L217.7,508.9 L218.7,509 L219.7,509.1 L220.7,509.2 L221.7,509.2 L222.7,509.3 L223.7,509.4 L224.7,509.4 L225.7,509.5 L226.7,509.5 L227.7,509.5" fill="none" stroke="#f3a560" stroke-width="1.15"/>
<path d="M112.1,498.4 L113.1,498.5 L114.1,498.6 L115.1,498.6 L116.1,498.7 L117.1,498.8 L118.1,498.8 L119.1,498.9 L120.1,499 L121.1,499 L122.1,499 L123.1,499.1 L124.1,499.1 L125.1,499.1 L126.1,499.2 L127.1,499.2 L128.1,499.2 L129.1,499.2 L130.1,499.2 L131.1,499.2 L132.1,499.2 L133.1,499.3 L134.1,499.3 L135.1,499.4 L136.1,499.5 L137.1,499.5 L138.1,499.6 L139.1,499.7 L140.1,499.8 L141.1,499.9 L142.1,499.9 L143.1,500 L144.1,500.1 L145.1,500.2 L146.1,500.2 L147.1,500.3 L148.1,500.4 L149.1,500.4 L150.1,500.4 L151.1,500.5 L152.1,500.5 L153.1,500.5 L154.1,500.4 L155.1,500.4 L156.1,500.4 L157.1,500.4 L158.1,500.4 L159.1,500.4 L160.1,500.5 L161.1,500.5 L162.1,500.5 L163.1,500.4 L164.1,500.2 L165.1,499.9 L166.1,499.4 L167.1,498.6 L168.1,497.6 L169.1,496.2 L170.1,494.4 L171.1,492.3 L172.1,490 L173.1,487.5 L174.1,485 L175.1,482.7 L176.1,480.8 L177.1,479.7 L178.1,479.4 L179.1,480.1 L180.1,481.8 L181.1,484.1 L182.1,486.8 L183.1,489.7 L184.1,492.6 L185.1,495.3 L186.1,497.7 L187.1,499.8 L188.1,501.6 L189.1,503 L190.1,504.1 L191.1,505 L192.1,505.6 L193.1,506.1 L194.1,506.5 L195.1,506.8 L196.1,507 L197.1,507.2 L198.1,507.4 L199.1,507.5 L200.1,507.7 L201.1,507.8 L202.1,507.9 L203.1,508.1 L204.1,508.2 L205.1,508.3 L206.1,508.4 L207.1,508.5 L208.1,508.6 L209.1,508.7 L210.1,508.8 L211.1,508.9 L212.1,509 L213.1,509.1 L214.1,509.2 L215.1,509.3 L216.1,509.4 L217.1,509.4 L218.1,509.5 L219.1,509.6 L220.1,509.7 L221.1,509.7 L222.1,509.8 L223.1,509.8 L224.1,509.9 L225.1,509.9 L226.1,509.9 L227.1,509.9 L228.1,510" fill="none" stroke="#7ed36c" stroke-width="1.15"/>
<path d="M30.7,494.7 L32.7,494.7 L34.7,494.8 L36.7,494.8 L38.7,494.9 L40.7,495 L42.7,495.1 L44.7,495.2 L46.7,495.3 L48.7,495.4 L50.7,495.4 L52.7,495.5 L54.7,495.5 L56.7,495.5 L58.7,495.6 L60.7,495.6 L62.7,495.7 L64.7,495.8 L66.7,495.9 L68.7,496.1 L70.7,496.2 L72.7,496.4 L74.7,496.5 L76.7,496.7 L78.7,496.8 L80.7,497 L82.7,497.1 L84.7,497.3 L86.7,497.4 L88.7,497.5 L90.7,497.5 L92.7,497.6 L94.7,497.6 L96.7,497.6 L98.7,497.7 L100.7,497.7 L102.7,497.8 L104.7,498 L106.7,498.1 L108.7,498.2 L110.7,498.4 L112.7,498.5 L114.7,498.7 L116.7,498.8 L118.7,499 L120.7,499.1 L122.7,499.2 L124.7,499.3 L126.7,499.3 L128.7,499.3 L130.7,499.3 L132.7,499.4 L134.7,499.6 L136.7,499.7 L138.7,499.9 L140.7,500.1 L142.7,500.3 L144.7,500.4 L146.7,500.6 L148.7,500.8 L150.7,500.9 L152.7,501 L154.7,501 L156.7,501.1 L158.7,501.3 L160.7,501.6 L162.7,502.1 L164.7,502.6 L166.7,503.3 L168.7,503.9 L170.7,504.6 L172.7,505.2 L174.7,505.9 L176.7,506.4 L178.7,506.9 L180.7,507.3 L182.7,507.6 L184.7,507.7 L186.7,507.7 L188.7,507.7 L190.7,507.8 L192.7,507.9 L194.7,508 L196.7,508.1 L198.7,508.3 L200.7,508.4 L202.7,508.6 L204.7,508.7 L206.7,508.9 L208.7,509 L210.7,509.2 L212.7,509.4 L214.7,509.5 L216.7,509.6 L218.7,509.8 L220.7,509.9 L222.7,510 L224.7,510 L226.7,510.1" fill="none" stroke="#3f6e2c" stroke-width="1.2"/>
<path d="M31.1,494.3 C32.6,494.1 37.1,493.9 40.4,493.2 C43.7,492.5 47.2,491.7 50.7,490.1 C54.2,488.6 58,486.3 61.1,483.9 C64.2,481.5 66.7,477.5 69.3,475.7 C71.9,473.9 74.3,473.2 76.6,473.2 C78.8,473.2 80.9,473.9 82.8,475.7 C84.7,477.5 86,481.1 87.9,483.9 C89.8,486.6 91.7,490.1 94.1,492.2 C96.5,494.3 96.8,495.5 102.4,496.3 C108.1,497.1 121.7,497.7 128,497.2 C134.3,496.7 136.7,495.1 140.5,493.4 C144.3,491.7 147.9,490 151,486.8 C154.1,483.6 156.7,478 159.3,474.2 C161.9,470.4 164.7,466.1 166.6,463.8 C168.5,461.5 169.6,461.2 171,460.4 C172.4,459.6 173.9,458.8 175,458.8 C176.1,458.8 176.8,459.3 177.5,460.2 C178.2,461.1 178.4,461.3 179.4,464 C180.4,466.7 182,471.5 183.3,476.3 C184.7,481.1 185.9,488.5 187.5,493 C189.1,497.5 190.1,501.1 192.7,503.5 C195.3,505.9 197.2,506.6 203.2,507.6 C209.2,508.6 224.3,509.4 228.5,509.7" fill="none" stroke="#25a6e0" stroke-width="3.6" stroke-opacity="0.35"/>
<path d="M31.1,494.3 C32.6,494.1 37.1,493.9 40.4,493.2 C43.7,492.5 47.2,491.7 50.7,490.1 C54.2,488.6 58,486.3 61.1,483.9 C64.2,481.5 66.7,477.5 69.3,475.7 C71.9,473.9 74.3,473.2 76.6,473.2 C78.8,473.2 80.9,473.9 82.8,475.7 C84.7,477.5 86,481.1 87.9,483.9 C89.8,486.6 91.7,490.1 94.1,492.2 C96.5,494.3 96.8,495.5 102.4,496.3 C108.1,497.1 121.7,497.7 128,497.2 C134.3,496.7 136.7,495.1 140.5,493.4 C144.3,491.7 147.9,490 151,486.8 C154.1,483.6 156.7,478 159.3,474.2 C161.9,470.4 164.7,466.1 166.6,463.8 C168.5,461.5 169.6,461.2 171,460.4 C172.4,459.6 173.9,458.8 175,458.8 C176.1,458.8 176.8,459.3 177.5,460.2 C178.2,461.1 178.4,461.3 179.4,464 C180.4,466.7 182,471.5 183.3,476.3 C184.7,481.1 185.9,488.5 187.5,493 C189.1,497.5 190.1,501.1 192.7,503.5 C195.3,505.9 197.2,506.6 203.2,507.6 C209.2,508.6 224.3,509.4 228.5,509.7" fill="none" stroke="#25a6e0" stroke-width="2.6" stroke-opacity="0.95"/>
<text x="31.6" y="358.8" font-size="7.7" text-anchor="start" font-family="Liberation Sans, sans-serif" font-weight="bold" fill="#a262d2" stroke="#a262d2" stroke-width="0.1" >LNMO_80</text>
<text x="31.6" y="406.6" font-size="7.7" text-anchor="start" font-family="Liberation Sans, sans-serif" font-weight="bold" fill="#f7a04a" stroke="#f7a04a" stroke-width="0.1" >LNMO_110</text>
<text x="31.6" y="456.8" font-size="7.7" text-anchor="start" font-family="Liberation Sans, sans-serif" font-weight="bold" fill="#20c75a" stroke="#20c75a" stroke-width="0.1" >LNMO_140</text>
<text x="31.6" y="507" font-size="7.7" text-anchor="start" font-family="Liberation Sans, sans-serif" font-weight="bold" fill="#25a6e0" stroke="#25a6e0" stroke-width="0.1" >LNMO_170</text>
<rect x="32.2" y="296.8" width="17.4" height="7.9" fill="#fcdcbd" stroke="#f6c08c" stroke-width="0.9"/>
<text x="52" y="303.8" font-size="7.6" text-anchor="start" font-family="Liberation Sans, sans-serif" font-weight="bold" fill="#111" stroke="#111" stroke-width="0.25" >Mn<tspan font-size="5" dy="-3">4+</tspan></text>
<rect x="73" y="296.8" width="17.5" height="7.9" fill="#d2efc9" stroke="#a8dc98" stroke-width="0.9"/>
<text x="93" y="303.8" font-size="7.6" text-anchor="start" font-family="Liberation Sans, sans-serif" font-weight="bold" fill="#111" stroke="#111" stroke-width="0.25" >Mn<tspan font-size="5" dy="-3">3+</tspan></text>
<rect x="198.1" y="298.1" width="26.1" height="11.1" fill="#111"/>
<rect x="195.5" y="295.5" width="26.1" height="11.1" fill="#fff" stroke="#555" stroke-width="0.6"/>

<text x="208.5" y="304.2" font-size="8.3" text-anchor="middle" font-family="Liberation Sans, sans-serif" font-weight="bold" fill="#111" stroke="#111" stroke-width="0.25" >Mn 2p</text>
<rect x="28.2" y="288.9" width="200.9" height="227.4" fill="none" stroke="#111" stroke-width="1.9"/>
<line x1="28.2" y1="516.3" x2="28.2" y2="519.3" stroke="#111" stroke-width="1.3"/>
<line x1="61.7" y1="516.3" x2="61.7" y2="519.3" stroke="#111" stroke-width="1.3"/>
<line x1="95.2" y1="516.3" x2="95.2" y2="519.3" stroke="#111" stroke-width="1.3"/>
<line x1="128.7" y1="516.3" x2="128.7" y2="519.3" stroke="#111" stroke-width="1.3"/>
<line x1="162.1" y1="516.3" x2="162.1" y2="519.3" stroke="#111" stroke-width="1.3"/>
<line x1="195.6" y1="516.3" x2="195.6" y2="519.3" stroke="#111" stroke-width="1.3"/>
<line x1="229.1" y1="516.3" x2="229.1" y2="519.3" stroke="#111" stroke-width="1.3"/>
<line x1="44.9" y1="516.3" x2="44.9" y2="518.3" stroke="#111" stroke-width="1.3"/>
<line x1="78.4" y1="516.3" x2="78.4" y2="518.3" stroke="#111" stroke-width="1.3"/>
<line x1="111.9" y1="516.3" x2="111.9" y2="518.3" stroke="#111" stroke-width="1.3"/>
<line x1="145.4" y1="516.3" x2="145.4" y2="518.3" stroke="#111" stroke-width="1.3"/>
<line x1="178.9" y1="516.3" x2="178.9" y2="518.3" stroke="#111" stroke-width="1.3"/>
<line x1="212.4" y1="516.3" x2="212.4" y2="518.3" stroke="#111" stroke-width="1.3"/>
<text x="28.2" y="529.9" font-size="10.2" text-anchor="middle" font-family="Liberation Sans, sans-serif" font-weight="bold" fill="#111">660</text>
<text x="61.7" y="529.9" font-size="10.2" text-anchor="middle" font-family="Liberation Sans, sans-serif" font-weight="bold" fill="#111">656</text>
<text x="95.2" y="529.9" font-size="10.2" text-anchor="middle" font-family="Liberation Sans, sans-serif" font-weight="bold" fill="#111">652</text>
<text x="128.7" y="529.9" font-size="10.2" text-anchor="middle" font-family="Liberation Sans, sans-serif" font-weight="bold" fill="#111">648</text>
<text x="162.1" y="529.9" font-size="10.2" text-anchor="middle" font-family="Liberation Sans, sans-serif" font-weight="bold" fill="#111">644</text>
<text x="195.6" y="529.9" font-size="10.2" text-anchor="middle" font-family="Liberation Sans, sans-serif" font-weight="bold" fill="#111">640</text>
<text x="229.1" y="529.9" font-size="10.2" text-anchor="middle" font-family="Liberation Sans, sans-serif" font-weight="bold" fill="#111">636</text>
<text x="128.7" y="542.5" font-size="11.2" text-anchor="middle" font-family="Liberation Sans, sans-serif" font-weight="bold" fill="#111" stroke="#111" stroke-width="0" >Binding energy (eV)</text>
<text transform="translate(20.8,402.6) rotate(-90)" font-size="11.6" text-anchor="middle" font-family="Liberation Sans, sans-serif" font-weight="bold" fill="#111" stroke="#111" stroke-width="0">Intensity (a.u.)</text>
<path d="M277,347.7 C278.6,347.4 283,346.4 286.3,345.6 C289.6,344.8 293.2,344 296.7,343.1 C300.1,342.2 303.6,341.4 307,340.4 C310.4,339.4 314.2,337.8 317.3,336.9 C320.4,336 323.4,335.2 325.6,334.8 C327.9,334.4 328.7,333.9 330.8,334.2 C332.9,334.4 335.4,335.3 338,336.3 C340.6,337.3 343.4,339.2 346.2,340.4 C348.9,341.6 351.6,342.9 354.5,343.5 C357.4,344.1 359.8,344.1 363.4,343.9 C366.9,343.7 371.7,343 375.8,342.1 C379.9,341.2 384.1,340 388.2,338.4 C392.3,336.8 396.9,334.9 400.6,332.2 C404.3,329.5 407.6,326.4 410.5,322.3 C413.4,318.2 416,310.4 418,307.4 C420,304.4 421.1,304.4 422.5,304.4 C423.9,304.4 425,304.4 426.7,307.4 C428.4,310.4 430.6,316.9 432.9,322.3 C435.2,327.7 437.8,334.9 440.3,339.6 C442.8,344.4 445.4,348.5 447.7,350.8 C450,353.1 451,352.7 453.9,353.3 C456.8,353.9 461.3,354.2 465,354.6 C468.7,355 474.2,355.5 476,355.7" fill="none" stroke="#cba8ec" stroke-width="3.8"/>
<path d="M277,347.7 C278.6,347.4 283,346.4 286.3,345.6 C289.6,344.8 293.2,344 296.7,343.1 C300.1,342.2 303.6,341.4 307,340.4 C310.4,339.4 314.2,337.8 317.3,336.9 C320.4,336 323.4,335.2 325.6,334.8 C327.9,334.4 328.7,333.9 330.8,334.2 C332.9,334.4 335.4,335.3 338,336.3 C340.6,337.3 343.4,339.2 346.2,340.4 C348.9,341.6 351.6,342.9 354.5,343.5 C357.4,344.1 359.8,344.1 363.4,343.9 C366.9,343.7 371.7,343 375.8,342.1 C379.9,341.2 384.1,340 388.2,338.4 C392.3,336.8 396.9,334.9 400.6,332.2 C404.3,329.5 407.6,326.4 410.5,322.3 C413.4,318.2 416,310.4 418,307.4 C420,304.4 421.1,304.4 422.5,304.4 C423.9,304.4 425,304.4 426.7,307.4 C428.4,310.4 430.6,316.9 432.9,322.3 C435.2,327.7 437.8,334.9 440.3,339.6 C442.8,344.4 445.4,348.5 447.7,350.8 C450,353.1 451,352.7 453.9,353.3 C456.8,353.9 461.3,354.2 465,354.6 C468.7,355 474.2,355.5 476,355.7" fill="none" stroke="#fff" stroke-width="1.1" stroke-opacity="0.8"/>
<path d="M363.4,343.9 L364.4,343.9 L365.4,343.9 L366.4,344 L367.4,344 L368.4,344 L369.4,344 L370.4,344 L371.4,344.1 L372.4,344.1 L373.4,344.1 L374.4,344.1 L375.4,344.1 L376.4,344.1 L377.4,344.1 L378.4,344 L379.4,343.9 L380.4,343.8 L381.4,343.7 L382.4,343.5 L383.4,343.3 L384.4,343 L385.4,342.7 L386.4,342.4 L387.4,342 L388.4,341.5 L389.4,341 L390.4,340.5 L391.4,340 L392.4,339.4 L393.4,338.8 L394.4,338.1 L395.4,337.5 L396.4,336.9 L397.4,336.4 L398.4,335.9 L399.4,335.4 L400.4,335.1 L401.4,334.8 L402.4,334.7 L403.4,334.7 L404.4,334.8 L405.4,335.1 L406.4,335.5 L407.4,336 L408.4,336.6 L409.4,337.4 L410.4,338.2 L411.4,339.1 L412.4,340 L413.4,341 L414.4,341.9 L415.4,342.8 L416.4,343.7 L417.4,344.6 L418.4,345.4 L419.4,346.1 L420.4,346.8 L421.4,347.4 L422.4,348 L423.4,348.5 L424.4,348.9 L425.4,349.3 L426.4,349.7 L427.4,349.9 L428.4,350.1 L429.4,350.3 L430.4,350.4 L431.4,350.4 L432.4,350.5 L433.4,350.6 L434.4,350.7 L435.4,350.9 L436.4,351 L437.4,351.1 L438.4,351.3 L439.4,351.5 L440.4,351.6 L441.4,351.8 L442.4,352 L443.4,352.2 L444.4,352.3 L445.4,352.5 L446.4,352.6 L447.4,352.8 L448.4,352.9 L449.4,353 L450.4,353.1 L451.4,353.2 L452.4,353.3 L453.4,353.3 L453.9,353.4 L452.9,353.4 L451.9,353.3 L450.9,353.3 L449.9,353.2 L448.9,353.1 L447.9,353 L446.9,352.8 L445.9,352.7 L444.9,352.5 L443.9,352.4 L442.9,352.2 L441.9,352.1 L440.9,351.9 L439.9,351.7 L438.9,351.6 L437.9,351.4 L436.9,351.3 L435.9,351.2 L434.9,351 L433.9,351 L432.9,350.9 L431.9,350.8 L430.9,350.8 L429.9,350.8 L428.9,350.7 L427.9,350.7 L426.9,350.5 L425.9,350.4 L424.9,350.2 L423.9,349.9 L422.9,349.7 L421.9,349.4 L420.9,349.2 L419.9,348.9 L418.9,348.6 L417.9,348.3 L416.9,348 L415.9,347.7 L414.9,347.4 L413.9,347.1 L412.9,346.8 L411.9,346.6 L410.9,346.4 L409.9,346.2 L408.9,346 L407.9,345.9 L406.9,345.8 L405.9,345.8 L404.9,345.8 L403.9,345.8 L402.9,345.8 L401.9,345.7 L400.9,345.7 L399.9,345.6 L398.9,345.6 L397.9,345.5 L396.9,345.4 L395.9,345.3 L394.9,345.3 L393.9,345.2 L392.9,345.1 L391.9,345.1 L390.9,345 L389.9,344.9 L388.9,344.9 L387.9,344.9 L386.9,344.8 L385.9,344.8 L384.9,344.8 L383.9,344.8 L382.9,344.8 L381.9,344.8 L380.9,344.7 L379.9,344.7 L378.9,344.7 L377.9,344.6 L376.9,344.6 L375.9,344.5 L374.9,344.5 L373.9,344.4 L372.9,344.4 L371.9,344.3 L370.9,344.3 L369.9,344.3 L368.9,344.2 L367.9,344.2 L366.9,344.1 L365.9,344.1 L364.9,344.1 L363.9,344.1 Z" fill="#cfdcf6" fill-opacity="0.85" stroke="none"/>
<path d="M363.4,344 L364.4,344 L365.4,344 L366.4,344 L367.4,344.1 L368.4,344.1 L369.4,344.1 L370.4,344.2 L371.4,344.2 L372.4,344.2 L373.4,344.3 L374.4,344.3 L375.4,344.4 L376.4,344.4 L377.4,344.4 L378.4,344.5 L379.4,344.5 L380.4,344.5 L381.4,344.6 L382.4,344.6 L383.4,344.6 L384.4,344.6 L385.4,344.6 L386.4,344.6 L387.4,344.6 L388.4,344.6 L389.4,344.6 L390.4,344.6 L391.4,344.7 L392.4,344.7 L393.4,344.7 L394.4,344.7 L395.4,344.7 L396.4,344.7 L397.4,344.7 L398.4,344.6 L399.4,344.4 L400.4,344.2 L401.4,343.9 L402.4,343.4 L403.4,342.9 L404.4,342.2 L405.4,341.4 L406.4,340.4 L407.4,339.4 L408.4,338.2 L409.4,337 L410.4,335.7 L411.4,334.4 L412.4,333.1 L413.4,331.9 L414.4,330.9 L415.4,330.2 L416.4,329.7 L417.4,329.6 L418.4,329.9 L419.4,330.5 L420.4,331.5 L421.4,332.8 L422.4,334.3 L423.4,335.9 L424.4,337.6 L425.4,339.4 L426.4,341 L427.4,342.6 L428.4,343.9 L429.4,345.2 L430.4,346.2 L431.4,347.1 L432.4,347.9 L433.4,348.5 L434.4,349.1 L435.4,349.6 L436.4,350 L437.4,350.4 L438.4,350.7 L439.4,351 L440.4,351.2 L441.4,351.5 L442.4,351.7 L443.4,351.9 L444.4,352.1 L445.4,352.3 L446.4,352.5 L447.4,352.6 L448.4,352.8 L449.4,352.9 L450.4,353 L451.4,353.1 L452.4,353.2 L453.4,353.2 L453.9,353.4 L452.9,353.4 L451.9,353.3 L450.9,353.3 L449.9,353.2 L448.9,353.1 L447.9,353 L446.9,352.8 L445.9,352.7 L444.9,352.5 L443.9,352.4 L442.9,352.2 L441.9,352.1 L440.9,351.9 L439.9,351.7 L438.9,351.6 L437.9,351.4 L436.9,351.3 L435.9,351.2 L434.9,351 L433.9,351 L432.9,350.9 L431.9,350.8 L430.9,350.8 L429.9,350.8 L428.9,350.7 L427.9,350.7 L426.9,350.5 L425.9,350.4 L424.9,350.2 L423.9,349.9 L422.9,349.7 L421.9,349.4 L420.9,349.2 L419.9,348.9 L418.9,348.6 L417.9,348.3 L416.9,348 L415.9,347.7 L414.9,347.4 L413.9,347.1 L412.9,346.8 L411.9,346.6 L410.9,346.4 L409.9,346.2 L408.9,346 L407.9,345.9 L406.9,345.8 L405.9,345.8 L404.9,345.8 L403.9,345.8 L402.9,345.8 L401.9,345.7 L400.9,345.7 L399.9,345.6 L398.9,345.6 L397.9,345.5 L396.9,345.4 L395.9,345.3 L394.9,345.3 L393.9,345.2 L392.9,345.1 L391.9,345.1 L390.9,345 L389.9,344.9 L388.9,344.9 L387.9,344.9 L386.9,344.8 L385.9,344.8 L384.9,344.8 L383.9,344.8 L382.9,344.8 L381.9,344.8 L380.9,344.7 L379.9,344.7 L378.9,344.7 L377.9,344.6 L376.9,344.6 L375.9,344.5 L374.9,344.5 L373.9,344.4 L372.9,344.4 L371.9,344.3 L370.9,344.3 L369.9,344.3 L368.9,344.2 L367.9,344.2 L366.9,344.1 L365.9,344.1 L364.9,344.1 L363.9,344.1 Z" fill="#f6d0f2" fill-opacity="0.85" stroke="none"/>
<path d="M363.4,344 L364.4,344 L365.4,344 L366.4,344 L367.4,344 L368.4,344.1 L369.4,344.1 L370.4,344.1 L371.4,344.2 L372.4,344.2 L373.4,344.3 L374.4,344.3 L375.4,344.3 L376.4,344.4 L377.4,344.4 L378.4,344.5 L379.4,344.5 L380.4,344.5 L381.4,344.5 L382.4,344.6 L383.4,344.6 L384.4,344.6 L385.4,344.6 L386.4,344.6 L387.4,344.6 L388.4,344.6 L389.4,344.6 L390.4,344.7 L391.4,344.7 L392.4,344.7 L393.4,344.8 L394.4,344.8 L395.4,344.9 L396.4,344.9 L397.4,345 L398.4,345 L399.4,345 L400.4,345 L401.4,345 L402.4,345 L403.4,344.9 L404.4,344.8 L405.4,344.7 L406.4,344.5 L407.4,344.2 L408.4,343.9 L409.4,343.6 L410.4,343.1 L411.4,342.5 L412.4,341.8 L413.4,340.8 L414.4,339.7 L415.4,338.3 L416.4,336.7 L417.4,334.9 L418.4,333 L419.4,330.9 L420.4,328.7 L421.4,326.7 L422.4,324.7 L423.4,323 L424.4,321.7 L425.4,320.8 L426.4,320.5 L427.4,320.8 L428.4,321.6 L429.4,322.9 L430.4,324.7 L431.4,326.8 L432.4,329.1 L433.4,331.6 L434.4,334.1 L435.4,336.6 L436.4,338.9 L437.4,341 L438.4,343 L439.4,344.7 L440.4,346.2 L441.4,347.5 L442.4,348.5 L443.4,349.4 L444.4,350.2 L445.4,350.8 L446.4,351.3 L447.4,351.7 L448.4,352 L449.4,352.2 L450.4,352.5 L451.4,352.6 L452.4,352.7 L453.4,352.8 L453.9,353.4 L452.9,353.4 L451.9,353.3 L450.9,353.3 L449.9,353.2 L448.9,353.1 L447.9,353 L446.9,352.8 L445.9,352.7 L444.9,352.5 L443.9,352.4 L442.9,352.2 L441.9,352.1 L440.9,351.9 L439.9,351.7 L438.9,351.6 L437.9,351.4 L436.9,351.3 L435.9,351.2 L434.9,351 L433.9,351 L432.9,350.9 L431.9,350.8 L430.9,350.8 L429.9,350.8 L428.9,350.7 L427.9,350.7 L426.9,350.5 L425.9,350.4 L424.9,350.2 L423.9,349.9 L422.9,349.7 L421.9,349.4 L420.9,349.2 L419.9,348.9 L418.9,348.6 L417.9,348.3 L416.9,348 L415.9,347.7 L414.9,347.4 L413.9,347.1 L412.9,346.8 L411.9,346.6 L410.9,346.4 L409.9,346.2 L408.9,346 L407.9,345.9 L406.9,345.8 L405.9,345.8 L404.9,345.8 L403.9,345.8 L402.9,345.8 L401.9,345.7 L400.9,345.7 L399.9,345.6 L398.9,345.6 L397.9,345.5 L396.9,345.4 L395.9,345.3 L394.9,345.3 L393.9,345.2 L392.9,345.1 L391.9,345.1 L390.9,345 L389.9,344.9 L388.9,344.9 L387.9,344.9 L386.9,344.8 L385.9,344.8 L384.9,344.8 L383.9,344.8 L382.9,344.8 L381.9,344.8 L380.9,344.7 L379.9,344.7 L378.9,344.7 L377.9,344.6 L376.9,344.6 L375.9,344.5 L374.9,344.5 L373.9,344.4 L372.9,344.4 L371.9,344.3 L370.9,344.3 L369.9,344.3 L368.9,344.2 L367.9,344.2 L366.9,344.1 L365.9,344.1 L364.9,344.1 L363.9,344.1 Z" fill="#c9ecef" fill-opacity="0.85" stroke="none"/>
<path d="M363.4,343.9 L364.4,343.9 L365.4,343.9 L366.4,344 L367.4,344 L368.4,344 L369.4,344 L370.4,344 L371.4,344.1 L372.4,344.1 L373.4,344.1 L374.4,344.1 L375.4,344.1 L376.4,344.1 L377.4,344.1 L378.4,344 L379.4,343.9 L380.4,343.8 L381.4,343.7 L382.4,343.5 L383.4,343.3 L384.4,343 L385.4,342.7 L386.4,342.4 L387.4,342 L388.4,341.5 L389.4,341 L390.4,340.5 L391.4,340 L392.4,339.4 L393.4,338.8 L394.4,338.1 L395.4,337.5 L396.4,336.9 L397.4,336.4 L398.4,335.9 L399.4,335.4 L400.4,335.1 L401.4,334.8 L402.4,334.7 L403.4,334.7 L404.4,334.8 L405.4,335.1 L406.4,335.5 L407.4,336 L408.4,336.6 L409.4,337.4 L410.4,338.2 L411.4,339.1 L412.4,340 L413.4,341 L414.4,341.9 L415.4,342.8 L416.4,343.7 L417.4,344.6 L418.4,345.4 L419.4,346.1 L420.4,346.8 L421.4,347.4 L422.4,348 L423.4,348.5 L424.4,348.9 L425.4,349.3 L426.4,349.7 L427.4,349.9 L428.4,350.1 L429.4,350.3 L430.4,350.4 L431.4,350.4 L432.4,350.5 L433.4,350.6 L434.4,350.7 L435.4,350.9 L436.4,351 L437.4,351.1 L438.4,351.3 L439.4,351.5 L440.4,351.6 L441.4,351.8 L442.4,352 L443.4,352.2 L444.4,352.3 L445.4,352.5 L446.4,352.6 L447.4,352.8 L448.4,352.9 L449.4,353 L450.4,353.1 L451.4,353.2 L452.4,353.3 L453.4,353.3" fill="none" stroke="#8fb0ea" stroke-width="1.4"/>
<path d="M363.4,344 L364.4,344 L365.4,344 L366.4,344 L367.4,344.1 L368.4,344.1 L369.4,344.1 L370.4,344.2 L371.4,344.2 L372.4,344.2 L373.4,344.3 L374.4,344.3 L375.4,344.4 L376.4,344.4 L377.4,344.4 L378.4,344.5 L379.4,344.5 L380.4,344.5 L381.4,344.6 L382.4,344.6 L383.4,344.6 L384.4,344.6 L385.4,344.6 L386.4,344.6 L387.4,344.6 L388.4,344.6 L389.4,344.6 L390.4,344.6 L391.4,344.7 L392.4,344.7 L393.4,344.7 L394.4,344.7 L395.4,344.7 L396.4,344.7 L397.4,344.7 L398.4,344.6 L399.4,344.4 L400.4,344.2 L401.4,343.9 L402.4,343.4 L403.4,342.9 L404.4,342.2 L405.4,341.4 L406.4,340.4 L407.4,339.4 L408.4,338.2 L409.4,337 L410.4,335.7 L411.4,334.4 L412.4,333.1 L413.4,331.9 L414.4,330.9 L415.4,330.2 L416.4,329.7 L417.4,329.6 L418.4,329.9 L419.4,330.5 L420.4,331.5 L421.4,332.8 L422.4,334.3 L423.4,335.9 L424.4,337.6 L425.4,339.4 L426.4,341 L427.4,342.6 L428.4,343.9 L429.4,345.2 L430.4,346.2 L431.4,347.1 L432.4,347.9 L433.4,348.5 L434.4,349.1 L435.4,349.6 L436.4,350 L437.4,350.4 L438.4,350.7 L439.4,351 L440.4,351.2 L441.4,351.5 L442.4,351.7 L443.4,351.9 L444.4,352.1 L445.4,352.3 L446.4,352.5 L447.4,352.6 L448.4,352.8 L449.4,352.9 L450.4,353 L451.4,353.1 L452.4,353.2 L453.4,353.2" fill="none" stroke="#ee5fdc" stroke-width="1.4"/>
<path d="M363.4,344 L364.4,344 L365.4,344 L366.4,344 L367.4,344 L368.4,344.1 L369.4,344.1 L370.4,344.1 L371.4,344.2 L372.4,344.2 L373.4,344.3 L374.4,344.3 L375.4,344.3 L376.4,344.4 L377.4,344.4 L378.4,344.5 L379.4,344.5 L380.4,344.5 L381.4,344.5 L382.4,344.6 L383.4,344.6 L384.4,344.6 L385.4,344.6 L386.4,344.6 L387.4,344.6 L388.4,344.6 L389.4,344.6 L390.4,344.7 L391.4,344.7 L392.4,344.7 L393.4,344.8 L394.4,344.8 L395.4,344.9 L396.4,344.9 L397.4,345 L398.4,345 L399.4,345 L400.4,345 L401.4,345 L402.4,345 L403.4,344.9 L404.4,344.8 L405.4,344.7 L406.4,344.5 L407.4,344.2 L408.4,343.9 L409.4,343.6 L410.4,343.1 L411.4,342.5 L412.4,341.8 L413.4,340.8 L414.4,339.7 L415.4,338.3 L416.4,336.7 L417.4,334.9 L418.4,333 L419.4,330.9 L420.4,328.7 L421.4,326.7 L422.4,324.7 L423.4,323 L424.4,321.7 L425.4,320.8 L426.4,320.5 L427.4,320.8 L428.4,321.6 L429.4,322.9 L430.4,324.7 L431.4,326.8 L432.4,329.1 L433.4,331.6 L434.4,334.1 L435.4,336.6 L436.4,338.9 L437.4,341 L438.4,343 L439.4,344.7 L440.4,346.2 L441.4,347.5 L442.4,348.5 L443.4,349.4 L444.4,350.2 L445.4,350.8 L446.4,351.3 L447.4,351.7 L448.4,352 L449.4,352.2 L450.4,352.5 L451.4,352.6 L452.4,352.7 L453.4,352.8" fill="none" stroke="#22b8c8" stroke-width="1.4"/>
<path d="M363.4,344.1 L365.4,344.1 L367.4,344.2 L369.4,344.2 L371.4,344.3 L373.4,344.4 L375.4,344.5 L377.4,344.6 L379.4,344.7 L381.4,344.7 L383.4,344.8 L385.4,344.8 L387.4,344.8 L389.4,344.9 L391.4,345 L393.4,345.2 L395.4,345.3 L397.4,345.5 L399.4,345.6 L401.4,345.7 L403.4,345.8 L405.4,345.8 L407.4,345.9 L409.4,346.1 L411.4,346.5 L413.4,347 L415.4,347.5 L417.4,348.1 L419.4,348.7 L421.4,349.3 L423.4,349.8 L425.4,350.3 L427.4,350.6 L429.4,350.8 L431.4,350.8 L433.4,350.9 L435.4,351.1 L437.4,351.4 L439.4,351.7 L441.4,352 L443.4,352.3 L445.4,352.6 L447.4,352.9 L449.4,353.2 L451.4,353.3 L453.4,353.4" fill="none" stroke="#4a4a5a" stroke-width="1.0"/>
<path d="M363.4,343.9 C365.5,343.6 371.7,343 375.8,342.1 C379.9,341.2 384.1,340 388.2,338.4 C392.3,336.8 396.9,334.9 400.6,332.2 C404.3,329.5 407.6,326.4 410.5,322.3 C413.4,318.2 416,310.4 418,307.4 C420,304.4 421.1,304.4 422.5,304.4 C423.9,304.4 425,304.4 426.7,307.4 C428.4,310.4 430.6,316.9 432.9,322.3 C435.2,327.7 437.8,334.9 440.3,339.6 C442.8,344.4 445.4,348.5 447.7,350.8 C450,353.1 452.9,352.9 453.9,353.3" fill="none" stroke="#cba8ec" stroke-width="3.6"/>
<path d="M363.4,343.9 C365.5,343.6 371.7,343 375.8,342.1 C379.9,341.2 384.1,340 388.2,338.4 C392.3,336.8 396.9,334.9 400.6,332.2 C404.3,329.5 407.6,326.4 410.5,322.3 C413.4,318.2 416,310.4 418,307.4 C420,304.4 421.1,304.4 422.5,304.4 C423.9,304.4 425,304.4 426.7,307.4 C428.4,310.4 430.6,316.9 432.9,322.3 C435.2,327.7 437.8,334.9 440.3,339.6 C442.8,344.4 445.4,348.5 447.7,350.8 C450,353.1 452.9,352.9 453.9,353.3" fill="none" stroke="#a262d2" stroke-width="1.8"/>
<path d="M277,396.6 C279.6,396.3 287.5,395.5 292.5,394.6 C297.5,393.8 302.9,392.4 307,391.5 C311.1,390.6 313.9,389.6 317.3,389 C320.8,388.4 324.2,387.7 327.7,387.7 C331.1,387.7 334.6,388.4 338,389 C341.4,389.6 344.9,390.7 348.3,391.5 C351.7,392.3 355.7,393.6 358.6,393.9 C361.5,394.2 362.2,394 365.9,393.5 C369.6,393 376.2,392.6 380.8,391 C385.4,389.4 389.1,386.1 393.2,383.6 C397.3,381.1 401.9,378.1 405.6,376.1 C409.3,374.2 412.6,372.7 415.5,371.9 C418.4,371.1 420.5,370.9 423,371.2 C425.5,371.5 427.9,371.3 430.4,373.6 C432.9,375.9 435.3,380.9 437.8,384.8 C440.3,388.7 442.8,394.5 445.3,397.2 C447.8,399.9 449.4,400.2 452.7,400.9 C456,401.6 461.1,401.4 465,401.6 C468.9,401.8 474.2,402.1 476,402.2" fill="none" stroke="#f9ca94" stroke-width="3.8"/>
<path d="M277,396.6 C279.6,396.3 287.5,395.5 292.5,394.6 C297.5,393.8 302.9,392.4 307,391.5 C311.1,390.6 313.9,389.6 317.3,389 C320.8,388.4 324.2,387.7 327.7,387.7 C331.1,387.7 334.6,388.4 338,389 C341.4,389.6 344.9,390.7 348.3,391.5 C351.7,392.3 355.7,393.6 358.6,393.9 C361.5,394.2 362.2,394 365.9,393.5 C369.6,393 376.2,392.6 380.8,391 C385.4,389.4 389.1,386.1 393.2,383.6 C397.3,381.1 401.9,378.1 405.6,376.1 C409.3,374.2 412.6,372.7 415.5,371.9 C418.4,371.1 420.5,370.9 423,371.2 C425.5,371.5 427.9,371.3 430.4,373.6 C432.9,375.9 435.3,380.9 437.8,384.8 C440.3,388.7 442.8,394.5 445.3,397.2 C447.8,399.9 449.4,400.2 452.7,400.9 C456,401.6 461.1,401.4 465,401.6 C468.9,401.8 474.2,402.1 476,402.2" fill="none" stroke="#fff" stroke-width="1.1" stroke-opacity="0.8"/>
<path d="M365.9,393.2 L366.9,393.2 L367.9,393.2 L368.9,393.2 L369.9,393.2 L370.9,393.3 L371.9,393.3 L372.9,393.3 L373.9,393.3 L374.9,393.3 L375.9,393.3 L376.9,393.3 L377.9,393.3 L378.9,393.2 L379.9,393.1 L380.9,393 L381.9,392.8 L382.9,392.6 L383.9,392.4 L384.9,392.1 L385.9,391.7 L386.9,391.3 L387.9,390.9 L388.9,390.5 L389.9,390 L390.9,389.5 L391.9,389 L392.9,388.4 L393.9,387.9 L394.9,387.2 L395.9,386.6 L396.9,386 L397.9,385.3 L398.9,384.7 L399.9,384.1 L400.9,383.6 L401.9,383.1 L402.9,382.6 L403.9,382.3 L404.9,382 L405.9,381.8 L406.9,381.8 L407.9,381.9 L408.9,382.2 L409.9,382.6 L410.9,383.2 L411.9,383.8 L412.9,384.6 L413.9,385.4 L414.9,386.3 L415.9,387.2 L416.9,388.1 L417.9,389.1 L418.9,390 L419.9,390.9 L420.9,391.8 L421.9,392.7 L422.9,393.4 L423.9,394.2 L424.9,394.9 L425.9,395.5 L426.9,396 L427.9,396.5 L428.9,396.9 L429.9,397.2 L430.9,397.5 L431.9,397.8 L432.9,398 L433.9,398.2 L434.9,398.4 L435.9,398.6 L436.9,398.8 L437.9,399 L438.9,399.2 L439.9,399.4 L440.9,399.5 L441.9,399.7 L442.9,399.8 L443.9,400 L444.9,400.1 L445.9,400.2 L446.9,400.3 L447.9,400.4 L448.9,400.5 L449.9,400.6 L450.9,400.6 L451.9,400.7 L452.7,400.9 L451.7,400.9 L450.7,400.9 L449.7,400.8 L448.7,400.8 L447.7,400.7 L446.7,400.6 L445.7,400.5 L444.7,400.4 L443.7,400.3 L442.7,400.2 L441.7,400.1 L440.7,400 L439.7,399.8 L438.7,399.7 L437.7,399.6 L436.7,399.5 L435.7,399.4 L434.7,399.4 L433.7,399.3 L432.7,399.3 L431.7,399.2 L430.7,399.2 L429.7,399.2 L428.7,399.2 L427.7,399.1 L426.7,399 L425.7,398.9 L424.7,398.8 L423.7,398.6 L422.7,398.5 L421.7,398.3 L420.7,398.1 L419.7,397.9 L418.7,397.7 L417.7,397.5 L416.7,397.3 L415.7,397.2 L414.7,397 L413.7,396.8 L412.7,396.6 L411.7,396.5 L410.7,396.4 L409.7,396.2 L408.7,396.1 L407.7,396.1 L406.7,396 L405.7,396 L404.7,396 L403.7,396 L402.7,395.9 L401.7,395.8 L400.7,395.8 L399.7,395.7 L398.7,395.6 L397.7,395.5 L396.7,395.4 L395.7,395.2 L394.7,395.1 L393.7,395 L392.7,394.9 L391.7,394.8 L390.7,394.7 L389.7,394.6 L388.7,394.5 L387.7,394.5 L386.7,394.4 L385.7,394.4 L384.7,394.4 L383.7,394.4 L382.7,394.4 L381.7,394.3 L380.7,394.3 L379.7,394.2 L378.7,394.2 L377.7,394.1 L376.7,394 L375.7,394 L374.7,393.9 L373.7,393.8 L372.7,393.8 L371.7,393.7 L370.7,393.6 L369.7,393.6 L368.7,393.6 L367.7,393.5 L366.7,393.5 Z" fill="#cfdcf6" fill-opacity="0.85" stroke="none"/>
<path d="M376.7,394 L377.7,394 L378.7,394.1 L379.7,394.1 L380.7,394.2 L381.7,394.2 L382.7,394.3 L383.7,394.3 L384.7,394.3 L385.7,394.3 L386.7,394.3 L387.7,394.3 L388.7,394.4 L389.7,394.4 L390.7,394.5 L391.7,394.6 L392.7,394.7 L393.7,394.8 L394.7,394.8 L395.7,394.9 L396.7,394.9 L397.7,395 L398.7,394.9 L399.7,394.9 L400.7,394.8 L401.7,394.6 L402.7,394.4 L403.7,394 L404.7,393.6 L405.7,393.1 L406.7,392.6 L407.7,392 L408.7,391.4 L409.7,390.8 L410.7,390.2 L411.7,389.6 L412.7,389.1 L413.7,388.7 L414.7,388.5 L415.7,388.4 L416.7,388.5 L417.7,388.8 L418.7,389.2 L419.7,389.9 L420.7,390.6 L421.7,391.4 L422.7,392.3 L423.7,393.1 L424.7,394 L425.7,394.8 L426.7,395.6 L427.7,396.2 L428.7,396.8 L429.7,397.3 L430.7,397.6 L431.7,398 L432.7,398.3 L433.7,398.5 L434.7,398.7 L435.7,398.9 L436.7,399.1 L437.7,399.3 L438.7,399.4 L439.7,399.6 L440.7,399.7 L441.7,399.9 L442.7,400 L443.7,400.1 L444.7,400.2 L445.7,400.4 L446.7,400.5 L447.7,400.6 L448.7,400.6 L449.7,400.7 L450.7,400.8 L451.7,400.8 L452.7,400.8 L452.7,400.9 L451.7,400.9 L450.7,400.9 L449.7,400.8 L448.7,400.8 L447.7,400.7 L446.7,400.6 L445.7,400.5 L444.7,400.4 L443.7,400.3 L442.7,400.2 L441.7,400.1 L440.7,400 L439.7,399.8 L438.7,399.7 L437.7,399.6 L436.7,399.5 L435.7,399.4 L434.7,399.4 L433.7,399.3 L432.7,399.3 L431.7,399.2 L430.7,399.2 L429.7,399.2 L428.7,399.2 L427.7,399.1 L426.7,399 L425.7,398.9 L424.7,398.8 L423.7,398.6 L422.7,398.5 L421.7,398.3 L420.7,398.1 L419.7,397.9 L418.7,397.7 L417.7,397.5 L416.7,397.3 L415.7,397.2 L414.7,397 L413.7,396.8 L412.7,396.6 L411.7,396.5 L410.7,396.4 L409.7,396.2 L408.7,396.1 L407.7,396.1 L406.7,396 L405.7,396 L404.7,396 L403.7,396 L402.7,395.9 L401.7,395.8 L400.7,395.8 L399.7,395.7 L398.7,395.6 L397.7,395.5 L396.7,395.4 L395.7,395.2 L394.7,395.1 L393.7,395 L392.7,394.9 L391.7,394.8 L390.7,394.7 L389.7,394.6 L388.7,394.5 L387.7,394.5 L386.7,394.4 L385.7,394.4 L384.7,394.4 L383.7,394.4 L382.7,394.4 L381.7,394.3 L380.7,394.3 L379.7,394.2 L378.7,394.2 L377.7,394.1 L376.7,394 Z" fill="#f6d0f2" fill-opacity="0.85" stroke="none"/>
<path d="M381.4,394.2 L382.4,394.3 L383.4,394.3 L384.4,394.3 L385.4,394.3 L386.4,394.3 L387.4,394.4 L388.4,394.4 L389.4,394.5 L390.4,394.6 L391.4,394.6 L392.4,394.7 L393.4,394.8 L394.4,395 L395.4,395.1 L396.4,395.2 L397.4,395.3 L398.4,395.4 L399.4,395.5 L400.4,395.5 L401.4,395.6 L402.4,395.7 L403.4,395.7 L404.4,395.7 L405.4,395.7 L406.4,395.7 L407.4,395.7 L408.4,395.7 L409.4,395.8 L410.4,395.8 L411.4,395.9 L412.4,395.9 L413.4,395.9 L414.4,395.9 L415.4,395.8 L416.4,395.5 L417.4,395.2 L418.4,394.7 L419.4,393.9 L420.4,393 L421.4,391.8 L422.4,390.5 L423.4,388.9 L424.4,387.2 L425.4,385.4 L426.4,383.7 L427.4,382.1 L428.4,380.9 L429.4,380.1 L430.4,379.8 L431.4,380.1 L432.4,381 L433.4,382.3 L434.4,384 L435.4,386 L436.4,387.9 L437.4,389.9 L438.4,391.7 L439.4,393.4 L440.4,394.9 L441.4,396.1 L442.4,397.1 L443.4,398 L444.4,398.6 L445.4,399.1 L446.4,399.5 L447.4,399.8 L448.4,400.1 L449.4,400.2 L450.4,400.4 L451.4,400.5 L452.4,400.5 L452.7,400.9 L451.7,400.9 L450.7,400.9 L449.7,400.8 L448.7,400.8 L447.7,400.7 L446.7,400.6 L445.7,400.5 L444.7,400.4 L443.7,400.3 L442.7,400.2 L441.7,400.1 L440.7,400 L439.7,399.8 L438.7,399.7 L437.7,399.6 L436.7,399.5 L435.7,399.4 L434.7,399.4 L433.7,399.3 L432.7,399.3 L431.7,399.2 L430.7,399.2 L429.7,399.2 L428.7,399.2 L427.7,399.1 L426.7,399 L425.7,398.9 L424.7,398.8 L423.7,398.6 L422.7,398.5 L421.7,398.3 L420.7,398.1 L419.7,397.9 L418.7,397.7 L417.7,397.5 L416.7,397.3 L415.7,397.2 L414.7,397 L413.7,396.8 L412.7,396.6 L411.7,396.5 L410.7,396.4 L409.7,396.2 L408.7,396.1 L407.7,396.1 L406.7,396 L405.7,396 L404.7,396 L403.7,396 L402.7,395.9 L401.7,395.8 L400.7,395.8 L399.7,395.7 L398.7,395.6 L397.7,395.5 L396.7,395.4 L395.7,395.2 L394.7,395.1 L393.7,395 L392.7,394.9 L391.7,394.8 L390.7,394.7 L389.7,394.6 L388.7,394.5 L387.7,394.5 L386.7,394.4 L385.7,394.4 L384.7,394.4 L383.7,394.4 L382.7,394.4 L381.7,394.3 Z" fill="#c9ecef" fill-opacity="0.85" stroke="none"/>
<path d="M365.9,393.2 L366.9,393.2 L367.9,393.2 L368.9,393.2 L369.9,393.2 L370.9,393.3 L371.9,393.3 L372.9,393.3 L373.9,393.3 L374.9,393.3 L375.9,393.3 L376.9,393.3 L377.9,393.3 L378.9,393.2 L379.9,393.1 L380.9,393 L381.9,392.8 L382.9,392.6 L383.9,392.4 L384.9,392.1 L385.9,391.7 L386.9,391.3 L387.9,390.9 L388.9,390.5 L389.9,390 L390.9,389.5 L391.9,389 L392.9,388.4 L393.9,387.9 L394.9,387.2 L395.9,386.6 L396.9,386 L397.9,385.3 L398.9,384.7 L399.9,384.1 L400.9,383.6 L401.9,383.1 L402.9,382.6 L403.9,382.3 L404.9,382 L405.9,381.8 L406.9,381.8 L407.9,381.9 L408.9,382.2 L409.9,382.6 L410.9,383.2 L411.9,383.8 L412.9,384.6 L413.9,385.4 L414.9,386.3 L415.9,387.2 L416.9,388.1 L417.9,389.1 L418.9,390 L419.9,390.9 L420.9,391.8 L421.9,392.7 L422.9,393.4 L423.9,394.2 L424.9,394.9 L425.9,395.5 L426.9,396 L427.9,396.5 L428.9,396.9 L429.9,397.2 L430.9,397.5 L431.9,397.8 L432.9,398 L433.9,398.2 L434.9,398.4 L435.9,398.6 L436.9,398.8 L437.9,399 L438.9,399.2 L439.9,399.4 L440.9,399.5 L441.9,399.7 L442.9,399.8 L443.9,400 L444.9,400.1 L445.9,400.2 L446.9,400.3 L447.9,400.4 L448.9,400.5 L449.9,400.6 L450.9,400.6 L451.9,400.7" fill="none" stroke="#8fb0ea" stroke-width="1.4"/>
<path d="M376.7,394 L377.7,394 L378.7,394.1 L379.7,394.1 L380.7,394.2 L381.7,394.2 L382.7,394.3 L383.7,394.3 L384.7,394.3 L385.7,394.3 L386.7,394.3 L387.7,394.3 L388.7,394.4 L389.7,394.4 L390.7,394.5 L391.7,394.6 L392.7,394.7 L393.7,394.8 L394.7,394.8 L395.7,394.9 L396.7,394.9 L397.7,395 L398.7,394.9 L399.7,394.9 L400.7,394.8 L401.7,394.6 L402.7,394.4 L403.7,394 L404.7,393.6 L405.7,393.1 L406.7,392.6 L407.7,392 L408.7,391.4 L409.7,390.8 L410.7,390.2 L411.7,389.6 L412.7,389.1 L413.7,388.7 L414.7,388.5 L415.7,388.4 L416.7,388.5 L417.7,388.8 L418.7,389.2 L419.7,389.9 L420.7,390.6 L421.7,391.4 L422.7,392.3 L423.7,393.1 L424.7,394 L425.7,394.8 L426.7,395.6 L427.7,396.2 L428.7,396.8 L429.7,397.3 L430.7,397.6 L431.7,398 L432.7,398.3 L433.7,398.5 L434.7,398.7 L435.7,398.9 L436.7,399.1 L437.7,399.3 L438.7,399.4 L439.7,399.6 L440.7,399.7 L441.7,399.9 L442.7,400 L443.7,400.1 L444.7,400.2 L445.7,400.4 L446.7,400.5 L447.7,400.6 L448.7,400.6 L449.7,400.7 L450.7,400.8 L451.7,400.8 L452.7,400.8" fill="none" stroke="#ee5fdc" stroke-width="1.4"/>
<path d="M381.4,394.2 L382.4,394.3 L383.4,394.3 L384.4,394.3 L385.4,394.3 L386.4,394.3 L387.4,394.4 L388.4,394.4 L389.4,394.5 L390.4,394.6 L391.4,394.6 L392.4,394.7 L393.4,394.8 L394.4,395 L395.4,395.1 L396.4,395.2 L397.4,395.3 L398.4,395.4 L399.4,395.5 L400.4,395.5 L401.4,395.6 L402.4,395.7 L403.4,395.7 L404.4,395.7 L405.4,395.7 L406.4,395.7 L407.4,395.7 L408.4,395.7 L409.4,395.8 L410.4,395.8 L411.4,395.9 L412.4,395.9 L413.4,395.9 L414.4,395.9 L415.4,395.8 L416.4,395.5 L417.4,395.2 L418.4,394.7 L419.4,393.9 L420.4,393 L421.4,391.8 L422.4,390.5 L423.4,388.9 L424.4,387.2 L425.4,385.4 L426.4,383.7 L427.4,382.1 L428.4,380.9 L429.4,380.1 L430.4,379.8 L431.4,380.1 L432.4,381 L433.4,382.3 L434.4,384 L435.4,386 L436.4,387.9 L437.4,389.9 L438.4,391.7 L439.4,393.4 L440.4,394.9 L441.4,396.1 L442.4,397.1 L443.4,398 L444.4,398.6 L445.4,399.1 L446.4,399.5 L447.4,399.8 L448.4,400.1 L449.4,400.2 L450.4,400.4 L451.4,400.5 L452.4,400.5" fill="none" stroke="#22b8c8" stroke-width="1.4"/>
<path d="M365.9,393.5 L367.9,393.5 L369.9,393.6 L371.9,393.7 L373.9,393.8 L375.9,394 L377.9,394.1 L379.9,394.2 L381.9,394.3 L383.9,394.4 L385.9,394.4 L387.9,394.5 L389.9,394.6 L391.9,394.8 L393.9,395 L395.9,395.3 L397.9,395.5 L399.9,395.7 L401.9,395.9 L403.9,396 L405.9,396 L407.9,396.1 L409.9,396.3 L411.9,396.5 L413.9,396.8 L415.9,397.2 L417.9,397.6 L419.9,398 L421.9,398.3 L423.9,398.7 L425.9,398.9 L427.9,399.1 L429.9,399.2 L431.9,399.2 L433.9,399.3 L435.9,399.5 L437.9,399.6 L439.9,399.9 L441.9,400.1 L443.9,400.3 L445.9,400.5 L447.9,400.7 L449.9,400.8 L451.9,400.9" fill="none" stroke="#4a4a5a" stroke-width="1.0"/>
<path d="M365.9,393.5 C368.4,393.1 376.2,392.6 380.8,391 C385.4,389.4 389.1,386.1 393.2,383.6 C397.3,381.1 401.9,378.1 405.6,376.1 C409.3,374.2 412.6,372.7 415.5,371.9 C418.4,371.1 420.5,370.9 423,371.2 C425.5,371.5 427.9,371.3 430.4,373.6 C432.9,375.9 435.3,380.9 437.8,384.8 C440.3,388.7 442.8,394.5 445.3,397.2 C447.8,399.9 451.5,400.3 452.7,400.9" fill="none" stroke="#f9ca94" stroke-width="3.6"/>
<path d="M365.9,393.5 C368.4,393.1 376.2,392.6 380.8,391 C385.4,389.4 389.1,386.1 393.2,383.6 C397.3,381.1 401.9,378.1 405.6,376.1 C409.3,374.2 412.6,372.7 415.5,371.9 C418.4,371.1 420.5,370.9 423,371.2 C425.5,371.5 427.9,371.3 430.4,373.6 C432.9,375.9 435.3,380.9 437.8,384.8 C440.3,388.7 442.8,394.5 445.3,397.2 C447.8,399.9 451.5,400.3 452.7,400.9" fill="none" stroke="#f7a04a" stroke-width="1.8"/>
<path d="M277,446.5 C278.9,446.2 284.4,445.5 288.4,444.8 C292.4,444.1 296.7,443.3 300.8,442.3 C304.9,441.3 308.7,439.6 313.2,438.6 C317.7,437.6 323.6,436 327.7,436.1 C331.8,436.2 334.2,438 338,439.2 C341.8,440.4 346.3,442.5 350.4,443.4 C354.5,444.3 359.2,444.4 362.8,444.6 C366.4,444.8 368.2,445 372,444.5 C375.8,444 381.4,443.3 385.8,441.7 C390.2,440.1 394.5,437.8 398.2,434.8 C401.9,431.8 405.2,426.9 408.1,423.6 C411,420.3 413.6,416.6 415.5,415 C417.4,413.4 417.6,413.3 419.2,413.7 C420.8,414.1 423.1,414.3 425.4,417.4 C427.7,420.5 430.4,427.5 432.9,432.3 C435.4,437.1 437.8,442.9 440.3,446 C442.8,449.1 445.6,449.9 447.7,450.9 C449.8,451.9 449.8,451.8 452.7,452.2 C455.6,452.6 461.1,452.9 465,453.2 C468.9,453.5 474.2,454 476,454.1" fill="none" stroke="#84dea6" stroke-width="3.8"/>
<path d="M277,446.5 C278.9,446.2 284.4,445.5 288.4,444.8 C292.4,444.1 296.7,443.3 300.8,442.3 C304.9,441.3 308.7,439.6 313.2,438.6 C317.7,437.6 323.6,436 327.7,436.1 C331.8,436.2 334.2,438 338,439.2 C341.8,440.4 346.3,442.5 350.4,443.4 C354.5,444.3 359.2,444.4 362.8,444.6 C366.4,444.8 368.2,445 372,444.5 C375.8,444 381.4,443.3 385.8,441.7 C390.2,440.1 394.5,437.8 398.2,434.8 C401.9,431.8 405.2,426.9 408.1,423.6 C411,420.3 413.6,416.6 415.5,415 C417.4,413.4 417.6,413.3 419.2,413.7 C420.8,414.1 423.1,414.3 425.4,417.4 C427.7,420.5 430.4,427.5 432.9,432.3 C435.4,437.1 437.8,442.9 440.3,446 C442.8,449.1 445.6,449.9 447.7,450.9 C449.8,451.9 449.8,451.8 452.7,452.2 C455.6,452.6 461.1,452.9 465,453.2 C468.9,453.5 474.2,454 476,454.1" fill="none" stroke="#fff" stroke-width="1.1" stroke-opacity="0.8"/>
<path d="M362.8,444.4 L363.8,444.4 L364.8,444.4 L365.8,444.4 L366.8,444.4 L367.8,444.4 L368.8,444.4 L369.8,444.4 L370.8,444.4 L371.8,444.3 L372.8,444.3 L373.8,444.3 L374.8,444.2 L375.8,444.1 L376.8,444 L377.8,443.9 L378.8,443.8 L379.8,443.7 L380.8,443.5 L381.8,443.4 L382.8,443.2 L383.8,442.9 L384.8,442.6 L385.8,442.3 L386.8,442 L387.8,441.6 L388.8,441.1 L389.8,440.7 L390.8,440.2 L391.8,439.6 L392.8,439.1 L393.8,438.6 L394.8,438 L395.8,437.5 L396.8,437.1 L397.8,436.7 L398.8,436.4 L399.8,436.1 L400.8,436 L401.8,436 L402.8,436.1 L403.8,436.3 L404.8,436.6 L405.8,437 L406.8,437.4 L407.8,438 L408.8,438.6 L409.8,439.3 L410.8,440 L411.8,440.8 L412.8,441.5 L413.8,442.3 L414.8,443 L415.8,443.7 L416.8,444.3 L417.8,444.9 L418.8,445.5 L419.8,446 L420.8,446.5 L421.8,446.9 L422.8,447.3 L423.8,447.6 L424.8,447.9 L425.8,448.1 L426.8,448.4 L427.8,448.5 L428.8,448.7 L429.8,448.7 L430.8,448.8 L431.8,448.9 L432.8,449 L433.8,449.1 L434.8,449.2 L435.8,449.4 L436.8,449.5 L437.8,449.7 L438.8,449.9 L439.8,450.1 L440.8,450.3 L441.8,450.5 L442.8,450.7 L443.8,450.9 L444.8,451.1 L445.8,451.2 L446.8,451.4 L447.8,451.5 L448.8,451.7 L449.8,451.8 L450.8,451.8 L451.8,451.9 L452.7,452 L451.7,452 L450.7,451.9 L449.7,451.9 L448.7,451.8 L447.7,451.6 L446.7,451.5 L445.7,451.3 L444.7,451.2 L443.7,451 L442.7,450.8 L441.7,450.6 L440.7,450.4 L439.7,450.3 L438.7,450.1 L437.7,449.9 L436.7,449.7 L435.7,449.6 L434.7,449.5 L433.7,449.4 L432.7,449.3 L431.7,449.2 L430.7,449.2 L429.7,449.2 L428.7,449.2 L427.7,449.1 L426.7,449 L425.7,449 L424.7,448.9 L423.7,448.8 L422.7,448.6 L421.7,448.5 L420.7,448.4 L419.7,448.2 L418.7,448.1 L417.7,447.9 L416.7,447.8 L415.7,447.6 L414.7,447.5 L413.7,447.3 L412.7,447.2 L411.7,447.1 L410.7,447 L409.7,446.9 L408.7,446.8 L407.7,446.8 L406.7,446.7 L405.7,446.7 L404.7,446.7 L403.7,446.7 L402.7,446.6 L401.7,446.6 L400.7,446.6 L399.7,446.5 L398.7,446.4 L397.7,446.4 L396.7,446.3 L395.7,446.2 L394.7,446.1 L393.7,446 L392.7,445.9 L391.7,445.8 L390.7,445.7 L389.7,445.6 L388.7,445.5 L387.7,445.4 L386.7,445.3 L385.7,445.2 L384.7,445.1 L383.7,445 L382.7,445 L381.7,444.9 L380.7,444.8 L379.7,444.8 L378.7,444.8 L377.7,444.7 L376.7,444.7 L375.7,444.7 L374.7,444.7 L373.7,444.7 L372.7,444.7 L371.7,444.7 L370.7,444.7 L369.7,444.7 L368.7,444.6 L367.7,444.6 L366.7,444.6 L365.7,444.6 L364.7,444.6 L363.7,444.6 Z" fill="#cfdcf6" fill-opacity="0.85" stroke="none"/>
<path d="M362.8,444.5 L363.8,444.5 L364.8,444.5 L365.8,444.5 L366.8,444.5 L367.8,444.5 L368.8,444.5 L369.8,444.5 L370.8,444.5 L371.8,444.5 L372.8,444.5 L373.8,444.5 L374.8,444.5 L375.8,444.5 L376.8,444.5 L377.8,444.5 L378.8,444.5 L379.8,444.6 L380.8,444.6 L381.8,444.6 L382.8,444.7 L383.8,444.7 L384.8,444.8 L385.8,444.9 L386.8,444.9 L387.8,445 L388.8,445.1 L389.8,445.2 L390.8,445.2 L391.8,445.3 L392.8,445.3 L393.8,445.3 L394.8,445.3 L395.8,445.3 L396.8,445.2 L397.8,445 L398.8,444.8 L399.8,444.5 L400.8,444.1 L401.8,443.5 L402.8,442.8 L403.8,442 L404.8,441 L405.8,439.8 L406.8,438.4 L407.8,437 L408.8,435.4 L409.8,433.7 L410.8,432 L411.8,430.3 L412.8,428.7 L413.8,427.3 L414.8,426 L415.8,425.1 L416.8,424.5 L417.8,424.4 L418.8,424.7 L419.8,425.4 L420.8,426.5 L421.8,427.9 L422.8,429.5 L423.8,431.3 L424.8,433.2 L425.8,435.1 L426.8,436.9 L427.8,438.7 L428.8,440.3 L429.8,441.7 L430.8,443 L431.8,444.1 L432.8,445.1 L433.8,446 L434.8,446.8 L435.8,447.4 L436.8,448 L437.8,448.5 L438.8,448.9 L439.8,449.3 L440.8,449.6 L441.8,449.9 L442.8,450.2 L443.8,450.4 L444.8,450.7 L445.8,450.9 L446.8,451.1 L447.8,451.3 L448.8,451.4 L449.8,451.5 L450.8,451.6 L451.8,451.7 L452.7,452 L451.7,452 L450.7,451.9 L449.7,451.9 L448.7,451.8 L447.7,451.6 L446.7,451.5 L445.7,451.3 L444.7,451.2 L443.7,451 L442.7,450.8 L441.7,450.6 L440.7,450.4 L439.7,450.3 L438.7,450.1 L437.7,449.9 L436.7,449.7 L435.7,449.6 L434.7,449.5 L433.7,449.4 L432.7,449.3 L431.7,449.2 L430.7,449.2 L429.7,449.2 L428.7,449.2 L427.7,449.1 L426.7,449 L425.7,449 L424.7,448.9 L423.7,448.8 L422.7,448.6 L421.7,448.5 L420.7,448.4 L419.7,448.2 L418.7,448.1 L417.7,447.9 L416.7,447.8 L415.7,447.6 L414.7,447.5 L413.7,447.3 L412.7,447.2 L411.7,447.1 L410.7,447 L409.7,446.9 L408.7,446.8 L407.7,446.8 L406.7,446.7 L405.7,446.7 L404.7,446.7 L403.7,446.7 L402.7,446.6 L401.7,446.6 L400.7,446.6 L399.7,446.5 L398.7,446.4 L397.7,446.4 L396.7,446.3 L395.7,446.2 L394.7,446.1 L393.7,446 L392.7,445.9 L391.7,445.8 L390.7,445.7 L389.7,445.6 L388.7,445.5 L387.7,445.4 L386.7,445.3 L385.7,445.2 L384.7,445.1 L383.7,445 L382.7,445 L381.7,444.9 L380.7,444.8 L379.7,444.8 L378.7,444.8 L377.7,444.7 L376.7,444.7 L375.7,444.7 L374.7,444.7 L373.7,444.7 L372.7,444.7 L371.7,444.7 L370.7,444.7 L369.7,444.7 L368.7,444.6 L367.7,444.6 L366.7,444.6 L365.7,444.6 L364.7,444.6 L363.7,444.6 Z" fill="#f6d0f2" fill-opacity="0.85" stroke="none"/>
<path d="M393.9,445.9 L394.9,446 L395.9,446.1 L396.9,446.2 L397.9,446.3 L398.9,446.3 L399.9,446.4 L400.9,446.4 L401.9,446.5 L402.9,446.5 L403.9,446.5 L404.9,446.5 L405.9,446.5 L406.9,446.5 L407.9,446.5 L408.9,446.6 L409.9,446.6 L410.9,446.6 L411.9,446.6 L412.9,446.6 L413.9,446.5 L414.9,446.4 L415.9,446.2 L416.9,445.9 L417.9,445.5 L418.9,445 L419.9,444.4 L420.9,443.7 L421.9,443 L422.9,442.2 L423.9,441.4 L424.9,440.7 L425.9,440.2 L426.9,439.9 L427.9,439.8 L428.9,440 L429.9,440.4 L430.9,441.1 L431.9,441.9 L432.9,442.8 L433.9,443.8 L434.9,444.8 L435.9,445.8 L436.9,446.7 L437.9,447.5 L438.9,448.2 L439.9,448.8 L440.9,449.4 L441.9,449.8 L442.9,450.2 L443.9,450.5 L444.9,450.8 L445.9,451.1 L446.9,451.3 L447.9,451.4 L448.9,451.6 L449.9,451.7 L450.9,451.8 L451.9,451.8 L452.7,452 L451.7,452 L450.7,451.9 L449.7,451.9 L448.7,451.8 L447.7,451.6 L446.7,451.5 L445.7,451.3 L444.7,451.2 L443.7,451 L442.7,450.8 L441.7,450.6 L440.7,450.4 L439.7,450.3 L438.7,450.1 L437.7,449.9 L436.7,449.7 L435.7,449.6 L434.7,449.5 L433.7,449.4 L432.7,449.3 L431.7,449.2 L430.7,449.2 L429.7,449.2 L428.7,449.2 L427.7,449.1 L426.7,449 L425.7,449 L424.7,448.9 L423.7,448.8 L422.7,448.6 L421.7,448.5 L420.7,448.4 L419.7,448.2 L418.7,448.1 L417.7,447.9 L416.7,447.8 L415.7,447.6 L414.7,447.5 L413.7,447.3 L412.7,447.2 L411.7,447.1 L410.7,447 L409.7,446.9 L408.7,446.8 L407.7,446.8 L406.7,446.7 L405.7,446.7 L404.7,446.7 L403.7,446.7 L402.7,446.6 L401.7,446.6 L400.7,446.6 L399.7,446.5 L398.7,446.4 L397.7,446.4 L396.7,446.3 L395.7,446.2 L394.7,446.1 Z" fill="#c9ecef" fill-opacity="0.85" stroke="none"/>
<path d="M362.8,444.4 L363.8,444.4 L364.8,444.4 L365.8,444.4 L366.8,444.4 L367.8,444.4 L368.8,444.4 L369.8,444.4 L370.8,444.4 L371.8,444.3 L372.8,444.3 L373.8,444.3 L374.8,444.2 L375.8,444.1 L376.8,444 L377.8,443.9 L378.8,443.8 L379.8,443.7 L380.8,443.5 L381.8,443.4 L382.8,443.2 L383.8,442.9 L384.8,442.6 L385.8,442.3 L386.8,442 L387.8,441.6 L388.8,441.1 L389.8,440.7 L390.8,440.2 L391.8,439.6 L392.8,439.1 L393.8,438.6 L394.8,438 L395.8,437.5 L396.8,437.1 L397.8,436.7 L398.8,436.4 L399.8,436.1 L400.8,436 L401.8,436 L402.8,436.1 L403.8,436.3 L404.8,436.6 L405.8,437 L406.8,437.4 L407.8,438 L408.8,438.6 L409.8,439.3 L410.8,440 L411.8,440.8 L412.8,441.5 L413.8,442.3 L414.8,443 L415.8,443.7 L416.8,444.3 L417.8,444.9 L418.8,445.5 L419.8,446 L420.8,446.5 L421.8,446.9 L422.8,447.3 L423.8,447.6 L424.8,447.9 L425.8,448.1 L426.8,448.4 L427.8,448.5 L428.8,448.7 L429.8,448.7 L430.8,448.8 L431.8,448.9 L432.8,449 L433.8,449.1 L434.8,449.2 L435.8,449.4 L436.8,449.5 L437.8,449.7 L438.8,449.9 L439.8,450.1 L440.8,450.3 L441.8,450.5 L442.8,450.7 L443.8,450.9 L444.8,451.1 L445.8,451.2 L446.8,451.4 L447.8,451.5 L448.8,451.7 L449.8,451.8 L450.8,451.8 L451.8,451.9" fill="none" stroke="#8fb0ea" stroke-width="1.4"/>
<path d="M362.8,444.5 L363.8,444.5 L364.8,444.5 L365.8,444.5 L366.8,444.5 L367.8,444.5 L368.8,444.5 L369.8,444.5 L370.8,444.5 L371.8,444.5 L372.8,444.5 L373.8,444.5 L374.8,444.5 L375.8,444.5 L376.8,444.5 L377.8,444.5 L378.8,444.5 L379.8,444.6 L380.8,444.6 L381.8,444.6 L382.8,444.7 L383.8,444.7 L384.8,444.8 L385.8,444.9 L386.8,444.9 L387.8,445 L388.8,445.1 L389.8,445.2 L390.8,445.2 L391.8,445.3 L392.8,445.3 L393.8,445.3 L394.8,445.3 L395.8,445.3 L396.8,445.2 L397.8,445 L398.8,444.8 L399.8,444.5 L400.8,444.1 L401.8,443.5 L402.8,442.8 L403.8,442 L404.8,441 L405.8,439.8 L406.8,438.4 L407.8,437 L408.8,435.4 L409.8,433.7 L410.8,432 L411.8,430.3 L412.8,428.7 L413.8,427.3 L414.8,426 L415.8,425.1 L416.8,424.5 L417.8,424.4 L418.8,424.7 L419.8,425.4 L420.8,426.5 L421.8,427.9 L422.8,429.5 L423.8,431.3 L424.8,433.2 L425.8,435.1 L426.8,436.9 L427.8,438.7 L428.8,440.3 L429.8,441.7 L430.8,443 L431.8,444.1 L432.8,445.1 L433.8,446 L434.8,446.8 L435.8,447.4 L436.8,448 L437.8,448.5 L438.8,448.9 L439.8,449.3 L440.8,449.6 L441.8,449.9 L442.8,450.2 L443.8,450.4 L444.8,450.7 L445.8,450.9 L446.8,451.1 L447.8,451.3 L448.8,451.4 L449.8,451.5 L450.8,451.6 L451.8,451.7" fill="none" stroke="#ee5fdc" stroke-width="1.4"/>
<path d="M393.9,445.9 L394.9,446 L395.9,446.1 L396.9,446.2 L397.9,446.3 L398.9,446.3 L399.9,446.4 L400.9,446.4 L401.9,446.5 L402.9,446.5 L403.9,446.5 L404.9,446.5 L405.9,446.5 L406.9,446.5 L407.9,446.5 L408.9,446.6 L409.9,446.6 L410.9,446.6 L411.9,446.6 L412.9,446.6 L413.9,446.5 L414.9,446.4 L415.9,446.2 L416.9,445.9 L417.9,445.5 L418.9,445 L419.9,444.4 L420.9,443.7 L421.9,443 L422.9,442.2 L423.9,441.4 L424.9,440.7 L425.9,440.2 L426.9,439.9 L427.9,439.8 L428.9,440 L429.9,440.4 L430.9,441.1 L431.9,441.9 L432.9,442.8 L433.9,443.8 L434.9,444.8 L435.9,445.8 L436.9,446.7 L437.9,447.5 L438.9,448.2 L439.9,448.8 L440.9,449.4 L441.9,449.8 L442.9,450.2 L443.9,450.5 L444.9,450.8 L445.9,451.1 L446.9,451.3 L447.9,451.4 L448.9,451.6 L449.9,451.7 L450.9,451.8 L451.9,451.8" fill="none" stroke="#22b8c8" stroke-width="1.4"/>
<path d="M362.8,444.6 L364.8,444.6 L366.8,444.6 L368.8,444.6 L370.8,444.7 L372.8,444.7 L374.8,444.7 L376.8,444.7 L378.8,444.8 L380.8,444.9 L382.8,445 L384.8,445.1 L386.8,445.3 L388.8,445.5 L390.8,445.7 L392.8,445.9 L394.8,446.1 L396.8,446.3 L398.8,446.4 L400.8,446.6 L402.8,446.7 L404.8,446.7 L406.8,446.7 L408.8,446.8 L410.8,447 L412.8,447.2 L414.8,447.5 L416.8,447.8 L418.8,448.1 L420.8,448.4 L422.8,448.6 L424.8,448.9 L426.8,449.1 L428.8,449.2 L430.8,449.2 L432.8,449.3 L434.8,449.5 L436.8,449.8 L438.8,450.1 L440.8,450.5 L442.8,450.8 L444.8,451.2 L446.8,451.5 L448.8,451.8 L450.8,451.9" fill="none" stroke="#4a4a5a" stroke-width="1.0"/>
<path d="M362.8,444.6 C364.3,444.6 368.2,445 372,444.5 C375.8,444 381.4,443.3 385.8,441.7 C390.2,440.1 394.5,437.8 398.2,434.8 C401.9,431.8 405.2,426.9 408.1,423.6 C411,420.3 413.6,416.6 415.5,415 C417.4,413.4 417.6,413.3 419.2,413.7 C420.8,414.1 423.1,414.3 425.4,417.4 C427.7,420.5 430.4,427.5 432.9,432.3 C435.4,437.1 437.8,442.9 440.3,446 C442.8,449.1 445.6,449.9 447.7,450.9 C449.8,451.9 451.9,452 452.7,452.2" fill="none" stroke="#84dea6" stroke-width="3.6"/>
<path d="M362.8,444.6 C364.3,444.6 368.2,445 372,444.5 C375.8,444 381.4,443.3 385.8,441.7 C390.2,440.1 394.5,437.8 398.2,434.8 C401.9,431.8 405.2,426.9 408.1,423.6 C411,420.3 413.6,416.6 415.5,415 C417.4,413.4 417.6,413.3 419.2,413.7 C420.8,414.1 423.1,414.3 425.4,417.4 C427.7,420.5 430.4,427.5 432.9,432.3 C435.4,437.1 437.8,442.9 440.3,446 C442.8,449.1 445.6,449.9 447.7,450.9 C449.8,451.9 451.9,452 452.7,452.2" fill="none" stroke="#20c75a" stroke-width="1.8"/>
<path d="M277,493.4 C278.9,493.1 284.1,492.2 288.4,491.4 C292.7,490.6 298.4,489.8 302.9,488.7 C307.4,487.6 310.8,485.6 315.3,484.6 C319.8,483.6 325.6,482.5 329.7,482.5 C333.8,482.5 336.2,483.6 340,484.6 C343.8,485.6 348.6,487.8 352.4,488.7 C356.2,489.6 359.7,489.9 362.8,490 C365.9,490.1 368,489.9 371,489.6 C374,489.4 377.1,489.4 380.8,488.5 C384.5,487.6 389.1,486.6 393.2,484.3 C397.3,482 401.9,478 405.6,474.8 C409.3,471.6 412.2,467.7 415.5,464.9 C418.8,462.1 422.9,458.8 425.4,458 C427.9,457.2 428.3,456.8 430.4,460 C432.5,463.2 435.3,471.9 437.8,477.3 C440.3,482.7 442.8,489 445.3,492.2 C447.8,495.4 449.4,495.7 452.7,496.7 C456,497.7 461.1,497.7 465,498.2 C468.9,498.7 474.2,499.4 476,499.6" fill="none" stroke="#88cbf0" stroke-width="3.8"/>
<path d="M277,493.4 C278.9,493.1 284.1,492.2 288.4,491.4 C292.7,490.6 298.4,489.8 302.9,488.7 C307.4,487.6 310.8,485.6 315.3,484.6 C319.8,483.6 325.6,482.5 329.7,482.5 C333.8,482.5 336.2,483.6 340,484.6 C343.8,485.6 348.6,487.8 352.4,488.7 C356.2,489.6 359.7,489.9 362.8,490 C365.9,490.1 368,489.9 371,489.6 C374,489.4 377.1,489.4 380.8,488.5 C384.5,487.6 389.1,486.6 393.2,484.3 C397.3,482 401.9,478 405.6,474.8 C409.3,471.6 412.2,467.7 415.5,464.9 C418.8,462.1 422.9,458.8 425.4,458 C427.9,457.2 428.3,456.8 430.4,460 C432.5,463.2 435.3,471.9 437.8,477.3 C440.3,482.7 442.8,489 445.3,492.2 C447.8,495.4 449.4,495.7 452.7,496.7 C456,497.7 461.1,497.7 465,498.2 C468.9,498.7 474.2,499.4 476,499.6" fill="none" stroke="#fff" stroke-width="1.1" stroke-opacity="0.8"/>
<path d="M362.8,489.9 L363.8,489.9 L364.8,489.9 L365.8,489.9 L366.8,489.9 L367.8,489.9 L368.8,489.9 L369.8,489.9 L370.8,489.9 L371.8,489.8 L372.8,489.8 L373.8,489.8 L374.8,489.8 L375.8,489.8 L376.8,489.7 L377.8,489.7 L378.8,489.6 L379.8,489.6 L380.8,489.5 L381.8,489.5 L382.8,489.4 L383.8,489.3 L384.8,489.3 L385.8,489.2 L386.8,489 L387.8,488.9 L388.8,488.7 L389.8,488.6 L390.8,488.3 L391.8,488.1 L392.8,487.9 L393.8,487.6 L394.8,487.3 L395.8,487.1 L396.8,486.8 L397.8,486.6 L398.8,486.4 L399.8,486.2 L400.8,486.1 L401.8,486 L402.8,486 L403.8,486 L404.8,486.2 L405.8,486.3 L406.8,486.6 L407.8,486.9 L408.8,487.3 L409.8,487.7 L410.8,488.2 L411.8,488.6 L412.8,489.1 L413.8,489.7 L414.8,490.2 L415.8,490.6 L416.8,491.1 L417.8,491.6 L418.8,492 L419.8,492.4 L420.8,492.7 L421.8,493 L422.8,493.3 L423.8,493.6 L424.8,493.8 L425.8,494 L426.8,494.1 L427.8,494.3 L428.8,494.4 L429.8,494.4 L430.8,494.5 L431.8,494.5 L432.8,494.6 L433.8,494.7 L434.8,494.8 L435.8,494.9 L436.8,495 L437.8,495.1 L438.8,495.2 L439.8,495.4 L440.8,495.5 L441.8,495.6 L442.8,495.8 L443.8,495.9 L444.8,496 L445.1,496.2 L444.1,496 L443.1,495.9 L442.1,495.8 L441.1,495.6 L440.1,495.5 L439.1,495.4 L438.1,495.3 L437.1,495.1 L436.1,495 L435.1,494.9 L434.1,494.8 L433.1,494.8 L432.1,494.7 L431.1,494.7 L430.1,494.7 L429.1,494.7 L428.1,494.6 L427.1,494.6 L426.1,494.5 L425.1,494.4 L424.1,494.3 L423.1,494.2 L422.1,494 L421.1,493.9 L420.1,493.8 L419.1,493.6 L418.1,493.5 L417.1,493.3 L416.1,493.2 L415.1,493 L414.1,492.9 L413.1,492.7 L412.1,492.6 L411.1,492.5 L410.1,492.4 L409.1,492.3 L408.1,492.3 L407.1,492.2 L406.1,492.2 L405.1,492.2 L404.1,492.2 L403.1,492.1 L402.1,492.1 L401.1,492 L400.1,492 L399.1,491.9 L398.1,491.8 L397.1,491.7 L396.1,491.6 L395.1,491.5 L394.1,491.4 L393.1,491.2 L392.1,491.1 L391.1,491 L390.1,490.9 L389.1,490.8 L388.1,490.6 L387.1,490.5 L386.1,490.4 L385.1,490.3 L384.1,490.3 L383.1,490.2 L382.1,490.1 L381.1,490.1 L380.1,490 L379.1,490 L378.1,490 L377.1,490 L376.1,490 L375.1,490 L374.1,490 L373.1,490 L372.1,490 L371.1,490 L370.1,490 L369.1,490 L368.1,490 L367.1,490 L366.1,490 L365.1,490 L364.1,490 L363.1,490 Z" fill="#cfdcf6" fill-opacity="0.85" stroke="none"/>
<path d="M362.8,489.9 L363.8,489.9 L364.8,489.9 L365.8,489.9 L366.8,489.9 L367.8,489.9 L368.8,489.9 L369.8,489.9 L370.8,489.9 L371.8,489.9 L372.8,489.9 L373.8,489.8 L374.8,489.8 L375.8,489.8 L376.8,489.8 L377.8,489.8 L378.8,489.8 L379.8,489.8 L380.8,489.8 L381.8,489.9 L382.8,489.9 L383.8,490 L384.8,490 L385.8,490.1 L386.8,490.2 L387.8,490.3 L388.8,490.4 L389.8,490.4 L390.8,490.5 L391.8,490.6 L392.8,490.6 L393.8,490.6 L394.8,490.6 L395.8,490.6 L396.8,490.5 L397.8,490.4 L398.8,490.2 L399.8,490 L400.8,489.6 L401.8,489.2 L402.8,488.7 L403.8,488 L404.8,487.3 L405.8,486.5 L406.8,485.6 L407.8,484.6 L408.8,483.7 L409.8,482.7 L410.8,481.7 L411.8,480.7 L412.8,479.9 L413.8,479.1 L414.8,478.5 L415.8,478 L416.8,477.8 L417.8,477.8 L418.8,478 L419.8,478.4 L420.8,479.1 L421.8,479.9 L422.8,480.9 L423.8,482 L424.8,483.1 L425.8,484.3 L426.8,485.5 L427.8,486.6 L428.8,487.6 L429.8,488.6 L430.8,489.5 L431.8,490.3 L432.8,491 L433.8,491.7 L434.8,492.3 L435.8,492.9 L436.8,493.3 L437.8,493.8 L438.8,494.1 L439.8,494.5 L440.8,494.8 L441.8,495 L442.8,495.3 L443.8,495.5 L444.8,495.7 L445.8,495.8 L446.8,496 L447.8,496.1 L448.8,496.2 L449.8,496.3 L450.8,496.4 L451.8,496.4 L452.7,496.7 L451.7,496.7 L450.7,496.7 L449.7,496.6 L448.7,496.5 L447.7,496.4 L446.7,496.3 L445.7,496.2 L444.7,496.1 L443.7,496 L442.7,495.9 L441.7,495.7 L440.7,495.6 L439.7,495.5 L438.7,495.3 L437.7,495.2 L436.7,495.1 L435.7,495 L434.7,494.9 L433.7,494.8 L432.7,494.8 L431.7,494.7 L430.7,494.7 L429.7,494.7 L428.7,494.7 L427.7,494.6 L426.7,494.5 L425.7,494.5 L424.7,494.4 L423.7,494.3 L422.7,494.1 L421.7,494 L420.7,493.9 L419.7,493.7 L418.7,493.6 L417.7,493.4 L416.7,493.3 L415.7,493.1 L414.7,493 L413.7,492.8 L412.7,492.7 L411.7,492.6 L410.7,492.5 L409.7,492.4 L408.7,492.3 L407.7,492.3 L406.7,492.2 L405.7,492.2 L404.7,492.2 L403.7,492.2 L402.7,492.1 L401.7,492.1 L400.7,492 L399.7,491.9 L398.7,491.8 L397.7,491.8 L396.7,491.7 L395.7,491.5 L394.7,491.4 L393.7,491.3 L392.7,491.2 L391.7,491.1 L390.7,490.9 L389.7,490.8 L388.7,490.7 L387.7,490.6 L386.7,490.5 L385.7,490.4 L384.7,490.3 L383.7,490.2 L382.7,490.2 L381.7,490.1 L380.7,490 L379.7,490 L378.7,490 L377.7,490 L376.7,490 L375.7,490 L374.7,490 L373.7,490 L372.7,490 L371.7,490 L370.7,490 L369.7,490 L368.7,490 L367.7,490 L366.7,490 L365.7,490 L364.7,490 L363.7,490 Z" fill="#f6d0f2" fill-opacity="0.85" stroke="none"/>
<path d="M367.1,489.9 L368.1,489.9 L369.1,489.9 L370.1,489.9 L371.1,489.9 L372.1,489.9 L373.1,489.9 L374.1,489.9 L375.1,489.9 L376.1,489.9 L377.1,489.9 L378.1,489.9 L379.1,489.9 L380.1,489.9 L381.1,489.9 L382.1,490 L383.1,490 L384.1,490.1 L385.1,490.2 L386.1,490.3 L387.1,490.4 L388.1,490.5 L389.1,490.6 L390.1,490.7 L391.1,490.8 L392.1,490.9 L393.1,491 L394.1,491.1 L395.1,491.2 L396.1,491.3 L397.1,491.4 L398.1,491.5 L399.1,491.6 L400.1,491.6 L401.1,491.7 L402.1,491.7 L403.1,491.7 L404.1,491.7 L405.1,491.7 L406.1,491.6 L407.1,491.6 L408.1,491.5 L409.1,491.4 L410.1,491.3 L411.1,491.1 L412.1,490.9 L413.1,490.6 L414.1,490.1 L415.1,489.5 L416.1,488.7 L417.1,487.7 L418.1,486.5 L419.1,485.1 L420.1,483.5 L421.1,481.8 L422.1,479.9 L423.1,477.9 L424.1,476 L425.1,474.2 L426.1,472.6 L427.1,471.4 L428.1,470.6 L429.1,470.4 L430.1,470.7 L431.1,471.5 L432.1,472.9 L433.1,474.6 L434.1,476.5 L435.1,478.7 L436.1,480.8 L437.1,483 L438.1,485 L439.1,486.9 L440.1,488.6 L441.1,490.1 L442.1,491.3 L443.1,492.4 L444.1,493.3 L445.1,494 L446.1,494.5 L447.1,495 L448.1,495.4 L449.1,495.6 L450.1,495.8 L451.1,496 L452.1,496.1 L452.7,496.7 L451.7,496.7 L450.7,496.7 L449.7,496.6 L448.7,496.5 L447.7,496.4 L446.7,496.3 L445.7,496.2 L444.7,496.1 L443.7,496 L442.7,495.9 L441.7,495.7 L440.7,495.6 L439.7,495.5 L438.7,495.3 L437.7,495.2 L436.7,495.1 L435.7,495 L434.7,494.9 L433.7,494.8 L432.7,494.8 L431.7,494.7 L430.7,494.7 L429.7,494.7 L428.7,494.7 L427.7,494.6 L426.7,494.5 L425.7,494.5 L424.7,494.4 L423.7,494.3 L422.7,494.1 L421.7,494 L420.7,493.9 L419.7,493.7 L418.7,493.6 L417.7,493.4 L416.7,493.3 L415.7,493.1 L414.7,493 L413.7,492.8 L412.7,492.7 L411.7,492.6 L410.7,492.5 L409.7,492.4 L408.7,492.3 L407.7,492.3 L406.7,492.2 L405.7,492.2 L404.7,492.2 L403.7,492.2 L402.7,492.1 L401.7,492.1 L400.7,492 L399.7,491.9 L398.7,491.8 L397.7,491.8 L396.7,491.7 L395.7,491.5 L394.7,491.4 L393.7,491.3 L392.7,491.2 L391.7,491.1 L390.7,490.9 L389.7,490.8 L388.7,490.7 L387.7,490.6 L386.7,490.5 L385.7,490.4 L384.7,490.3 L383.7,490.2 L382.7,490.2 L381.7,490.1 L380.7,490 L379.7,490 L378.7,490 L377.7,490 L376.7,490 L375.7,490 L374.7,490 L373.7,490 L372.7,490 L371.7,490 L370.7,490 L369.7,490 L368.7,490 L367.7,490 Z" fill="#c9ecef" fill-opacity="0.85" stroke="none"/>
<path d="M362.8,489.9 L363.8,489.9 L364.8,489.9 L365.8,489.9 L366.8,489.9 L367.8,489.9 L368.8,489.9 L369.8,489.9 L370.8,489.9 L371.8,489.8 L372.8,489.8 L373.8,489.8 L374.8,489.8 L375.8,489.8 L376.8,489.7 L377.8,489.7 L378.8,489.6 L379.8,489.6 L380.8,489.5 L381.8,489.5 L382.8,489.4 L383.8,489.3 L384.8,489.3 L385.8,489.2 L386.8,489 L387.8,488.9 L388.8,488.7 L389.8,488.6 L390.8,488.3 L391.8,488.1 L392.8,487.9 L393.8,487.6 L394.8,487.3 L395.8,487.1 L396.8,486.8 L397.8,486.6 L398.8,486.4 L399.8,486.2 L400.8,486.1 L401.8,486 L402.8,486 L403.8,486 L404.8,486.2 L405.8,486.3 L406.8,486.6 L407.8,486.9 L408.8,487.3 L409.8,487.7 L410.8,488.2 L411.8,488.6 L412.8,489.1 L413.8,489.7 L414.8,490.2 L415.8,490.6 L416.8,491.1 L417.8,491.6 L418.8,492 L419.8,492.4 L420.8,492.7 L421.8,493 L422.8,493.3 L423.8,493.6 L424.8,493.8 L425.8,494 L426.8,494.1 L427.8,494.3 L428.8,494.4 L429.8,494.4 L430.8,494.5 L431.8,494.5 L432.8,494.6 L433.8,494.7 L434.8,494.8 L435.8,494.9 L436.8,495 L437.8,495.1 L438.8,495.2 L439.8,495.4 L440.8,495.5 L441.8,495.6 L442.8,495.8 L443.8,495.9 L444.8,496" fill="none" stroke="#8fb0ea" stroke-width="1.4"/>
<path d="M362.8,489.9 L363.8,489.9 L364.8,489.9 L365.8,489.9 L366.8,489.9 L367.8,489.9 L368.8,489.9 L369.8,489.9 L370.8,489.9 L371.8,489.9 L372.8,489.9 L373.8,489.8 L374.8,489.8 L375.8,489.8 L376.8,489.8 L377.8,489.8 L378.8,489.8 L379.8,489.8 L380.8,489.8 L381.8,489.9 L382.8,489.9 L383.8,490 L384.8,490 L385.8,490.1 L386.8,490.2 L387.8,490.3 L388.8,490.4 L389.8,490.4 L390.8,490.5 L391.8,490.6 L392.8,490.6 L393.8,490.6 L394.8,490.6 L395.8,490.6 L396.8,490.5 L397.8,490.4 L398.8,490.2 L399.8,490 L400.8,489.6 L401.8,489.2 L402.8,488.7 L403.8,488 L404.8,487.3 L405.8,486.5 L406.8,485.6 L407.8,484.6 L408.8,483.7 L409.8,482.7 L410.8,481.7 L411.8,480.7 L412.8,479.9 L413.8,479.1 L414.8,478.5 L415.8,478 L416.8,477.8 L417.8,477.8 L418.8,478 L419.8,478.4 L420.8,479.1 L421.8,479.9 L422.8,480.9 L423.8,482 L424.8,483.1 L425.8,484.3 L426.8,485.5 L427.8,486.6 L428.8,487.6 L429.8,488.6 L430.8,489.5 L431.8,490.3 L432.8,491 L433.8,491.7 L434.8,492.3 L435.8,492.9 L436.8,493.3 L437.8,493.8 L438.8,494.1 L439.8,494.5 L440.8,494.8 L441.8,495 L442.8,495.3 L443.8,495.5 L444.8,495.7 L445.8,495.8 L446.8,496 L447.8,496.1 L448.8,496.2 L449.8,496.3 L450.8,496.4 L451.8,496.4" fill="none" stroke="#ee5fdc" stroke-width="1.4"/>
<path d="M367.1,489.9 L368.1,489.9 L369.1,489.9 L370.1,489.9 L371.1,489.9 L372.1,489.9 L373.1,489.9 L374.1,489.9 L375.1,489.9 L376.1,489.9 L377.1,489.9 L378.1,489.9 L379.1,489.9 L380.1,489.9 L381.1,489.9 L382.1,490 L383.1,490 L384.1,490.1 L385.1,490.2 L386.1,490.3 L387.1,490.4 L388.1,490.5 L389.1,490.6 L390.1,490.7 L391.1,490.8 L392.1,490.9 L393.1,491 L394.1,491.1 L395.1,491.2 L396.1,491.3 L397.1,491.4 L398.1,491.5 L399.1,491.6 L400.1,491.6 L401.1,491.7 L402.1,491.7 L403.1,491.7 L404.1,491.7 L405.1,491.7 L406.1,491.6 L407.1,491.6 L408.1,491.5 L409.1,491.4 L410.1,491.3 L411.1,491.1 L412.1,490.9 L413.1,490.6 L414.1,490.1 L415.1,489.5 L416.1,488.7 L417.1,487.7 L418.1,486.5 L419.1,485.1 L420.1,483.5 L421.1,481.8 L422.1,479.9 L423.1,477.9 L424.1,476 L425.1,474.2 L426.1,472.6 L427.1,471.4 L428.1,470.6 L429.1,470.4 L430.1,470.7 L431.1,471.5 L432.1,472.9 L433.1,474.6 L434.1,476.5 L435.1,478.7 L436.1,480.8 L437.1,483 L438.1,485 L439.1,486.9 L440.1,488.6 L441.1,490.1 L442.1,491.3 L443.1,492.4 L444.1,493.3 L445.1,494 L446.1,494.5 L447.1,495 L448.1,495.4 L449.1,495.6 L450.1,495.8 L451.1,496 L452.1,496.1" fill="none" stroke="#22b8c8" stroke-width="1.4"/>
<path d="M362.8,490 L364.8,490 L366.8,490 L368.8,490 L370.8,490 L372.8,490 L374.8,490 L376.8,490 L378.8,490 L380.8,490.1 L382.8,490.2 L384.8,490.3 L386.8,490.5 L388.8,490.7 L390.8,491 L392.8,491.2 L394.8,491.4 L396.8,491.7 L398.8,491.9 L400.8,492 L402.8,492.1 L404.8,492.2 L406.8,492.2 L408.8,492.3 L410.8,492.5 L412.8,492.7 L414.8,493 L416.8,493.3 L418.8,493.6 L420.8,493.9 L422.8,494.1 L424.8,494.4 L426.8,494.6 L428.8,494.7 L430.8,494.7 L432.8,494.8 L434.8,494.9 L436.8,495.1 L438.8,495.3 L440.8,495.6 L442.8,495.9 L444.8,496.1 L446.8,496.4 L448.8,496.5 L450.8,496.7" fill="none" stroke="#4a4a5a" stroke-width="1.0"/>
<path d="M362.8,490 C364.2,489.9 368,489.9 371,489.6 C374,489.4 377.1,489.4 380.8,488.5 C384.5,487.6 389.1,486.6 393.2,484.3 C397.3,482 401.9,478 405.6,474.8 C409.3,471.6 412.2,467.7 415.5,464.9 C418.8,462.1 422.9,458.8 425.4,458 C427.9,457.2 428.3,456.8 430.4,460 C432.5,463.2 435.3,471.9 437.8,477.3 C440.3,482.7 442.8,489 445.3,492.2 C447.8,495.4 451.5,495.9 452.7,496.7" fill="none" stroke="#88cbf0" stroke-width="3.6"/>
<path d="M362.8,490 C364.2,489.9 368,489.9 371,489.6 C374,489.4 377.1,489.4 380.8,488.5 C384.5,487.6 389.1,486.6 393.2,484.3 C397.3,482 401.9,478 405.6,474.8 C409.3,471.6 412.2,467.7 415.5,464.9 C418.8,462.1 422.9,458.8 425.4,458 C427.9,457.2 428.3,456.8 430.4,460 C432.5,463.2 435.3,471.9 437.8,477.3 C440.3,482.7 442.8,489 445.3,492.2 C447.8,495.4 451.5,495.9 452.7,496.7" fill="none" stroke="#25a6e0" stroke-width="1.8"/>
<text x="279.6" y="358.2" font-size="7.7" text-anchor="start" font-family="Liberation Sans, sans-serif" font-weight="bold" fill="#a262d2" stroke="#a262d2" stroke-width="0.1" >LNMO_80</text>
<text x="279.6" y="408.2" font-size="7.7" text-anchor="start" font-family="Liberation Sans, sans-serif" font-weight="bold" fill="#f7a04a" stroke="#f7a04a" stroke-width="0.1" >LNMO_110</text>
<text x="279.6" y="458.5" font-size="7.7" text-anchor="start" font-family="Liberation Sans, sans-serif" font-weight="bold" fill="#20c75a" stroke="#20c75a" stroke-width="0.1" >LNMO_140</text>
<text x="279.6" y="504.4" font-size="7.7" text-anchor="start" font-family="Liberation Sans, sans-serif" font-weight="bold" fill="#25a6e0" stroke="#25a6e0" stroke-width="0.1" >LNMO_170</text>
<text x="330" y="329.3" font-size="7.5" text-anchor="middle" font-family="Liberation Sans, sans-serif" font-weight="bold" fill="#111" stroke="#111" stroke-width="0.25" >Satellite</text>
<rect x="280.8" y="297.3" width="17.2" height="8.8" fill="#d3e2f8" stroke="#a9c6f0" stroke-width="0.9"/>
<text x="300.6" y="305" font-size="7.6" text-anchor="start" font-family="Liberation Sans, sans-serif" font-weight="bold" fill="#111" stroke="#111" stroke-width="0.25" >Ni<tspan font-size="5" dy="-3">4+</tspan></text>
<rect x="320.4" y="297.3" width="16.9" height="8.8" fill="#f8d6f4" stroke="#f09ae6" stroke-width="0.9"/>
<text x="340" y="305" font-size="7.6" text-anchor="start" font-family="Liberation Sans, sans-serif" font-weight="bold" fill="#111" stroke="#111" stroke-width="0.25" >Ni<tspan font-size="5" dy="-3">3+</tspan></text>
<rect x="360.7" y="297.3" width="16.9" height="8.8" fill="#cdeef0" stroke="#6fd0da" stroke-width="0.9"/>
<text x="380.3" y="305" font-size="7.6" text-anchor="start" font-family="Liberation Sans, sans-serif" font-weight="bold" fill="#111" stroke="#111" stroke-width="0.25" >Ni<tspan font-size="5" dy="-3">2+</tspan></text>
<rect x="441.2" y="298.1" width="30.6" height="13.2" fill="#111"/>
<rect x="438.6" y="295.5" width="30.6" height="13.2" fill="#fff" stroke="#555" stroke-width="0.6"/>

<text x="439.6" y="304.6" font-size="8.6" text-anchor="start" font-family="Liberation Sans, sans-serif" font-weight="bold" fill="#111" stroke="#111" stroke-width="0.25" >Ni 2p<tspan font-size="6" dy="2.2">3/2</tspan></text>
<rect x="276.2" y="289.2" width="200.8" height="227.3" fill="none" stroke="#111" stroke-width="1.9"/>
<line x1="290.5" y1="516.5" x2="290.5" y2="519.5" stroke="#111" stroke-width="1.3"/>
<line x1="347.9" y1="516.5" x2="347.9" y2="519.5" stroke="#111" stroke-width="1.3"/>
<line x1="405.3" y1="516.5" x2="405.3" y2="519.5" stroke="#111" stroke-width="1.3"/>
<line x1="462.7" y1="516.5" x2="462.7" y2="519.5" stroke="#111" stroke-width="1.3"/>
<line x1="319.2" y1="516.5" x2="319.2" y2="518.5" stroke="#111" stroke-width="1.3"/>
<line x1="376.6" y1="516.5" x2="376.6" y2="518.5" stroke="#111" stroke-width="1.3"/>
<line x1="434" y1="516.5" x2="434" y2="518.5" stroke="#111" stroke-width="1.3"/>
<text x="290.5" y="530.1" font-size="10.2" text-anchor="middle" font-family="Liberation Sans, sans-serif" font-weight="bold" fill="#111">864</text>
<text x="347.9" y="530.1" font-size="10.2" text-anchor="middle" font-family="Liberation Sans, sans-serif" font-weight="bold" fill="#111">860</text>
<text x="405.3" y="530.1" font-size="10.2" text-anchor="middle" font-family="Liberation Sans, sans-serif" font-weight="bold" fill="#111">856</text>
<text x="462.7" y="530.1" font-size="10.2" text-anchor="middle" font-family="Liberation Sans, sans-serif" font-weight="bold" fill="#111">852</text>
<text x="376.6" y="542.5" font-size="11.2" text-anchor="middle" font-family="Liberation Sans, sans-serif" font-weight="bold" fill="#111" stroke="#111" stroke-width="0" >Binding energy (eV)</text>
<text transform="translate(269,402.9) rotate(-90)" font-size="11.6" text-anchor="middle" font-family="Liberation Sans, sans-serif" font-weight="bold" fill="#111" stroke="#111" stroke-width="0">Intensity (a.u.)</text>
</svg>
</body></html>
